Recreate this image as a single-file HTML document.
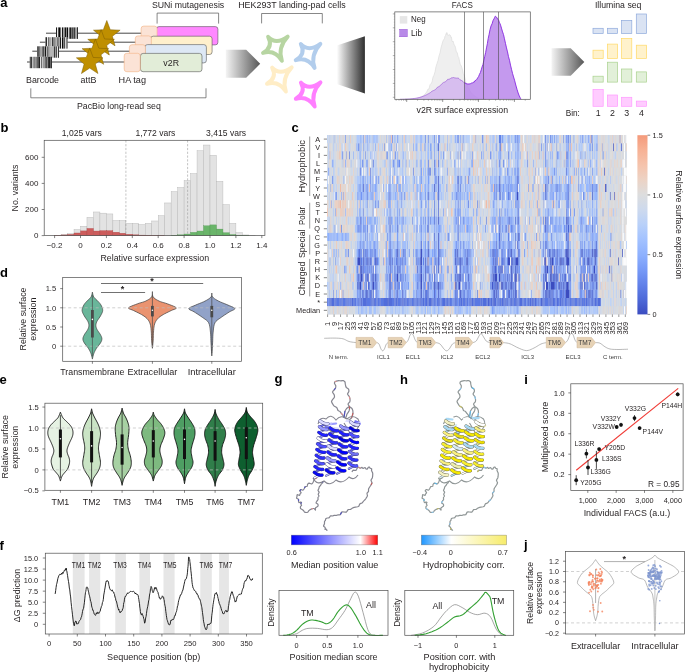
<!DOCTYPE html>
<html><head><meta charset="utf-8"><title>Figure</title>
<style>
html,body{margin:0;padding:0;background:#fff;width:685px;height:672px;overflow:hidden}
svg{display:block;font-family:"Liberation Sans", Arial, sans-serif;font-size:8.8px;fill:#231f20}
</style></head><body>
<svg width="685" height="672" viewBox="0 0 685 672">
<defs><linearGradient id="ga1" x1="0" x2="1" y1="0" y2="0"><stop offset="0" stop-color="#f4f4f4"/><stop offset="1" stop-color="#575757"/></linearGradient><linearGradient id="ga2" x1="0" x2="1" y1="0" y2="0"><stop offset="0" stop-color="#ffffff"/><stop offset="1" stop-color="#2e2e2e"/></linearGradient></defs>
<text x="0.2" y="6.8" font-weight="bold" font-size="13" fill="#000">a</text>
<line x1="46" y1="33.2" x2="142.1" y2="33.2" stroke="#262626" stroke-width="0.85"/>
<line x1="39.9" y1="42.2" x2="136.3" y2="42.2" stroke="#262626" stroke-width="0.85"/>
<line x1="32.3" y1="51.2" x2="130.4" y2="51.2" stroke="#262626" stroke-width="0.85"/>
<line x1="27" y1="62" x2="125.2" y2="62" stroke="#262626" stroke-width="0.85"/>
<rect x="56" y="27.4" width="22" height="11.4" fill="#fff"/>
<rect x="56" y="27.4" width="1.1" height="11.4" fill="rgb(30,30,30)"/>
<rect x="58" y="27.4" width="0.7" height="11.4" fill="rgb(20,20,20)"/>
<rect x="58.9" y="27.4" width="1.1" height="11.4" fill="rgb(10,10,10)"/>
<rect x="60.4" y="27.4" width="0.7" height="11.4" fill="rgb(20,20,20)"/>
<rect x="62" y="27.4" width="1.3" height="11.4" fill="rgb(20,20,20)"/>
<rect x="63.7" y="27.4" width="0.7" height="11.4" fill="rgb(110,110,110)"/>
<rect x="64.6" y="27.4" width="1.6" height="11.4" fill="rgb(20,20,20)"/>
<rect x="66.6" y="27.4" width="1.6" height="11.4" fill="rgb(10,10,10)"/>
<rect x="69.1" y="27.4" width="0.7" height="11.4" fill="rgb(40,40,40)"/>
<rect x="70" y="27.4" width="1.6" height="11.4" fill="rgb(30,30,30)"/>
<rect x="72.2" y="27.4" width="1.3" height="11.4" fill="rgb(30,30,30)"/>
<rect x="73.7" y="27.4" width="1.6" height="11.4" fill="rgb(60,60,60)"/>
<rect x="75.7" y="27.4" width="0.7" height="11.4" fill="rgb(40,40,40)"/>
<rect x="77" y="27.4" width="0.7" height="11.4" fill="rgb(20,20,20)"/>
<rect x="77.2" y="27.4" width="0.8" height="11.4" fill="#222"/>
<rect x="45.5" y="37.2" width="22" height="11.4" fill="#fff"/>
<rect x="45.5" y="37.2" width="1.6" height="11.4" fill="rgb(40,40,40)"/>
<rect x="48" y="37.2" width="1.6" height="11.4" fill="rgb(110,110,110)"/>
<rect x="50.2" y="37.2" width="1.3" height="11.4" fill="rgb(150,150,150)"/>
<rect x="52.1" y="37.2" width="1.1" height="11.4" fill="rgb(40,40,40)"/>
<rect x="53.6" y="37.2" width="0.9" height="11.4" fill="rgb(20,20,20)"/>
<rect x="55.1" y="37.2" width="1.6" height="11.4" fill="rgb(150,150,150)"/>
<rect x="57.3" y="37.2" width="1.3" height="11.4" fill="rgb(60,60,60)"/>
<rect x="58.8" y="37.2" width="0.7" height="11.4" fill="rgb(110,110,110)"/>
<rect x="59.9" y="37.2" width="1.1" height="11.4" fill="rgb(30,30,30)"/>
<rect x="61.9" y="37.2" width="1.3" height="11.4" fill="rgb(10,10,10)"/>
<rect x="63.4" y="37.2" width="1.6" height="11.4" fill="rgb(80,80,80)"/>
<rect x="65.6" y="37.2" width="1.1" height="11.4" fill="rgb(150,150,150)"/>
<rect x="66.7" y="37.2" width="0.8" height="11.4" fill="#222"/>
<rect x="37" y="46.3" width="22" height="11.4" fill="#fff"/>
<rect x="37" y="46.3" width="0.7" height="11.4" fill="rgb(20,20,20)"/>
<rect x="38.3" y="46.3" width="1.3" height="11.4" fill="rgb(20,20,20)"/>
<rect x="39.8" y="46.3" width="1.1" height="11.4" fill="rgb(150,150,150)"/>
<rect x="41.5" y="46.3" width="1.3" height="11.4" fill="rgb(80,80,80)"/>
<rect x="43" y="46.3" width="1.3" height="11.4" fill="rgb(80,80,80)"/>
<rect x="44.7" y="46.3" width="1.6" height="11.4" fill="rgb(20,20,20)"/>
<rect x="47.2" y="46.3" width="0.7" height="11.4" fill="rgb(40,40,40)"/>
<rect x="48.5" y="46.3" width="0.9" height="11.4" fill="rgb(40,40,40)"/>
<rect x="50.3" y="46.3" width="1.3" height="11.4" fill="rgb(150,150,150)"/>
<rect x="51.8" y="46.3" width="0.9" height="11.4" fill="rgb(150,150,150)"/>
<rect x="53.6" y="46.3" width="1.6" height="11.4" fill="rgb(60,60,60)"/>
<rect x="55.6" y="46.3" width="1.3" height="11.4" fill="rgb(60,60,60)"/>
<rect x="57.8" y="46.3" width="1.1" height="11.4" fill="rgb(110,110,110)"/>
<rect x="58.2" y="46.3" width="0.8" height="11.4" fill="#222"/>
<rect x="29.8" y="56.8" width="22" height="11.4" fill="#fff"/>
<rect x="29.8" y="56.8" width="0.9" height="11.4" fill="rgb(20,20,20)"/>
<rect x="31.1" y="56.8" width="0.9" height="11.4" fill="rgb(40,40,40)"/>
<rect x="32.4" y="56.8" width="0.7" height="11.4" fill="rgb(150,150,150)"/>
<rect x="33.5" y="56.8" width="1.1" height="11.4" fill="rgb(60,60,60)"/>
<rect x="34.8" y="56.8" width="0.9" height="11.4" fill="rgb(110,110,110)"/>
<rect x="36.3" y="56.8" width="1.6" height="11.4" fill="rgb(80,80,80)"/>
<rect x="38.3" y="56.8" width="1.6" height="11.4" fill="rgb(10,10,10)"/>
<rect x="40.8" y="56.8" width="1.6" height="11.4" fill="rgb(110,110,110)"/>
<rect x="43.3" y="56.8" width="1.3" height="11.4" fill="rgb(110,110,110)"/>
<rect x="44.8" y="56.8" width="1.3" height="11.4" fill="rgb(110,110,110)"/>
<rect x="46.3" y="56.8" width="0.9" height="11.4" fill="rgb(20,20,20)"/>
<rect x="47.6" y="56.8" width="1.3" height="11.4" fill="rgb(30,30,30)"/>
<rect x="49.1" y="56.8" width="1.1" height="11.4" fill="rgb(10,10,10)"/>
<rect x="50.4" y="56.8" width="0.7" height="11.4" fill="rgb(30,30,30)"/>
<rect x="51.3" y="56.8" width="0.5" height="11.4" fill="rgb(10,10,10)"/>
<rect x="51" y="56.8" width="0.8" height="11.4" fill="#222"/>
<path d="M106.8,20.5 110.26,29.74 120.11,30.17 112.39,36.32 115.03,45.83 106.8,40.38 98.57,45.83 101.21,36.32 93.49,30.17 103.34,29.74Z" fill="#bf8f00" stroke="#7d5c00" stroke-width="0.5"/>
<path d="M101.1,29.7 104.56,38.94 114.41,39.37 106.69,45.52 109.33,55.03 101.1,49.58 92.87,55.03 95.51,45.52 87.79,39.37 97.64,38.94Z" fill="#bf8f00" stroke="#7d5c00" stroke-width="0.5"/>
<path d="M95.4,39 98.86,48.24 108.71,48.67 100.99,54.82 103.63,64.33 95.4,58.88 87.17,64.33 89.81,54.82 82.09,48.67 91.94,48.24Z" fill="#bf8f00" stroke="#7d5c00" stroke-width="0.5"/>
<path d="M89.7,48.2 93.16,57.44 103.01,57.87 95.29,64.02 97.93,73.53 89.7,68.08 81.47,73.53 84.11,64.02 76.39,57.87 86.24,57.44Z" fill="#bf8f00" stroke="#7d5c00" stroke-width="0.5"/>
<rect x="156.4" y="26.6" width="61.5" height="18.3" fill="#ff88ff" rx="2.6" stroke="#595959" stroke-width="0.6"/>
<rect x="141.1" y="26.1" width="16" height="18.4" fill="#fbe3d6" rx="2.6" stroke="#f4b183" stroke-width="0.6"/>
<rect x="150.6" y="36.2" width="61.5" height="18.3" fill="#fff0cc" rx="2.6" stroke="#595959" stroke-width="0.6"/>
<rect x="135.3" y="35.9" width="16" height="18.4" fill="#fbe3d6" rx="2.6" stroke="#f4b183" stroke-width="0.6"/>
<rect x="144.9" y="44.6" width="61.5" height="18.3" fill="#dde8f5" rx="2.6" stroke="#595959" stroke-width="0.6"/>
<rect x="129.4" y="44.7" width="16" height="18.4" fill="#fbe3d6" rx="2.6" stroke="#f4b183" stroke-width="0.6"/>
<rect x="140.5" y="53.4" width="61.5" height="18.3" fill="#e2edd8" rx="2.6" stroke="#595959" stroke-width="0.6"/>
<rect x="124.2" y="53.3" width="16" height="18.4" fill="#fbe3d6" rx="2.6" stroke="#f4b183" stroke-width="0.6"/>
<text x="171.2" y="66.2" text-anchor="middle">v2R</text>
<text x="26" y="83" textLength="33" lengthAdjust="spacingAndGlyphs">Barcode</text>
<text x="80.6" y="83" textLength="15.8" lengthAdjust="spacingAndGlyphs">attB</text>
<text x="118.6" y="83" textLength="27.4" lengthAdjust="spacingAndGlyphs">HA tag</text>
<path d="M157.1,23.6V13.1H218.6V23.6" fill="none" stroke="#555555" stroke-width="0.7"/>
<path d="M261.6,23.4V13.5H322.3V23.4" fill="none" stroke="#555555" stroke-width="0.7"/>
<path d="M30.8,88.3V97.8H206V88.3" fill="none" stroke="#555555" stroke-width="0.7"/>
<text x="151.9" y="8.4" textLength="72.3" lengthAdjust="spacingAndGlyphs">SUNi mutagenesis</text>
<text x="238.2" y="8.4" textLength="107.5" lengthAdjust="spacingAndGlyphs">HEK293T landing-pad cells</text>
<text x="118.9" y="108.6" text-anchor="middle" textLength="83.8" lengthAdjust="spacingAndGlyphs">PacBio long-read seq</text>
<path d="M225.8,49.8 246.2,49.8 260.2,63.8 246.2,77.8 225.8,77.8Z" fill="url(#ga1)"/>
<path d="M268.1,36.8Q275.98,45.26 287.7,36.6Q277.36,47.66 281.9,60.8Q274.89,49.3 263,53Q273.51,46.9 268.1,36.8Z" fill="none" stroke="#b7d5a2" stroke-width="3.9" stroke-linejoin="round"/>
<path d="M300.8,44Q308.68,52.46 320.4,43.8Q310.06,54.86 314.6,68Q307.59,56.5 295.7,60.2Q306.21,54.1 300.8,44Z" fill="none" stroke="#b2cdec" stroke-width="3.9" stroke-linejoin="round"/>
<path d="M272.1,67.6Q279.98,76.06 291.7,67.4Q281.36,78.46 285.9,91.6Q278.89,80.1 267,83.8Q277.51,77.7 272.1,67.6Z" fill="none" stroke="#ffedc6" stroke-width="3.9" stroke-linejoin="round"/>
<path d="M300.9,82.6Q308.78,91.06 320.5,82.4Q310.16,93.46 314.7,106.6Q307.69,95.1 295.8,98.8Q306.31,92.7 300.9,82.6Z" fill="none" stroke="#ff7fff" stroke-width="3.9" stroke-linejoin="round"/>
<path d="M336.8,45.6 364.9,36.2 364.9,93.5 336.8,84.1Z" fill="url(#ga2)"/>
<text x="462.3" y="8.4" text-anchor="middle" textLength="21" lengthAdjust="spacingAndGlyphs">FACS</text>
<path d="M405,99.3 406.89,99.2 409.62,99.05 412.55,98.85 415,98.6 416.8,98.32 418.31,98.01 419.66,97.59 421,97 422.34,96.24 423.62,95.34 424.84,94.27 426,92.9 427.07,91.23 428.06,89 429.02,89.05 430,84.72 431,83.63 432,82.04 433,77.04 434,75.14 435,71.83 436,66.56 437,63.53 438,60.53 439.02,55.98 440.06,52.71 441.07,47.44 442,44.32 442.85,41.16 443.64,39.74 444.36,38.75 445,36.24 445.54,35.53 445.98,33.76 446.39,34.3 446.8,32.46 447.23,33.18 447.64,34.77 448.06,35.59 448.5,35.3 448.98,34.55 449.48,34.96 449.99,34.84 450.5,35.43 450.99,37.71 451.47,37.37 451.96,40.58 452.5,41.99 453.08,41.2 453.69,43.43 454.33,45.24 455,45.76 455.71,48.82 456.47,52.31 457.24,52.6 458,56.25 458.75,57.44 459.5,61.14 460.25,64.5 461,65.23 461.75,67.24 462.5,69.98 463.25,73.67 464,74.75 464.75,77.31 465.5,80.74 466.25,84.08 467,84.79 467.73,86.48 468.44,88.64 469.18,88.62 470,91 470.91,92.27 471.88,93.45 472.91,94.53 474,95.5 475.13,96.36 476.31,97.12 477.59,97.77 479,98.3 480.77,98.7 482.81,98.97 484.7,99.16 486,99.3Z" fill="#efefef" stroke="#d8d8d8" stroke-width="0.6"/>
<clipPath id="clL"><rect x="390" y="0" width="74.3" height="100"/></clipPath>
<clipPath id="clR"><rect x="464.3" y="0" width="65" height="100"/></clipPath>
<path d="M400,99.3 401.84,99.24 404.5,99.17 407.41,99.06 410,98.9 412.16,98.7 414.19,98.47 416.12,98.18 418,97.8 419.82,97.35 421.56,96.83 423.27,96.22 425,95.5 426.75,94.64 428.5,93.67 430.25,92.69 432,91.17 433.77,90.43 435.56,89.52 437.32,87.33 439,86.56 440.59,85.31 442.12,83.52 443.59,82.38 445,81.99 446.34,81.05 447.62,79.35 448.84,79.25 450,78.95 451.07,77.87 452.06,78.04 453.02,77.38 454,77.67 455,77.97 456,77.94 457,78.28 458,77.89 459,78.62 460,79.77 461,80.19 462,80.75 463.02,81.43 464.06,82.81 465.07,83.13 466,83.12 466.81,84.22 467.53,83.92 468.24,84.07 469,83.81 469.84,83.93 470.72,83.59 471.61,83.03 472.5,83.13 473.38,82.05 474.25,82.06 475.12,80.5 476,80.28 476.88,79.23 477.75,77.72 478.62,76.49 479.5,74.25 480.38,72.59 481.25,69.83 482.12,66.86 483,64.46 483.88,60.33 484.75,56.34 485.62,52.63 486.5,47.87 487.36,43.66 488.22,38.39 489.09,34.43 490,29.76 491.02,25.99 492.12,23.71 493.16,20.21 494,18.95 494.54,17.79 494.88,16.93 495.15,16.27 495.5,16.36 495.95,16.61 496.44,17.09 496.95,17.84 497.5,18.97 498.07,19.33 498.66,20.31 499.29,22.21 500,23.64 500.79,25.81 501.66,28.84 502.57,31.9 503.5,34.57 504.46,38.78 505.47,43.33 506.49,47.87 507.5,51.88 508.5,56.68 509.5,60.29 510.5,65.11 511.5,69.27 512.52,73.39 513.56,76.93 514.57,80.25 515.5,84 516.33,86.96 517.09,89.61 517.81,91.95 518.5,94 519.22,95.78 519.94,97.28 520.56,98.46 521,99.3Z" fill="#c9a3ee" clip-path="url(#clL)" fill-opacity="0.65"/>
<path d="M400,99.3 401.84,99.24 404.5,99.17 407.41,99.06 410,98.9 412.16,98.7 414.19,98.47 416.12,98.18 418,97.8 419.82,97.35 421.56,96.83 423.27,96.22 425,95.5 426.75,94.64 428.5,93.67 430.25,92.69 432,91.17 433.77,90.43 435.56,89.52 437.32,87.33 439,86.56 440.59,85.31 442.12,83.52 443.59,82.38 445,81.99 446.34,81.05 447.62,79.35 448.84,79.25 450,78.95 451.07,77.87 452.06,78.04 453.02,77.38 454,77.67 455,77.97 456,77.94 457,78.28 458,77.89 459,78.62 460,79.77 461,80.19 462,80.75 463.02,81.43 464.06,82.81 465.07,83.13 466,83.12 466.81,84.22 467.53,83.92 468.24,84.07 469,83.81 469.84,83.93 470.72,83.59 471.61,83.03 472.5,83.13 473.38,82.05 474.25,82.06 475.12,80.5 476,80.28 476.88,79.23 477.75,77.72 478.62,76.49 479.5,74.25 480.38,72.59 481.25,69.83 482.12,66.86 483,64.46 483.88,60.33 484.75,56.34 485.62,52.63 486.5,47.87 487.36,43.66 488.22,38.39 489.09,34.43 490,29.76 491.02,25.99 492.12,23.71 493.16,20.21 494,18.95 494.54,17.79 494.88,16.93 495.15,16.27 495.5,16.36 495.95,16.61 496.44,17.09 496.95,17.84 497.5,18.97 498.07,19.33 498.66,20.31 499.29,22.21 500,23.64 500.79,25.81 501.66,28.84 502.57,31.9 503.5,34.57 504.46,38.78 505.47,43.33 506.49,47.87 507.5,51.88 508.5,56.68 509.5,60.29 510.5,65.11 511.5,69.27 512.52,73.39 513.56,76.93 514.57,80.25 515.5,84 516.33,86.96 517.09,89.61 517.81,91.95 518.5,94 519.22,95.78 519.94,97.28 520.56,98.46 521,99.3Z" fill="#b782ea" clip-path="url(#clR)" fill-opacity="0.82"/>
<path d="M400,99.3 401.84,99.24 404.5,99.17 407.41,99.06 410,98.9 412.16,98.7 414.19,98.47 416.12,98.18 418,97.8 419.82,97.35 421.56,96.83 423.27,96.22 425,95.5 426.75,94.64 428.5,93.67 430.25,92.69 432,91.17 433.77,90.43 435.56,89.52 437.32,87.33 439,86.56 440.59,85.31 442.12,83.52 443.59,82.38 445,81.99 446.34,81.05 447.62,79.35 448.84,79.25 450,78.95 451.07,77.87 452.06,78.04 453.02,77.38 454,77.67 455,77.97 456,77.94 457,78.28 458,77.89 459,78.62 460,79.77 461,80.19 462,80.75 463.02,81.43 464.06,82.81 465.07,83.13 466,83.12 466.81,84.22 467.53,83.92 468.24,84.07 469,83.81 469.84,83.93 470.72,83.59 471.61,83.03 472.5,83.13 473.38,82.05 474.25,82.06 475.12,80.5 476,80.28 476.88,79.23 477.75,77.72 478.62,76.49 479.5,74.25 480.38,72.59 481.25,69.83 482.12,66.86 483,64.46 483.88,60.33 484.75,56.34 485.62,52.63 486.5,47.87 487.36,43.66 488.22,38.39 489.09,34.43 490,29.76 491.02,25.99 492.12,23.71 493.16,20.21 494,18.95 494.54,17.79 494.88,16.93 495.15,16.27 495.5,16.36 495.95,16.61 496.44,17.09 496.95,17.84 497.5,18.97 498.07,19.33 498.66,20.31 499.29,22.21 500,23.64 500.79,25.81 501.66,28.84 502.57,31.9 503.5,34.57 504.46,38.78 505.47,43.33 506.49,47.87 507.5,51.88 508.5,56.68 509.5,60.29 510.5,65.11 511.5,69.27 512.52,73.39 513.56,76.93 514.57,80.25 515.5,84 516.33,86.96 517.09,89.61 517.81,91.95 518.5,94 519.22,95.78 519.94,97.28 520.56,98.46 521,99.3" fill="none" stroke="#8a3fd1" stroke-width="0.5" clip-path="url(#clL)"/>
<path d="M400,99.3 401.84,99.24 404.5,99.17 407.41,99.06 410,98.9 412.16,98.7 414.19,98.47 416.12,98.18 418,97.8 419.82,97.35 421.56,96.83 423.27,96.22 425,95.5 426.75,94.64 428.5,93.67 430.25,92.69 432,91.17 433.77,90.43 435.56,89.52 437.32,87.33 439,86.56 440.59,85.31 442.12,83.52 443.59,82.38 445,81.99 446.34,81.05 447.62,79.35 448.84,79.25 450,78.95 451.07,77.87 452.06,78.04 453.02,77.38 454,77.67 455,77.97 456,77.94 457,78.28 458,77.89 459,78.62 460,79.77 461,80.19 462,80.75 463.02,81.43 464.06,82.81 465.07,83.13 466,83.12 466.81,84.22 467.53,83.92 468.24,84.07 469,83.81 469.84,83.93 470.72,83.59 471.61,83.03 472.5,83.13 473.38,82.05 474.25,82.06 475.12,80.5 476,80.28 476.88,79.23 477.75,77.72 478.62,76.49 479.5,74.25 480.38,72.59 481.25,69.83 482.12,66.86 483,64.46 483.88,60.33 484.75,56.34 485.62,52.63 486.5,47.87 487.36,43.66 488.22,38.39 489.09,34.43 490,29.76 491.02,25.99 492.12,23.71 493.16,20.21 494,18.95 494.54,17.79 494.88,16.93 495.15,16.27 495.5,16.36 495.95,16.61 496.44,17.09 496.95,17.84 497.5,18.97 498.07,19.33 498.66,20.31 499.29,22.21 500,23.64 500.79,25.81 501.66,28.84 502.57,31.9 503.5,34.57 504.46,38.78 505.47,43.33 506.49,47.87 507.5,51.88 508.5,56.68 509.5,60.29 510.5,65.11 511.5,69.27 512.52,73.39 513.56,76.93 514.57,80.25 515.5,84 516.33,86.96 517.09,89.61 517.81,91.95 518.5,94 519.22,95.78 519.94,97.28 520.56,98.46 521,99.3" fill="none" stroke="#8628df" stroke-width="0.9" clip-path="url(#clR)"/>
<line x1="464.5" y1="11.9" x2="464.5" y2="99.3" stroke="#4a4a4a" stroke-width="0.6"/>
<line x1="483.5" y1="11.9" x2="483.5" y2="99.3" stroke="#4a4a4a" stroke-width="0.6"/>
<line x1="498.5" y1="11.9" x2="498.5" y2="99.3" stroke="#4a4a4a" stroke-width="0.6"/>
<rect x="394.8" y="11.9" width="135.5" height="87.4" fill="none" stroke="#555555" stroke-width="0.7"/>
<line x1="406.7" y1="99.3" x2="406.7" y2="101.9" stroke="#444" stroke-width="0.6"/>
<line x1="442.7" y1="99.3" x2="442.7" y2="101.9" stroke="#444" stroke-width="0.6"/>
<line x1="478.4" y1="99.3" x2="478.4" y2="101.9" stroke="#444" stroke-width="0.6"/>
<line x1="514.4" y1="99.3" x2="514.4" y2="101.9" stroke="#444" stroke-width="0.6"/>
<line x1="396.16" y1="99.3" x2="396.16" y2="100.7" stroke="#666" stroke-width="0.5"/>
<line x1="399.01" y1="99.3" x2="399.01" y2="100.7" stroke="#666" stroke-width="0.5"/>
<line x1="401.42" y1="99.3" x2="401.42" y2="100.7" stroke="#666" stroke-width="0.5"/>
<line x1="403.51" y1="99.3" x2="403.51" y2="100.7" stroke="#666" stroke-width="0.5"/>
<line x1="405.35" y1="99.3" x2="405.35" y2="100.7" stroke="#666" stroke-width="0.5"/>
<line x1="417.54" y1="99.3" x2="417.54" y2="100.7" stroke="#666" stroke-width="0.5"/>
<line x1="423.88" y1="99.3" x2="423.88" y2="100.7" stroke="#666" stroke-width="0.5"/>
<line x1="428.37" y1="99.3" x2="428.37" y2="100.7" stroke="#666" stroke-width="0.5"/>
<line x1="431.86" y1="99.3" x2="431.86" y2="100.7" stroke="#666" stroke-width="0.5"/>
<line x1="434.71" y1="99.3" x2="434.71" y2="100.7" stroke="#666" stroke-width="0.5"/>
<line x1="437.12" y1="99.3" x2="437.12" y2="100.7" stroke="#666" stroke-width="0.5"/>
<line x1="439.21" y1="99.3" x2="439.21" y2="100.7" stroke="#666" stroke-width="0.5"/>
<line x1="441.05" y1="99.3" x2="441.05" y2="100.7" stroke="#666" stroke-width="0.5"/>
<line x1="453.54" y1="99.3" x2="453.54" y2="100.7" stroke="#666" stroke-width="0.5"/>
<line x1="459.88" y1="99.3" x2="459.88" y2="100.7" stroke="#666" stroke-width="0.5"/>
<line x1="464.37" y1="99.3" x2="464.37" y2="100.7" stroke="#666" stroke-width="0.5"/>
<line x1="467.86" y1="99.3" x2="467.86" y2="100.7" stroke="#666" stroke-width="0.5"/>
<line x1="470.71" y1="99.3" x2="470.71" y2="100.7" stroke="#666" stroke-width="0.5"/>
<line x1="473.12" y1="99.3" x2="473.12" y2="100.7" stroke="#666" stroke-width="0.5"/>
<line x1="475.21" y1="99.3" x2="475.21" y2="100.7" stroke="#666" stroke-width="0.5"/>
<line x1="477.05" y1="99.3" x2="477.05" y2="100.7" stroke="#666" stroke-width="0.5"/>
<line x1="489.24" y1="99.3" x2="489.24" y2="100.7" stroke="#666" stroke-width="0.5"/>
<line x1="495.58" y1="99.3" x2="495.58" y2="100.7" stroke="#666" stroke-width="0.5"/>
<line x1="500.07" y1="99.3" x2="500.07" y2="100.7" stroke="#666" stroke-width="0.5"/>
<line x1="503.56" y1="99.3" x2="503.56" y2="100.7" stroke="#666" stroke-width="0.5"/>
<line x1="506.41" y1="99.3" x2="506.41" y2="100.7" stroke="#666" stroke-width="0.5"/>
<line x1="508.82" y1="99.3" x2="508.82" y2="100.7" stroke="#666" stroke-width="0.5"/>
<line x1="510.91" y1="99.3" x2="510.91" y2="100.7" stroke="#666" stroke-width="0.5"/>
<line x1="512.75" y1="99.3" x2="512.75" y2="100.7" stroke="#666" stroke-width="0.5"/>
<line x1="525.24" y1="99.3" x2="525.24" y2="100.7" stroke="#666" stroke-width="0.5"/>
<line x1="392.8" y1="97.3" x2="394.8" y2="97.3" stroke="#666" stroke-width="0.5"/>
<line x1="393.8" y1="94.52" x2="394.8" y2="94.52" stroke="#888" stroke-width="0.4"/>
<line x1="393.8" y1="91.74" x2="394.8" y2="91.74" stroke="#888" stroke-width="0.4"/>
<line x1="393.8" y1="88.96" x2="394.8" y2="88.96" stroke="#888" stroke-width="0.4"/>
<line x1="393.8" y1="86.18" x2="394.8" y2="86.18" stroke="#888" stroke-width="0.4"/>
<line x1="392.8" y1="83.4" x2="394.8" y2="83.4" stroke="#666" stroke-width="0.5"/>
<line x1="393.8" y1="80.62" x2="394.8" y2="80.62" stroke="#888" stroke-width="0.4"/>
<line x1="393.8" y1="77.84" x2="394.8" y2="77.84" stroke="#888" stroke-width="0.4"/>
<line x1="393.8" y1="75.06" x2="394.8" y2="75.06" stroke="#888" stroke-width="0.4"/>
<line x1="393.8" y1="72.28" x2="394.8" y2="72.28" stroke="#888" stroke-width="0.4"/>
<line x1="392.8" y1="69.5" x2="394.8" y2="69.5" stroke="#666" stroke-width="0.5"/>
<line x1="393.8" y1="66.72" x2="394.8" y2="66.72" stroke="#888" stroke-width="0.4"/>
<line x1="393.8" y1="63.94" x2="394.8" y2="63.94" stroke="#888" stroke-width="0.4"/>
<line x1="393.8" y1="61.16" x2="394.8" y2="61.16" stroke="#888" stroke-width="0.4"/>
<line x1="393.8" y1="58.38" x2="394.8" y2="58.38" stroke="#888" stroke-width="0.4"/>
<line x1="392.8" y1="55.6" x2="394.8" y2="55.6" stroke="#666" stroke-width="0.5"/>
<line x1="393.8" y1="52.82" x2="394.8" y2="52.82" stroke="#888" stroke-width="0.4"/>
<line x1="393.8" y1="50.04" x2="394.8" y2="50.04" stroke="#888" stroke-width="0.4"/>
<line x1="393.8" y1="47.26" x2="394.8" y2="47.26" stroke="#888" stroke-width="0.4"/>
<line x1="393.8" y1="44.48" x2="394.8" y2="44.48" stroke="#888" stroke-width="0.4"/>
<line x1="392.8" y1="41.7" x2="394.8" y2="41.7" stroke="#666" stroke-width="0.5"/>
<line x1="393.8" y1="38.92" x2="394.8" y2="38.92" stroke="#888" stroke-width="0.4"/>
<line x1="393.8" y1="36.14" x2="394.8" y2="36.14" stroke="#888" stroke-width="0.4"/>
<line x1="393.8" y1="33.36" x2="394.8" y2="33.36" stroke="#888" stroke-width="0.4"/>
<line x1="393.8" y1="30.58" x2="394.8" y2="30.58" stroke="#888" stroke-width="0.4"/>
<line x1="392.8" y1="27.8" x2="394.8" y2="27.8" stroke="#666" stroke-width="0.5"/>
<line x1="393.8" y1="25.02" x2="394.8" y2="25.02" stroke="#888" stroke-width="0.4"/>
<line x1="393.8" y1="22.24" x2="394.8" y2="22.24" stroke="#888" stroke-width="0.4"/>
<line x1="393.8" y1="19.46" x2="394.8" y2="19.46" stroke="#888" stroke-width="0.4"/>
<line x1="393.8" y1="16.68" x2="394.8" y2="16.68" stroke="#888" stroke-width="0.4"/>
<line x1="392.8" y1="13.9" x2="394.8" y2="13.9" stroke="#666" stroke-width="0.5"/>
<rect x="399.8" y="16.1" width="7.5" height="7.5" fill="#e6e6e6"/>
<text x="411" y="22.4" textLength="14.6" lengthAdjust="spacingAndGlyphs">Neg</text>
<rect x="399.8" y="29.3" width="7.5" height="7.5" fill="#b88ae8" stroke="#8a3fd1" stroke-width="0.4"/>
<text x="411" y="35.8" textLength="11" lengthAdjust="spacingAndGlyphs">Lib</text>
<text x="462.3" y="113.4" text-anchor="middle" textLength="91.5" lengthAdjust="spacingAndGlyphs">v2R surface expression</text>
<path d="M551.5,48.2 570.7,48.2 584.3,62 570.7,75.8 551.5,75.8Z" fill="url(#ga1)"/>
<text x="618.2" y="8.4" text-anchor="middle" textLength="46.5" lengthAdjust="spacingAndGlyphs">Illumina seq</text>
<rect x="593" y="28.3" width="10.2" height="5.2" fill="#dae3f3" stroke="#8faadc" stroke-width="0.7"/>
<rect x="607.4" y="28.3" width="10.2" height="5.2" fill="#dae3f3" stroke="#8faadc" stroke-width="0.7"/>
<rect x="621.6" y="20.4" width="10.2" height="13.1" fill="#dae3f3" stroke="#8faadc" stroke-width="0.7"/>
<rect x="636.3" y="14" width="10.2" height="19.5" fill="#dae3f3" stroke="#8faadc" stroke-width="0.7"/>
<rect x="593" y="50.2" width="10.2" height="8.2" fill="#fff2cc" stroke="#ffd966" stroke-width="0.7"/>
<rect x="607.4" y="44.1" width="10.2" height="14.3" fill="#fff2cc" stroke="#ffd966" stroke-width="0.7"/>
<rect x="621.6" y="38.5" width="10.2" height="19.9" fill="#fff2cc" stroke="#ffd966" stroke-width="0.7"/>
<rect x="636.3" y="45.2" width="10.2" height="13.2" fill="#fff2cc" stroke="#ffd966" stroke-width="0.7"/>
<rect x="593" y="76.2" width="10.2" height="5.9" fill="#e2f0d9" stroke="#a9d18e" stroke-width="0.7"/>
<rect x="607.4" y="62.2" width="10.2" height="19.9" fill="#e2f0d9" stroke="#a9d18e" stroke-width="0.7"/>
<rect x="621.6" y="69" width="10.2" height="13.1" fill="#e2f0d9" stroke="#a9d18e" stroke-width="0.7"/>
<rect x="636.3" y="71.9" width="10.2" height="10.2" fill="#e2f0d9" stroke="#a9d18e" stroke-width="0.7"/>
<rect x="593" y="89.4" width="10.2" height="16.9" fill="#ffccff" stroke="#ff99ff" stroke-width="0.7"/>
<rect x="607.4" y="95" width="10.2" height="11.3" fill="#ffccff" stroke="#ff99ff" stroke-width="0.7"/>
<rect x="621.6" y="97.3" width="10.2" height="9" fill="#ffccff" stroke="#ff99ff" stroke-width="0.7"/>
<rect x="636.3" y="101.1" width="10.2" height="5.2" fill="#ffccff" stroke="#ff99ff" stroke-width="0.7"/>
<text x="565.7" y="115.6" textLength="14.2" lengthAdjust="spacingAndGlyphs">Bin:</text>
<text x="598.1" y="115.6" text-anchor="middle">1</text>
<text x="612.5" y="115.6" text-anchor="middle">2</text>
<text x="626.7" y="115.6" text-anchor="middle">3</text>
<text x="641.4" y="115.6" text-anchor="middle">4</text>
<text x="0.6" y="132.2" font-weight="bold" font-size="13" fill="#000">b</text>
<rect x="54.6" y="235.21" width="6.47" height="0.39" fill="#e3e3e3" stroke="#b3b3b3" stroke-width="0.4"/>
<rect x="61.08" y="234.56" width="6.47" height="1.04" fill="#e3e3e3" stroke="#b3b3b3" stroke-width="0.4"/>
<rect x="67.55" y="233.64" width="6.47" height="1.96" fill="#e3e3e3" stroke="#b3b3b3" stroke-width="0.4"/>
<rect x="74.03" y="229.47" width="6.47" height="6.13" fill="#e3e3e3" stroke="#b3b3b3" stroke-width="0.4"/>
<rect x="80.5" y="226.2" width="6.47" height="9.4" fill="#e3e3e3" stroke="#b3b3b3" stroke-width="0.4"/>
<rect x="86.97" y="217.33" width="6.47" height="18.27" fill="#e3e3e3" stroke="#b3b3b3" stroke-width="0.4"/>
<rect x="93.45" y="211.98" width="6.47" height="23.62" fill="#e3e3e3" stroke="#b3b3b3" stroke-width="0.4"/>
<rect x="99.92" y="213.15" width="6.47" height="22.45" fill="#e3e3e3" stroke="#b3b3b3" stroke-width="0.4"/>
<rect x="106.4" y="213.94" width="6.47" height="21.66" fill="#e3e3e3" stroke="#b3b3b3" stroke-width="0.4"/>
<rect x="112.88" y="220.46" width="6.47" height="15.14" fill="#e3e3e3" stroke="#b3b3b3" stroke-width="0.4"/>
<rect x="119.35" y="220.46" width="6.47" height="15.14" fill="#e3e3e3" stroke="#b3b3b3" stroke-width="0.4"/>
<rect x="125.82" y="223.33" width="6.47" height="12.27" fill="#e3e3e3" stroke="#b3b3b3" stroke-width="0.4"/>
<rect x="132.3" y="223.33" width="6.47" height="12.27" fill="#e3e3e3" stroke="#b3b3b3" stroke-width="0.4"/>
<rect x="138.78" y="224.64" width="6.47" height="10.96" fill="#e3e3e3" stroke="#b3b3b3" stroke-width="0.4"/>
<rect x="145.25" y="223.33" width="6.47" height="12.27" fill="#e3e3e3" stroke="#b3b3b3" stroke-width="0.4"/>
<rect x="151.73" y="220.98" width="6.47" height="14.62" fill="#e3e3e3" stroke="#b3b3b3" stroke-width="0.4"/>
<rect x="158.2" y="215.63" width="6.47" height="19.97" fill="#e3e3e3" stroke="#b3b3b3" stroke-width="0.4"/>
<rect x="164.68" y="202.97" width="6.47" height="32.62" fill="#e3e3e3" stroke="#b3b3b3" stroke-width="0.4"/>
<rect x="171.15" y="191.62" width="6.47" height="43.98" fill="#e3e3e3" stroke="#b3b3b3" stroke-width="0.4"/>
<rect x="177.62" y="187.45" width="6.47" height="48.15" fill="#e3e3e3" stroke="#b3b3b3" stroke-width="0.4"/>
<rect x="184.1" y="180.53" width="6.47" height="55.07" fill="#e3e3e3" stroke="#b3b3b3" stroke-width="0.4"/>
<rect x="190.57" y="173.61" width="6.47" height="61.99" fill="#e3e3e3" stroke="#b3b3b3" stroke-width="0.4"/>
<rect x="197.05" y="150.77" width="6.47" height="84.83" fill="#e3e3e3" stroke="#b3b3b3" stroke-width="0.4"/>
<rect x="203.52" y="145.03" width="6.47" height="90.57" fill="#e3e3e3" stroke="#b3b3b3" stroke-width="0.4"/>
<rect x="210" y="155.21" width="6.47" height="80.39" fill="#e3e3e3" stroke="#b3b3b3" stroke-width="0.4"/>
<rect x="216.47" y="181.31" width="6.47" height="54.29" fill="#e3e3e3" stroke="#b3b3b3" stroke-width="0.4"/>
<rect x="222.95" y="204.67" width="6.47" height="30.93" fill="#e3e3e3" stroke="#b3b3b3" stroke-width="0.4"/>
<rect x="229.42" y="223.33" width="6.47" height="12.27" fill="#e3e3e3" stroke="#b3b3b3" stroke-width="0.4"/>
<rect x="235.9" y="232.73" width="6.47" height="2.87" fill="#e3e3e3" stroke="#b3b3b3" stroke-width="0.4"/>
<rect x="242.38" y="234.95" width="6.47" height="0.65" fill="#e3e3e3" stroke="#b3b3b3" stroke-width="0.4"/>
<rect x="248.85" y="235.21" width="6.47" height="0.39" fill="#e3e3e3" stroke="#b3b3b3" stroke-width="0.4"/>
<rect x="54.6" y="235.34" width="6.47" height="0.26" fill="#cd5c5c" stroke="#a94444" stroke-width="0.3"/>
<rect x="61.08" y="234.95" width="6.47" height="0.65" fill="#cd5c5c" stroke="#a94444" stroke-width="0.3"/>
<rect x="67.55" y="234.43" width="6.47" height="1.17" fill="#cd5c5c" stroke="#a94444" stroke-width="0.3"/>
<rect x="74.03" y="232.99" width="6.47" height="2.61" fill="#cd5c5c" stroke="#a94444" stroke-width="0.3"/>
<rect x="80.5" y="230.9" width="6.47" height="4.7" fill="#cd5c5c" stroke="#a94444" stroke-width="0.3"/>
<rect x="86.97" y="228.42" width="6.47" height="7.18" fill="#cd5c5c" stroke="#a94444" stroke-width="0.3"/>
<rect x="93.45" y="231.03" width="6.47" height="4.57" fill="#cd5c5c" stroke="#a94444" stroke-width="0.3"/>
<rect x="99.92" y="230.64" width="6.47" height="4.96" fill="#cd5c5c" stroke="#a94444" stroke-width="0.3"/>
<rect x="106.4" y="230.64" width="6.47" height="4.96" fill="#cd5c5c" stroke="#a94444" stroke-width="0.3"/>
<rect x="112.88" y="232.21" width="6.47" height="3.39" fill="#cd5c5c" stroke="#a94444" stroke-width="0.3"/>
<rect x="119.35" y="233.25" width="6.47" height="2.35" fill="#cd5c5c" stroke="#a94444" stroke-width="0.3"/>
<rect x="125.82" y="234.29" width="6.47" height="1.31" fill="#cd5c5c" stroke="#a94444" stroke-width="0.3"/>
<rect x="132.3" y="234.82" width="6.47" height="0.78" fill="#cd5c5c" stroke="#a94444" stroke-width="0.3"/>
<rect x="138.78" y="235.08" width="6.47" height="0.52" fill="#cd5c5c" stroke="#a94444" stroke-width="0.3"/>
<rect x="145.25" y="235.21" width="6.47" height="0.39" fill="#cd5c5c" stroke="#a94444" stroke-width="0.3"/>
<rect x="151.73" y="235.34" width="6.47" height="0.26" fill="#cd5c5c" stroke="#a94444" stroke-width="0.3"/>
<rect x="158.2" y="235.34" width="6.47" height="0.26" fill="#cd5c5c" stroke="#a94444" stroke-width="0.3"/>
<rect x="171.15" y="235.21" width="6.47" height="0.39" fill="#6ab56a" stroke="#4d944d" stroke-width="0.3"/>
<rect x="177.62" y="234.82" width="6.47" height="0.78" fill="#6ab56a" stroke="#4d944d" stroke-width="0.3"/>
<rect x="184.1" y="234.03" width="6.47" height="1.57" fill="#6ab56a" stroke="#4d944d" stroke-width="0.3"/>
<rect x="190.57" y="232.34" width="6.47" height="3.26" fill="#6ab56a" stroke="#4d944d" stroke-width="0.3"/>
<rect x="197.05" y="231.03" width="6.47" height="4.57" fill="#6ab56a" stroke="#4d944d" stroke-width="0.3"/>
<rect x="203.52" y="225.81" width="6.47" height="9.79" fill="#6ab56a" stroke="#4d944d" stroke-width="0.3"/>
<rect x="210" y="224.9" width="6.47" height="10.7" fill="#6ab56a" stroke="#4d944d" stroke-width="0.3"/>
<rect x="216.47" y="229.07" width="6.47" height="6.53" fill="#6ab56a" stroke="#4d944d" stroke-width="0.3"/>
<rect x="222.95" y="232.73" width="6.47" height="2.87" fill="#6ab56a" stroke="#4d944d" stroke-width="0.3"/>
<rect x="229.42" y="234.56" width="6.47" height="1.04" fill="#6ab56a" stroke="#4d944d" stroke-width="0.3"/>
<rect x="235.9" y="235.21" width="6.47" height="0.39" fill="#6ab56a" stroke="#4d944d" stroke-width="0.3"/>
<rect x="242.38" y="235.34" width="6.47" height="0.26" fill="#6ab56a" stroke="#4d944d" stroke-width="0.3"/>
<line x1="125.9" y1="140.3" x2="125.9" y2="235.6" stroke="#9a9a9a" stroke-width="0.6" stroke-dasharray="2.2,1.6"/>
<line x1="187.6" y1="140.3" x2="187.6" y2="235.6" stroke="#9a9a9a" stroke-width="0.6" stroke-dasharray="2.2,1.6"/>
<rect x="44.2" y="140.3" width="220.7" height="95.3" fill="none" stroke="#4d4d4d" stroke-width="0.7"/>
<line x1="41.7" y1="235.6" x2="44.2" y2="235.6" stroke="#333" stroke-width="0.6"/>
<text x="38.4" y="238.4" text-anchor="end" font-size="8">0</text>
<line x1="41.7" y1="209.5" x2="44.2" y2="209.5" stroke="#333" stroke-width="0.6"/>
<text x="38.4" y="212.3" text-anchor="end" font-size="8">200</text>
<line x1="41.7" y1="183.4" x2="44.2" y2="183.4" stroke="#333" stroke-width="0.6"/>
<text x="38.4" y="186.2" text-anchor="end" font-size="8">400</text>
<line x1="41.7" y1="157.3" x2="44.2" y2="157.3" stroke="#333" stroke-width="0.6"/>
<text x="38.4" y="160.1" text-anchor="end" font-size="8">600</text>
<line x1="54.6" y1="235.6" x2="54.6" y2="238.1" stroke="#333" stroke-width="0.6"/>
<text x="54.6" y="248.2" text-anchor="middle" font-size="8">−0.2</text>
<line x1="80.5" y1="235.6" x2="80.5" y2="238.1" stroke="#333" stroke-width="0.6"/>
<text x="80.5" y="248.2" text-anchor="middle" font-size="8">0</text>
<line x1="106.4" y1="235.6" x2="106.4" y2="238.1" stroke="#333" stroke-width="0.6"/>
<text x="106.4" y="248.2" text-anchor="middle" font-size="8">0.2</text>
<line x1="132.3" y1="235.6" x2="132.3" y2="238.1" stroke="#333" stroke-width="0.6"/>
<text x="132.3" y="248.2" text-anchor="middle" font-size="8">0.4</text>
<line x1="158.2" y1="235.6" x2="158.2" y2="238.1" stroke="#333" stroke-width="0.6"/>
<text x="158.2" y="248.2" text-anchor="middle" font-size="8">0.6</text>
<line x1="184.1" y1="235.6" x2="184.1" y2="238.1" stroke="#333" stroke-width="0.6"/>
<text x="184.1" y="248.2" text-anchor="middle" font-size="8">0.8</text>
<line x1="210" y1="235.6" x2="210" y2="238.1" stroke="#333" stroke-width="0.6"/>
<text x="210" y="248.2" text-anchor="middle" font-size="8">1.0</text>
<line x1="235.9" y1="235.6" x2="235.9" y2="238.1" stroke="#333" stroke-width="0.6"/>
<text x="235.9" y="248.2" text-anchor="middle" font-size="8">1.2</text>
<line x1="261.8" y1="235.6" x2="261.8" y2="238.1" stroke="#333" stroke-width="0.6"/>
<text x="261.8" y="248.2" text-anchor="middle" font-size="8">1.4</text>
<text x="100.4" y="261.2" textLength="108.8" lengthAdjust="spacingAndGlyphs">Relative surface expression</text>
<text x="18" y="188" text-anchor="middle" textLength="46.8" lengthAdjust="spacingAndGlyphs" transform="rotate(-90 18 188)">No. variants</text>
<text x="81.8" y="136.2" text-anchor="middle" textLength="40" lengthAdjust="spacingAndGlyphs">1,025 vars</text>
<text x="155.4" y="136.2" text-anchor="middle" textLength="40" lengthAdjust="spacingAndGlyphs">1,772 vars</text>
<text x="226.1" y="136.2" text-anchor="middle" textLength="40" lengthAdjust="spacingAndGlyphs">3,415 vars</text>
<text x="291.6" y="132.3" font-weight="bold" font-size="13" fill="#000">c</text>
<rect x="327.2" y="135" width="299.33" height="179.41" fill="#d3d6dd"/>
<g transform="translate(327.2,135) scale(0.81,8.15)"><path fill="#3b4cc0" d="M235,1h1v1h-1zM353,1h1v1h-1zM363,1h1v1h-1zM340,2h1v1h-1zM125,4h1v1h-1zM342,4h1v1h-1zM137,5h1v1h-1zM162,5h1v1h-1zM44,6h1v1h-1zM132,6h1v1h-1zM137,6h1v1h-1zM162,6h1v1h-1zM209,6h1v1h-1zM213,6h1v1h-1zM235,6h1v1h-1zM272,6h1v1h-1zM287,6h1v1h-1zM343,6h1v1h-1zM76,7h1v1h-1zM213,7h1v1h-1zM234,7h2v1h-2zM349,7h1v1h-1zM354,7h1v1h-1zM235,8h1v1h-1zM235,9h1v1h-1zM76,10h1v1h-1zM137,10h1v1h-1zM162,10h1v1h-1zM213,10h1v1h-1zM272,10h1v1h-1zM295,10h1v1h-1zM78,11h1v1h-1zM162,11h1v1h-1zM213,11h1v1h-1zM272,11h1v1h-1zM137,12h1v1h-1zM162,12h1v1h-1zM295,12h1v1h-1zM125,13h1v1h-1zM137,13h1v1h-1zM209,13h1v1h-1zM235,13h1v1h-1zM298,13h1v1h-1zM44,14h1v1h-1zM76,14h1v1h-1zM78,14h1v1h-1zM86,14h1v1h-1zM115,14h2v1h-2zM124,14h1v1h-1zM137,14h1v1h-1zM160,14h1v1h-1zM209,14h1v1h-1zM223,14h1v1h-1zM227,14h1v1h-1zM235,14h1v1h-1zM269,14h1v1h-1zM272,14h1v1h-1zM295,14h2v1h-2zM314,14h1v1h-1zM327,14h1v1h-1zM330,14h1v1h-1zM349,14h1v1h-1zM364,14h1v1h-1zM38,15h3v1h-3zM44,15h1v1h-1zM49,15h1v1h-1zM51,15h1v1h-1zM60,15h1v1h-1zM76,15h1v1h-1zM78,15h1v1h-1zM93,15h1v1h-1zM115,15h2v1h-2zM121,15h1v1h-1zM125,15h1v1h-1zM137,15h1v1h-1zM158,15h1v1h-1zM160,15h1v1h-1zM162,15h1v1h-1zM172,15h1v1h-1zM205,15h1v1h-1zM207,15h1v1h-1zM209,15h1v1h-1zM212,15h1v1h-1zM218,15h1v1h-1zM223,15h3v1h-3zM228,15h1v1h-1zM233,15h3v1h-3zM268,15h2v1h-2zM275,15h1v1h-1zM277,15h2v1h-2zM283,15h1v1h-1zM288,15h1v1h-1zM291,15h1v1h-1zM295,15h4v1h-4zM322,15h1v1h-1zM330,15h1v1h-1zM359,15h1v1h-1zM41,16h1v1h-1zM44,16h1v1h-1zM56,16h1v1h-1zM78,16h1v1h-1zM83,16h1v1h-1zM121,16h1v1h-1zM132,16h1v1h-1zM137,16h1v1h-1zM204,16h1v1h-1zM213,16h1v1h-1zM227,16h1v1h-1zM230,16h1v1h-1zM232,16h1v1h-1zM269,16h1v1h-1zM271,16h2v1h-2zM277,16h1v1h-1zM287,16h1v1h-1zM296,16h1v1h-1zM298,16h1v1h-1zM314,16h1v1h-1zM324,16h1v1h-1zM329,16h2v1h-2zM350,16h1v1h-1zM41,17h2v1h-2zM44,17h1v1h-1zM49,17h1v1h-1zM56,17h1v1h-1zM59,17h1v1h-1zM76,17h1v1h-1zM78,17h1v1h-1zM83,17h1v1h-1zM86,17h2v1h-2zM115,17h2v1h-2zM121,17h1v1h-1zM125,17h1v1h-1zM132,17h1v1h-1zM160,17h1v1h-1zM162,17h1v1h-1zM164,17h1v1h-1zM204,17h1v1h-1zM207,17h3v1h-3zM212,17h2v1h-2zM220,17h1v1h-1zM225,17h1v1h-1zM227,17h1v1h-1zM232,17h1v1h-1zM234,17h1v1h-1zM236,17h1v1h-1zM267,17h1v1h-1zM270,17h1v1h-1zM275,17h1v1h-1zM277,17h1v1h-1zM283,17h1v1h-1zM287,17h1v1h-1zM314,17h1v1h-1zM320,17h1v1h-1zM327,17h1v1h-1zM329,17h1v1h-1zM351,17h1v1h-1zM40,18h2v1h-2zM56,18h2v1h-2zM60,18h1v1h-1zM76,18h1v1h-1zM78,18h1v1h-1zM87,18h1v1h-1zM115,18h2v1h-2zM124,18h1v1h-1zM132,18h1v1h-1zM137,18h1v1h-1zM158,18h1v1h-1zM162,18h2v1h-2zM210,18h1v1h-1zM212,18h1v1h-1zM215,18h1v1h-1zM220,18h1v1h-1zM223,18h1v1h-1zM227,18h1v1h-1zM232,18h1v1h-1zM267,18h1v1h-1zM270,18h3v1h-3zM276,18h5v1h-5zM283,18h1v1h-1zM287,18h1v1h-1zM291,18h1v1h-1zM295,18h3v1h-3zM314,18h1v1h-1zM317,18h1v1h-1zM324,18h1v1h-1zM332,18h1v1h-1zM41,19h1v1h-1zM44,19h1v1h-1zM49,19h1v1h-1zM54,19h1v1h-1zM56,19h1v1h-1zM76,19h1v1h-1zM78,19h1v1h-1zM86,19h1v1h-1zM132,19h1v1h-1zM137,19h1v1h-1zM164,19h1v1h-1zM206,19h1v1h-1zM209,19h1v1h-1zM223,19h1v1h-1zM229,19h1v1h-1zM232,19h1v1h-1zM234,19h1v1h-1zM267,19h1v1h-1zM270,19h1v1h-1zM272,19h1v1h-1zM294,19h5v1h-5zM320,19h1v1h-1zM324,19h1v1h-1zM362,19h1v1h-1zM366,19h1v1h-1z"/><path fill="#4257ca" d="M235,0h1v1h-1zM361,0h1v1h-1zM137,1h1v1h-1zM272,1h1v1h-1zM269,6h1v1h-1zM324,6h1v1h-1zM125,7h1v1h-1zM327,7h1v1h-1zM162,8h1v1h-1zM56,9h1v1h-1zM340,9h1v1h-1zM41,10h1v1h-1zM236,10h1v1h-1zM76,11h1v1h-1zM223,11h1v1h-1zM269,11h1v1h-1zM235,12h1v1h-1zM232,13h1v1h-1zM125,14h1v1h-1zM158,14h1v1h-1zM274,14h1v1h-1zM283,14h1v1h-1zM298,14h1v1h-1zM331,14h1v1h-1zM59,15h1v1h-1zM110,15h1v1h-1zM123,15h1v1h-1zM134,15h1v1h-1zM164,15h1v1h-1zM173,15h1v1h-1zM287,15h1v1h-1zM313,15h1v1h-1zM317,15h1v1h-1zM321,15h1v1h-1zM324,15h1v1h-1zM331,15h1v1h-1zM42,16h1v1h-1zM86,16h1v1h-1zM93,16h1v1h-1zM134,16h1v1h-1zM164,16h1v1h-1zM215,16h2v1h-2zM276,16h1v1h-1zM348,16h1v1h-1zM167,17h1v1h-1zM174,17h1v1h-1zM205,17h1v1h-1zM231,17h1v1h-1zM269,17h1v1h-1zM276,17h1v1h-1zM279,17h1v1h-1zM292,17h1v1h-1zM331,17h1v1h-1zM37,18h1v1h-1zM45,18h1v1h-1zM136,18h1v1h-1zM171,18h1v1h-1zM203,18h2v1h-2zM207,18h1v1h-1zM209,18h1v1h-1zM216,18h1v1h-1zM268,18h1v1h-1zM286,18h1v1h-1zM289,18h1v1h-1zM83,19h1v1h-1zM116,19h1v1h-1zM121,19h1v1h-1zM124,19h1v1h-1zM208,19h1v1h-1zM218,19h1v1h-1zM274,19h1v1h-1zM283,19h1v1h-1zM291,19h1v1h-1z"/><path fill="#4a62d3" d="M224,0h1v1h-1zM297,0h1v1h-1zM209,1h1v1h-1zM137,3h1v1h-1zM235,4h1v1h-1zM234,5h1v1h-1zM277,5h1v1h-1zM212,6h1v1h-1zM277,6h1v1h-1zM344,6h1v1h-1zM137,7h1v1h-1zM267,7h1v1h-1zM137,8h1v1h-1zM44,9h1v1h-1zM137,9h1v1h-1zM78,10h1v1h-1zM93,10h1v1h-1zM134,10h1v1h-1zM232,10h1v1h-1zM267,10h1v1h-1zM269,10h1v1h-1zM297,11h2v1h-2zM327,11h1v1h-1zM132,12h1v1h-1zM236,12h1v1h-1zM350,12h1v1h-1zM212,13h1v1h-1zM332,13h1v1h-1zM49,14h1v1h-1zM56,14h1v1h-1zM87,14h1v1h-1zM173,14h1v1h-1zM176,14h1v1h-1zM204,14h1v1h-1zM278,14h1v1h-1zM294,14h1v1h-1zM297,14h1v1h-1zM324,14h1v1h-1zM329,14h1v1h-1zM332,14h1v1h-1zM37,15h1v1h-1zM53,15h1v1h-1zM80,15h1v1h-1zM232,15h1v1h-1zM289,15h1v1h-1zM111,16h1v1h-1zM115,16h2v1h-2zM124,16h1v1h-1zM159,16h1v1h-1zM207,16h2v1h-2zM218,16h1v1h-1zM234,16h1v1h-1zM280,16h1v1h-1zM283,16h1v1h-1zM38,17h1v1h-1zM51,17h1v1h-1zM57,17h1v1h-1zM158,17h1v1h-1zM163,17h1v1h-1zM222,17h1v1h-1zM233,17h1v1h-1zM280,17h1v1h-1zM282,17h1v1h-1zM312,17h1v1h-1zM317,17h1v1h-1zM326,17h1v1h-1zM48,18h1v1h-1zM134,18h1v1h-1zM139,18h1v1h-1zM159,18h1v1h-1zM214,18h1v1h-1zM225,18h1v1h-1zM230,18h1v1h-1zM233,18h1v1h-1zM274,18h1v1h-1zM293,18h1v1h-1zM298,18h1v1h-1zM315,18h1v1h-1zM48,19h1v1h-1zM93,19h1v1h-1zM115,19h1v1h-1zM160,19h1v1h-1zM269,19h1v1h-1zM276,19h1v1h-1zM278,19h1v1h-1zM323,19h1v1h-1zM327,19h1v1h-1zM4,20h1v1h-1zM42,20h1v1h-1zM58,20h1v1h-1zM74,20h2v1h-2zM93,20h1v1h-1zM114,20h1v1h-1zM129,20h1v1h-1zM176,20h1v1h-1zM198,20h2v1h-2zM205,20h2v1h-2zM219,20h1v1h-1zM229,20h1v1h-1zM253,20h1v1h-1zM264,20h2v1h-2zM276,20h1v1h-1z"/><path fill="#516ddb" d="M76,0h1v1h-1zM213,1h1v1h-1zM235,2h1v1h-1zM56,3h1v1h-1zM132,3h1v1h-1zM295,4h1v1h-1zM213,5h1v1h-1zM314,5h1v1h-1zM56,6h1v1h-1zM223,6h1v1h-1zM298,6h1v1h-1zM49,7h1v1h-1zM115,7h1v1h-1zM269,7h1v1h-1zM287,7h1v1h-1zM297,7h1v1h-1zM56,8h1v1h-1zM314,8h1v1h-1zM132,9h1v1h-1zM86,10h1v1h-1zM132,10h1v1h-1zM224,10h1v1h-1zM297,10h1v1h-1zM314,10h1v1h-1zM49,11h1v1h-1zM87,11h1v1h-1zM124,11h1v1h-1zM220,11h1v1h-1zM287,11h1v1h-1zM295,11h1v1h-1zM212,12h2v1h-2zM232,12h1v1h-1zM44,13h1v1h-1zM78,13h1v1h-1zM86,13h1v1h-1zM116,13h1v1h-1zM270,13h1v1h-1zM324,13h1v1h-1zM59,14h1v1h-1zM93,14h1v1h-1zM139,14h1v1h-1zM161,14h1v1h-1zM205,14h1v1h-1zM267,14h1v1h-1zM275,14h1v1h-1zM280,14h1v1h-1zM287,14h1v1h-1zM315,14h1v1h-1zM45,15h1v1h-1zM87,15h1v1h-1zM114,15h1v1h-1zM171,15h1v1h-1zM227,15h1v1h-1zM271,15h1v1h-1zM326,15h1v1h-1zM40,16h1v1h-1zM49,16h1v1h-1zM54,16h1v1h-1zM73,16h1v1h-1zM220,16h1v1h-1zM228,16h1v1h-1zM275,16h1v1h-1zM282,16h1v1h-1zM47,17h1v1h-1zM50,17h1v1h-1zM90,17h1v1h-1zM206,17h1v1h-1zM218,17h1v1h-1zM228,17h1v1h-1zM284,17h1v1h-1zM290,17h1v1h-1zM293,17h2v1h-2zM332,17h1v1h-1zM39,18h1v1h-1zM50,18h2v1h-2zM55,18h1v1h-1zM83,18h1v1h-1zM92,18h1v1h-1zM120,18h1v1h-1zM125,18h1v1h-1zM167,18h1v1h-1zM175,18h1v1h-1zM208,18h1v1h-1zM221,18h1v1h-1zM226,18h1v1h-1zM312,18h1v1h-1zM320,18h1v1h-1zM47,19h1v1h-1zM60,19h1v1h-1zM92,19h1v1h-1zM110,19h1v1h-1zM158,19h1v1h-1zM173,19h1v1h-1zM205,19h1v1h-1zM217,19h1v1h-1zM224,19h2v1h-2zM227,19h1v1h-1zM233,19h1v1h-1zM322,19h1v1h-1zM0,20h1v1h-1zM2,20h1v1h-1zM5,20h4v1h-4zM10,20h1v1h-1zM15,20h1v1h-1zM18,20h1v1h-1zM23,20h1v1h-1zM25,20h1v1h-1zM28,20h1v1h-1zM30,20h2v1h-2zM33,20h1v1h-1zM39,20h1v1h-1zM41,20h1v1h-1zM44,20h5v1h-5zM54,20h1v1h-1zM56,20h1v1h-1zM61,20h1v1h-1zM65,20h1v1h-1zM69,20h5v1h-5zM76,20h4v1h-4zM83,20h1v1h-1zM85,20h2v1h-2zM90,20h1v1h-1zM92,20h1v1h-1zM95,20h1v1h-1zM97,20h1v1h-1zM100,20h1v1h-1zM103,20h1v1h-1zM106,20h1v1h-1zM109,20h1v1h-1zM111,20h1v1h-1zM115,20h1v1h-1zM118,20h2v1h-2zM122,20h2v1h-2zM125,20h4v1h-4zM133,20h1v1h-1zM137,20h2v1h-2zM140,20h1v1h-1zM143,20h3v1h-3zM147,20h2v1h-2zM150,20h1v1h-1zM158,20h2v1h-2zM165,20h2v1h-2zM171,20h1v1h-1zM178,20h2v1h-2zM181,20h1v1h-1zM189,20h2v1h-2zM192,20h5v1h-5zM200,20h1v1h-1zM202,20h2v1h-2zM207,20h2v1h-2zM210,20h1v1h-1zM212,20h1v1h-1zM215,20h3v1h-3zM220,20h1v1h-1zM222,20h1v1h-1zM226,20h2v1h-2zM232,20h2v1h-2zM235,20h1v1h-1zM237,20h4v1h-4zM243,20h1v1h-1zM247,20h2v1h-2zM250,20h2v1h-2zM254,20h1v1h-1zM256,20h2v1h-2zM260,20h1v1h-1zM267,20h1v1h-1zM273,20h1v1h-1zM275,20h1v1h-1zM278,20h2v1h-2zM283,20h2v1h-2zM287,20h2v1h-2zM290,20h1v1h-1zM295,20h1v1h-1zM298,20h1v1h-1zM302,20h1v1h-1zM304,20h1v1h-1zM309,20h1v1h-1zM311,20h1v1h-1zM313,20h1v1h-1zM316,20h1v1h-1zM319,20h2v1h-2zM323,20h1v1h-1zM326,20h2v1h-2zM330,20h2v1h-2zM334,20h3v1h-3z"/><path fill="#5978e3" d="M44,0h1v1h-1zM162,0h1v1h-1zM269,0h1v1h-1zM275,0h1v1h-1zM326,0h1v1h-1zM70,1h1v1h-1zM283,1h1v1h-1zM27,2h1v1h-1zM223,2h1v1h-1zM314,2h1v1h-1zM124,3h1v1h-1zM157,3h1v1h-1zM209,3h1v1h-1zM217,3h1v1h-1zM247,3h1v1h-1zM293,3h1v1h-1zM40,4h1v1h-1zM127,4h1v1h-1zM132,4h1v1h-1zM272,4h1v1h-1zM165,5h1v1h-1zM212,5h1v1h-1zM220,5h1v1h-1zM235,5h1v1h-1zM272,5h1v1h-1zM49,6h1v1h-1zM76,6h1v1h-1zM164,6h1v1h-1zM310,6h1v1h-1zM327,6h1v1h-1zM56,7h1v1h-1zM78,7h1v1h-1zM208,7h1v1h-1zM270,7h1v1h-1zM298,7h1v1h-1zM132,8h1v1h-1zM174,8h1v1h-1zM267,8h1v1h-1zM297,8h1v1h-1zM209,9h1v1h-1zM272,9h1v1h-1zM295,9h1v1h-1zM125,10h1v1h-1zM196,10h1v1h-1zM225,10h1v1h-1zM296,10h1v1h-1zM298,10h1v1h-1zM327,10h1v1h-1zM9,11h1v1h-1zM17,11h1v1h-1zM56,11h1v1h-1zM86,11h1v1h-1zM212,11h1v1h-1zM236,11h1v1h-1zM301,11h1v1h-1zM319,11h1v1h-1zM49,12h1v1h-1zM78,12h1v1h-1zM98,12h1v1h-1zM149,12h1v1h-1zM272,12h1v1h-1zM297,12h1v1h-1zM324,12h1v1h-1zM41,13h1v1h-1zM134,13h1v1h-1zM168,13h1v1h-1zM213,13h1v1h-1zM224,13h1v1h-1zM234,13h1v1h-1zM269,13h1v1h-1zM297,13h1v1h-1zM314,13h1v1h-1zM39,14h2v1h-2zM47,14h1v1h-1zM94,14h1v1h-1zM96,14h1v1h-1zM146,14h1v1h-1zM170,14h1v1h-1zM206,14h1v1h-1zM215,14h1v1h-1zM218,14h1v1h-1zM226,14h1v1h-1zM236,14h1v1h-1zM261,14h1v1h-1zM284,14h1v1h-1zM313,14h1v1h-1zM317,14h1v1h-1zM41,15h2v1h-2zM48,15h1v1h-1zM55,15h1v1h-1zM83,15h1v1h-1zM85,15h2v1h-2zM96,15h1v1h-1zM163,15h1v1h-1zM166,15h1v1h-1zM177,15h1v1h-1zM215,15h2v1h-2zM222,15h1v1h-1zM230,15h1v1h-1zM276,15h1v1h-1zM279,15h1v1h-1zM284,15h1v1h-1zM290,15h1v1h-1zM323,15h1v1h-1zM51,16h1v1h-1zM87,16h1v1h-1zM89,16h1v1h-1zM141,16h1v1h-1zM160,16h1v1h-1zM173,16h1v1h-1zM206,16h1v1h-1zM209,16h1v1h-1zM211,16h2v1h-2zM214,16h1v1h-1zM270,16h1v1h-1zM318,16h1v1h-1zM43,17h1v1h-1zM55,17h1v1h-1zM60,17h1v1h-1zM92,17h1v1h-1zM96,17h1v1h-1zM113,17h1v1h-1zM118,17h1v1h-1zM134,17h1v1h-1zM202,17h1v1h-1zM266,17h1v1h-1zM281,17h1v1h-1zM298,17h1v1h-1zM300,17h1v1h-1zM316,17h1v1h-1zM323,17h1v1h-1zM325,17h1v1h-1zM38,18h1v1h-1zM52,18h1v1h-1zM59,18h1v1h-1zM111,18h1v1h-1zM131,18h1v1h-1zM164,18h1v1h-1zM170,18h1v1h-1zM205,18h2v1h-2zM219,18h1v1h-1zM228,18h1v1h-1zM285,18h1v1h-1zM313,18h1v1h-1zM318,18h1v1h-1zM328,18h1v1h-1zM333,18h1v1h-1zM7,19h1v1h-1zM43,19h1v1h-1zM52,19h2v1h-2zM57,19h1v1h-1zM96,19h1v1h-1zM122,19h2v1h-2zM165,19h1v1h-1zM169,19h1v1h-1zM185,19h1v1h-1zM211,19h1v1h-1zM230,19h1v1h-1zM236,19h1v1h-1zM273,19h1v1h-1zM275,19h1v1h-1zM287,19h3v1h-3zM312,19h1v1h-1zM325,19h1v1h-1zM3,20h1v1h-1zM9,20h1v1h-1zM11,20h4v1h-4zM16,20h2v1h-2zM19,20h4v1h-4zM24,20h1v1h-1zM26,20h1v1h-1zM29,20h1v1h-1zM32,20h1v1h-1zM34,20h2v1h-2zM38,20h1v1h-1zM49,20h5v1h-5zM55,20h1v1h-1zM57,20h1v1h-1zM59,20h2v1h-2zM62,20h3v1h-3zM66,20h3v1h-3zM80,20h3v1h-3zM84,20h1v1h-1zM87,20h3v1h-3zM91,20h1v1h-1zM94,20h1v1h-1zM96,20h1v1h-1zM98,20h2v1h-2zM102,20h1v1h-1zM104,20h2v1h-2zM107,20h1v1h-1zM110,20h1v1h-1zM112,20h1v1h-1zM116,20h2v1h-2zM120,20h2v1h-2zM124,20h1v1h-1zM131,20h2v1h-2zM135,20h2v1h-2zM141,20h2v1h-2zM146,20h1v1h-1zM149,20h1v1h-1zM151,20h3v1h-3zM155,20h1v1h-1zM157,20h1v1h-1zM162,20h3v1h-3zM167,20h4v1h-4zM172,20h2v1h-2zM175,20h1v1h-1zM177,20h1v1h-1zM180,20h1v1h-1zM182,20h7v1h-7zM191,20h1v1h-1zM197,20h1v1h-1zM201,20h1v1h-1zM204,20h1v1h-1zM211,20h1v1h-1zM213,20h2v1h-2zM218,20h1v1h-1zM221,20h1v1h-1zM223,20h1v1h-1zM225,20h1v1h-1zM228,20h1v1h-1zM230,20h2v1h-2zM234,20h1v1h-1zM241,20h1v1h-1zM244,20h2v1h-2zM249,20h1v1h-1zM252,20h1v1h-1zM255,20h1v1h-1zM258,20h1v1h-1zM261,20h1v1h-1zM263,20h1v1h-1zM266,20h1v1h-1zM268,20h5v1h-5zM274,20h1v1h-1zM277,20h1v1h-1zM280,20h2v1h-2zM285,20h2v1h-2zM289,20h1v1h-1zM291,20h1v1h-1zM293,20h2v1h-2zM297,20h1v1h-1zM299,20h3v1h-3zM303,20h1v1h-1zM305,20h4v1h-4zM310,20h1v1h-1zM312,20h1v1h-1zM314,20h2v1h-2zM317,20h2v1h-2zM321,20h2v1h-2zM324,20h1v1h-1zM329,20h1v1h-1zM332,20h2v1h-2zM337,20h1v1h-1z"/><path fill="#6282ea" d="M78,0h1v1h-1zM80,0h1v1h-1zM121,0h1v1h-1zM125,0h1v1h-1zM132,0h1v1h-1zM137,0h2v1h-2zM191,0h1v1h-1zM212,0h3v1h-3zM272,0h1v1h-1zM291,0h1v1h-1zM39,1h1v1h-1zM44,1h1v1h-1zM120,1h1v1h-1zM167,1h1v1h-1zM214,1h1v1h-1zM261,1h1v1h-1zM325,1h1v1h-1zM327,1h1v1h-1zM18,2h1v1h-1zM23,2h1v1h-1zM47,2h1v1h-1zM73,2h1v1h-1zM162,2h1v1h-1zM270,2h1v1h-1zM295,2h2v1h-2zM82,3h1v1h-1zM212,3h1v1h-1zM235,3h1v1h-1zM272,3h1v1h-1zM283,3h1v1h-1zM41,4h1v1h-1zM53,4h1v1h-1zM106,4h1v1h-1zM280,4h1v1h-1zM44,5h1v1h-1zM53,5h1v1h-1zM60,5h1v1h-1zM76,5h1v1h-1zM93,5h1v1h-1zM134,5h1v1h-1zM160,5h1v1h-1zM170,5h1v1h-1zM174,5h1v1h-1zM209,5h1v1h-1zM236,5h1v1h-1zM255,5h1v1h-1zM273,5h1v1h-1zM4,6h1v1h-1zM134,6h1v1h-1zM160,6h1v1h-1zM206,6h1v1h-1zM230,6h1v1h-1zM234,6h1v1h-1zM270,6h1v1h-1zM283,6h1v1h-1zM297,6h1v1h-1zM91,7h1v1h-1zM124,7h1v1h-1zM160,7h1v1h-1zM223,7h2v1h-2zM316,7h1v1h-1zM49,8h1v1h-1zM59,8h1v1h-1zM63,8h1v1h-1zM76,8h1v1h-1zM87,8h1v1h-1zM185,8h1v1h-1zM187,8h1v1h-1zM287,8h1v1h-1zM78,9h1v1h-1zM89,9h1v1h-1zM215,9h1v1h-1zM262,9h1v1h-1zM305,9h1v1h-1zM44,10h1v1h-1zM49,10h1v1h-1zM105,10h1v1h-1zM118,10h1v1h-1zM121,10h1v1h-1zM127,10h1v1h-1zM168,10h1v1h-1zM235,10h1v1h-1zM277,10h1v1h-1zM287,10h1v1h-1zM41,11h1v1h-1zM45,11h1v1h-1zM123,11h1v1h-1zM125,11h1v1h-1zM134,11h1v1h-1zM160,11h1v1h-1zM185,11h1v1h-1zM204,11h1v1h-1zM221,11h1v1h-1zM227,11h2v1h-2zM300,11h1v1h-1zM309,11h1v1h-1zM320,11h1v1h-1zM329,11h1v1h-1zM47,12h1v1h-1zM145,12h1v1h-1zM215,12h1v1h-1zM223,12h2v1h-2zM237,12h1v1h-1zM244,12h1v1h-1zM276,12h1v1h-1zM298,12h1v1h-1zM319,12h1v1h-1zM46,13h1v1h-1zM132,13h1v1h-1zM263,13h1v1h-1zM267,13h1v1h-1zM272,13h1v1h-1zM277,13h1v1h-1zM296,13h1v1h-1zM327,13h1v1h-1zM26,14h1v1h-1zM38,14h1v1h-1zM41,14h1v1h-1zM46,14h1v1h-1zM53,14h1v1h-1zM58,14h1v1h-1zM85,14h1v1h-1zM110,14h1v1h-1zM121,14h1v1h-1zM138,14h1v1h-1zM203,14h1v1h-1zM210,14h1v1h-1zM216,14h1v1h-1zM224,14h1v1h-1zM231,14h1v1h-1zM237,14h1v1h-1zM279,14h1v1h-1zM281,14h1v1h-1zM293,14h1v1h-1zM320,14h1v1h-1zM322,14h1v1h-1zM333,14h1v1h-1zM54,15h1v1h-1zM61,15h2v1h-2zM73,15h1v1h-1zM90,15h1v1h-1zM112,15h1v1h-1zM118,15h2v1h-2zM133,15h1v1h-1zM141,15h1v1h-1zM165,15h1v1h-1zM167,15h1v1h-1zM214,15h1v1h-1zM217,15h1v1h-1zM229,15h1v1h-1zM231,15h1v1h-1zM236,15h1v1h-1zM273,15h1v1h-1zM286,15h1v1h-1zM293,15h1v1h-1zM47,16h1v1h-1zM52,16h1v1h-1zM57,16h1v1h-1zM59,16h1v1h-1zM88,16h1v1h-1zM90,16h1v1h-1zM123,16h1v1h-1zM125,16h1v1h-1zM149,16h1v1h-1zM168,16h1v1h-1zM172,16h1v1h-1zM223,16h1v1h-1zM235,16h1v1h-1zM291,16h1v1h-1zM307,16h1v1h-1zM321,16h1v1h-1zM323,16h1v1h-1zM328,16h1v1h-1zM37,17h1v1h-1zM40,17h1v1h-1zM48,17h1v1h-1zM73,17h1v1h-1zM77,17h1v1h-1zM94,17h1v1h-1zM126,17h1v1h-1zM129,17h1v1h-1zM215,17h1v1h-1zM237,17h1v1h-1zM271,17h1v1h-1zM299,17h1v1h-1zM330,17h1v1h-1zM77,18h1v1h-1zM84,18h1v1h-1zM86,18h1v1h-1zM133,18h1v1h-1zM161,18h1v1h-1zM172,18h1v1h-1zM174,18h1v1h-1zM211,18h1v1h-1zM217,18h1v1h-1zM229,18h1v1h-1zM266,18h1v1h-1zM275,18h1v1h-1zM292,18h1v1h-1zM321,18h1v1h-1zM327,18h1v1h-1zM329,18h1v1h-1zM39,19h1v1h-1zM51,19h1v1h-1zM119,19h1v1h-1zM139,19h1v1h-1zM159,19h1v1h-1zM163,19h1v1h-1zM168,19h1v1h-1zM204,19h1v1h-1zM271,19h1v1h-1zM277,19h1v1h-1zM279,19h1v1h-1zM290,19h1v1h-1zM299,19h1v1h-1zM317,19h1v1h-1zM319,19h1v1h-1zM326,19h1v1h-1zM328,19h1v1h-1zM330,19h1v1h-1zM332,19h1v1h-1zM27,20h1v1h-1zM37,20h1v1h-1zM43,20h1v1h-1zM101,20h1v1h-1zM108,20h1v1h-1zM113,20h1v1h-1zM130,20h1v1h-1zM236,20h1v1h-1zM242,20h1v1h-1zM282,20h1v1h-1zM292,20h1v1h-1zM296,20h1v1h-1zM328,20h1v1h-1z"/><path fill="#6a8cf0" d="M160,0h1v1h-1zM183,0h1v1h-1zM216,0h1v1h-1zM232,0h1v1h-1zM283,0h1v1h-1zM304,0h1v1h-1zM315,0h1v1h-1zM38,1h1v1h-1zM85,1h1v1h-1zM264,1h1v1h-1zM339,1h1v1h-1zM55,2h1v1h-1zM84,2h1v1h-1zM128,2h1v1h-1zM137,2h1v1h-1zM143,2h1v1h-1zM201,2h1v1h-1zM214,2h1v1h-1zM262,2h1v1h-1zM269,2h1v1h-1zM284,2h1v1h-1zM318,2h1v1h-1zM43,3h1v1h-1zM49,3h1v1h-1zM57,3h1v1h-1zM81,3h1v1h-1zM88,3h2v1h-2zM93,3h1v1h-1zM115,3h1v1h-1zM125,3h1v1h-1zM213,3h1v1h-1zM269,3h1v1h-1zM133,4h1v1h-1zM175,4h1v1h-1zM204,4h1v1h-1zM222,4h1v1h-1zM257,4h1v1h-1zM298,4h1v1h-1zM307,4h1v1h-1zM317,4h1v1h-1zM6,5h1v1h-1zM56,5h1v1h-1zM63,5h1v1h-1zM107,5h1v1h-1zM161,5h1v1h-1zM197,5h1v1h-1zM310,5h1v1h-1zM323,5h1v1h-1zM41,6h1v1h-1zM45,6h1v1h-1zM78,6h1v1h-1zM170,6h1v1h-1zM228,6h1v1h-1zM282,6h1v1h-1zM284,6h1v1h-1zM332,6h1v1h-1zM11,7h1v1h-1zM20,7h1v1h-1zM95,7h1v1h-1zM121,7h1v1h-1zM136,7h1v1h-1zM159,7h1v1h-1zM167,7h1v1h-1zM206,7h1v1h-1zM209,7h1v1h-1zM212,7h1v1h-1zM216,7h1v1h-1zM225,7h1v1h-1zM282,7h1v1h-1zM314,7h1v1h-1zM61,8h1v1h-1zM91,8h1v1h-1zM116,8h1v1h-1zM205,8h1v1h-1zM279,8h1v1h-1zM70,9h1v1h-1zM76,9h1v1h-1zM93,9h1v1h-1zM124,9h1v1h-1zM161,9h1v1h-1zM236,9h1v1h-1zM260,9h1v1h-1zM300,9h1v1h-1zM36,10h1v1h-1zM51,10h1v1h-1zM124,10h1v1h-1zM160,10h1v1h-1zM204,10h1v1h-1zM234,10h1v1h-1zM249,10h1v1h-1zM275,10h1v1h-1zM282,10h1v1h-1zM291,10h1v1h-1zM38,11h1v1h-1zM40,11h1v1h-1zM44,11h1v1h-1zM60,11h1v1h-1zM72,11h1v1h-1zM93,11h1v1h-1zM110,11h1v1h-1zM116,11h1v1h-1zM195,11h1v1h-1zM207,11h1v1h-1zM216,11h1v1h-1zM232,11h1v1h-1zM270,11h1v1h-1zM314,11h1v1h-1zM74,12h1v1h-1zM76,12h1v1h-1zM229,12h1v1h-1zM258,12h1v1h-1zM277,12h1v1h-1zM283,12h1v1h-1zM296,12h1v1h-1zM62,13h1v1h-1zM72,13h1v1h-1zM81,13h1v1h-1zM93,13h1v1h-1zM115,13h1v1h-1zM121,13h1v1h-1zM130,13h1v1h-1zM159,13h1v1h-1zM162,13h1v1h-1zM164,13h1v1h-1zM208,13h1v1h-1zM225,13h1v1h-1zM312,13h1v1h-1zM317,13h1v1h-1zM9,14h1v1h-1zM42,14h1v1h-1zM48,14h1v1h-1zM54,14h1v1h-1zM132,14h1v1h-1zM172,14h1v1h-1zM180,14h1v1h-1zM207,14h2v1h-2zM225,14h1v1h-1zM243,14h1v1h-1zM277,14h1v1h-1zM289,14h1v1h-1zM300,14h1v1h-1zM319,14h1v1h-1zM326,14h1v1h-1zM3,15h1v1h-1zM10,15h1v1h-1zM13,15h1v1h-1zM47,15h1v1h-1zM58,15h1v1h-1zM77,15h1v1h-1zM92,15h1v1h-1zM157,15h1v1h-1zM159,15h1v1h-1zM208,15h1v1h-1zM210,15h1v1h-1zM266,15h1v1h-1zM315,15h2v1h-2zM318,15h1v1h-1zM320,15h1v1h-1zM21,16h1v1h-1zM36,16h2v1h-2zM43,16h1v1h-1zM60,16h1v1h-1zM80,16h1v1h-1zM114,16h1v1h-1zM171,16h1v1h-1zM176,16h1v1h-1zM205,16h1v1h-1zM224,16h1v1h-1zM226,16h1v1h-1zM233,16h1v1h-1zM268,16h1v1h-1zM300,16h1v1h-1zM316,16h2v1h-2zM39,17h1v1h-1zM54,17h1v1h-1zM61,17h1v1h-1zM84,17h2v1h-2zM91,17h1v1h-1zM130,17h1v1h-1zM139,17h1v1h-1zM161,17h1v1h-1zM168,17h1v1h-1zM170,17h1v1h-1zM176,17h1v1h-1zM217,17h1v1h-1zM223,17h1v1h-1zM278,17h1v1h-1zM288,17h1v1h-1zM295,17h1v1h-1zM47,18h1v1h-1zM88,18h2v1h-2zM97,18h1v1h-1zM119,18h1v1h-1zM128,18h1v1h-1zM138,18h1v1h-1zM140,18h1v1h-1zM189,18h1v1h-1zM201,18h1v1h-1zM218,18h1v1h-1zM281,18h2v1h-2zM288,18h1v1h-1zM294,18h1v1h-1zM300,18h1v1h-1zM37,19h1v1h-1zM77,19h1v1h-1zM113,19h1v1h-1zM118,19h1v1h-1zM125,19h1v1h-1zM167,19h1v1h-1zM174,19h1v1h-1zM284,19h1v1h-1zM300,19h1v1h-1zM331,19h1v1h-1zM1,20h1v1h-1zM36,20h1v1h-1zM40,20h1v1h-1zM134,20h1v1h-1zM139,20h1v1h-1zM154,20h1v1h-1zM156,20h1v1h-1zM160,20h2v1h-2zM174,20h1v1h-1zM209,20h1v1h-1zM224,20h1v1h-1zM246,20h1v1h-1zM259,20h1v1h-1zM262,20h1v1h-1zM325,20h1v1h-1zM162,21h1v1h-1z"/><path fill="#7395f5" d="M22,0h1v1h-1zM56,0h1v1h-1zM61,0h1v1h-1zM86,0h1v1h-1zM166,0h1v1h-1zM168,0h1v1h-1zM280,0h1v1h-1zM295,0h1v1h-1zM298,0h1v1h-1zM300,0h1v1h-1zM76,1h1v1h-1zM136,1h1v1h-1zM269,1h1v1h-1zM287,1h1v1h-1zM298,1h1v1h-1zM74,2h1v1h-1zM152,2h1v1h-1zM160,2h1v1h-1zM164,2h1v1h-1zM179,2h1v1h-1zM190,2h1v1h-1zM192,2h1v1h-1zM224,2h1v1h-1zM283,2h1v1h-1zM44,3h1v1h-1zM86,3h1v1h-1zM97,3h1v1h-1zM178,3h1v1h-1zM295,3h1v1h-1zM300,3h1v1h-1zM325,3h1v1h-1zM78,4h1v1h-1zM82,4h1v1h-1zM126,4h1v1h-1zM162,4h1v1h-1zM209,4h1v1h-1zM223,4h1v1h-1zM231,4h1v1h-1zM283,4h1v1h-1zM310,4h1v1h-1zM327,4h1v1h-1zM78,5h1v1h-1zM86,5h1v1h-1zM116,5h1v1h-1zM133,5h1v1h-1zM225,5h1v1h-1zM270,5h1v1h-1zM294,5h1v1h-1zM318,5h1v1h-1zM53,6h1v1h-1zM83,6h1v1h-1zM85,6h1v1h-1zM89,6h1v1h-1zM124,6h1v1h-1zM177,6h1v1h-1zM204,6h1v1h-1zM296,6h1v1h-1zM329,6h1v1h-1zM41,7h2v1h-2zM44,7h1v1h-1zM132,7h1v1h-1zM162,7h1v1h-1zM214,7h1v1h-1zM226,7h1v1h-1zM233,7h1v1h-1zM272,7h1v1h-1zM277,7h1v1h-1zM283,7h1v1h-1zM294,7h1v1h-1zM296,7h1v1h-1zM121,8h1v1h-1zM209,8h1v1h-1zM232,8h2v1h-2zM272,8h1v1h-1zM283,8h1v1h-1zM295,8h2v1h-2zM298,8h1v1h-1zM320,8h1v1h-1zM10,9h1v1h-1zM39,9h1v1h-1zM83,9h1v1h-1zM162,9h1v1h-1zM164,9h1v1h-1zM184,9h1v1h-1zM212,9h1v1h-1zM220,9h1v1h-1zM297,9h1v1h-1zM314,9h1v1h-1zM40,10h1v1h-1zM115,10h1v1h-1zM159,10h1v1h-1zM164,10h1v1h-1zM208,10h1v1h-1zM212,10h1v1h-1zM218,10h1v1h-1zM223,10h1v1h-1zM270,10h1v1h-1zM313,10h1v1h-1zM323,10h1v1h-1zM329,10h1v1h-1zM332,10h1v1h-1zM37,11h1v1h-1zM39,11h1v1h-1zM47,11h1v1h-1zM54,11h1v1h-1zM111,11h1v1h-1zM115,11h1v1h-1zM268,11h1v1h-1zM278,11h1v1h-1zM292,11h2v1h-2zM324,11h1v1h-1zM333,11h1v1h-1zM41,12h1v1h-1zM56,12h1v1h-1zM62,12h1v1h-1zM160,12h1v1h-1zM262,12h1v1h-1zM267,12h1v1h-1zM333,12h1v1h-1zM49,13h1v1h-1zM58,13h1v1h-1zM76,13h1v1h-1zM83,13h1v1h-1zM199,13h1v1h-1zM217,13h1v1h-1zM223,13h1v1h-1zM247,13h1v1h-1zM266,13h1v1h-1zM330,13h1v1h-1zM23,14h1v1h-1zM77,14h1v1h-1zM83,14h1v1h-1zM95,14h1v1h-1zM101,14h1v1h-1zM106,14h1v1h-1zM133,14h1v1h-1zM159,14h1v1h-1zM164,14h1v1h-1zM168,14h1v1h-1zM174,14h2v1h-2zM201,14h1v1h-1zM212,14h1v1h-1zM266,14h1v1h-1zM286,14h1v1h-1zM312,14h1v1h-1zM323,14h1v1h-1zM328,14h1v1h-1zM46,15h1v1h-1zM50,15h1v1h-1zM52,15h1v1h-1zM57,15h1v1h-1zM89,15h1v1h-1zM91,15h1v1h-1zM111,15h1v1h-1zM136,15h1v1h-1zM138,15h1v1h-1zM206,15h1v1h-1zM281,15h2v1h-2zM312,15h1v1h-1zM327,15h1v1h-1zM332,15h1v1h-1zM45,16h2v1h-2zM48,16h1v1h-1zM75,16h1v1h-1zM77,16h1v1h-1zM122,16h1v1h-1zM158,16h1v1h-1zM163,16h1v1h-1zM169,16h1v1h-1zM183,16h1v1h-1zM236,16h2v1h-2zM267,16h1v1h-1zM274,16h1v1h-1zM286,16h1v1h-1zM289,16h1v1h-1zM313,16h1v1h-1zM319,16h1v1h-1zM332,16h2v1h-2zM71,17h1v1h-1zM74,17h1v1h-1zM111,17h2v1h-2zM114,17h1v1h-1zM123,17h1v1h-1zM127,17h1v1h-1zM136,17h1v1h-1zM141,17h1v1h-1zM153,17h1v1h-1zM159,17h1v1h-1zM165,17h1v1h-1zM173,17h1v1h-1zM224,17h1v1h-1zM229,17h1v1h-1zM297,17h1v1h-1zM318,17h1v1h-1zM328,17h1v1h-1zM333,17h1v1h-1zM58,18h1v1h-1zM62,18h1v1h-1zM79,18h2v1h-2zM93,18h1v1h-1zM112,18h1v1h-1zM118,18h1v1h-1zM127,18h1v1h-1zM142,18h1v1h-1zM177,18h1v1h-1zM202,18h1v1h-1zM290,18h1v1h-1zM326,18h1v1h-1zM331,18h1v1h-1zM20,19h1v1h-1zM61,19h1v1h-1zM81,19h1v1h-1zM85,19h1v1h-1zM87,19h1v1h-1zM133,19h2v1h-2zM157,19h1v1h-1zM175,19h1v1h-1zM207,19h1v1h-1zM210,19h1v1h-1zM212,19h1v1h-1zM221,19h2v1h-2zM231,19h1v1h-1zM252,19h1v1h-1zM266,19h1v1h-1zM282,19h1v1h-1zM286,19h1v1h-1zM292,19h2v1h-2zM313,19h2v1h-2zM234,21h1v1h-1z"/><path fill="#7b9ff9" d="M9,0h1v1h-1zM41,0h1v1h-1zM83,0h1v1h-1zM192,0h1v1h-1zM209,0h1v1h-1zM234,0h1v1h-1zM278,0h1v1h-1zM318,0h1v1h-1zM322,0h1v1h-1zM41,1h1v1h-1zM49,1h1v1h-1zM78,1h1v1h-1zM110,1h1v1h-1zM115,1h1v1h-1zM127,1h2v1h-2zM132,1h1v1h-1zM162,1h1v1h-1zM267,1h1v1h-1zM297,1h1v1h-1zM333,1h1v1h-1zM41,2h1v1h-1zM132,2h1v1h-1zM140,2h1v1h-1zM177,2h1v1h-1zM202,2h1v1h-1zM213,2h1v1h-1zM277,2h1v1h-1zM287,2h1v1h-1zM297,2h1v1h-1zM300,2h1v1h-1zM312,2h1v1h-1zM324,2h1v1h-1zM19,3h1v1h-1zM41,3h1v1h-1zM71,3h1v1h-1zM78,3h1v1h-1zM110,3h1v1h-1zM224,3h1v1h-1zM296,3h1v1h-1zM49,4h1v1h-1zM56,4h1v1h-1zM86,4h1v1h-1zM115,4h2v1h-2zM148,4h1v1h-1zM213,4h1v1h-1zM220,4h1v1h-1zM228,4h1v1h-1zM232,4h1v1h-1zM234,4h1v1h-1zM236,4h1v1h-1zM277,4h1v1h-1zM324,4h1v1h-1zM20,5h1v1h-1zM41,5h1v1h-1zM115,5h1v1h-1zM124,5h2v1h-2zM135,5h1v1h-1zM142,5h1v1h-1zM224,5h1v1h-1zM278,5h1v1h-1zM283,5h1v1h-1zM300,5h1v1h-1zM39,6h1v1h-1zM69,6h1v1h-1zM90,6h1v1h-1zM93,6h1v1h-1zM115,6h1v1h-1zM125,6h1v1h-1zM147,6h1v1h-1zM202,6h1v1h-1zM217,6h2v1h-2zM220,6h1v1h-1zM227,6h1v1h-1zM233,6h1v1h-1zM248,6h1v1h-1zM254,6h1v1h-1zM260,6h1v1h-1zM331,6h1v1h-1zM333,6h1v1h-1zM10,7h1v1h-1zM37,7h1v1h-1zM93,7h1v1h-1zM108,7h1v1h-1zM131,7h1v1h-1zM154,7h1v1h-1zM164,7h1v1h-1zM176,7h1v1h-1zM217,7h1v1h-1zM219,7h1v1h-1zM295,7h1v1h-1zM44,8h1v1h-1zM124,8h1v1h-1zM164,8h1v1h-1zM216,8h1v1h-1zM259,8h1v1h-1zM286,8h1v1h-1zM327,8h1v1h-1zM86,9h1v1h-1zM120,9h1v1h-1zM143,9h1v1h-1zM158,9h1v1h-1zM213,9h1v1h-1zM222,9h1v1h-1zM273,9h1v1h-1zM324,9h1v1h-1zM332,9h1v1h-1zM42,10h1v1h-1zM47,10h1v1h-1zM58,10h2v1h-2zM79,10h1v1h-1zM83,10h1v1h-1zM89,10h1v1h-1zM156,10h1v1h-1zM167,10h1v1h-1zM189,10h1v1h-1zM220,10h1v1h-1zM227,10h1v1h-1zM266,10h1v1h-1zM271,10h1v1h-1zM276,10h1v1h-1zM278,10h1v1h-1zM46,11h1v1h-1zM50,11h1v1h-1zM121,11h1v1h-1zM132,11h1v1h-1zM137,11h1v1h-1zM140,11h1v1h-1zM157,11h1v1h-1zM172,11h2v1h-2zM229,11h1v1h-1zM280,11h1v1h-1zM283,11h1v1h-1zM296,11h1v1h-1zM312,11h1v1h-1zM322,11h1v1h-1zM331,11h1v1h-1zM44,12h1v1h-1zM52,12h1v1h-1zM86,12h2v1h-2zM110,12h1v1h-1zM116,12h1v1h-1zM121,12h1v1h-1zM125,12h1v1h-1zM150,12h1v1h-1zM314,12h1v1h-1zM327,12h1v1h-1zM40,13h1v1h-1zM52,13h1v1h-1zM56,13h1v1h-1zM77,13h1v1h-1zM99,13h1v1h-1zM124,13h1v1h-1zM171,13h1v1h-1zM204,13h1v1h-1zM218,13h1v1h-1zM226,13h2v1h-2zM278,13h1v1h-1zM283,13h1v1h-1zM295,13h1v1h-1zM331,13h1v1h-1zM13,14h1v1h-1zM25,14h1v1h-1zM45,14h1v1h-1zM55,14h1v1h-1zM73,14h1v1h-1zM79,14h1v1h-1zM89,14h1v1h-1zM109,14h1v1h-1zM111,14h1v1h-1zM119,14h1v1h-1zM141,14h1v1h-1zM169,14h1v1h-1zM214,14h1v1h-1zM217,14h1v1h-1zM220,14h1v1h-1zM222,14h1v1h-1zM228,14h1v1h-1zM230,14h1v1h-1zM233,14h1v1h-1zM255,14h1v1h-1zM273,14h1v1h-1zM285,14h1v1h-1zM304,14h1v1h-1zM35,15h1v1h-1zM43,15h1v1h-1zM63,15h1v1h-1zM69,15h1v1h-1zM79,15h1v1h-1zM88,15h1v1h-1zM95,15h1v1h-1zM113,15h1v1h-1zM128,15h2v1h-2zM132,15h1v1h-1zM169,15h2v1h-2zM174,15h2v1h-2zM203,15h2v1h-2zM220,15h1v1h-1zM237,15h1v1h-1zM292,15h1v1h-1zM299,15h1v1h-1zM50,16h1v1h-1zM53,16h1v1h-1zM84,16h1v1h-1zM119,16h1v1h-1zM148,16h1v1h-1zM165,16h1v1h-1zM167,16h1v1h-1zM170,16h1v1h-1zM174,16h1v1h-1zM203,16h1v1h-1zM222,16h1v1h-1zM285,16h1v1h-1zM293,16h1v1h-1zM315,16h1v1h-1zM327,16h1v1h-1zM53,17h1v1h-1zM62,17h1v1h-1zM80,17h1v1h-1zM89,17h1v1h-1zM93,17h1v1h-1zM110,17h1v1h-1zM119,17h1v1h-1zM157,17h1v1h-1zM166,17h1v1h-1zM171,17h1v1h-1zM175,17h1v1h-1zM178,17h1v1h-1zM214,17h1v1h-1zM216,17h1v1h-1zM260,17h1v1h-1zM268,17h1v1h-1zM273,17h1v1h-1zM285,17h1v1h-1zM291,17h1v1h-1zM321,17h1v1h-1zM42,18h1v1h-1zM54,18h1v1h-1zM61,18h1v1h-1zM91,18h1v1h-1zM99,18h2v1h-2zM110,18h1v1h-1zM113,18h1v1h-1zM121,18h1v1h-1zM123,18h1v1h-1zM129,18h1v1h-1zM141,18h1v1h-1zM168,18h1v1h-1zM231,18h1v1h-1zM236,18h2v1h-2zM273,18h1v1h-1zM319,18h1v1h-1zM325,18h1v1h-1zM330,18h1v1h-1zM18,19h1v1h-1zM40,19h1v1h-1zM46,19h1v1h-1zM50,19h1v1h-1zM62,19h1v1h-1zM73,19h1v1h-1zM140,19h1v1h-1zM161,19h1v1h-1zM166,19h1v1h-1zM171,19h1v1h-1zM176,19h2v1h-2zM214,19h1v1h-1zM219,19h1v1h-1zM226,19h1v1h-1zM237,19h1v1h-1zM281,19h1v1h-1zM321,19h1v1h-1zM203,21h2v1h-2zM298,21h1v1h-1zM320,21h1v1h-1z"/><path fill="#84a7fc" d="M49,0h1v1h-1zM52,0h1v1h-1zM93,0h1v1h-1zM115,0h1v1h-1zM124,0h1v1h-1zM134,0h1v1h-1zM158,0h1v1h-1zM161,0h1v1h-1zM164,0h1v1h-1zM312,0h1v1h-1zM324,0h1v1h-1zM327,0h1v1h-1zM18,1h1v1h-1zM36,1h1v1h-1zM51,1h1v1h-1zM56,1h1v1h-1zM59,1h1v1h-1zM79,1h1v1h-1zM106,1h1v1h-1zM151,1h1v1h-1zM192,1h1v1h-1zM204,1h1v1h-1zM295,1h1v1h-1zM332,1h1v1h-1zM19,2h1v1h-1zM83,2h1v1h-1zM209,2h1v1h-1zM232,2h1v1h-1zM247,2h1v1h-1zM272,2h1v1h-1zM275,2h1v1h-1zM285,2h1v1h-1zM6,3h1v1h-1zM22,3h1v1h-1zM29,3h1v1h-1zM48,3h1v1h-1zM76,3h1v1h-1zM87,3h1v1h-1zM179,3h1v1h-1zM254,3h1v1h-1zM270,3h1v1h-1zM287,3h1v1h-1zM298,3h1v1h-1zM1,4h1v1h-1zM137,4h1v1h-1zM157,4h1v1h-1zM260,4h1v1h-1zM305,4h1v1h-1zM314,4h1v1h-1zM321,4h1v1h-1zM47,5h1v1h-1zM49,5h1v1h-1zM80,5h1v1h-1zM87,5h1v1h-1zM110,5h1v1h-1zM164,5h1v1h-1zM183,5h1v1h-1zM186,5h1v1h-1zM223,5h1v1h-1zM227,5h1v1h-1zM232,5h1v1h-1zM267,5h1v1h-1zM295,5h1v1h-1zM40,6h1v1h-1zM47,6h2v1h-2zM59,6h2v1h-2zM81,6h1v1h-1zM87,6h1v1h-1zM129,6h1v1h-1zM172,6h1v1h-1zM208,6h1v1h-1zM221,6h1v1h-1zM225,6h2v1h-2zM232,6h1v1h-1zM281,6h1v1h-1zM286,6h1v1h-1zM289,6h1v1h-1zM293,6h1v1h-1zM295,6h1v1h-1zM314,6h1v1h-1zM326,6h1v1h-1zM328,6h1v1h-1zM330,6h1v1h-1zM17,7h1v1h-1zM46,7h1v1h-1zM54,7h1v1h-1zM75,7h1v1h-1zM81,7h1v1h-1zM86,7h1v1h-1zM110,7h1v1h-1zM230,7h1v1h-1zM232,7h1v1h-1zM275,7h1v1h-1zM278,7h2v1h-2zM317,7h1v1h-1zM329,7h1v1h-1zM5,8h1v1h-1zM40,8h1v1h-1zM75,8h1v1h-1zM78,8h1v1h-1zM125,8h1v1h-1zM158,8h1v1h-1zM212,8h1v1h-1zM223,8h1v1h-1zM236,8h1v1h-1zM285,8h1v1h-1zM300,8h1v1h-1zM304,8h1v1h-1zM332,8h1v1h-1zM41,9h1v1h-1zM87,9h1v1h-1zM110,9h1v1h-1zM125,9h1v1h-1zM134,9h1v1h-1zM157,9h1v1h-1zM160,9h1v1h-1zM180,9h1v1h-1zM283,9h1v1h-1zM296,9h1v1h-1zM37,10h1v1h-1zM54,10h1v1h-1zM56,10h1v1h-1zM75,10h1v1h-1zM94,10h1v1h-1zM110,10h1v1h-1zM116,10h1v1h-1zM131,10h1v1h-1zM158,10h1v1h-1zM169,10h1v1h-1zM171,10h1v1h-1zM174,10h1v1h-1zM177,10h1v1h-1zM206,10h2v1h-2zM216,10h1v1h-1zM222,10h1v1h-1zM226,10h1v1h-1zM229,10h1v1h-1zM244,10h1v1h-1zM263,10h1v1h-1zM273,10h1v1h-1zM286,10h1v1h-1zM312,10h1v1h-1zM324,10h1v1h-1zM331,10h1v1h-1zM42,11h1v1h-1zM80,11h1v1h-1zM107,11h1v1h-1zM113,11h1v1h-1zM138,11h2v1h-2zM164,11h1v1h-1zM177,11h1v1h-1zM230,11h1v1h-1zM234,11h1v1h-1zM271,11h1v1h-1zM276,11h1v1h-1zM281,11h2v1h-2zM285,11h1v1h-1zM294,11h1v1h-1zM338,11h1v1h-1zM22,12h1v1h-1zM24,12h1v1h-1zM93,12h1v1h-1zM103,12h1v1h-1zM115,12h1v1h-1zM208,12h2v1h-2zM220,12h1v1h-1zM245,12h1v1h-1zM269,12h1v1h-1zM287,12h1v1h-1zM326,12h1v1h-1zM328,12h1v1h-1zM332,12h1v1h-1zM53,13h1v1h-1zM57,13h1v1h-1zM73,13h1v1h-1zM87,13h1v1h-1zM160,13h1v1h-1zM179,13h1v1h-1zM205,13h2v1h-2zM216,13h1v1h-1zM236,13h1v1h-1zM271,13h1v1h-1zM289,13h1v1h-1zM315,13h1v1h-1zM322,13h1v1h-1zM333,13h1v1h-1zM62,14h1v1h-1zM80,14h1v1h-1zM84,14h1v1h-1zM117,14h1v1h-1zM123,14h1v1h-1zM129,14h2v1h-2zM140,14h1v1h-1zM171,14h1v1h-1zM178,14h1v1h-1zM229,14h1v1h-1zM276,14h1v1h-1zM299,14h1v1h-1zM321,14h1v1h-1zM127,15h1v1h-1zM183,15h1v1h-1zM202,15h1v1h-1zM274,15h1v1h-1zM294,15h1v1h-1zM300,15h1v1h-1zM325,15h1v1h-1zM329,15h1v1h-1zM23,16h1v1h-1zM79,16h1v1h-1zM113,16h1v1h-1zM118,16h1v1h-1zM129,16h1v1h-1zM131,16h1v1h-1zM135,16h1v1h-1zM140,16h1v1h-1zM177,16h1v1h-1zM221,16h1v1h-1zM273,16h1v1h-1zM284,16h1v1h-1zM292,16h1v1h-1zM294,16h1v1h-1zM312,16h1v1h-1zM322,16h1v1h-1zM36,17h1v1h-1zM46,17h1v1h-1zM58,17h1v1h-1zM82,17h1v1h-1zM98,17h1v1h-1zM143,17h1v1h-1zM211,17h1v1h-1zM219,17h1v1h-1zM221,17h1v1h-1zM226,17h1v1h-1zM304,17h1v1h-1zM313,17h1v1h-1zM324,17h1v1h-1zM73,18h1v1h-1zM85,18h1v1h-1zM95,18h1v1h-1zM135,18h1v1h-1zM169,18h1v1h-1zM222,18h1v1h-1zM224,18h1v1h-1zM299,18h1v1h-1zM322,18h1v1h-1zM11,19h1v1h-1zM38,19h1v1h-1zM94,19h1v1h-1zM106,19h1v1h-1zM108,19h1v1h-1zM111,19h2v1h-2zM129,19h1v1h-1zM135,19h1v1h-1zM138,19h1v1h-1zM172,19h1v1h-1zM202,19h1v1h-1zM216,19h1v1h-1zM228,19h1v1h-1zM280,19h1v1h-1zM315,19h1v1h-1zM333,19h1v1h-1zM205,21h1v1h-1zM209,21h1v1h-1zM235,21h1v1h-1zM272,21h1v1h-1zM282,21h1v1h-1zM284,21h1v1h-1z"/><path fill="#8db0fe" d="M73,0h1v1h-1zM231,0h1v1h-1zM277,0h1v1h-1zM296,0h1v1h-1zM314,0h1v1h-1zM125,1h1v1h-1zM134,1h1v1h-1zM148,1h1v1h-1zM160,1h1v1h-1zM196,1h1v1h-1zM212,1h1v1h-1zM277,1h1v1h-1zM300,1h1v1h-1zM307,1h1v1h-1zM314,1h1v1h-1zM330,1h1v1h-1zM32,2h1v1h-1zM44,2h1v1h-1zM93,2h1v1h-1zM212,2h1v1h-1zM238,2h1v1h-1zM298,2h1v1h-1zM116,3h1v1h-1zM134,3h1v1h-1zM142,3h1v1h-1zM162,3h1v1h-1zM234,3h1v1h-1zM267,3h1v1h-1zM297,3h1v1h-1zM304,3h1v1h-1zM324,3h1v1h-1zM327,3h1v1h-1zM332,3h1v1h-1zM65,4h1v1h-1zM83,4h1v1h-1zM121,4h1v1h-1zM124,4h1v1h-1zM212,4h1v1h-1zM214,4h1v1h-1zM267,4h1v1h-1zM43,5h1v1h-1zM45,5h1v1h-1zM121,5h1v1h-1zM195,5h1v1h-1zM204,5h1v1h-1zM207,5h1v1h-1zM233,5h1v1h-1zM269,5h1v1h-1zM297,5h2v1h-2zM43,6h1v1h-1zM61,6h1v1h-1zM110,6h2v1h-2zM120,6h2v1h-2zM207,6h1v1h-1zM215,6h1v1h-1zM222,6h1v1h-1zM224,6h1v1h-1zM231,6h1v1h-1zM237,6h1v1h-1zM253,6h1v1h-1zM275,6h1v1h-1zM285,6h1v1h-1zM304,6h1v1h-1zM38,7h1v1h-1zM40,7h1v1h-1zM48,7h1v1h-1zM50,7h1v1h-1zM53,7h1v1h-1zM55,7h1v1h-1zM60,7h1v1h-1zM83,7h2v1h-2zM89,7h1v1h-1zM111,7h1v1h-1zM116,7h1v1h-1zM123,7h1v1h-1zM146,7h1v1h-1zM157,7h1v1h-1zM163,7h1v1h-1zM165,7h1v1h-1zM169,7h1v1h-1zM172,7h2v1h-2zM182,7h1v1h-1zM205,7h1v1h-1zM207,7h1v1h-1zM221,7h2v1h-2zM236,7h1v1h-1zM260,7h1v1h-1zM276,7h1v1h-1zM286,7h1v1h-1zM293,7h1v1h-1zM321,7h1v1h-1zM332,7h2v1h-2zM77,8h1v1h-1zM86,8h1v1h-1zM103,8h1v1h-1zM115,8h1v1h-1zM118,8h1v1h-1zM122,8h1v1h-1zM160,8h1v1h-1zM227,8h1v1h-1zM229,8h1v1h-1zM249,8h1v1h-1zM310,8h1v1h-1zM49,9h1v1h-1zM74,9h1v1h-1zM115,9h1v1h-1zM128,9h1v1h-1zM163,9h1v1h-1zM170,9h1v1h-1zM205,9h1v1h-1zM219,9h1v1h-1zM228,9h1v1h-1zM267,9h1v1h-1zM269,9h1v1h-1zM277,9h1v1h-1zM327,9h1v1h-1zM330,9h1v1h-1zM38,10h1v1h-1zM52,10h2v1h-2zM61,10h1v1h-1zM80,10h1v1h-1zM84,10h1v1h-1zM91,10h1v1h-1zM96,10h1v1h-1zM111,10h1v1h-1zM119,10h1v1h-1zM128,10h1v1h-1zM139,10h1v1h-1zM184,10h1v1h-1zM205,10h1v1h-1zM215,10h1v1h-1zM228,10h1v1h-1zM281,10h1v1h-1zM283,10h1v1h-1zM300,10h1v1h-1zM318,10h1v1h-1zM330,10h1v1h-1zM333,10h1v1h-1zM73,11h1v1h-1zM84,11h1v1h-1zM119,11h1v1h-1zM136,11h1v1h-1zM158,11h1v1h-1zM167,11h1v1h-1zM169,11h1v1h-1zM171,11h1v1h-1zM174,11h2v1h-2zM219,11h1v1h-1zM225,11h2v1h-2zM231,11h1v1h-1zM235,11h1v1h-1zM237,11h1v1h-1zM263,11h1v1h-1zM267,11h1v1h-1zM273,11h1v1h-1zM275,11h1v1h-1zM286,11h1v1h-1zM313,11h1v1h-1zM315,11h1v1h-1zM321,11h1v1h-1zM330,11h1v1h-1zM1,12h2v1h-2zM4,12h1v1h-1zM8,12h1v1h-1zM12,12h2v1h-2zM18,12h2v1h-2zM23,12h1v1h-1zM61,12h1v1h-1zM138,12h1v1h-1zM141,12h1v1h-1zM157,12h1v1h-1zM161,12h1v1h-1zM175,12h1v1h-1zM211,12h1v1h-1zM218,12h1v1h-1zM227,12h1v1h-1zM270,12h2v1h-2zM320,12h1v1h-1zM329,12h1v1h-1zM43,13h1v1h-1zM59,13h1v1h-1zM88,13h1v1h-1zM96,13h1v1h-1zM165,13h1v1h-1zM169,13h1v1h-1zM174,13h1v1h-1zM207,13h1v1h-1zM211,13h1v1h-1zM214,13h1v1h-1zM220,13h1v1h-1zM284,13h1v1h-1zM286,13h1v1h-1zM300,13h1v1h-1zM326,13h1v1h-1zM7,14h1v1h-1zM11,14h1v1h-1zM22,14h1v1h-1zM36,14h2v1h-2zM52,14h1v1h-1zM75,14h1v1h-1zM88,14h1v1h-1zM108,14h1v1h-1zM120,14h1v1h-1zM122,14h1v1h-1zM126,14h1v1h-1zM131,14h1v1h-1zM142,14h1v1h-1zM156,14h2v1h-2zM162,14h1v1h-1zM166,14h1v1h-1zM199,14h1v1h-1zM202,14h1v1h-1zM211,14h1v1h-1zM219,14h1v1h-1zM265,14h1v1h-1zM271,14h1v1h-1zM282,14h1v1h-1zM288,14h1v1h-1zM316,14h1v1h-1zM318,14h1v1h-1zM75,15h1v1h-1zM82,15h1v1h-1zM84,15h1v1h-1zM94,15h1v1h-1zM139,15h1v1h-1zM161,15h1v1h-1zM219,15h1v1h-1zM285,15h1v1h-1zM311,15h1v1h-1zM328,15h1v1h-1zM333,15h1v1h-1zM38,16h1v1h-1zM62,16h1v1h-1zM76,16h1v1h-1zM82,16h1v1h-1zM95,16h1v1h-1zM108,16h1v1h-1zM110,16h1v1h-1zM112,16h1v1h-1zM126,16h1v1h-1zM128,16h1v1h-1zM166,16h1v1h-1zM179,16h1v1h-1zM202,16h1v1h-1zM229,16h1v1h-1zM231,16h1v1h-1zM288,16h1v1h-1zM297,16h1v1h-1zM331,16h1v1h-1zM63,17h1v1h-1zM99,17h1v1h-1zM133,17h1v1h-1zM172,17h1v1h-1zM177,17h1v1h-1zM193,17h1v1h-1zM264,17h1v1h-1zM274,17h1v1h-1zM289,17h1v1h-1zM16,18h1v1h-1zM43,18h1v1h-1zM82,18h1v1h-1zM94,18h1v1h-1zM96,18h1v1h-1zM106,18h1v1h-1zM114,18h1v1h-1zM156,18h1v1h-1zM173,18h1v1h-1zM176,18h1v1h-1zM178,18h1v1h-1zM284,18h1v1h-1zM311,18h1v1h-1zM2,19h1v1h-1zM45,19h1v1h-1zM59,19h1v1h-1zM63,19h1v1h-1zM75,19h1v1h-1zM80,19h1v1h-1zM84,19h1v1h-1zM88,19h3v1h-3zM114,19h1v1h-1zM130,19h2v1h-2zM136,19h1v1h-1zM152,19h1v1h-1zM170,19h1v1h-1zM268,19h1v1h-1zM316,19h1v1h-1zM329,19h1v1h-1zM93,21h1v1h-1zM137,21h1v1h-1zM160,21h1v1h-1zM171,21h1v1h-1zM206,21h1v1h-1zM219,21h1v1h-1zM226,21h1v1h-1zM280,21h1v1h-1zM313,21h1v1h-1zM323,21h1v1h-1zM333,21h1v1h-1z"/><path fill="#96b7ff" d="M47,0h1v1h-1zM87,0h1v1h-1zM116,0h1v1h-1zM233,0h1v1h-1zM236,0h2v1h-2zM276,0h1v1h-1zM294,0h1v1h-1zM333,0h1v1h-1zM46,1h1v1h-1zM121,1h1v1h-1zM124,1h1v1h-1zM218,1h1v1h-1zM224,1h1v1h-1zM236,1h1v1h-1zM296,1h1v1h-1zM323,1h2v1h-2zM357,1h1v1h-1zM2,2h1v1h-1zM39,2h1v1h-1zM53,2h1v1h-1zM78,2h1v1h-1zM86,2h1v1h-1zM94,2h1v1h-1zM127,2h1v1h-1zM211,2h1v1h-1zM227,2h1v1h-1zM267,2h1v1h-1zM278,2h1v1h-1zM327,2h1v1h-1zM7,3h1v1h-1zM133,3h1v1h-1zM223,3h1v1h-1zM302,3h1v1h-1zM44,4h1v1h-1zM76,4h1v1h-1zM123,4h1v1h-1zM160,4h1v1h-1zM304,4h1v1h-1zM313,4h1v1h-1zM332,4h1v1h-1zM7,5h1v1h-1zM61,5h1v1h-1zM94,5h1v1h-1zM96,5h1v1h-1zM113,5h1v1h-1zM132,5h1v1h-1zM201,5h1v1h-1zM206,5h1v1h-1zM230,5h1v1h-1zM286,5h2v1h-2zM315,5h1v1h-1zM321,5h1v1h-1zM324,5h1v1h-1zM335,5h1v1h-1zM38,6h1v1h-1zM58,6h1v1h-1zM73,6h1v1h-1zM75,6h1v1h-1zM77,6h1v1h-1zM88,6h1v1h-1zM103,6h1v1h-1zM106,6h1v1h-1zM130,6h1v1h-1zM133,6h1v1h-1zM158,6h1v1h-1zM161,6h1v1h-1zM167,6h1v1h-1zM175,6h1v1h-1zM210,6h2v1h-2zM214,6h1v1h-1zM216,6h1v1h-1zM276,6h1v1h-1zM279,6h1v1h-1zM294,6h1v1h-1zM300,6h1v1h-1zM312,6h2v1h-2zM319,6h4v1h-4zM39,7h1v1h-1zM43,7h1v1h-1zM59,7h1v1h-1zM73,7h1v1h-1zM77,7h1v1h-1zM113,7h1v1h-1zM130,7h1v1h-1zM138,7h1v1h-1zM141,7h1v1h-1zM158,7h1v1h-1zM161,7h1v1h-1zM177,7h1v1h-1zM218,7h1v1h-1zM280,7h1v1h-1zM290,7h1v1h-1zM312,7h1v1h-1zM330,7h2v1h-2zM37,8h1v1h-1zM41,8h1v1h-1zM134,8h1v1h-1zM173,8h1v1h-1zM206,8h1v1h-1zM234,8h1v1h-1zM324,8h1v1h-1zM22,9h1v1h-1zM37,9h1v1h-1zM106,9h1v1h-1zM116,9h1v1h-1zM218,9h1v1h-1zM224,9h1v1h-1zM227,9h1v1h-1zM278,9h1v1h-1zM287,9h1v1h-1zM298,9h1v1h-1zM304,9h1v1h-1zM333,9h1v1h-1zM45,10h1v1h-1zM62,10h1v1h-1zM73,10h1v1h-1zM87,10h1v1h-1zM98,10h1v1h-1zM136,10h1v1h-1zM138,10h1v1h-1zM165,10h1v1h-1zM172,10h2v1h-2zM178,10h1v1h-1zM203,10h1v1h-1zM210,10h2v1h-2zM214,10h1v1h-1zM217,10h1v1h-1zM257,10h1v1h-1zM289,10h1v1h-1zM299,10h1v1h-1zM303,10h2v1h-2zM315,10h2v1h-2zM55,11h1v1h-1zM83,11h1v1h-1zM99,11h1v1h-1zM130,11h1v1h-1zM166,11h1v1h-1zM176,11h1v1h-1zM202,11h1v1h-1zM205,11h1v1h-1zM208,11h1v1h-1zM215,11h1v1h-1zM217,11h1v1h-1zM245,11h1v1h-1zM260,11h1v1h-1zM279,11h1v1h-1zM284,11h1v1h-1zM288,11h2v1h-2zM299,11h1v1h-1zM325,11h1v1h-1zM0,12h1v1h-1zM3,12h1v1h-1zM5,12h1v1h-1zM7,12h1v1h-1zM9,12h1v1h-1zM11,12h1v1h-1zM17,12h1v1h-1zM26,12h1v1h-1zM77,12h1v1h-1zM134,12h1v1h-1zM148,12h1v1h-1zM234,12h1v1h-1zM312,12h1v1h-1zM315,12h1v1h-1zM317,12h1v1h-1zM321,12h1v1h-1zM330,12h2v1h-2zM349,12h1v1h-1zM37,13h1v1h-1zM39,13h1v1h-1zM42,13h1v1h-1zM48,13h1v1h-1zM54,13h1v1h-1zM60,13h1v1h-1zM120,13h1v1h-1zM123,13h1v1h-1zM133,13h1v1h-1zM157,13h2v1h-2zM161,13h1v1h-1zM175,13h1v1h-1zM215,13h1v1h-1zM219,13h1v1h-1zM222,13h1v1h-1zM228,13h1v1h-1zM237,13h1v1h-1zM280,13h2v1h-2zM287,13h1v1h-1zM290,13h1v1h-1zM292,13h1v1h-1zM318,13h1v1h-1zM329,13h1v1h-1zM50,14h2v1h-2zM57,14h1v1h-1zM60,14h2v1h-2zM72,14h1v1h-1zM91,14h1v1h-1zM112,14h1v1h-1zM134,14h2v1h-2zM143,14h1v1h-1zM163,14h1v1h-1zM232,14h1v1h-1zM291,14h1v1h-1zM325,14h1v1h-1zM7,15h1v1h-1zM74,15h1v1h-1zM97,15h1v1h-1zM106,15h1v1h-1zM122,15h1v1h-1zM126,15h1v1h-1zM135,15h1v1h-1zM168,15h1v1h-1zM176,15h1v1h-1zM201,15h1v1h-1zM221,15h1v1h-1zM22,16h1v1h-1zM85,16h1v1h-1zM92,16h1v1h-1zM94,16h1v1h-1zM98,16h2v1h-2zM120,16h1v1h-1zM157,16h1v1h-1zM186,16h1v1h-1zM219,16h1v1h-1zM250,16h1v1h-1zM281,16h1v1h-1zM290,16h1v1h-1zM326,16h1v1h-1zM75,17h1v1h-1zM106,17h1v1h-1zM108,17h2v1h-2zM201,17h1v1h-1zM203,17h1v1h-1zM210,17h1v1h-1zM31,18h1v1h-1zM46,18h1v1h-1zM53,18h1v1h-1zM74,18h1v1h-1zM126,18h1v1h-1zM143,18h1v1h-1zM153,18h2v1h-2zM160,18h1v1h-1zM166,18h1v1h-1zM191,18h1v1h-1zM36,19h1v1h-1zM95,19h1v1h-1zM98,19h1v1h-1zM107,19h1v1h-1zM120,19h1v1h-1zM127,19h1v1h-1zM183,19h1v1h-1zM203,19h1v1h-1zM285,19h1v1h-1zM311,19h1v1h-1zM38,21h1v1h-1zM42,21h1v1h-1zM44,21h1v1h-1zM52,21h1v1h-1zM54,21h1v1h-1zM123,21h1v1h-1zM212,21h1v1h-1zM218,21h1v1h-1zM223,21h1v1h-1zM231,21h1v1h-1zM233,21h1v1h-1zM294,21h2v1h-2zM315,21h1v1h-1z"/><path fill="#9fbeff" d="M50,0h1v1h-1zM110,0h1v1h-1zM130,0h1v1h-1zM148,0h1v1h-1zM205,0h1v1h-1zM223,0h1v1h-1zM227,0h1v1h-1zM83,1h1v1h-1zM93,1h1v1h-1zM220,1h1v1h-1zM223,1h1v1h-1zM225,1h1v1h-1zM230,1h1v1h-1zM232,1h1v1h-1zM270,1h1v1h-1zM76,2h1v1h-1zM87,2h1v1h-1zM124,2h2v1h-2zM134,2h1v1h-1zM236,2h1v1h-1zM329,2h1v1h-1zM40,3h1v1h-1zM60,3h1v1h-1zM83,3h1v1h-1zM121,3h1v1h-1zM204,3h1v1h-1zM218,3h1v1h-1zM232,3h1v1h-1zM277,3h1v1h-1zM314,3h1v1h-1zM322,3h1v1h-1zM92,4h1v1h-1zM118,4h2v1h-2zM129,4h1v1h-1zM164,4h1v1h-1zM174,4h1v1h-1zM282,4h1v1h-1zM287,4h1v1h-1zM296,4h2v1h-2zM40,5h1v1h-1zM85,5h1v1h-1zM97,5h1v1h-1zM119,5h1v1h-1zM175,5h1v1h-1zM202,5h1v1h-1zM222,5h1v1h-1zM320,5h1v1h-1zM329,5h1v1h-1zM349,5h1v1h-1zM37,6h1v1h-1zM51,6h1v1h-1zM55,6h1v1h-1zM92,6h1v1h-1zM97,6h1v1h-1zM114,6h1v1h-1zM117,6h1v1h-1zM136,6h1v1h-1zM138,6h3v1h-3zM157,6h1v1h-1zM165,6h1v1h-1zM173,6h1v1h-1zM203,6h1v1h-1zM271,6h1v1h-1zM278,6h1v1h-1zM280,6h1v1h-1zM292,6h1v1h-1zM323,6h1v1h-1zM7,7h1v1h-1zM47,7h1v1h-1zM51,7h1v1h-1zM85,7h1v1h-1zM90,7h1v1h-1zM96,7h1v1h-1zM120,7h1v1h-1zM128,7h1v1h-1zM174,7h1v1h-1zM202,7h1v1h-1zM228,7h1v1h-1zM271,7h1v1h-1zM328,7h1v1h-1zM93,8h1v1h-1zM129,8h1v1h-1zM169,8h1v1h-1zM204,8h1v1h-1zM222,8h1v1h-1zM237,8h1v1h-1zM275,8h1v1h-1zM277,8h1v1h-1zM40,9h1v1h-1zM73,9h1v1h-1zM111,9h1v1h-1zM185,9h1v1h-1zM223,9h1v1h-1zM234,9h1v1h-1zM275,9h1v1h-1zM46,10h1v1h-1zM85,10h1v1h-1zM92,10h1v1h-1zM114,10h1v1h-1zM123,10h1v1h-1zM129,10h2v1h-2zM133,10h1v1h-1zM141,10h1v1h-1zM157,10h1v1h-1zM175,10h1v1h-1zM221,10h1v1h-1zM230,10h1v1h-1zM237,10h1v1h-1zM264,10h1v1h-1zM279,10h1v1h-1zM284,10h1v1h-1zM317,10h1v1h-1zM320,10h1v1h-1zM36,11h1v1h-1zM52,11h2v1h-2zM57,11h1v1h-1zM61,11h1v1h-1zM77,11h1v1h-1zM81,11h1v1h-1zM91,11h2v1h-2zM118,11h1v1h-1zM120,11h1v1h-1zM161,11h1v1h-1zM165,11h1v1h-1zM203,11h1v1h-1zM211,11h1v1h-1zM218,11h1v1h-1zM274,11h1v1h-1zM304,11h1v1h-1zM318,11h1v1h-1zM323,11h1v1h-1zM326,11h1v1h-1zM328,11h1v1h-1zM6,12h1v1h-1zM10,12h1v1h-1zM15,12h1v1h-1zM20,12h1v1h-1zM25,12h1v1h-1zM42,12h1v1h-1zM54,12h2v1h-2zM118,12h1v1h-1zM135,12h1v1h-1zM139,12h1v1h-1zM164,12h1v1h-1zM167,12h1v1h-1zM173,12h1v1h-1zM205,12h2v1h-2zM217,12h1v1h-1zM233,12h1v1h-1zM266,12h1v1h-1zM304,12h1v1h-1zM50,13h1v1h-1zM61,13h1v1h-1zM79,13h2v1h-2zM89,13h1v1h-1zM94,13h2v1h-2zM98,13h1v1h-1zM113,13h1v1h-1zM118,13h2v1h-2zM136,13h1v1h-1zM138,13h2v1h-2zM167,13h1v1h-1zM173,13h1v1h-1zM176,13h1v1h-1zM201,13h2v1h-2zM230,13h1v1h-1zM273,13h1v1h-1zM294,13h1v1h-1zM313,13h1v1h-1zM323,13h1v1h-1zM328,13h1v1h-1zM361,13h1v1h-1zM64,14h1v1h-1zM92,14h1v1h-1zM99,14h1v1h-1zM113,14h2v1h-2zM118,14h1v1h-1zM177,14h1v1h-1zM290,14h1v1h-1zM72,15h1v1h-1zM81,15h1v1h-1zM99,15h1v1h-1zM108,15h1v1h-1zM117,15h1v1h-1zM131,15h1v1h-1zM280,15h1v1h-1zM319,15h1v1h-1zM2,16h1v1h-1zM55,16h1v1h-1zM74,16h1v1h-1zM117,16h1v1h-1zM136,16h1v1h-1zM175,16h1v1h-1zM201,16h1v1h-1zM279,16h1v1h-1zM304,16h1v1h-1zM325,16h1v1h-1zM72,17h1v1h-1zM81,17h1v1h-1zM88,17h1v1h-1zM95,17h1v1h-1zM97,17h1v1h-1zM100,17h1v1h-1zM117,17h1v1h-1zM122,17h1v1h-1zM135,17h1v1h-1zM138,17h1v1h-1zM142,17h1v1h-1zM148,17h1v1h-1zM152,17h1v1h-1zM7,18h1v1h-1zM64,18h1v1h-1zM75,18h1v1h-1zM98,18h1v1h-1zM109,18h1v1h-1zM304,18h1v1h-1zM310,18h1v1h-1zM34,19h1v1h-1zM42,19h1v1h-1zM79,19h1v1h-1zM117,19h1v1h-1zM126,19h1v1h-1zM128,19h1v1h-1zM148,19h1v1h-1zM156,19h1v1h-1zM304,19h1v1h-1zM43,21h1v1h-1zM46,21h1v1h-1zM48,21h1v1h-1zM51,21h1v1h-1zM53,21h1v1h-1zM59,21h1v1h-1zM62,21h1v1h-1zM78,21h1v1h-1zM84,21h1v1h-1zM92,21h1v1h-1zM110,21h1v1h-1zM120,21h2v1h-2zM127,21h1v1h-1zM131,21h2v1h-2zM134,21h1v1h-1zM157,21h2v1h-2zM163,21h3v1h-3zM172,21h2v1h-2zM175,21h1v1h-1zM210,21h1v1h-1zM213,21h1v1h-1zM215,21h1v1h-1zM217,21h1v1h-1zM229,21h1v1h-1zM236,21h1v1h-1zM267,21h1v1h-1zM270,21h1v1h-1zM290,21h1v1h-1zM297,21h1v1h-1zM317,21h2v1h-2z"/><path fill="#a7c5fe" d="M7,0h1v1h-1zM40,0h1v1h-1zM42,0h1v1h-1zM48,0h1v1h-1zM57,0h2v1h-2zM96,0h1v1h-1zM171,0h1v1h-1zM203,0h1v1h-1zM215,0h1v1h-1zM217,0h2v1h-2zM220,0h1v1h-1zM222,0h1v1h-1zM228,0h1v1h-1zM316,0h1v1h-1zM332,0h1v1h-1zM7,1h1v1h-1zM37,1h1v1h-1zM68,1h1v1h-1zM87,1h1v1h-1zM116,1h1v1h-1zM164,1h1v1h-1zM208,1h1v1h-1zM311,1h1v1h-1zM40,2h1v1h-1zM49,2h1v1h-1zM96,2h1v1h-1zM110,2h1v1h-1zM116,2h1v1h-1zM121,2h1v1h-1zM123,2h1v1h-1zM205,2h1v1h-1zM233,2h2v1h-2zM304,2h1v1h-1zM332,2h2v1h-2zM341,2h1v1h-1zM101,3h1v1h-1zM111,3h1v1h-1zM158,3h1v1h-1zM236,3h1v1h-1zM275,3h1v1h-1zM278,3h1v1h-1zM311,3h1v1h-1zM2,4h1v1h-1zM60,4h1v1h-1zM73,4h1v1h-1zM93,4h1v1h-1zM96,4h1v1h-1zM158,4h1v1h-1zM172,4h1v1h-1zM176,4h1v1h-1zM215,4h1v1h-1zM224,4h1v1h-1zM227,4h1v1h-1zM230,4h1v1h-1zM233,4h1v1h-1zM245,4h1v1h-1zM270,4h1v1h-1zM278,4h2v1h-2zM281,4h1v1h-1zM312,4h1v1h-1zM329,4h1v1h-1zM333,4h1v1h-1zM37,5h1v1h-1zM50,5h1v1h-1zM52,5h1v1h-1zM55,5h1v1h-1zM59,5h1v1h-1zM73,5h1v1h-1zM81,5h1v1h-1zM92,5h1v1h-1zM106,5h1v1h-1zM114,5h1v1h-1zM126,5h1v1h-1zM144,5h1v1h-1zM158,5h1v1h-1zM166,5h1v1h-1zM177,5h1v1h-1zM179,5h1v1h-1zM191,5h1v1h-1zM203,5h1v1h-1zM208,5h1v1h-1zM211,5h1v1h-1zM218,5h2v1h-2zM221,5h1v1h-1zM226,5h1v1h-1zM228,5h1v1h-1zM268,5h1v1h-1zM289,5h1v1h-1zM291,5h1v1h-1zM304,5h1v1h-1zM319,5h1v1h-1zM322,5h1v1h-1zM326,5h1v1h-1zM330,5h1v1h-1zM345,5h1v1h-1zM0,6h1v1h-1zM42,6h1v1h-1zM50,6h1v1h-1zM54,6h1v1h-1zM57,6h1v1h-1zM94,6h1v1h-1zM99,6h1v1h-1zM112,6h1v1h-1zM119,6h1v1h-1zM123,6h1v1h-1zM131,6h1v1h-1zM148,6h1v1h-1zM168,6h1v1h-1zM229,6h1v1h-1zM299,6h1v1h-1zM315,6h2v1h-2zM325,6h1v1h-1zM52,7h1v1h-1zM57,7h1v1h-1zM64,7h1v1h-1zM79,7h1v1h-1zM101,7h1v1h-1zM117,7h2v1h-2zM126,7h1v1h-1zM129,7h1v1h-1zM140,7h1v1h-1zM171,7h1v1h-1zM178,7h1v1h-1zM188,7h1v1h-1zM237,7h1v1h-1zM266,7h1v1h-1zM274,7h1v1h-1zM284,7h2v1h-2zM289,7h1v1h-1zM300,7h1v1h-1zM304,7h1v1h-1zM318,7h1v1h-1zM47,8h2v1h-2zM83,8h1v1h-1zM89,8h1v1h-1zM110,8h1v1h-1zM167,8h1v1h-1zM218,8h1v1h-1zM220,8h1v1h-1zM225,8h1v1h-1zM322,8h1v1h-1zM7,9h1v1h-1zM121,9h1v1h-1zM192,9h1v1h-1zM206,9h2v1h-2zM231,9h3v1h-3zM270,9h1v1h-1zM274,9h1v1h-1zM311,9h1v1h-1zM315,9h1v1h-1zM321,9h1v1h-1zM323,9h1v1h-1zM353,9h1v1h-1zM2,10h1v1h-1zM39,10h1v1h-1zM43,10h1v1h-1zM50,10h1v1h-1zM55,10h1v1h-1zM88,10h1v1h-1zM90,10h1v1h-1zM142,10h1v1h-1zM148,10h1v1h-1zM161,10h1v1h-1zM170,10h1v1h-1zM176,10h1v1h-1zM202,10h1v1h-1zM233,10h1v1h-1zM285,10h1v1h-1zM292,10h2v1h-2zM311,10h1v1h-1zM325,10h1v1h-1zM328,10h1v1h-1zM7,11h1v1h-1zM34,11h2v1h-2zM48,11h1v1h-1zM58,11h1v1h-1zM85,11h1v1h-1zM114,11h1v1h-1zM128,11h1v1h-1zM135,11h1v1h-1zM141,11h1v1h-1zM143,11h1v1h-1zM163,11h1v1h-1zM168,11h1v1h-1zM184,11h1v1h-1zM214,11h1v1h-1zM222,11h1v1h-1zM291,11h1v1h-1zM317,11h1v1h-1zM14,12h1v1h-1zM16,12h1v1h-1zM21,12h1v1h-1zM40,12h1v1h-1zM46,12h1v1h-1zM48,12h1v1h-1zM73,12h1v1h-1zM128,12h1v1h-1zM136,12h1v1h-1zM177,12h1v1h-1zM184,12h1v1h-1zM204,12h1v1h-1zM210,12h1v1h-1zM228,12h1v1h-1zM230,12h1v1h-1zM243,12h1v1h-1zM278,12h1v1h-1zM284,12h2v1h-2zM291,12h1v1h-1zM311,12h1v1h-1zM322,12h1v1h-1zM325,12h1v1h-1zM4,13h1v1h-1zM29,13h1v1h-1zM34,13h1v1h-1zM38,13h1v1h-1zM45,13h1v1h-1zM85,13h1v1h-1zM90,13h1v1h-1zM106,13h1v1h-1zM110,13h2v1h-2zM128,13h1v1h-1zM166,13h1v1h-1zM172,13h1v1h-1zM210,13h1v1h-1zM275,13h1v1h-1zM279,13h1v1h-1zM285,13h1v1h-1zM288,13h1v1h-1zM291,13h1v1h-1zM304,13h1v1h-1zM320,13h1v1h-1zM362,13h1v1h-1zM127,14h2v1h-2zM167,14h1v1h-1zM179,14h1v1h-1zM310,14h1v1h-1zM356,14h1v1h-1zM64,15h1v1h-1zM98,15h1v1h-1zM120,15h1v1h-1zM156,15h1v1h-1zM178,15h1v1h-1zM310,15h1v1h-1zM7,16h1v1h-1zM61,16h1v1h-1zM64,16h1v1h-1zM91,16h1v1h-1zM97,16h1v1h-1zM138,16h1v1h-1zM142,16h1v1h-1zM156,16h1v1h-1zM210,16h1v1h-1zM262,16h1v1h-1zM7,17h1v1h-1zM28,17h1v1h-1zM128,17h1v1h-1zM140,17h1v1h-1zM238,17h1v1h-1zM346,17h1v1h-1zM363,17h1v1h-1zM2,18h1v1h-1zM36,18h1v1h-1zM108,18h1v1h-1zM144,18h1v1h-1zM151,18h1v1h-1zM323,18h1v1h-1zM55,19h1v1h-1zM64,19h1v1h-1zM72,19h1v1h-1zM91,19h1v1h-1zM141,19h1v1h-1zM265,19h1v1h-1zM39,21h1v1h-1zM41,21h1v1h-1zM47,21h1v1h-1zM57,21h2v1h-2zM80,21h1v1h-1zM89,21h1v1h-1zM94,21h1v1h-1zM111,21h2v1h-2zM116,21h1v1h-1zM124,21h1v1h-1zM136,21h1v1h-1zM141,21h1v1h-1zM159,21h1v1h-1zM176,21h2v1h-2zM202,21h1v1h-1zM207,21h1v1h-1zM211,21h1v1h-1zM214,21h1v1h-1zM216,21h1v1h-1zM227,21h1v1h-1zM230,21h1v1h-1zM232,21h1v1h-1zM266,21h1v1h-1zM268,21h2v1h-2zM275,21h5v1h-5zM283,21h1v1h-1zM288,21h2v1h-2zM291,21h2v1h-2zM300,21h1v1h-1zM324,21h1v1h-1zM328,21h1v1h-1zM331,21h1v1h-1z"/><path fill="#b0cafc" d="M2,0h1v1h-1zM36,0h4v1h-4zM59,0h2v1h-2zM84,0h1v1h-1zM97,0h1v1h-1zM106,0h1v1h-1zM111,0h1v1h-1zM114,0h1v1h-1zM117,0h1v1h-1zM119,0h1v1h-1zM129,0h1v1h-1zM131,0h1v1h-1zM135,0h1v1h-1zM143,0h1v1h-1zM157,0h1v1h-1zM178,0h1v1h-1zM201,0h1v1h-1zM204,0h1v1h-1zM206,0h1v1h-1zM230,0h1v1h-1zM270,0h1v1h-1zM273,0h1v1h-1zM284,0h2v1h-2zM320,0h1v1h-1zM323,0h1v1h-1zM329,0h1v1h-1zM42,1h1v1h-1zM108,1h2v1h-2zM111,1h1v1h-1zM131,1h1v1h-1zM144,1h1v1h-1zM207,1h1v1h-1zM228,1h1v1h-1zM233,1h2v1h-2zM237,1h1v1h-1zM293,1h1v1h-1zM362,1h1v1h-1zM58,2h1v1h-1zM60,2h1v1h-1zM115,2h1v1h-1zM119,2h1v1h-1zM130,2h1v1h-1zM141,2h1v1h-1zM193,2h1v1h-1zM237,2h1v1h-1zM289,2h1v1h-1zM330,2h1v1h-1zM344,2h1v1h-1zM355,2h1v1h-1zM50,3h1v1h-1zM80,3h1v1h-1zM96,3h1v1h-1zM119,3h2v1h-2zM129,3h1v1h-1zM164,3h1v1h-1zM177,3h1v1h-1zM202,3h1v1h-1zM207,3h1v1h-1zM227,3h1v1h-1zM233,3h1v1h-1zM291,3h1v1h-1zM312,3h1v1h-1zM316,3h1v1h-1zM331,3h1v1h-1zM333,3h1v1h-1zM7,4h1v1h-1zM42,4h1v1h-1zM50,4h1v1h-1zM59,4h1v1h-1zM134,4h2v1h-2zM139,4h1v1h-1zM186,4h1v1h-1zM206,4h1v1h-1zM247,4h1v1h-1zM275,4h1v1h-1zM294,4h1v1h-1zM302,4h1v1h-1zM363,4h1v1h-1zM38,5h2v1h-2zM42,5h1v1h-1zM51,5h1v1h-1zM64,5h1v1h-1zM88,5h1v1h-1zM98,5h1v1h-1zM117,5h1v1h-1zM122,5h1v1h-1zM129,5h1v1h-1zM136,5h1v1h-1zM138,5h2v1h-2zM157,5h1v1h-1zM169,5h1v1h-1zM172,5h1v1h-1zM215,5h1v1h-1zM217,5h1v1h-1zM231,5h1v1h-1zM237,5h1v1h-1zM271,5h1v1h-1zM275,5h1v1h-1zM325,5h1v1h-1zM328,5h1v1h-1zM7,6h1v1h-1zM72,6h1v1h-1zM84,6h1v1h-1zM96,6h1v1h-1zM98,6h1v1h-1zM113,6h1v1h-1zM122,6h1v1h-1zM143,6h1v1h-1zM155,6h1v1h-1zM159,6h1v1h-1zM163,6h1v1h-1zM174,6h1v1h-1zM201,6h1v1h-1zM219,6h1v1h-1zM266,6h1v1h-1zM288,6h1v1h-1zM311,6h1v1h-1zM2,7h1v1h-1zM9,7h1v1h-1zM45,7h1v1h-1zM61,7h2v1h-2zM72,7h1v1h-1zM74,7h1v1h-1zM80,7h1v1h-1zM92,7h1v1h-1zM99,7h1v1h-1zM114,7h1v1h-1zM119,7h1v1h-1zM127,7h1v1h-1zM143,7h1v1h-1zM156,7h1v1h-1zM168,7h1v1h-1zM179,7h1v1h-1zM185,7h1v1h-1zM204,7h1v1h-1zM265,7h1v1h-1zM268,7h1v1h-1zM288,7h1v1h-1zM291,7h2v1h-2zM52,8h1v1h-1zM57,8h1v1h-1zM60,8h1v1h-1zM62,8h1v1h-1zM73,8h1v1h-1zM84,8h2v1h-2zM159,8h1v1h-1zM161,8h1v1h-1zM171,8h1v1h-1zM176,8h2v1h-2zM201,8h1v1h-1zM221,8h1v1h-1zM224,8h1v1h-1zM254,8h1v1h-1zM270,8h1v1h-1zM274,8h1v1h-1zM328,8h1v1h-1zM330,8h1v1h-1zM333,8h1v1h-1zM57,9h1v1h-1zM77,9h1v1h-1zM81,9h1v1h-1zM98,9h1v1h-1zM113,9h1v1h-1zM123,9h1v1h-1zM139,9h1v1h-1zM159,9h1v1h-1zM168,9h1v1h-1zM172,9h3v1h-3zM203,9h1v1h-1zM221,9h1v1h-1zM225,9h2v1h-2zM271,9h1v1h-1zM280,9h1v1h-1zM282,9h1v1h-1zM289,9h1v1h-1zM292,9h1v1h-1zM309,9h1v1h-1zM313,9h1v1h-1zM326,9h1v1h-1zM329,9h1v1h-1zM347,9h1v1h-1zM26,10h1v1h-1zM64,10h1v1h-1zM72,10h1v1h-1zM77,10h1v1h-1zM120,10h1v1h-1zM126,10h1v1h-1zM135,10h1v1h-1zM140,10h1v1h-1zM166,10h1v1h-1zM179,10h1v1h-1zM201,10h1v1h-1zM219,10h1v1h-1zM280,10h1v1h-1zM288,10h1v1h-1zM294,10h1v1h-1zM301,10h1v1h-1zM310,10h1v1h-1zM43,11h1v1h-1zM74,11h2v1h-2zM82,11h1v1h-1zM88,11h1v1h-1zM96,11h1v1h-1zM106,11h1v1h-1zM117,11h1v1h-1zM133,11h1v1h-1zM148,11h1v1h-1zM150,11h2v1h-2zM156,11h1v1h-1zM159,11h1v1h-1zM178,11h2v1h-2zM192,11h1v1h-1zM53,12h1v1h-1zM57,12h1v1h-1zM59,12h1v1h-1zM75,12h1v1h-1zM108,12h1v1h-1zM119,12h1v1h-1zM123,12h1v1h-1zM126,12h1v1h-1zM133,12h1v1h-1zM151,12h1v1h-1zM179,12h1v1h-1zM202,12h1v1h-1zM207,12h1v1h-1zM214,12h1v1h-1zM222,12h1v1h-1zM279,12h2v1h-2zM288,12h1v1h-1zM293,12h2v1h-2zM51,13h1v1h-1zM84,13h1v1h-1zM92,13h1v1h-1zM135,13h1v1h-1zM141,13h1v1h-1zM148,13h1v1h-1zM150,13h1v1h-1zM221,13h1v1h-1zM229,13h1v1h-1zM231,13h1v1h-1zM268,13h1v1h-1zM274,13h1v1h-1zM276,13h1v1h-1zM319,13h1v1h-1zM321,13h1v1h-1zM349,13h1v1h-1zM100,14h1v1h-1zM136,14h1v1h-1zM165,14h1v1h-1zM200,14h1v1h-1zM238,14h1v1h-1zM264,14h1v1h-1zM292,14h1v1h-1zM311,14h1v1h-1zM348,14h1v1h-1zM34,15h1v1h-1zM36,15h1v1h-1zM109,15h1v1h-1zM140,15h1v1h-1zM143,15h1v1h-1zM148,15h1v1h-1zM155,15h1v1h-1zM179,15h1v1h-1zM185,15h1v1h-1zM247,15h1v1h-1zM35,16h1v1h-1zM127,16h1v1h-1zM144,16h1v1h-1zM178,16h1v1h-1zM192,16h1v1h-1zM264,16h3v1h-3zM347,16h1v1h-1zM352,16h1v1h-1zM35,17h1v1h-1zM101,17h1v1h-1zM120,17h1v1h-1zM311,17h1v1h-1zM0,18h1v1h-1zM8,18h1v1h-1zM32,18h1v1h-1zM63,18h1v1h-1zM72,18h1v1h-1zM117,18h1v1h-1zM130,18h1v1h-1zM179,18h1v1h-1zM184,18h1v1h-1zM243,18h1v1h-1zM245,18h1v1h-1zM357,18h1v1h-1zM109,19h1v1h-1zM142,19h2v1h-2zM179,19h1v1h-1zM357,19h1v1h-1zM49,21h1v1h-1zM60,21h1v1h-1zM73,21h2v1h-2zM79,21h1v1h-1zM81,21h1v1h-1zM86,21h1v1h-1zM96,21h1v1h-1zM108,21h1v1h-1zM117,21h2v1h-2zM125,21h2v1h-2zM133,21h1v1h-1zM138,21h2v1h-2zM166,21h2v1h-2zM170,21h1v1h-1zM208,21h1v1h-1zM220,21h2v1h-2zM225,21h1v1h-1zM238,21h1v1h-1zM273,21h1v1h-1zM281,21h1v1h-1zM287,21h1v1h-1zM314,21h1v1h-1zM326,21h1v1h-1zM329,21h2v1h-2zM332,21h1v1h-1z"/><path fill="#b8d0f9" d="M4,0h1v1h-1zM27,0h1v1h-1zM53,0h2v1h-2zM62,0h1v1h-1zM67,0h1v1h-1zM88,0h1v1h-1zM92,0h1v1h-1zM108,0h2v1h-2zM120,0h1v1h-1zM127,0h1v1h-1zM152,0h2v1h-2zM159,0h1v1h-1zM169,0h1v1h-1zM172,0h4v1h-4zM225,0h1v1h-1zM245,0h1v1h-1zM256,0h1v1h-1zM264,0h1v1h-1zM281,0h1v1h-1zM299,0h1v1h-1zM305,0h1v1h-1zM310,0h1v1h-1zM321,0h1v1h-1zM330,0h2v1h-2zM1,1h1v1h-1zM13,1h1v1h-1zM57,1h1v1h-1zM75,1h1v1h-1zM89,1h1v1h-1zM92,1h1v1h-1zM123,1h1v1h-1zM139,1h1v1h-1zM175,1h1v1h-1zM189,1h1v1h-1zM201,1h1v1h-1zM229,1h1v1h-1zM278,1h1v1h-1zM291,1h1v1h-1zM305,1h1v1h-1zM310,1h1v1h-1zM312,1h2v1h-2zM320,1h2v1h-2zM329,1h1v1h-1zM331,1h1v1h-1zM7,2h1v1h-1zM37,2h1v1h-1zM51,2h1v1h-1zM67,2h1v1h-1zM80,2h1v1h-1zM159,2h1v1h-1zM171,2h1v1h-1zM173,2h1v1h-1zM175,2h1v1h-1zM206,2h1v1h-1zM218,2h1v1h-1zM220,2h1v1h-1zM228,2h1v1h-1zM250,2h1v1h-1zM264,2h1v1h-1zM273,2h1v1h-1zM286,2h1v1h-1zM299,2h1v1h-1zM317,2h1v1h-1zM321,2h1v1h-1zM323,2h1v1h-1zM8,3h1v1h-1zM59,3h1v1h-1zM70,3h1v1h-1zM113,3h1v1h-1zM138,3h2v1h-2zM143,3h1v1h-1zM148,3h1v1h-1zM156,3h1v1h-1zM171,3h1v1h-1zM189,3h1v1h-1zM211,3h1v1h-1zM214,3h1v1h-1zM221,3h1v1h-1zM225,3h1v1h-1zM230,3h1v1h-1zM281,3h1v1h-1zM284,3h1v1h-1zM289,3h1v1h-1zM8,4h1v1h-1zM14,4h1v1h-1zM35,4h1v1h-1zM37,4h1v1h-1zM47,4h1v1h-1zM55,4h1v1h-1zM57,4h1v1h-1zM90,4h1v1h-1zM138,4h1v1h-1zM145,4h1v1h-1zM150,4h1v1h-1zM159,4h1v1h-1zM168,4h2v1h-2zM177,4h1v1h-1zM192,4h2v1h-2zM208,4h1v1h-1zM218,4h1v1h-1zM225,4h1v1h-1zM237,4h1v1h-1zM271,4h1v1h-1zM276,4h1v1h-1zM285,4h1v1h-1zM315,4h1v1h-1zM318,4h1v1h-1zM347,4h1v1h-1zM35,5h1v1h-1zM46,5h1v1h-1zM54,5h1v1h-1zM69,5h1v1h-1zM105,5h1v1h-1zM111,5h1v1h-1zM123,5h1v1h-1zM148,5h1v1h-1zM163,5h1v1h-1zM167,5h1v1h-1zM205,5h1v1h-1zM210,5h1v1h-1zM263,5h2v1h-2zM274,5h1v1h-1zM281,5h2v1h-2zM284,5h1v1h-1zM292,5h1v1h-1zM299,5h1v1h-1zM312,5h1v1h-1zM331,5h1v1h-1zM8,6h1v1h-1zM11,6h1v1h-1zM32,6h1v1h-1zM46,6h1v1h-1zM79,6h2v1h-2zM101,6h1v1h-1zM105,6h1v1h-1zM126,6h1v1h-1zM128,6h1v1h-1zM135,6h1v1h-1zM142,6h1v1h-1zM144,6h1v1h-1zM171,6h1v1h-1zM176,6h1v1h-1zM265,6h1v1h-1zM273,6h1v1h-1zM291,6h1v1h-1zM30,7h1v1h-1zM82,7h1v1h-1zM133,7h1v1h-1zM135,7h1v1h-1zM139,7h1v1h-1zM142,7h1v1h-1zM148,7h1v1h-1zM153,7h1v1h-1zM155,7h1v1h-1zM166,7h1v1h-1zM170,7h1v1h-1zM215,7h1v1h-1zM229,7h1v1h-1zM238,7h1v1h-1zM250,7h1v1h-1zM256,7h1v1h-1zM299,7h1v1h-1zM311,7h1v1h-1zM322,7h2v1h-2zM325,7h1v1h-1zM343,7h1v1h-1zM58,8h1v1h-1zM80,8h1v1h-1zM90,8h1v1h-1zM95,8h1v1h-1zM108,8h1v1h-1zM111,8h1v1h-1zM114,8h1v1h-1zM138,8h1v1h-1zM148,8h1v1h-1zM153,8h1v1h-1zM156,8h1v1h-1zM163,8h1v1h-1zM172,8h1v1h-1zM179,8h1v1h-1zM203,8h1v1h-1zM214,8h1v1h-1zM230,8h1v1h-1zM273,8h1v1h-1zM276,8h1v1h-1zM284,8h1v1h-1zM292,8h1v1h-1zM294,8h1v1h-1zM313,8h1v1h-1zM323,8h1v1h-1zM347,8h1v1h-1zM43,9h1v1h-1zM45,9h1v1h-1zM48,9h1v1h-1zM67,9h1v1h-1zM79,9h1v1h-1zM109,9h1v1h-1zM146,9h1v1h-1zM167,9h1v1h-1zM171,9h1v1h-1zM202,9h1v1h-1zM208,9h1v1h-1zM216,9h1v1h-1zM237,9h1v1h-1zM244,9h1v1h-1zM276,9h1v1h-1zM279,9h1v1h-1zM320,9h1v1h-1zM328,9h1v1h-1zM357,9h1v1h-1zM7,10h1v1h-1zM11,10h1v1h-1zM57,10h1v1h-1zM60,10h1v1h-1zM74,10h1v1h-1zM81,10h1v1h-1zM95,10h1v1h-1zM97,10h1v1h-1zM101,10h1v1h-1zM106,10h1v1h-1zM117,10h1v1h-1zM181,10h1v1h-1zM231,10h1v1h-1zM290,10h1v1h-1zM319,10h1v1h-1zM347,10h1v1h-1zM350,10h1v1h-1zM0,11h1v1h-1zM2,11h1v1h-1zM14,11h1v1h-1zM62,11h1v1h-1zM64,11h1v1h-1zM79,11h1v1h-1zM95,11h1v1h-1zM129,11h1v1h-1zM131,11h1v1h-1zM193,11h1v1h-1zM197,11h2v1h-2zM238,11h1v1h-1zM243,11h1v1h-1zM290,11h1v1h-1zM303,11h1v1h-1zM316,11h1v1h-1zM37,12h3v1h-3zM45,12h1v1h-1zM67,12h1v1h-1zM96,12h1v1h-1zM106,12h1v1h-1zM111,12h1v1h-1zM113,12h1v1h-1zM131,12h1v1h-1zM155,12h1v1h-1zM158,12h1v1h-1zM168,12h1v1h-1zM174,12h1v1h-1zM221,12h1v1h-1zM225,12h1v1h-1zM231,12h1v1h-1zM255,12h1v1h-1zM275,12h1v1h-1zM282,12h1v1h-1zM286,12h1v1h-1zM289,12h2v1h-2zM313,12h1v1h-1zM316,12h1v1h-1zM1,13h1v1h-1zM20,13h1v1h-1zM75,13h1v1h-1zM97,13h1v1h-1zM108,13h2v1h-2zM112,13h1v1h-1zM126,13h1v1h-1zM142,13h2v1h-2zM155,13h2v1h-2zM163,13h1v1h-1zM170,13h1v1h-1zM264,13h1v1h-1zM316,13h1v1h-1zM337,13h1v1h-1zM344,13h1v1h-1zM369,13h1v1h-1zM14,14h1v1h-1zM34,14h1v1h-1zM81,14h2v1h-2zM98,14h1v1h-1zM144,14h1v1h-1zM248,14h1v1h-1zM268,14h1v1h-1zM303,14h1v1h-1zM195,15h1v1h-1zM264,15h1v1h-1zM304,15h1v1h-1zM307,15h1v1h-1zM347,15h1v1h-1zM32,16h1v1h-1zM63,16h1v1h-1zM72,16h1v1h-1zM81,16h1v1h-1zM100,16h1v1h-1zM143,16h1v1h-1zM153,16h1v1h-1zM155,16h1v1h-1zM188,16h1v1h-1zM242,16h1v1h-1zM299,16h1v1h-1zM310,16h1v1h-1zM337,16h1v1h-1zM361,16h1v1h-1zM4,17h1v1h-1zM64,17h1v1h-1zM107,17h1v1h-1zM144,17h1v1h-1zM150,17h1v1h-1zM156,17h1v1h-1zM256,17h1v1h-1zM305,17h1v1h-1zM6,18h1v1h-1zM23,18h1v1h-1zM34,18h1v1h-1zM71,18h1v1h-1zM301,18h1v1h-1zM337,18h1v1h-1zM351,18h1v1h-1zM353,18h1v1h-1zM368,18h1v1h-1zM33,19h1v1h-1zM71,19h1v1h-1zM74,19h1v1h-1zM101,19h1v1h-1zM155,19h1v1h-1zM200,19h2v1h-2zM238,19h1v1h-1zM251,19h1v1h-1zM264,19h1v1h-1zM347,19h1v1h-1zM353,19h1v1h-1zM363,20h1v1h-1zM368,20h1v1h-1zM75,21h1v1h-1zM83,21h1v1h-1zM85,21h1v1h-1zM87,21h2v1h-2zM95,21h1v1h-1zM98,21h2v1h-2zM115,21h1v1h-1zM129,21h2v1h-2zM140,21h1v1h-1zM142,21h1v1h-1zM169,21h1v1h-1zM174,21h1v1h-1zM201,21h1v1h-1zM228,21h1v1h-1zM271,21h1v1h-1zM286,21h1v1h-1zM293,21h1v1h-1zM299,21h1v1h-1zM311,21h1v1h-1zM316,21h1v1h-1zM319,21h1v1h-1zM322,21h1v1h-1zM325,21h1v1h-1zM327,21h1v1h-1z"/><path fill="#c0d4f5" d="M0,0h1v1h-1zM14,0h1v1h-1zM43,0h1v1h-1zM45,0h1v1h-1zM101,0h1v1h-1zM112,0h2v1h-2zM139,0h1v1h-1zM170,0h1v1h-1zM176,0h1v1h-1zM200,0h1v1h-1zM208,0h1v1h-1zM211,0h1v1h-1zM219,0h1v1h-1zM229,0h1v1h-1zM251,0h1v1h-1zM266,0h1v1h-1zM268,0h1v1h-1zM271,0h1v1h-1zM279,0h1v1h-1zM282,0h1v1h-1zM289,0h1v1h-1zM311,0h1v1h-1zM313,0h1v1h-1zM319,0h1v1h-1zM347,0h1v1h-1zM9,1h1v1h-1zM11,1h1v1h-1zM26,1h2v1h-2zM35,1h1v1h-1zM47,1h2v1h-2zM52,1h1v1h-1zM54,1h1v1h-1zM60,1h1v1h-1zM62,1h1v1h-1zM64,1h2v1h-2zM80,1h1v1h-1zM98,1h1v1h-1zM129,1h1v1h-1zM159,1h1v1h-1zM163,1h1v1h-1zM169,1h1v1h-1zM191,1h1v1h-1zM205,1h1v1h-1zM219,1h1v1h-1zM231,1h1v1h-1zM247,1h1v1h-1zM279,1h1v1h-1zM303,1h2v1h-2zM315,1h1v1h-1zM317,1h1v1h-1zM326,1h1v1h-1zM335,1h1v1h-1zM347,1h1v1h-1zM351,1h1v1h-1zM358,1h1v1h-1zM1,2h1v1h-1zM17,2h1v1h-1zM45,2h1v1h-1zM54,2h1v1h-1zM57,2h1v1h-1zM77,2h1v1h-1zM92,2h1v1h-1zM111,2h1v1h-1zM139,2h1v1h-1zM144,2h1v1h-1zM157,2h2v1h-2zM197,2h1v1h-1zM215,2h1v1h-1zM225,2h1v1h-1zM230,2h1v1h-1zM243,2h1v1h-1zM315,2h2v1h-2zM320,2h1v1h-1zM347,2h1v1h-1zM356,2h1v1h-1zM361,2h1v1h-1zM1,3h1v1h-1zM10,3h1v1h-1zM35,3h1v1h-1zM47,3h1v1h-1zM84,3h1v1h-1zM90,3h1v1h-1zM92,3h1v1h-1zM106,3h1v1h-1zM108,3h1v1h-1zM147,3h1v1h-1zM152,3h2v1h-2zM172,3h1v1h-1zM175,3h1v1h-1zM191,3h2v1h-2zM195,3h1v1h-1zM206,3h1v1h-1zM229,3h1v1h-1zM237,3h1v1h-1zM243,3h2v1h-2zM266,3h1v1h-1zM271,3h1v1h-1zM285,3h2v1h-2zM321,3h1v1h-1zM326,3h1v1h-1zM13,4h1v1h-1zM54,4h1v1h-1zM61,4h1v1h-1zM77,4h1v1h-1zM84,4h2v1h-2zM88,4h1v1h-1zM91,4h1v1h-1zM108,4h1v1h-1zM110,4h1v1h-1zM113,4h1v1h-1zM130,4h1v1h-1zM142,4h1v1h-1zM147,4h1v1h-1zM167,4h1v1h-1zM171,4h1v1h-1zM173,4h1v1h-1zM179,4h1v1h-1zM207,4h1v1h-1zM226,4h1v1h-1zM251,4h1v1h-1zM290,4h2v1h-2zM300,4h1v1h-1zM316,4h1v1h-1zM319,4h1v1h-1zM328,4h1v1h-1zM330,4h2v1h-2zM0,5h1v1h-1zM2,5h1v1h-1zM10,5h1v1h-1zM34,5h1v1h-1zM36,5h1v1h-1zM48,5h1v1h-1zM62,5h1v1h-1zM99,5h3v1h-3zM108,5h1v1h-1zM118,5h1v1h-1zM143,5h1v1h-1zM156,5h1v1h-1zM159,5h1v1h-1zM176,5h1v1h-1zM178,5h1v1h-1zM185,5h1v1h-1zM192,5h1v1h-1zM214,5h1v1h-1zM216,5h1v1h-1zM248,5h1v1h-1zM250,5h1v1h-1zM254,5h1v1h-1zM256,5h1v1h-1zM266,5h1v1h-1zM279,5h1v1h-1zM316,5h1v1h-1zM337,5h1v1h-1zM339,5h1v1h-1zM356,5h1v1h-1zM62,6h1v1h-1zM64,6h1v1h-1zM95,6h1v1h-1zM109,6h1v1h-1zM156,6h1v1h-1zM274,6h1v1h-1zM290,6h1v1h-1zM301,6h1v1h-1zM317,6h1v1h-1zM339,6h1v1h-1zM34,7h2v1h-2zM88,7h1v1h-1zM100,7h1v1h-1zM122,7h1v1h-1zM210,7h1v1h-1zM231,7h1v1h-1zM246,7h1v1h-1zM264,7h1v1h-1zM301,7h1v1h-1zM313,7h1v1h-1zM319,7h1v1h-1zM326,7h1v1h-1zM7,8h1v1h-1zM46,8h1v1h-1zM54,8h1v1h-1zM92,8h1v1h-1zM106,8h1v1h-1zM109,8h1v1h-1zM117,8h1v1h-1zM120,8h1v1h-1zM133,8h1v1h-1zM141,8h1v1h-1zM150,8h1v1h-1zM191,8h1v1h-1zM207,8h2v1h-2zM215,8h1v1h-1zM217,8h1v1h-1zM226,8h1v1h-1zM244,8h2v1h-2zM281,8h2v1h-2zM289,8h1v1h-1zM299,8h1v1h-1zM308,8h1v1h-1zM316,8h1v1h-1zM321,8h1v1h-1zM325,8h1v1h-1zM329,8h1v1h-1zM35,9h1v1h-1zM42,9h1v1h-1zM51,9h1v1h-1zM54,9h1v1h-1zM62,9h1v1h-1zM65,9h1v1h-1zM72,9h1v1h-1zM75,9h1v1h-1zM85,9h1v1h-1zM88,9h1v1h-1zM94,9h1v1h-1zM99,9h1v1h-1zM107,9h2v1h-2zM126,9h1v1h-1zM147,9h1v1h-1zM156,9h1v1h-1zM181,9h1v1h-1zM197,9h1v1h-1zM204,9h1v1h-1zM210,9h1v1h-1zM229,9h2v1h-2zM249,9h1v1h-1zM251,9h1v1h-1zM263,9h1v1h-1zM266,9h1v1h-1zM290,9h1v1h-1zM316,9h1v1h-1zM325,9h1v1h-1zM331,9h1v1h-1zM13,10h1v1h-1zM35,10h1v1h-1zM67,10h1v1h-1zM99,10h2v1h-2zM107,10h2v1h-2zM112,10h1v1h-1zM122,10h1v1h-1zM143,10h1v1h-1zM153,10h1v1h-1zM155,10h1v1h-1zM183,10h1v1h-1zM188,10h1v1h-1zM191,10h1v1h-1zM254,10h1v1h-1zM256,10h1v1h-1zM8,11h1v1h-1zM98,11h1v1h-1zM109,11h1v1h-1zM122,11h1v1h-1zM144,11h1v1h-1zM152,11h1v1h-1zM155,11h1v1h-1zM191,11h1v1h-1zM242,11h1v1h-1zM247,11h1v1h-1zM265,11h1v1h-1zM310,11h1v1h-1zM348,11h1v1h-1zM354,11h1v1h-1zM43,12h1v1h-1zM60,12h1v1h-1zM69,12h1v1h-1zM79,12h2v1h-2zM82,12h1v1h-1zM85,12h1v1h-1zM89,12h2v1h-2zM92,12h1v1h-1zM97,12h1v1h-1zM99,12h2v1h-2zM112,12h1v1h-1zM114,12h1v1h-1zM117,12h1v1h-1zM130,12h1v1h-1zM142,12h2v1h-2zM169,12h2v1h-2zM172,12h1v1h-1zM191,12h2v1h-2zM216,12h1v1h-1zM249,12h1v1h-1zM256,12h1v1h-1zM281,12h1v1h-1zM302,12h1v1h-1zM318,12h1v1h-1zM337,12h1v1h-1zM347,12h1v1h-1zM3,13h1v1h-1zM36,13h1v1h-1zM47,13h1v1h-1zM55,13h1v1h-1zM101,13h2v1h-2zM114,13h1v1h-1zM188,13h1v1h-1zM203,13h1v1h-1zM244,13h2v1h-2zM249,13h1v1h-1zM251,13h1v1h-1zM265,13h1v1h-1zM299,13h1v1h-1zM303,13h1v1h-1zM347,13h1v1h-1zM356,13h1v1h-1zM2,14h1v1h-1zM8,14h1v1h-1zM35,14h1v1h-1zM97,14h1v1h-1zM148,14h1v1h-1zM154,14h2v1h-2zM193,14h1v1h-1zM195,14h1v1h-1zM244,14h2v1h-2zM341,14h1v1h-1zM361,14h1v1h-1zM2,15h1v1h-1zM11,15h1v1h-1zM67,15h1v1h-1zM102,15h1v1h-1zM144,15h1v1h-1zM191,15h1v1h-1zM197,15h1v1h-1zM200,15h1v1h-1zM238,15h1v1h-1zM251,15h1v1h-1zM305,15h1v1h-1zM5,16h1v1h-1zM13,16h1v1h-1zM106,16h1v1h-1zM147,16h1v1h-1zM241,16h1v1h-1zM244,16h1v1h-1zM311,16h1v1h-1zM339,16h1v1h-1zM344,16h1v1h-1zM6,17h1v1h-1zM10,17h1v1h-1zM15,17h1v1h-1zM21,17h1v1h-1zM66,17h1v1h-1zM185,17h1v1h-1zM189,17h1v1h-1zM263,17h1v1h-1zM265,17h1v1h-1zM301,17h1v1h-1zM310,17h1v1h-1zM335,17h1v1h-1zM1,18h1v1h-1zM17,18h1v1h-1zM35,18h1v1h-1zM101,18h1v1h-1zM103,18h1v1h-1zM107,18h1v1h-1zM190,18h1v1h-1zM194,18h1v1h-1zM197,18h2v1h-2zM238,18h1v1h-1zM259,18h1v1h-1zM265,18h1v1h-1zM309,18h1v1h-1zM335,18h1v1h-1zM13,19h2v1h-2zM24,19h1v1h-1zM32,19h1v1h-1zM97,19h1v1h-1zM144,19h1v1h-1zM194,19h1v1h-1zM239,19h1v1h-1zM301,19h1v1h-1zM339,19h1v1h-1zM363,19h1v1h-1zM341,20h1v1h-1zM349,20h2v1h-2zM353,20h1v1h-1zM357,20h1v1h-1zM20,21h1v1h-1zM36,21h1v1h-1zM40,21h1v1h-1zM45,21h1v1h-1zM56,21h1v1h-1zM63,21h1v1h-1zM72,21h1v1h-1zM77,21h1v1h-1zM90,21h2v1h-2zM97,21h1v1h-1zM100,21h1v1h-1zM106,21h1v1h-1zM109,21h1v1h-1zM114,21h1v1h-1zM119,21h1v1h-1zM156,21h1v1h-1zM161,21h1v1h-1zM168,21h1v1h-1zM184,21h1v1h-1zM224,21h1v1h-1zM237,21h1v1h-1zM256,21h1v1h-1zM265,21h1v1h-1zM285,21h1v1h-1zM296,21h1v1h-1zM301,21h1v1h-1zM321,21h1v1h-1z"/><path fill="#c8d7f0" d="M12,0h1v1h-1zM24,0h1v1h-1zM30,0h1v1h-1zM51,0h1v1h-1zM63,0h1v1h-1zM70,0h1v1h-1zM75,0h1v1h-1zM81,0h2v1h-2zM89,0h2v1h-2zM100,0h1v1h-1zM118,0h1v1h-1zM123,0h1v1h-1zM128,0h1v1h-1zM140,0h3v1h-3zM151,0h1v1h-1zM156,0h1v1h-1zM167,0h1v1h-1zM186,0h1v1h-1zM193,0h1v1h-1zM210,0h1v1h-1zM226,0h1v1h-1zM241,0h1v1h-1zM244,0h1v1h-1zM248,0h1v1h-1zM250,0h1v1h-1zM292,0h1v1h-1zM302,0h1v1h-1zM341,0h1v1h-1zM353,0h1v1h-1zM2,1h1v1h-1zM20,1h1v1h-1zM24,1h1v1h-1zM28,1h1v1h-1zM50,1h1v1h-1zM67,1h1v1h-1zM77,1h1v1h-1zM102,1h1v1h-1zM118,1h1v1h-1zM133,1h1v1h-1zM135,1h1v1h-1zM138,1h1v1h-1zM143,1h1v1h-1zM174,1h1v1h-1zM177,1h1v1h-1zM181,1h1v1h-1zM183,1h1v1h-1zM185,1h1v1h-1zM195,1h1v1h-1zM202,1h1v1h-1zM217,1h1v1h-1zM226,1h1v1h-1zM239,1h1v1h-1zM245,1h1v1h-1zM254,1h1v1h-1zM265,1h1v1h-1zM274,1h1v1h-1zM280,1h1v1h-1zM294,1h1v1h-1zM302,1h1v1h-1zM322,1h1v1h-1zM341,1h1v1h-1zM4,2h1v1h-1zM85,2h1v1h-1zM90,2h2v1h-2zM95,2h1v1h-1zM100,2h1v1h-1zM112,2h2v1h-2zM117,2h1v1h-1zM133,2h1v1h-1zM145,2h1v1h-1zM150,2h1v1h-1zM155,2h1v1h-1zM168,2h1v1h-1zM172,2h1v1h-1zM174,2h1v1h-1zM176,2h1v1h-1zM181,2h1v1h-1zM191,2h1v1h-1zM204,2h1v1h-1zM219,2h1v1h-1zM221,2h1v1h-1zM229,2h1v1h-1zM231,2h1v1h-1zM245,2h1v1h-1zM256,2h1v1h-1zM268,2h1v1h-1zM291,2h1v1h-1zM293,2h1v1h-1zM301,2h1v1h-1zM303,2h1v1h-1zM305,2h1v1h-1zM311,2h1v1h-1zM313,2h1v1h-1zM322,2h1v1h-1zM331,2h1v1h-1zM335,2h1v1h-1zM5,3h1v1h-1zM23,3h1v1h-1zM37,3h3v1h-3zM42,3h1v1h-1zM45,3h1v1h-1zM54,3h1v1h-1zM58,3h1v1h-1zM68,3h2v1h-2zM74,3h2v1h-2zM94,3h1v1h-1zM114,3h1v1h-1zM130,3h1v1h-1zM144,3h1v1h-1zM150,3h1v1h-1zM161,3h1v1h-1zM169,3h2v1h-2zM188,3h1v1h-1zM208,3h1v1h-1zM216,3h1v1h-1zM219,3h1v1h-1zM231,3h1v1h-1zM238,3h1v1h-1zM245,3h2v1h-2zM257,3h1v1h-1zM273,3h2v1h-2zM276,3h1v1h-1zM301,3h1v1h-1zM305,3h1v1h-1zM320,3h1v1h-1zM337,3h1v1h-1zM351,3h1v1h-1zM364,3h1v1h-1zM4,4h1v1h-1zM9,4h1v1h-1zM22,4h1v1h-1zM29,4h1v1h-1zM33,4h1v1h-1zM39,4h1v1h-1zM48,4h1v1h-1zM51,4h1v1h-1zM58,4h1v1h-1zM62,4h1v1h-1zM64,4h1v1h-1zM67,4h1v1h-1zM72,4h1v1h-1zM75,4h1v1h-1zM80,4h1v1h-1zM94,4h1v1h-1zM102,4h1v1h-1zM109,4h1v1h-1zM111,4h1v1h-1zM120,4h1v1h-1zM144,4h1v1h-1zM163,4h1v1h-1zM170,4h1v1h-1zM184,4h1v1h-1zM191,4h1v1h-1zM194,4h2v1h-2zM199,4h1v1h-1zM203,4h1v1h-1zM205,4h1v1h-1zM210,4h1v1h-1zM219,4h1v1h-1zM254,4h2v1h-2zM266,4h1v1h-1zM288,4h2v1h-2zM292,4h2v1h-2zM320,4h1v1h-1zM322,4h1v1h-1zM326,4h1v1h-1zM353,4h1v1h-1zM4,5h1v1h-1zM8,5h2v1h-2zM21,5h1v1h-1zM29,5h1v1h-1zM57,5h1v1h-1zM89,5h1v1h-1zM127,5h1v1h-1zM140,5h1v1h-1zM145,5h1v1h-1zM147,5h1v1h-1zM229,5h1v1h-1zM238,5h1v1h-1zM243,5h1v1h-1zM245,5h1v1h-1zM247,5h1v1h-1zM280,5h1v1h-1zM285,5h1v1h-1zM307,5h1v1h-1zM341,5h1v1h-1zM366,5h1v1h-1zM9,6h1v1h-1zM13,6h1v1h-1zM34,6h2v1h-2zM82,6h1v1h-1zM107,6h1v1h-1zM127,6h1v1h-1zM166,6h1v1h-1zM169,6h1v1h-1zM179,6h1v1h-1zM192,6h2v1h-2zM238,6h2v1h-2zM268,6h1v1h-1zM306,6h1v1h-1zM347,6h1v1h-1zM353,6h1v1h-1zM361,6h1v1h-1zM364,6h1v1h-1zM0,7h1v1h-1zM13,7h2v1h-2zM36,7h1v1h-1zM67,7h1v1h-1zM71,7h1v1h-1zM94,7h1v1h-1zM106,7h2v1h-2zM193,7h2v1h-2zM201,7h1v1h-1zM211,7h1v1h-1zM243,7h1v1h-1zM247,7h1v1h-1zM254,7h2v1h-2zM273,7h1v1h-1zM348,7h1v1h-1zM351,7h1v1h-1zM2,8h2v1h-2zM43,8h1v1h-1zM45,8h1v1h-1zM53,8h1v1h-1zM72,8h1v1h-1zM96,8h1v1h-1zM100,8h1v1h-1zM130,8h1v1h-1zM136,8h1v1h-1zM143,8h3v1h-3zM152,8h1v1h-1zM175,8h1v1h-1zM219,8h1v1h-1zM238,8h1v1h-1zM246,8h1v1h-1zM268,8h1v1h-1zM271,8h1v1h-1zM290,8h1v1h-1zM306,8h1v1h-1zM315,8h1v1h-1zM317,8h1v1h-1zM319,8h1v1h-1zM326,8h1v1h-1zM334,8h1v1h-1zM356,8h1v1h-1zM8,9h1v1h-1zM47,9h1v1h-1zM50,9h1v1h-1zM53,9h1v1h-1zM68,9h1v1h-1zM80,9h1v1h-1zM90,9h1v1h-1zM92,9h1v1h-1zM101,9h1v1h-1zM117,9h2v1h-2zM129,9h1v1h-1zM131,9h1v1h-1zM133,9h1v1h-1zM135,9h2v1h-2zM141,9h1v1h-1zM144,9h1v1h-1zM150,9h1v1h-1zM152,9h1v1h-1zM155,9h1v1h-1zM169,9h1v1h-1zM179,9h1v1h-1zM186,9h1v1h-1zM188,9h2v1h-2zM217,9h1v1h-1zM246,9h1v1h-1zM250,9h1v1h-1zM252,9h1v1h-1zM268,9h1v1h-1zM284,9h1v1h-1zM291,9h1v1h-1zM301,9h1v1h-1zM312,9h1v1h-1zM319,9h1v1h-1zM352,9h1v1h-1zM0,10h2v1h-2zM18,10h1v1h-1zM20,10h1v1h-1zM28,10h1v1h-1zM31,10h1v1h-1zM34,10h1v1h-1zM69,10h1v1h-1zM103,10h1v1h-1zM349,10h1v1h-1zM354,10h1v1h-1zM10,11h1v1h-1zM13,11h1v1h-1zM25,11h1v1h-1zM89,11h1v1h-1zM100,11h1v1h-1zM108,11h1v1h-1zM126,11h2v1h-2zM142,11h1v1h-1zM147,11h1v1h-1zM188,11h1v1h-1zM246,11h1v1h-1zM256,11h1v1h-1zM305,11h1v1h-1zM335,11h1v1h-1zM339,11h1v1h-1zM341,11h1v1h-1zM347,11h1v1h-1zM352,11h1v1h-1zM357,11h1v1h-1zM361,11h1v1h-1zM31,12h1v1h-1zM36,12h1v1h-1zM50,12h2v1h-2zM81,12h1v1h-1zM84,12h1v1h-1zM88,12h1v1h-1zM91,12h1v1h-1zM120,12h1v1h-1zM127,12h1v1h-1zM140,12h1v1h-1zM144,12h1v1h-1zM146,12h1v1h-1zM159,12h1v1h-1zM163,12h1v1h-1zM165,12h1v1h-1zM171,12h1v1h-1zM178,12h1v1h-1zM186,12h1v1h-1zM194,12h1v1h-1zM196,12h1v1h-1zM241,12h1v1h-1zM246,12h1v1h-1zM268,12h1v1h-1zM274,12h1v1h-1zM306,12h1v1h-1zM310,12h1v1h-1zM334,12h1v1h-1zM339,12h1v1h-1zM352,12h1v1h-1zM361,12h1v1h-1zM7,13h2v1h-2zM30,13h1v1h-1zM63,13h1v1h-1zM131,13h1v1h-1zM183,13h1v1h-1zM197,13h1v1h-1zM239,13h1v1h-1zM241,13h1v1h-1zM325,13h1v1h-1zM334,13h1v1h-1zM339,13h1v1h-1zM342,13h1v1h-1zM350,13h1v1h-1zM4,14h2v1h-2zM10,14h1v1h-1zM43,14h1v1h-1zM67,14h1v1h-1zM71,14h1v1h-1zM145,14h1v1h-1zM151,14h1v1h-1zM250,14h1v1h-1zM257,14h1v1h-1zM305,14h1v1h-1zM334,14h1v1h-1zM353,14h1v1h-1zM12,15h1v1h-1zM15,15h1v1h-1zM18,15h1v1h-1zM27,15h1v1h-1zM29,15h1v1h-1zM33,15h1v1h-1zM150,15h1v1h-1zM182,15h1v1h-1zM188,15h1v1h-1zM190,15h1v1h-1zM192,15h1v1h-1zM198,15h1v1h-1zM303,15h1v1h-1zM342,15h1v1h-1zM344,15h2v1h-2zM363,15h1v1h-1zM4,16h1v1h-1zM9,16h1v1h-1zM14,16h1v1h-1zM18,16h1v1h-1zM101,16h1v1h-1zM103,16h1v1h-1zM107,16h1v1h-1zM152,16h1v1h-1zM190,16h1v1h-1zM197,16h1v1h-1zM199,16h2v1h-2zM240,16h1v1h-1zM255,16h2v1h-2zM301,16h1v1h-1zM303,16h1v1h-1zM3,17h1v1h-1zM5,17h1v1h-1zM14,17h1v1h-1zM26,17h1v1h-1zM29,17h1v1h-1zM31,17h1v1h-1zM34,17h1v1h-1zM179,17h1v1h-1zM192,17h1v1h-1zM244,17h1v1h-1zM249,17h1v1h-1zM257,17h2v1h-2zM337,17h1v1h-1zM339,17h1v1h-1zM347,17h1v1h-1zM366,17h1v1h-1zM13,18h2v1h-2zM69,18h1v1h-1zM102,18h1v1h-1zM241,18h1v1h-1zM248,18h1v1h-1zM250,18h1v1h-1zM339,18h1v1h-1zM345,18h1v1h-1zM4,19h2v1h-2zM8,19h1v1h-1zM35,19h1v1h-1zM65,19h1v1h-1zM68,19h1v1h-1zM151,19h1v1h-1zM178,19h1v1h-1zM192,19h1v1h-1zM241,19h1v1h-1zM256,19h1v1h-1zM310,19h1v1h-1zM334,19h1v1h-1zM347,20h1v1h-1zM351,20h1v1h-1zM361,20h2v1h-2zM366,20h1v1h-1zM2,21h1v1h-1zM14,21h1v1h-1zM34,21h2v1h-2zM37,21h1v1h-1zM64,21h1v1h-1zM76,21h1v1h-1zM82,21h1v1h-1zM101,21h1v1h-1zM113,21h1v1h-1zM143,21h1v1h-1zM153,21h1v1h-1zM192,21h1v1h-1zM222,21h1v1h-1zM254,21h1v1h-1zM264,21h1v1h-1zM274,21h1v1h-1zM312,21h1v1h-1zM337,21h1v1h-1zM347,21h1v1h-1zM351,21h1v1h-1zM353,21h1v1h-1zM361,21h1v1h-1zM365,21h2v1h-2z"/><path fill="#cfdaea" d="M1,0h1v1h-1zM5,0h1v1h-1zM10,0h1v1h-1zM13,0h1v1h-1zM16,0h1v1h-1zM18,0h1v1h-1zM20,0h1v1h-1zM26,0h1v1h-1zM31,0h1v1h-1zM35,0h1v1h-1zM55,0h1v1h-1zM64,0h1v1h-1zM69,0h1v1h-1zM85,0h1v1h-1zM91,0h1v1h-1zM98,0h2v1h-2zM126,0h1v1h-1zM133,0h1v1h-1zM144,0h1v1h-1zM154,0h1v1h-1zM163,0h1v1h-1zM165,0h1v1h-1zM179,0h1v1h-1zM184,0h1v1h-1zM188,0h1v1h-1zM190,0h1v1h-1zM202,0h1v1h-1zM221,0h1v1h-1zM238,0h1v1h-1zM254,0h1v1h-1zM293,0h1v1h-1zM317,0h1v1h-1zM328,0h1v1h-1zM335,0h1v1h-1zM339,0h1v1h-1zM343,0h1v1h-1zM348,0h1v1h-1zM350,0h1v1h-1zM356,0h1v1h-1zM368,0h1v1h-1zM17,1h1v1h-1zM21,1h1v1h-1zM40,1h1v1h-1zM45,1h1v1h-1zM90,1h1v1h-1zM94,1h1v1h-1zM97,1h1v1h-1zM101,1h1v1h-1zM104,1h1v1h-1zM114,1h1v1h-1zM122,1h1v1h-1zM126,1h1v1h-1zM142,1h1v1h-1zM147,1h1v1h-1zM152,1h3v1h-3zM157,1h2v1h-2zM168,1h1v1h-1zM170,1h1v1h-1zM178,1h1v1h-1zM184,1h1v1h-1zM188,1h1v1h-1zM206,1h1v1h-1zM249,1h1v1h-1zM255,1h1v1h-1zM257,1h1v1h-1zM263,1h1v1h-1zM266,1h1v1h-1zM286,1h1v1h-1zM288,1h2v1h-2zM292,1h1v1h-1zM309,1h1v1h-1zM319,1h1v1h-1zM345,1h1v1h-1zM348,1h1v1h-1zM361,1h1v1h-1zM5,2h1v1h-1zM8,2h2v1h-2zM29,2h2v1h-2zM34,2h2v1h-2zM38,2h1v1h-1zM42,2h1v1h-1zM48,2h1v1h-1zM50,2h1v1h-1zM59,2h1v1h-1zM65,2h1v1h-1zM98,2h1v1h-1zM104,2h1v1h-1zM106,2h1v1h-1zM118,2h1v1h-1zM126,2h1v1h-1zM129,2h1v1h-1zM135,2h2v1h-2zM142,2h1v1h-1zM165,2h1v1h-1zM169,2h1v1h-1zM183,2h2v1h-2zM198,2h1v1h-1zM207,2h2v1h-2zM216,2h1v1h-1zM222,2h1v1h-1zM249,2h1v1h-1zM251,2h1v1h-1zM261,2h1v1h-1zM265,2h1v1h-1zM274,2h1v1h-1zM276,2h1v1h-1zM282,2h1v1h-1zM290,2h1v1h-1zM292,2h1v1h-1zM306,2h1v1h-1zM310,2h1v1h-1zM325,2h1v1h-1zM328,2h1v1h-1zM339,2h1v1h-1zM348,2h1v1h-1zM353,2h2v1h-2zM369,2h1v1h-1zM17,3h1v1h-1zM28,3h1v1h-1zM30,3h1v1h-1zM32,3h1v1h-1zM46,3h1v1h-1zM55,3h1v1h-1zM65,3h1v1h-1zM67,3h1v1h-1zM77,3h1v1h-1zM85,3h1v1h-1zM95,3h1v1h-1zM100,3h1v1h-1zM104,3h1v1h-1zM109,3h1v1h-1zM123,3h1v1h-1zM128,3h1v1h-1zM131,3h1v1h-1zM136,3h1v1h-1zM166,3h3v1h-3zM174,3h1v1h-1zM176,3h1v1h-1zM182,3h1v1h-1zM187,3h1v1h-1zM197,3h1v1h-1zM205,3h1v1h-1zM248,3h1v1h-1zM251,3h1v1h-1zM253,3h1v1h-1zM255,3h1v1h-1zM260,3h1v1h-1zM263,3h2v1h-2zM294,3h1v1h-1zM299,3h1v1h-1zM303,3h1v1h-1zM306,3h1v1h-1zM315,3h1v1h-1zM329,3h1v1h-1zM347,3h1v1h-1zM353,3h1v1h-1zM0,4h1v1h-1zM5,4h1v1h-1zM20,4h1v1h-1zM30,4h2v1h-2zM38,4h1v1h-1zM81,4h1v1h-1zM89,4h1v1h-1zM97,4h1v1h-1zM104,4h2v1h-2zM122,4h1v1h-1zM131,4h1v1h-1zM136,4h1v1h-1zM143,4h1v1h-1zM166,4h1v1h-1zM197,4h1v1h-1zM201,4h1v1h-1zM211,4h1v1h-1zM216,4h1v1h-1zM229,4h1v1h-1zM241,4h2v1h-2zM261,4h1v1h-1zM264,4h1v1h-1zM274,4h1v1h-1zM284,4h1v1h-1zM286,4h1v1h-1zM299,4h1v1h-1zM301,4h1v1h-1zM311,4h1v1h-1zM337,4h1v1h-1zM341,4h1v1h-1zM357,4h1v1h-1zM5,5h1v1h-1zM15,5h1v1h-1zM33,5h1v1h-1zM75,5h1v1h-1zM77,5h1v1h-1zM102,5h1v1h-1zM109,5h1v1h-1zM131,5h1v1h-1zM141,5h1v1h-1zM153,5h1v1h-1zM168,5h1v1h-1zM171,5h1v1h-1zM180,5h2v1h-2zM194,5h1v1h-1zM242,5h1v1h-1zM303,5h1v1h-1zM306,5h1v1h-1zM311,5h1v1h-1zM344,5h1v1h-1zM347,5h1v1h-1zM350,5h1v1h-1zM357,5h1v1h-1zM10,6h1v1h-1zM14,6h1v1h-1zM23,6h1v1h-1zM29,6h1v1h-1zM31,6h1v1h-1zM36,6h1v1h-1zM63,6h1v1h-1zM100,6h1v1h-1zM102,6h1v1h-1zM141,6h1v1h-1zM150,6h1v1h-1zM184,6h1v1h-1zM186,6h1v1h-1zM188,6h2v1h-2zM198,6h1v1h-1zM243,6h1v1h-1zM262,6h1v1h-1zM264,6h1v1h-1zM305,6h1v1h-1zM308,6h2v1h-2zM338,6h1v1h-1zM345,6h2v1h-2zM348,6h1v1h-1zM350,6h1v1h-1zM369,6h1v1h-1zM5,7h1v1h-1zM18,7h1v1h-1zM26,7h1v1h-1zM29,7h1v1h-1zM63,7h1v1h-1zM97,7h1v1h-1zM102,7h1v1h-1zM105,7h1v1h-1zM144,7h1v1h-1zM147,7h1v1h-1zM149,7h1v1h-1zM184,7h1v1h-1zM186,7h1v1h-1zM189,7h1v1h-1zM191,7h1v1h-1zM196,7h1v1h-1zM203,7h1v1h-1zM244,7h1v1h-1zM251,7h1v1h-1zM259,7h1v1h-1zM337,7h1v1h-1zM340,7h1v1h-1zM347,7h1v1h-1zM352,7h1v1h-1zM368,7h1v1h-1zM8,8h1v1h-1zM31,8h1v1h-1zM34,8h1v1h-1zM38,8h1v1h-1zM51,8h1v1h-1zM55,8h1v1h-1zM64,8h1v1h-1zM67,8h1v1h-1zM74,8h1v1h-1zM81,8h1v1h-1zM94,8h1v1h-1zM97,8h2v1h-2zM101,8h1v1h-1zM113,8h1v1h-1zM128,8h1v1h-1zM140,8h1v1h-1zM142,8h1v1h-1zM157,8h1v1h-1zM165,8h1v1h-1zM170,8h1v1h-1zM183,8h1v1h-1zM198,8h1v1h-1zM202,8h1v1h-1zM210,8h2v1h-2zM228,8h1v1h-1zM241,8h1v1h-1zM257,8h1v1h-1zM263,8h3v1h-3zM305,8h1v1h-1zM311,8h2v1h-2zM318,8h1v1h-1zM331,8h1v1h-1zM336,8h1v1h-1zM340,8h1v1h-1zM348,8h1v1h-1zM361,8h1v1h-1zM368,8h2v1h-2zM1,9h1v1h-1zM4,9h1v1h-1zM20,9h1v1h-1zM30,9h1v1h-1zM32,9h2v1h-2zM38,9h1v1h-1zM46,9h1v1h-1zM52,9h1v1h-1zM55,9h1v1h-1zM84,9h1v1h-1zM102,9h1v1h-1zM119,9h1v1h-1zM142,9h1v1h-1zM151,9h1v1h-1zM165,9h1v1h-1zM177,9h1v1h-1zM190,9h1v1h-1zM195,9h1v1h-1zM198,9h1v1h-1zM201,9h1v1h-1zM240,9h1v1h-1zM242,9h2v1h-2zM245,9h1v1h-1zM261,9h1v1h-1zM265,9h1v1h-1zM285,9h1v1h-1zM288,9h1v1h-1zM310,9h1v1h-1zM317,9h1v1h-1zM322,9h1v1h-1zM341,9h1v1h-1zM345,9h1v1h-1zM354,9h1v1h-1zM361,9h1v1h-1zM5,10h2v1h-2zM14,10h1v1h-1zM21,10h1v1h-1zM25,10h1v1h-1zM29,10h1v1h-1zM32,10h1v1h-1zM63,10h1v1h-1zM102,10h1v1h-1zM151,10h2v1h-2zM187,10h1v1h-1zM190,10h1v1h-1zM195,10h1v1h-1zM197,10h1v1h-1zM241,10h3v1h-3zM247,10h1v1h-1zM250,10h1v1h-1zM259,10h1v1h-1zM261,10h1v1h-1zM306,10h2v1h-2zM309,10h1v1h-1zM335,10h1v1h-1zM337,10h1v1h-1zM348,10h1v1h-1zM356,10h1v1h-1zM4,11h1v1h-1zM18,11h1v1h-1zM63,11h1v1h-1zM65,11h1v1h-1zM90,11h1v1h-1zM94,11h1v1h-1zM103,11h1v1h-1zM145,11h1v1h-1zM153,11h1v1h-1zM181,11h1v1h-1zM189,11h1v1h-1zM194,11h1v1h-1zM196,11h1v1h-1zM254,11h1v1h-1zM262,11h1v1h-1zM311,11h1v1h-1zM334,11h1v1h-1zM344,11h1v1h-1zM349,11h1v1h-1zM366,11h1v1h-1zM27,12h1v1h-1zM58,12h1v1h-1zM65,12h1v1h-1zM122,12h1v1h-1zM153,12h1v1h-1zM166,12h1v1h-1zM176,12h1v1h-1zM181,12h1v1h-1zM193,12h1v1h-1zM195,12h1v1h-1zM201,12h1v1h-1zM219,12h1v1h-1zM238,12h1v1h-1zM263,12h1v1h-1zM265,12h1v1h-1zM309,12h1v1h-1zM340,12h1v1h-1zM343,12h1v1h-1zM345,12h2v1h-2zM348,12h1v1h-1zM353,12h1v1h-1zM367,12h1v1h-1zM13,13h2v1h-2zM18,13h1v1h-1zM21,13h1v1h-1zM26,13h1v1h-1zM32,13h1v1h-1zM35,13h1v1h-1zM65,13h1v1h-1zM70,13h1v1h-1zM82,13h1v1h-1zM91,13h1v1h-1zM100,13h1v1h-1zM104,13h1v1h-1zM117,13h1v1h-1zM122,13h1v1h-1zM144,13h1v1h-1zM146,13h2v1h-2zM177,13h1v1h-1zM181,13h1v1h-1zM185,13h1v1h-1zM190,13h1v1h-1zM192,13h1v1h-1zM195,13h1v1h-1zM238,13h1v1h-1zM256,13h1v1h-1zM258,13h1v1h-1zM306,13h1v1h-1zM311,13h1v1h-1zM335,13h1v1h-1zM363,13h1v1h-1zM1,14h1v1h-1zM17,14h1v1h-1zM28,14h1v1h-1zM30,14h2v1h-2zM63,14h1v1h-1zM102,14h1v1h-1zM104,14h1v1h-1zM107,14h1v1h-1zM182,14h1v1h-1zM185,14h1v1h-1zM187,14h2v1h-2zM190,14h1v1h-1zM194,14h1v1h-1zM254,14h1v1h-1zM301,14h1v1h-1zM335,14h1v1h-1zM344,14h1v1h-1zM346,14h2v1h-2zM351,14h1v1h-1zM365,14h1v1h-1zM1,15h1v1h-1zM4,15h1v1h-1zM17,15h1v1h-1zM20,15h3v1h-3zM32,15h1v1h-1zM71,15h1v1h-1zM100,15h1v1h-1zM104,15h1v1h-1zM146,15h1v1h-1zM152,15h1v1h-1zM199,15h1v1h-1zM243,15h1v1h-1zM248,15h1v1h-1zM254,15h1v1h-1zM256,15h2v1h-2zM265,15h1v1h-1zM337,15h1v1h-1zM355,15h1v1h-1zM362,15h1v1h-1zM0,16h1v1h-1zM8,16h1v1h-1zM15,16h2v1h-2zM20,16h1v1h-1zM34,16h1v1h-1zM65,16h1v1h-1zM67,16h2v1h-2zM70,16h2v1h-2zM104,16h1v1h-1zM180,16h1v1h-1zM193,16h1v1h-1zM257,16h1v1h-1zM309,16h1v1h-1zM341,16h1v1h-1zM359,16h1v1h-1zM2,17h1v1h-1zM8,17h1v1h-1zM11,17h1v1h-1zM18,17h1v1h-1zM23,17h2v1h-2zM27,17h1v1h-1zM33,17h1v1h-1zM68,17h1v1h-1zM146,17h1v1h-1zM151,17h1v1h-1zM190,17h1v1h-1zM239,17h2v1h-2zM242,17h2v1h-2zM245,17h3v1h-3zM253,17h1v1h-1zM303,17h1v1h-1zM348,17h1v1h-1zM356,17h1v1h-1zM361,17h1v1h-1zM10,18h1v1h-1zM28,18h1v1h-1zM67,18h1v1h-1zM147,18h2v1h-2zM150,18h1v1h-1zM152,18h1v1h-1zM155,18h1v1h-1zM182,18h2v1h-2zM193,18h1v1h-1zM199,18h1v1h-1zM242,18h1v1h-1zM254,18h2v1h-2zM257,18h1v1h-1zM262,18h1v1h-1zM303,18h1v1h-1zM347,18h2v1h-2zM356,18h1v1h-1zM367,18h1v1h-1zM1,19h1v1h-1zM12,19h1v1h-1zM28,19h1v1h-1zM30,19h1v1h-1zM67,19h1v1h-1zM70,19h1v1h-1zM82,19h1v1h-1zM104,19h1v1h-1zM145,19h1v1h-1zM147,19h1v1h-1zM180,19h1v1h-1zM184,19h1v1h-1zM189,19h1v1h-1zM191,19h1v1h-1zM193,19h1v1h-1zM245,19h2v1h-2zM254,19h1v1h-1zM262,19h1v1h-1zM305,19h2v1h-2zM335,19h1v1h-1zM343,19h1v1h-1zM348,19h2v1h-2zM356,19h1v1h-1zM359,19h1v1h-1zM361,19h1v1h-1zM338,20h2v1h-2zM342,20h1v1h-1zM344,20h2v1h-2zM359,20h1v1h-1zM365,20h1v1h-1zM1,21h1v1h-1zM6,21h1v1h-1zM9,21h2v1h-2zM25,21h1v1h-1zM27,21h1v1h-1zM30,21h1v1h-1zM55,21h1v1h-1zM61,21h1v1h-1zM65,21h1v1h-1zM67,21h1v1h-1zM71,21h1v1h-1zM128,21h1v1h-1zM135,21h1v1h-1zM144,21h1v1h-1zM150,21h1v1h-1zM182,21h1v1h-1zM193,21h1v1h-1zM198,21h1v1h-1zM200,21h1v1h-1zM243,21h1v1h-1zM245,21h1v1h-1zM251,21h1v1h-1zM261,21h1v1h-1zM303,21h3v1h-3zM310,21h1v1h-1zM334,21h2v1h-2zM338,21h1v1h-1zM340,21h1v1h-1zM344,21h1v1h-1zM355,21h1v1h-1zM368,21h1v1h-1z"/><path fill="#d6dce4" d="M3,0h1v1h-1zM6,0h1v1h-1zM17,0h1v1h-1zM21,0h1v1h-1zM29,0h1v1h-1zM33,0h2v1h-2zM104,0h1v1h-1zM122,0h1v1h-1zM145,0h1v1h-1zM150,0h1v1h-1zM185,0h1v1h-1zM187,0h1v1h-1zM195,0h1v1h-1zM197,0h1v1h-1zM243,0h1v1h-1zM249,0h1v1h-1zM252,0h1v1h-1zM260,0h1v1h-1zM263,0h1v1h-1zM265,0h1v1h-1zM286,0h1v1h-1zM307,0h1v1h-1zM336,0h2v1h-2zM345,0h2v1h-2zM354,0h1v1h-1zM358,0h2v1h-2zM365,0h1v1h-1zM6,1h1v1h-1zM8,1h1v1h-1zM10,1h1v1h-1zM31,1h1v1h-1zM33,1h1v1h-1zM53,1h1v1h-1zM58,1h1v1h-1zM61,1h1v1h-1zM66,1h1v1h-1zM72,1h1v1h-1zM81,1h1v1h-1zM84,1h1v1h-1zM99,1h1v1h-1zM130,1h1v1h-1zM140,1h1v1h-1zM146,1h1v1h-1zM149,1h2v1h-2zM155,1h1v1h-1zM172,1h2v1h-2zM176,1h1v1h-1zM182,1h1v1h-1zM187,1h1v1h-1zM193,1h1v1h-1zM198,1h1v1h-1zM210,1h2v1h-2zM216,1h1v1h-1zM248,1h1v1h-1zM253,1h1v1h-1zM256,1h1v1h-1zM268,1h1v1h-1zM281,1h2v1h-2zM284,1h1v1h-1zM290,1h1v1h-1zM328,1h1v1h-1zM337,1h1v1h-1zM342,1h1v1h-1zM349,1h1v1h-1zM364,1h1v1h-1zM368,1h1v1h-1zM0,2h1v1h-1zM6,2h1v1h-1zM10,2h1v1h-1zM22,2h1v1h-1zM25,2h1v1h-1zM28,2h1v1h-1zM31,2h1v1h-1zM33,2h1v1h-1zM52,2h1v1h-1zM64,2h1v1h-1zM75,2h1v1h-1zM97,2h1v1h-1zM107,2h1v1h-1zM120,2h1v1h-1zM147,2h2v1h-2zM151,2h1v1h-1zM163,2h1v1h-1zM178,2h1v1h-1zM187,2h1v1h-1zM203,2h1v1h-1zM226,2h1v1h-1zM242,2h1v1h-1zM252,2h1v1h-1zM254,2h2v1h-2zM258,2h2v1h-2zM263,2h1v1h-1zM279,2h1v1h-1zM281,2h1v1h-1zM302,2h1v1h-1zM326,2h1v1h-1zM336,2h1v1h-1zM345,2h1v1h-1zM359,2h1v1h-1zM364,2h1v1h-1zM366,2h1v1h-1zM368,2h1v1h-1zM0,3h1v1h-1zM9,3h1v1h-1zM13,3h2v1h-2zM18,3h1v1h-1zM31,3h1v1h-1zM52,3h1v1h-1zM64,3h1v1h-1zM102,3h2v1h-2zM117,3h1v1h-1zM140,3h2v1h-2zM151,3h1v1h-1zM154,3h1v1h-1zM159,3h1v1h-1zM173,3h1v1h-1zM181,3h1v1h-1zM190,3h1v1h-1zM196,3h1v1h-1zM241,3h2v1h-2zM250,3h1v1h-1zM256,3h1v1h-1zM259,3h1v1h-1zM261,3h2v1h-2zM268,3h1v1h-1zM279,3h2v1h-2zM282,3h1v1h-1zM336,3h1v1h-1zM340,3h1v1h-1zM344,3h1v1h-1zM346,3h1v1h-1zM348,3h1v1h-1zM352,3h1v1h-1zM359,3h1v1h-1zM368,3h1v1h-1zM12,4h1v1h-1zM15,4h1v1h-1zM18,4h1v1h-1zM28,4h1v1h-1zM36,4h1v1h-1zM45,4h1v1h-1zM66,4h1v1h-1zM95,4h1v1h-1zM112,4h1v1h-1zM114,4h1v1h-1zM128,4h1v1h-1zM146,4h1v1h-1zM152,4h4v1h-4zM165,4h1v1h-1zM178,4h1v1h-1zM181,4h1v1h-1zM202,4h1v1h-1zM221,4h1v1h-1zM239,4h2v1h-2zM243,4h1v1h-1zM246,4h1v1h-1zM262,4h1v1h-1zM303,4h1v1h-1zM309,4h1v1h-1zM325,4h1v1h-1zM335,4h1v1h-1zM339,4h1v1h-1zM344,4h3v1h-3zM348,4h1v1h-1zM362,4h1v1h-1zM364,4h1v1h-1zM11,5h1v1h-1zM13,5h1v1h-1zM18,5h2v1h-2zM26,5h1v1h-1zM68,5h1v1h-1zM70,5h1v1h-1zM104,5h1v1h-1zM120,5h1v1h-1zM128,5h1v1h-1zM130,5h1v1h-1zM146,5h1v1h-1zM150,5h1v1h-1zM182,5h1v1h-1zM189,5h1v1h-1zM193,5h1v1h-1zM199,5h1v1h-1zM239,5h1v1h-1zM241,5h1v1h-1zM244,5h1v1h-1zM246,5h1v1h-1zM288,5h1v1h-1zM336,5h1v1h-1zM340,5h1v1h-1zM346,5h1v1h-1zM352,5h1v1h-1zM358,5h1v1h-1zM360,5h2v1h-2zM363,5h1v1h-1zM1,6h2v1h-2zM15,6h1v1h-1zM30,6h1v1h-1zM65,6h1v1h-1zM71,6h1v1h-1zM118,6h1v1h-1zM153,6h2v1h-2zM178,6h1v1h-1zM182,6h2v1h-2zM185,6h1v1h-1zM187,6h1v1h-1zM191,6h1v1h-1zM195,6h1v1h-1zM241,6h2v1h-2zM257,6h1v1h-1zM263,6h1v1h-1zM334,6h2v1h-2zM337,6h1v1h-1zM341,6h1v1h-1zM349,6h1v1h-1zM351,6h1v1h-1zM354,6h1v1h-1zM357,6h2v1h-2zM363,6h1v1h-1zM365,6h1v1h-1zM1,7h1v1h-1zM6,7h1v1h-1zM12,7h1v1h-1zM15,7h1v1h-1zM21,7h1v1h-1zM24,7h1v1h-1zM28,7h1v1h-1zM33,7h1v1h-1zM68,7h1v1h-1zM70,7h1v1h-1zM187,7h1v1h-1zM192,7h1v1h-1zM195,7h1v1h-1zM197,7h1v1h-1zM200,7h1v1h-1zM249,7h1v1h-1zM252,7h1v1h-1zM262,7h2v1h-2zM305,7h1v1h-1zM335,7h1v1h-1zM342,7h1v1h-1zM346,7h1v1h-1zM350,7h1v1h-1zM356,7h2v1h-2zM363,7h1v1h-1zM367,7h1v1h-1zM24,8h1v1h-1zM33,8h1v1h-1zM36,8h1v1h-1zM42,8h1v1h-1zM65,8h1v1h-1zM102,8h1v1h-1zM126,8h1v1h-1zM135,8h1v1h-1zM146,8h1v1h-1zM154,8h2v1h-2zM168,8h1v1h-1zM178,8h1v1h-1zM181,8h1v1h-1zM188,8h1v1h-1zM250,8h1v1h-1zM255,8h2v1h-2zM266,8h1v1h-1zM291,8h1v1h-1zM309,8h1v1h-1zM339,8h1v1h-1zM342,8h1v1h-1zM344,8h1v1h-1zM346,8h1v1h-1zM350,8h1v1h-1zM354,8h1v1h-1zM357,8h2v1h-2zM362,8h1v1h-1zM6,9h1v1h-1zM13,9h1v1h-1zM15,9h1v1h-1zM34,9h1v1h-1zM63,9h1v1h-1zM69,9h1v1h-1zM100,9h1v1h-1zM112,9h1v1h-1zM114,9h1v1h-1zM127,9h1v1h-1zM130,9h1v1h-1zM138,9h1v1h-1zM166,9h1v1h-1zM175,9h2v1h-2zM178,9h1v1h-1zM183,9h1v1h-1zM193,9h2v1h-2zM196,9h1v1h-1zM211,9h1v1h-1zM239,9h1v1h-1zM241,9h1v1h-1zM248,9h1v1h-1zM254,9h2v1h-2zM257,9h1v1h-1zM293,9h2v1h-2zM303,9h1v1h-1zM306,9h2v1h-2zM337,9h3v1h-3zM356,9h1v1h-1zM359,9h1v1h-1zM363,9h2v1h-2zM369,9h1v1h-1zM8,10h2v1h-2zM15,10h1v1h-1zM17,10h1v1h-1zM22,10h1v1h-1zM27,10h1v1h-1zM68,10h1v1h-1zM71,10h1v1h-1zM104,10h1v1h-1zM145,10h1v1h-1zM154,10h1v1h-1zM192,10h1v1h-1zM200,10h1v1h-1zM262,10h1v1h-1zM302,10h1v1h-1zM339,10h1v1h-1zM341,10h1v1h-1zM343,10h1v1h-1zM345,10h1v1h-1zM353,10h1v1h-1zM359,10h3v1h-3zM363,10h1v1h-1zM1,11h1v1h-1zM6,11h1v1h-1zM12,11h1v1h-1zM71,11h1v1h-1zM101,11h2v1h-2zM104,11h1v1h-1zM182,11h2v1h-2zM200,11h1v1h-1zM239,11h1v1h-1zM251,11h1v1h-1zM308,11h1v1h-1zM342,11h2v1h-2zM346,11h1v1h-1zM356,11h1v1h-1zM362,11h1v1h-1zM364,11h1v1h-1zM28,12h1v1h-1zM30,12h1v1h-1zM32,12h1v1h-1zM35,12h1v1h-1zM72,12h1v1h-1zM101,12h1v1h-1zM109,12h1v1h-1zM154,12h1v1h-1zM190,12h1v1h-1zM199,12h1v1h-1zM248,12h1v1h-1zM250,12h1v1h-1zM253,12h1v1h-1zM264,12h1v1h-1zM301,12h1v1h-1zM303,12h1v1h-1zM305,12h1v1h-1zM323,12h1v1h-1zM341,12h1v1h-1zM344,12h1v1h-1zM351,12h1v1h-1zM354,12h2v1h-2zM359,12h1v1h-1zM2,13h1v1h-1zM10,13h1v1h-1zM12,13h1v1h-1zM19,13h1v1h-1zM28,13h1v1h-1zM33,13h1v1h-1zM68,13h1v1h-1zM178,13h1v1h-1zM194,13h1v1h-1zM250,13h1v1h-1zM301,13h2v1h-2zM305,13h1v1h-1zM310,13h1v1h-1zM340,13h1v1h-1zM345,13h1v1h-1zM352,13h1v1h-1zM18,14h1v1h-1zM21,14h1v1h-1zM27,14h1v1h-1zM33,14h1v1h-1zM66,14h1v1h-1zM147,14h1v1h-1zM183,14h1v1h-1zM186,14h1v1h-1zM239,14h1v1h-1zM258,14h2v1h-2zM308,14h2v1h-2zM337,14h1v1h-1zM345,14h1v1h-1zM350,14h1v1h-1zM354,14h1v1h-1zM357,14h2v1h-2zM363,14h1v1h-1zM367,14h1v1h-1zM5,15h1v1h-1zM8,15h2v1h-2zM19,15h1v1h-1zM23,15h1v1h-1zM26,15h1v1h-1zM65,15h1v1h-1zM68,15h1v1h-1zM151,15h1v1h-1zM154,15h1v1h-1zM181,15h1v1h-1zM196,15h1v1h-1zM239,15h1v1h-1zM244,15h1v1h-1zM246,15h1v1h-1zM249,15h2v1h-2zM255,15h1v1h-1zM262,15h1v1h-1zM301,15h2v1h-2zM339,15h3v1h-3zM354,15h1v1h-1zM361,15h1v1h-1zM1,16h1v1h-1zM3,16h1v1h-1zM6,16h1v1h-1zM12,16h1v1h-1zM24,16h3v1h-3zM30,16h2v1h-2zM69,16h1v1h-1zM187,16h1v1h-1zM189,16h1v1h-1zM246,16h1v1h-1zM254,16h1v1h-1zM259,16h2v1h-2zM305,16h1v1h-1zM342,16h1v1h-1zM351,16h1v1h-1zM354,16h1v1h-1zM357,16h2v1h-2zM360,16h1v1h-1zM364,16h3v1h-3zM368,16h2v1h-2zM0,17h2v1h-2zM9,17h1v1h-1zM16,17h1v1h-1zM104,17h2v1h-2zM149,17h1v1h-1zM155,17h1v1h-1zM180,17h1v1h-1zM183,17h1v1h-1zM187,17h1v1h-1zM191,17h1v1h-1zM194,17h1v1h-1zM198,17h1v1h-1zM200,17h1v1h-1zM302,17h1v1h-1zM306,17h1v1h-1zM334,17h1v1h-1zM342,17h1v1h-1zM344,17h2v1h-2zM349,17h1v1h-1zM364,17h1v1h-1zM368,17h2v1h-2zM4,18h1v1h-1zM11,18h1v1h-1zM19,18h2v1h-2zM22,18h1v1h-1zM27,18h1v1h-1zM30,18h1v1h-1zM192,18h1v1h-1zM195,18h2v1h-2zM200,18h1v1h-1zM246,18h2v1h-2zM249,18h1v1h-1zM264,18h1v1h-1zM302,18h1v1h-1zM305,18h1v1h-1zM334,18h1v1h-1zM352,18h1v1h-1zM365,18h1v1h-1zM0,19h1v1h-1zM3,19h1v1h-1zM6,19h1v1h-1zM22,19h1v1h-1zM100,19h1v1h-1zM102,19h1v1h-1zM105,19h1v1h-1zM150,19h1v1h-1zM153,19h1v1h-1zM197,19h1v1h-1zM244,19h1v1h-1zM247,19h1v1h-1zM303,19h1v1h-1zM341,19h2v1h-2zM344,19h1v1h-1zM346,19h1v1h-1zM350,19h1v1h-1zM355,19h1v1h-1zM340,20h1v1h-1zM346,20h1v1h-1zM348,20h1v1h-1zM352,20h1v1h-1zM358,20h1v1h-1zM364,20h1v1h-1zM367,20h1v1h-1zM369,20h1v1h-1zM3,21h1v1h-1zM8,21h1v1h-1zM11,21h1v1h-1zM16,21h1v1h-1zM24,21h1v1h-1zM28,21h1v1h-1zM31,21h2v1h-2zM50,21h1v1h-1zM102,21h2v1h-2zM107,21h1v1h-1zM122,21h1v1h-1zM179,21h1v1h-1zM181,21h1v1h-1zM185,21h1v1h-1zM188,21h1v1h-1zM191,21h1v1h-1zM241,21h2v1h-2zM244,21h1v1h-1zM247,21h3v1h-3zM257,21h1v1h-1zM263,21h1v1h-1zM306,21h1v1h-1zM308,21h2v1h-2zM350,21h1v1h-1zM354,21h1v1h-1zM357,21h2v1h-2zM363,21h1v1h-1z"/><path fill="#dddddd" d="M8,0h1v1h-1zM11,0h1v1h-1zM25,0h1v1h-1zM32,0h1v1h-1zM66,0h1v1h-1zM68,0h1v1h-1zM72,0h1v1h-1zM74,0h1v1h-1zM94,0h1v1h-1zM102,0h1v1h-1zM105,0h1v1h-1zM146,0h2v1h-2zM155,0h1v1h-1zM199,0h1v1h-1zM247,0h1v1h-1zM258,0h2v1h-2zM262,0h1v1h-1zM274,0h1v1h-1zM288,0h1v1h-1zM290,0h1v1h-1zM301,0h1v1h-1zM303,0h1v1h-1zM306,0h1v1h-1zM344,0h1v1h-1zM351,0h1v1h-1zM357,0h1v1h-1zM364,0h1v1h-1zM0,1h1v1h-1zM4,1h2v1h-2zM14,1h1v1h-1zM29,1h2v1h-2zM32,1h1v1h-1zM43,1h1v1h-1zM55,1h1v1h-1zM71,1h1v1h-1zM96,1h1v1h-1zM105,1h1v1h-1zM107,1h1v1h-1zM112,1h2v1h-2zM119,1h1v1h-1zM156,1h1v1h-1zM186,1h1v1h-1zM190,1h1v1h-1zM197,1h1v1h-1zM222,1h1v1h-1zM246,1h1v1h-1zM252,1h1v1h-1zM258,1h2v1h-2zM271,1h1v1h-1zM275,1h1v1h-1zM285,1h1v1h-1zM306,1h1v1h-1zM316,1h1v1h-1zM343,1h2v1h-2zM352,1h1v1h-1zM354,1h1v1h-1zM359,1h1v1h-1zM365,1h2v1h-2zM11,2h1v1h-1zM14,2h1v1h-1zM20,2h2v1h-2zM26,2h1v1h-1zM43,2h1v1h-1zM46,2h1v1h-1zM72,2h1v1h-1zM81,2h1v1h-1zM89,2h1v1h-1zM108,2h1v1h-1zM114,2h1v1h-1zM122,2h1v1h-1zM131,2h1v1h-1zM153,2h1v1h-1zM156,2h1v1h-1zM161,2h1v1h-1zM188,2h2v1h-2zM195,2h1v1h-1zM200,2h1v1h-1zM210,2h1v1h-1zM217,2h1v1h-1zM241,2h1v1h-1zM280,2h1v1h-1zM309,2h1v1h-1zM319,2h1v1h-1zM338,2h1v1h-1zM346,2h1v1h-1zM349,2h3v1h-3zM357,2h1v1h-1zM360,2h1v1h-1zM362,2h2v1h-2zM365,2h1v1h-1zM3,3h2v1h-2zM11,3h2v1h-2zM15,3h2v1h-2zM33,3h1v1h-1zM61,3h2v1h-2zM66,3h1v1h-1zM72,3h1v1h-1zM79,3h1v1h-1zM91,3h1v1h-1zM99,3h1v1h-1zM107,3h1v1h-1zM112,3h1v1h-1zM118,3h1v1h-1zM122,3h1v1h-1zM127,3h1v1h-1zM149,3h1v1h-1zM185,3h1v1h-1zM193,3h1v1h-1zM199,3h1v1h-1zM203,3h1v1h-1zM215,3h1v1h-1zM288,3h1v1h-1zM290,3h1v1h-1zM307,3h2v1h-2zM318,3h1v1h-1zM330,3h1v1h-1zM341,3h1v1h-1zM345,3h1v1h-1zM355,3h1v1h-1zM357,3h1v1h-1zM360,3h2v1h-2zM369,3h1v1h-1zM3,4h1v1h-1zM6,4h1v1h-1zM10,4h1v1h-1zM16,4h2v1h-2zM19,4h1v1h-1zM21,4h1v1h-1zM25,4h3v1h-3zM34,4h1v1h-1zM71,4h1v1h-1zM74,4h1v1h-1zM98,4h2v1h-2zM151,4h1v1h-1zM156,4h1v1h-1zM161,4h1v1h-1zM183,4h1v1h-1zM188,4h1v1h-1zM190,4h1v1h-1zM198,4h1v1h-1zM244,4h1v1h-1zM250,4h1v1h-1zM268,4h1v1h-1zM308,4h1v1h-1zM336,4h1v1h-1zM350,4h2v1h-2zM354,4h1v1h-1zM356,4h1v1h-1zM358,4h2v1h-2zM361,4h1v1h-1zM365,4h2v1h-2zM3,5h1v1h-1zM16,5h1v1h-1zM25,5h1v1h-1zM32,5h1v1h-1zM67,5h1v1h-1zM103,5h1v1h-1zM184,5h1v1h-1zM190,5h1v1h-1zM252,5h2v1h-2zM308,5h2v1h-2zM334,5h1v1h-1zM342,5h1v1h-1zM348,5h1v1h-1zM351,5h1v1h-1zM353,5h2v1h-2zM362,5h1v1h-1zM364,5h1v1h-1zM3,6h1v1h-1zM19,6h1v1h-1zM27,6h1v1h-1zM67,6h1v1h-1zM70,6h1v1h-1zM91,6h1v1h-1zM104,6h1v1h-1zM145,6h1v1h-1zM199,6h1v1h-1zM244,6h2v1h-2zM251,6h1v1h-1zM256,6h1v1h-1zM259,6h1v1h-1zM302,6h1v1h-1zM318,6h1v1h-1zM340,6h1v1h-1zM352,6h1v1h-1zM355,6h2v1h-2zM359,6h1v1h-1zM3,7h2v1h-2zM23,7h1v1h-1zM25,7h1v1h-1zM27,7h1v1h-1zM32,7h1v1h-1zM145,7h1v1h-1zM151,7h2v1h-2zM180,7h1v1h-1zM183,7h1v1h-1zM190,7h1v1h-1zM239,7h1v1h-1zM245,7h1v1h-1zM303,7h1v1h-1zM306,7h2v1h-2zM310,7h1v1h-1zM334,7h1v1h-1zM339,7h1v1h-1zM341,7h1v1h-1zM344,7h1v1h-1zM353,7h1v1h-1zM358,7h1v1h-1zM360,7h2v1h-2zM369,7h1v1h-1zM1,8h1v1h-1zM6,8h1v1h-1zM13,8h1v1h-1zM27,8h1v1h-1zM35,8h1v1h-1zM50,8h1v1h-1zM68,8h1v1h-1zM82,8h1v1h-1zM88,8h1v1h-1zM99,8h1v1h-1zM107,8h1v1h-1zM123,8h1v1h-1zM131,8h1v1h-1zM147,8h1v1h-1zM166,8h1v1h-1zM184,8h1v1h-1zM189,8h2v1h-2zM194,8h1v1h-1zM197,8h1v1h-1zM247,8h2v1h-2zM293,8h1v1h-1zM301,8h1v1h-1zM303,8h1v1h-1zM341,8h1v1h-1zM345,8h1v1h-1zM349,8h1v1h-1zM352,8h2v1h-2zM360,8h1v1h-1zM364,8h1v1h-1zM2,9h2v1h-2zM5,9h1v1h-1zM9,9h1v1h-1zM36,9h1v1h-1zM61,9h1v1h-1zM82,9h1v1h-1zM95,9h1v1h-1zM97,9h1v1h-1zM103,9h1v1h-1zM105,9h1v1h-1zM140,9h1v1h-1zM191,9h1v1h-1zM200,9h1v1h-1zM214,9h1v1h-1zM247,9h1v1h-1zM253,9h1v1h-1zM258,9h1v1h-1zM318,9h1v1h-1zM334,9h3v1h-3zM343,9h1v1h-1zM346,9h1v1h-1zM358,9h1v1h-1zM360,9h1v1h-1zM366,9h2v1h-2zM3,10h1v1h-1zM10,10h1v1h-1zM12,10h1v1h-1zM30,10h1v1h-1zM33,10h1v1h-1zM65,10h1v1h-1zM82,10h1v1h-1zM144,10h1v1h-1zM147,10h1v1h-1zM150,10h1v1h-1zM182,10h1v1h-1zM185,10h1v1h-1zM193,10h2v1h-2zM239,10h1v1h-1zM251,10h1v1h-1zM255,10h1v1h-1zM268,10h1v1h-1zM305,10h1v1h-1zM334,10h1v1h-1zM338,10h1v1h-1zM344,10h1v1h-1zM352,10h1v1h-1zM355,10h1v1h-1zM357,10h2v1h-2zM364,10h1v1h-1zM366,10h4v1h-4zM15,11h1v1h-1zM19,11h1v1h-1zM26,11h2v1h-2zM29,11h1v1h-1zM32,11h2v1h-2zM149,11h1v1h-1zM154,11h1v1h-1zM190,11h1v1h-1zM241,11h1v1h-1zM249,11h1v1h-1zM255,11h1v1h-1zM257,11h1v1h-1zM259,11h1v1h-1zM264,11h1v1h-1zM337,11h1v1h-1zM340,11h1v1h-1zM353,11h1v1h-1zM355,11h1v1h-1zM358,11h3v1h-3zM363,11h1v1h-1zM71,12h1v1h-1zM102,12h1v1h-1zM104,12h1v1h-1zM107,12h1v1h-1zM156,12h1v1h-1zM183,12h1v1h-1zM197,12h2v1h-2zM239,12h1v1h-1zM247,12h1v1h-1zM257,12h1v1h-1zM307,12h2v1h-2zM336,12h1v1h-1zM356,12h3v1h-3zM360,12h1v1h-1zM362,12h1v1h-1zM364,12h1v1h-1zM0,13h1v1h-1zM5,13h2v1h-2zM9,13h1v1h-1zM16,13h1v1h-1zM22,13h1v1h-1zM24,13h1v1h-1zM31,13h1v1h-1zM64,13h1v1h-1zM66,13h1v1h-1zM71,13h1v1h-1zM103,13h1v1h-1zM105,13h1v1h-1zM152,13h3v1h-3zM180,13h1v1h-1zM182,13h1v1h-1zM198,13h1v1h-1zM243,13h1v1h-1zM246,13h1v1h-1zM260,13h2v1h-2zM309,13h1v1h-1zM338,13h1v1h-1zM341,13h1v1h-1zM355,13h1v1h-1zM357,13h1v1h-1zM364,13h3v1h-3zM16,14h1v1h-1zM19,14h2v1h-2zM24,14h1v1h-1zM65,14h1v1h-1zM103,14h1v1h-1zM105,14h1v1h-1zM152,14h1v1h-1zM196,14h2v1h-2zM242,14h1v1h-1zM246,14h1v1h-1zM249,14h1v1h-1zM256,14h1v1h-1zM302,14h1v1h-1zM336,14h1v1h-1zM338,14h2v1h-2zM360,14h1v1h-1zM6,15h1v1h-1zM107,15h1v1h-1zM153,15h1v1h-1zM189,15h1v1h-1zM193,15h1v1h-1zM242,15h1v1h-1zM245,15h1v1h-1zM306,15h1v1h-1zM309,15h1v1h-1zM334,15h2v1h-2zM338,15h1v1h-1zM348,15h1v1h-1zM350,15h1v1h-1zM352,15h2v1h-2zM357,15h2v1h-2zM360,15h1v1h-1zM364,15h1v1h-1zM17,16h1v1h-1zM29,16h1v1h-1zM66,16h1v1h-1zM105,16h1v1h-1zM185,16h1v1h-1zM194,16h1v1h-1zM238,16h2v1h-2zM243,16h1v1h-1zM302,16h1v1h-1zM308,16h1v1h-1zM349,16h1v1h-1zM353,16h1v1h-1zM355,16h2v1h-2zM363,16h1v1h-1zM367,16h1v1h-1zM17,17h1v1h-1zM19,17h2v1h-2zM25,17h1v1h-1zM70,17h1v1h-1zM103,17h1v1h-1zM147,17h1v1h-1zM154,17h1v1h-1zM195,17h2v1h-2zM250,17h1v1h-1zM252,17h1v1h-1zM307,17h1v1h-1zM309,17h1v1h-1zM340,17h2v1h-2zM343,17h1v1h-1zM350,17h1v1h-1zM353,17h3v1h-3zM357,17h1v1h-1zM359,17h1v1h-1zM367,17h1v1h-1zM21,18h1v1h-1zM24,18h1v1h-1zM33,18h1v1h-1zM145,18h1v1h-1zM187,18h2v1h-2zM260,18h2v1h-2zM307,18h1v1h-1zM342,18h1v1h-1zM344,18h1v1h-1zM350,18h1v1h-1zM354,18h2v1h-2zM360,18h2v1h-2zM363,18h2v1h-2zM366,18h1v1h-1zM9,19h2v1h-2zM21,19h1v1h-1zM25,19h1v1h-1zM27,19h1v1h-1zM31,19h1v1h-1zM66,19h1v1h-1zM146,19h1v1h-1zM181,19h1v1h-1zM195,19h1v1h-1zM199,19h1v1h-1zM242,19h2v1h-2zM248,19h1v1h-1zM253,19h1v1h-1zM263,19h1v1h-1zM352,19h1v1h-1zM354,19h1v1h-1zM358,19h1v1h-1zM364,19h2v1h-2zM368,19h1v1h-1zM343,20h1v1h-1zM355,20h1v1h-1zM360,20h1v1h-1zM0,21h1v1h-1zM4,21h2v1h-2zM15,21h1v1h-1zM17,21h2v1h-2zM26,21h1v1h-1zM29,21h1v1h-1zM33,21h1v1h-1zM68,21h3v1h-3zM104,21h1v1h-1zM147,21h2v1h-2zM151,21h1v1h-1zM155,21h1v1h-1zM178,21h1v1h-1zM183,21h1v1h-1zM187,21h1v1h-1zM190,21h1v1h-1zM195,21h1v1h-1zM199,21h1v1h-1zM240,21h1v1h-1zM250,21h1v1h-1zM307,21h1v1h-1zM339,21h1v1h-1zM342,21h2v1h-2zM345,21h1v1h-1zM348,21h1v1h-1zM356,21h1v1h-1zM359,21h1v1h-1zM364,21h1v1h-1z"/><path fill="#e3d9d4" d="M23,0h1v1h-1zM65,0h1v1h-1zM71,0h1v1h-1zM149,0h1v1h-1zM181,0h1v1h-1zM189,0h1v1h-1zM194,0h1v1h-1zM246,0h1v1h-1zM257,0h1v1h-1zM308,0h1v1h-1zM338,0h1v1h-1zM342,0h1v1h-1zM349,0h1v1h-1zM362,0h2v1h-2zM367,0h1v1h-1zM3,1h1v1h-1zM12,1h1v1h-1zM23,1h1v1h-1zM25,1h1v1h-1zM34,1h1v1h-1zM69,1h1v1h-1zM88,1h1v1h-1zM91,1h1v1h-1zM103,1h1v1h-1zM165,1h1v1h-1zM180,1h1v1h-1zM199,1h1v1h-1zM203,1h1v1h-1zM238,1h1v1h-1zM250,1h1v1h-1zM262,1h1v1h-1zM308,1h1v1h-1zM334,1h1v1h-1zM336,1h1v1h-1zM346,1h1v1h-1zM350,1h1v1h-1zM355,1h2v1h-2zM360,1h1v1h-1zM12,2h1v1h-1zM36,2h1v1h-1zM61,2h1v1h-1zM63,2h1v1h-1zM68,2h4v1h-4zM88,2h1v1h-1zM99,2h1v1h-1zM102,2h1v1h-1zM149,2h1v1h-1zM180,2h1v1h-1zM186,2h1v1h-1zM194,2h1v1h-1zM196,2h1v1h-1zM239,2h1v1h-1zM248,2h1v1h-1zM334,2h1v1h-1zM342,2h1v1h-1zM352,2h1v1h-1zM358,2h1v1h-1zM2,3h1v1h-1zM20,3h1v1h-1zM24,3h1v1h-1zM26,3h2v1h-2zM34,3h1v1h-1zM51,3h1v1h-1zM63,3h1v1h-1zM98,3h1v1h-1zM105,3h1v1h-1zM126,3h1v1h-1zM145,3h2v1h-2zM165,3h1v1h-1zM184,3h1v1h-1zM210,3h1v1h-1zM222,3h1v1h-1zM252,3h1v1h-1zM265,3h1v1h-1zM292,3h1v1h-1zM319,3h1v1h-1zM323,3h1v1h-1zM334,3h2v1h-2zM342,3h2v1h-2zM349,3h1v1h-1zM356,3h1v1h-1zM11,4h1v1h-1zM63,4h1v1h-1zM68,4h2v1h-2zM100,4h1v1h-1zM103,4h1v1h-1zM107,4h1v1h-1zM117,4h1v1h-1zM248,4h1v1h-1zM252,4h1v1h-1zM256,4h1v1h-1zM258,4h1v1h-1zM340,4h1v1h-1zM352,4h1v1h-1zM355,4h1v1h-1zM360,4h1v1h-1zM17,5h1v1h-1zM23,5h2v1h-2zM28,5h1v1h-1zM31,5h1v1h-1zM65,5h1v1h-1zM71,5h2v1h-2zM149,5h1v1h-1zM155,5h1v1h-1zM188,5h1v1h-1zM196,5h1v1h-1zM200,5h1v1h-1zM251,5h1v1h-1zM262,5h1v1h-1zM338,5h1v1h-1zM343,5h1v1h-1zM355,5h1v1h-1zM359,5h1v1h-1zM369,5h1v1h-1zM5,6h1v1h-1zM12,6h1v1h-1zM17,6h1v1h-1zM21,6h1v1h-1zM26,6h1v1h-1zM33,6h1v1h-1zM66,6h1v1h-1zM146,6h1v1h-1zM152,6h1v1h-1zM190,6h1v1h-1zM197,6h1v1h-1zM200,6h1v1h-1zM240,6h1v1h-1zM246,6h2v1h-2zM255,6h1v1h-1zM258,6h1v1h-1zM303,6h1v1h-1zM360,6h1v1h-1zM16,7h1v1h-1zM66,7h1v1h-1zM150,7h1v1h-1zM241,7h2v1h-2zM248,7h1v1h-1zM309,7h1v1h-1zM345,7h1v1h-1zM362,7h1v1h-1zM364,7h1v1h-1zM17,8h2v1h-2zM20,8h1v1h-1zM23,8h1v1h-1zM25,8h1v1h-1zM30,8h1v1h-1zM105,8h1v1h-1zM127,8h1v1h-1zM151,8h1v1h-1zM186,8h1v1h-1zM231,8h1v1h-1zM242,8h2v1h-2zM253,8h1v1h-1zM262,8h1v1h-1zM302,8h1v1h-1zM307,8h1v1h-1zM335,8h1v1h-1zM338,8h1v1h-1zM343,8h1v1h-1zM351,8h1v1h-1zM355,8h1v1h-1zM363,8h1v1h-1zM12,9h1v1h-1zM14,9h1v1h-1zM18,9h1v1h-1zM23,9h1v1h-1zM26,9h1v1h-1zM64,9h1v1h-1zM91,9h1v1h-1zM96,9h1v1h-1zM122,9h1v1h-1zM149,9h1v1h-1zM182,9h1v1h-1zM256,9h1v1h-1zM264,9h1v1h-1zM286,9h1v1h-1zM342,9h1v1h-1zM344,9h1v1h-1zM349,9h1v1h-1zM16,10h1v1h-1zM19,10h1v1h-1zM24,10h1v1h-1zM70,10h1v1h-1zM146,10h1v1h-1zM149,10h1v1h-1zM198,10h1v1h-1zM245,10h1v1h-1zM248,10h1v1h-1zM252,10h1v1h-1zM260,10h1v1h-1zM336,10h1v1h-1zM342,10h1v1h-1zM346,10h1v1h-1zM351,10h1v1h-1zM5,11h1v1h-1zM21,11h3v1h-3zM28,11h1v1h-1zM31,11h1v1h-1zM68,11h1v1h-1zM97,11h1v1h-1zM105,11h1v1h-1zM199,11h1v1h-1zM302,11h1v1h-1zM336,11h1v1h-1zM350,11h1v1h-1zM367,11h1v1h-1zM34,12h1v1h-1zM68,12h1v1h-1zM147,12h1v1h-1zM180,12h1v1h-1zM185,12h1v1h-1zM200,12h1v1h-1zM251,12h1v1h-1zM254,12h1v1h-1zM260,12h2v1h-2zM273,12h1v1h-1zM335,12h1v1h-1zM338,12h1v1h-1zM363,12h1v1h-1zM368,12h1v1h-1zM15,13h1v1h-1zM27,13h1v1h-1zM67,13h1v1h-1zM69,13h1v1h-1zM145,13h1v1h-1zM149,13h1v1h-1zM151,13h1v1h-1zM196,13h1v1h-1zM259,13h1v1h-1zM262,13h1v1h-1zM343,13h1v1h-1zM346,13h1v1h-1zM348,13h1v1h-1zM351,13h1v1h-1zM353,13h2v1h-2zM358,13h2v1h-2zM0,14h1v1h-1zM12,14h1v1h-1zM15,14h1v1h-1zM29,14h1v1h-1zM69,14h1v1h-1zM149,14h2v1h-2zM153,14h1v1h-1zM189,14h1v1h-1zM241,14h1v1h-1zM251,14h1v1h-1zM260,14h1v1h-1zM262,14h2v1h-2zM307,14h1v1h-1zM340,14h1v1h-1zM342,14h1v1h-1zM352,14h1v1h-1zM359,14h1v1h-1zM362,14h1v1h-1zM368,14h1v1h-1zM0,15h1v1h-1zM25,15h1v1h-1zM28,15h1v1h-1zM31,15h1v1h-1zM103,15h1v1h-1zM149,15h1v1h-1zM180,15h1v1h-1zM194,15h1v1h-1zM240,15h1v1h-1zM258,15h2v1h-2zM263,15h1v1h-1zM343,15h1v1h-1zM346,15h1v1h-1zM349,15h1v1h-1zM356,15h1v1h-1zM19,16h1v1h-1zM28,16h1v1h-1zM102,16h1v1h-1zM145,16h1v1h-1zM150,16h1v1h-1zM182,16h1v1h-1zM191,16h1v1h-1zM195,16h1v1h-1zM247,16h3v1h-3zM251,16h2v1h-2zM263,16h1v1h-1zM335,16h1v1h-1zM338,16h1v1h-1zM346,16h1v1h-1zM12,17h1v1h-1zM67,17h1v1h-1zM69,17h1v1h-1zM102,17h1v1h-1zM182,17h1v1h-1zM248,17h1v1h-1zM254,17h1v1h-1zM259,17h1v1h-1zM352,17h1v1h-1zM358,17h1v1h-1zM360,17h1v1h-1zM362,17h1v1h-1zM3,18h1v1h-1zM15,18h1v1h-1zM25,18h2v1h-2zM68,18h1v1h-1zM149,18h1v1h-1zM181,18h1v1h-1zM185,18h1v1h-1zM263,18h1v1h-1zM340,18h2v1h-2zM346,18h1v1h-1zM349,18h1v1h-1zM358,18h1v1h-1zM362,18h1v1h-1zM23,19h1v1h-1zM29,19h1v1h-1zM69,19h1v1h-1zM149,19h1v1h-1zM182,19h1v1h-1zM186,19h1v1h-1zM196,19h1v1h-1zM198,19h1v1h-1zM240,19h1v1h-1zM249,19h1v1h-1zM255,19h1v1h-1zM259,19h2v1h-2zM308,19h1v1h-1zM336,19h3v1h-3zM345,19h1v1h-1zM351,19h1v1h-1zM360,19h1v1h-1zM354,20h1v1h-1zM356,20h1v1h-1zM12,21h2v1h-2zM19,21h1v1h-1zM21,21h2v1h-2zM66,21h1v1h-1zM105,21h1v1h-1zM146,21h1v1h-1zM180,21h1v1h-1zM186,21h1v1h-1zM196,21h2v1h-2zM239,21h1v1h-1zM246,21h1v1h-1zM252,21h1v1h-1zM255,21h1v1h-1zM259,21h2v1h-2zM262,21h1v1h-1zM336,21h1v1h-1zM341,21h1v1h-1zM346,21h1v1h-1zM349,21h1v1h-1zM352,21h1v1h-1zM360,21h1v1h-1zM362,21h1v1h-1z"/><path fill="#e9d5ca" d="M19,0h1v1h-1zM180,0h1v1h-1zM207,0h1v1h-1zM239,0h2v1h-2zM253,0h1v1h-1zM309,0h1v1h-1zM334,0h1v1h-1zM340,0h1v1h-1zM355,0h1v1h-1zM360,0h1v1h-1zM15,1h2v1h-2zM95,1h1v1h-1zM141,1h1v1h-1zM194,1h1v1h-1zM200,1h1v1h-1zM242,1h1v1h-1zM251,1h1v1h-1zM260,1h1v1h-1zM338,1h1v1h-1zM340,1h1v1h-1zM369,1h1v1h-1zM13,2h1v1h-1zM16,2h1v1h-1zM24,2h1v1h-1zM62,2h1v1h-1zM82,2h1v1h-1zM109,2h1v1h-1zM138,2h1v1h-1zM199,2h1v1h-1zM288,2h1v1h-1zM308,2h1v1h-1zM337,2h1v1h-1zM343,2h1v1h-1zM21,3h1v1h-1zM183,3h1v1h-1zM200,3h1v1h-1zM226,3h1v1h-1zM240,3h1v1h-1zM249,3h1v1h-1zM350,3h1v1h-1zM354,3h1v1h-1zM358,3h1v1h-1zM362,3h2v1h-2zM23,4h1v1h-1zM32,4h1v1h-1zM70,4h1v1h-1zM149,4h1v1h-1zM189,4h1v1h-1zM200,4h1v1h-1zM306,4h1v1h-1zM343,4h1v1h-1zM349,4h1v1h-1zM66,5h1v1h-1zM187,5h1v1h-1zM198,5h1v1h-1zM257,5h1v1h-1zM259,5h1v1h-1zM293,5h1v1h-1zM6,6h1v1h-1zM18,6h1v1h-1zM20,6h1v1h-1zM22,6h1v1h-1zM28,6h1v1h-1zM149,6h1v1h-1zM151,6h1v1h-1zM180,6h2v1h-2zM194,6h1v1h-1zM196,6h1v1h-1zM250,6h1v1h-1zM252,6h1v1h-1zM307,6h1v1h-1zM342,6h1v1h-1zM69,7h1v1h-1zM103,7h2v1h-2zM198,7h1v1h-1zM240,7h1v1h-1zM257,7h2v1h-2zM308,7h1v1h-1zM320,7h1v1h-1zM355,7h1v1h-1zM359,7h1v1h-1zM0,8h1v1h-1zM9,8h1v1h-1zM28,8h2v1h-2zM32,8h1v1h-1zM66,8h1v1h-1zM69,8h2v1h-2zM79,8h1v1h-1zM112,8h1v1h-1zM180,8h1v1h-1zM195,8h1v1h-1zM239,8h1v1h-1zM252,8h1v1h-1zM260,8h2v1h-2zM359,8h1v1h-1zM21,9h1v1h-1zM28,9h1v1h-1zM66,9h1v1h-1zM199,9h1v1h-1zM308,9h1v1h-1zM348,9h1v1h-1zM362,9h1v1h-1zM4,10h1v1h-1zM66,10h1v1h-1zM238,10h1v1h-1zM240,10h1v1h-1zM253,10h1v1h-1zM258,10h1v1h-1zM265,10h1v1h-1zM308,10h1v1h-1zM340,10h1v1h-1zM362,10h1v1h-1zM24,11h1v1h-1zM30,11h1v1h-1zM180,11h1v1h-1zM187,11h1v1h-1zM240,11h1v1h-1zM244,11h1v1h-1zM248,11h1v1h-1zM252,11h1v1h-1zM261,11h1v1h-1zM306,11h1v1h-1zM345,11h1v1h-1zM368,11h1v1h-1zM33,12h1v1h-1zM66,12h1v1h-1zM70,12h1v1h-1zM252,12h1v1h-1zM300,12h1v1h-1zM342,12h1v1h-1zM17,13h1v1h-1zM187,13h1v1h-1zM253,13h3v1h-3zM307,13h1v1h-1zM336,13h1v1h-1zM360,13h1v1h-1zM68,14h1v1h-1zM184,14h1v1h-1zM191,14h1v1h-1zM198,14h1v1h-1zM252,14h1v1h-1zM306,14h1v1h-1zM343,14h1v1h-1zM355,14h1v1h-1zM30,15h1v1h-1zM66,15h1v1h-1zM105,15h1v1h-1zM145,15h1v1h-1zM187,15h1v1h-1zM308,15h1v1h-1zM351,15h1v1h-1zM10,16h1v1h-1zM33,16h1v1h-1zM151,16h1v1h-1zM196,16h1v1h-1zM245,16h1v1h-1zM253,16h1v1h-1zM334,16h1v1h-1zM336,16h1v1h-1zM340,16h1v1h-1zM343,16h1v1h-1zM345,16h1v1h-1zM362,16h1v1h-1zM181,17h1v1h-1zM197,17h1v1h-1zM241,17h1v1h-1zM5,18h1v1h-1zM9,18h1v1h-1zM12,18h1v1h-1zM18,18h1v1h-1zM29,18h1v1h-1zM65,18h1v1h-1zM70,18h1v1h-1zM104,18h2v1h-2zM146,18h1v1h-1zM240,18h1v1h-1zM251,18h3v1h-3zM256,18h1v1h-1zM359,18h1v1h-1zM19,19h1v1h-1zM26,19h1v1h-1zM103,19h1v1h-1zM154,19h1v1h-1zM257,19h2v1h-2zM302,19h1v1h-1zM307,19h1v1h-1zM23,21h1v1h-1zM149,21h1v1h-1zM152,21h1v1h-1zM154,21h1v1h-1zM189,21h1v1h-1zM194,21h1v1h-1zM253,21h1v1h-1zM258,21h1v1h-1zM302,21h1v1h-1zM369,21h1v1h-1z"/><path fill="#eed0c1" d="M15,0h1v1h-1zM46,0h1v1h-1zM103,0h1v1h-1zM107,0h1v1h-1zM182,0h1v1h-1zM255,0h1v1h-1zM287,0h1v1h-1zM352,0h1v1h-1zM117,1h1v1h-1zM166,1h1v1h-1zM179,1h1v1h-1zM240,1h1v1h-1zM244,1h1v1h-1zM66,2h1v1h-1zM103,2h1v1h-1zM166,2h1v1h-1zM185,2h1v1h-1zM240,2h1v1h-1zM246,2h1v1h-1zM253,2h1v1h-1zM294,2h1v1h-1zM25,3h1v1h-1zM73,3h1v1h-1zM186,3h1v1h-1zM239,3h1v1h-1zM258,3h1v1h-1zM317,3h1v1h-1zM338,3h1v1h-1zM182,4h1v1h-1zM185,4h1v1h-1zM249,4h1v1h-1zM253,4h1v1h-1zM273,4h1v1h-1zM334,4h1v1h-1zM12,5h1v1h-1zM14,5h1v1h-1zM27,5h1v1h-1zM74,5h1v1h-1zM82,5h2v1h-2zM90,5h1v1h-1zM240,5h1v1h-1zM249,5h1v1h-1zM260,5h1v1h-1zM290,5h1v1h-1zM305,5h1v1h-1zM327,5h1v1h-1zM249,6h1v1h-1zM87,7h1v1h-1zM109,7h1v1h-1zM134,7h1v1h-1zM181,7h1v1h-1zM253,7h1v1h-1zM338,7h1v1h-1zM10,8h3v1h-3zM15,8h1v1h-1zM21,8h1v1h-1zM149,8h1v1h-1zM182,8h1v1h-1zM251,8h1v1h-1zM280,8h1v1h-1zM337,8h1v1h-1zM24,9h2v1h-2zM27,9h1v1h-1zM29,9h1v1h-1zM31,9h1v1h-1zM154,9h1v1h-1zM187,9h1v1h-1zM302,9h1v1h-1zM350,9h1v1h-1zM355,9h1v1h-1zM48,10h1v1h-1zM180,10h1v1h-1zM186,10h1v1h-1zM199,10h1v1h-1zM209,10h1v1h-1zM20,11h1v1h-1zM66,11h1v1h-1zM69,11h2v1h-2zM170,11h1v1h-1zM250,11h1v1h-1zM253,11h1v1h-1zM307,11h1v1h-1zM351,11h1v1h-1zM29,12h1v1h-1zM83,12h1v1h-1zM105,12h1v1h-1zM240,12h1v1h-1zM259,12h1v1h-1zM25,13h1v1h-1zM107,13h1v1h-1zM127,13h1v1h-1zM186,13h1v1h-1zM193,13h1v1h-1zM200,13h1v1h-1zM240,13h1v1h-1zM242,13h1v1h-1zM248,13h1v1h-1zM257,13h1v1h-1zM6,14h1v1h-1zM74,14h1v1h-1zM192,14h1v1h-1zM240,14h1v1h-1zM253,14h1v1h-1zM16,15h1v1h-1zM124,15h1v1h-1zM147,15h1v1h-1zM186,15h1v1h-1zM211,15h1v1h-1zM260,15h1v1h-1zM270,15h1v1h-1zM336,15h1v1h-1zM130,16h1v1h-1zM146,16h1v1h-1zM154,16h1v1h-1zM181,16h1v1h-1zM261,16h1v1h-1zM22,17h1v1h-1zM30,17h1v1h-1zM261,17h1v1h-1zM286,17h1v1h-1zM306,18h1v1h-1zM308,18h1v1h-1zM336,18h1v1h-1zM338,18h1v1h-1zM343,18h1v1h-1zM17,19h1v1h-1zM190,19h1v1h-1zM309,19h1v1h-1zM340,19h1v1h-1zM7,21h1v1h-1zM145,21h1v1h-1z"/><path fill="#f2cbb7" d="M28,0h1v1h-1zM95,0h1v1h-1zM198,0h1v1h-1zM22,1h1v1h-1zM63,1h1v1h-1zM82,1h1v1h-1zM241,1h1v1h-1zM299,1h1v1h-1zM3,2h1v1h-1zM105,2h1v1h-1zM257,2h1v1h-1zM266,2h1v1h-1zM135,3h1v1h-1zM196,4h1v1h-1zM238,4h1v1h-1zM338,4h1v1h-1zM30,5h1v1h-1zM154,5h1v1h-1zM173,5h1v1h-1zM276,5h1v1h-1zM25,6h1v1h-1zM86,6h1v1h-1zM108,6h1v1h-1zM116,6h1v1h-1zM261,6h1v1h-1zM267,6h1v1h-1zM362,6h1v1h-1zM22,7h1v1h-1zM58,7h1v1h-1zM175,7h1v1h-1zM199,7h1v1h-1zM261,7h1v1h-1zM302,7h1v1h-1zM336,7h1v1h-1zM4,8h1v1h-1zM22,8h1v1h-1zM39,8h1v1h-1zM200,8h1v1h-1zM240,8h1v1h-1zM258,8h1v1h-1zM16,9h2v1h-2zM104,9h1v1h-1zM145,9h1v1h-1zM351,9h1v1h-1zM23,10h1v1h-1zM322,10h1v1h-1zM3,11h1v1h-1zM146,11h1v1h-1zM209,11h1v1h-1zM94,12h1v1h-1zM187,12h1v1h-1zM11,13h1v1h-1zM23,13h1v1h-1zM308,13h1v1h-1zM24,15h1v1h-1zM130,15h1v1h-1zM241,15h1v1h-1zM252,15h2v1h-2zM27,16h1v1h-1zM39,16h1v1h-1zM96,16h1v1h-1zM109,16h1v1h-1zM139,16h1v1h-1zM65,17h1v1h-1zM79,17h1v1h-1zM145,17h1v1h-1zM255,17h1v1h-1zM308,17h1v1h-1zM315,17h1v1h-1zM322,17h1v1h-1zM336,17h1v1h-1zM44,18h1v1h-1zM81,18h1v1h-1zM180,18h1v1h-1zM239,18h1v1h-1zM244,18h1v1h-1zM15,19h1v1h-1zM187,19h2v1h-2z"/><path fill="#f5c4ad" d="M79,0h1v1h-1zM196,0h1v1h-1zM261,0h1v1h-1zM325,0h1v1h-1zM145,1h1v1h-1zM215,1h1v1h-1zM276,1h1v1h-1zM301,1h1v1h-1zM15,2h1v1h-1zM260,2h1v1h-1zM180,3h1v1h-1zM194,3h1v1h-1zM309,3h2v1h-2zM52,4h1v1h-1zM180,4h1v1h-1zM269,4h1v1h-1zM151,5h1v1h-1zM301,5h2v1h-2zM52,6h1v1h-1zM205,6h1v1h-1zM336,6h1v1h-1zM19,7h1v1h-1zM31,7h1v1h-1zM98,7h1v1h-1zM324,7h1v1h-1zM71,8h1v1h-1zM199,8h1v1h-1zM278,8h1v1h-1zM0,9h1v1h-1zM11,9h1v1h-1zM19,9h1v1h-1zM60,9h1v1h-1zM153,9h1v1h-1zM259,9h1v1h-1zM16,11h1v1h-1zM224,11h1v1h-1zM124,12h1v1h-1zM189,12h1v1h-1zM299,12h1v1h-1zM74,13h1v1h-1zM140,13h1v1h-1zM252,13h1v1h-1zM90,14h1v1h-1zM247,14h1v1h-1zM70,15h1v1h-1zM261,15h1v1h-1zM11,16h1v1h-1zM184,16h1v1h-1zM278,16h1v1h-1zM32,17h1v1h-1zM199,17h1v1h-1zM122,18h1v1h-1zM157,18h1v1h-1zM258,18h1v1h-1zM318,19h1v1h-1z"/><path fill="#f6bda3" d="M14,8h1v1h-1zM19,8h1v1h-1zM261,19h1v1h-1z"/><path fill="#f7b599" d="M16,6h1v1h-1zM16,8h1v1h-1zM196,8h1v1h-1zM258,16h1v1h-1z"/></g>
<rect x="543.2" y="257.32" width="0.91" height="8.15" fill="#f8f8f8"/>
<rect x="625.72" y="232.86" width="0.91" height="8.15" fill="#fff"/>
<rect x="623.29" y="159.47" width="0.91" height="8.15" fill="#fff"/>
<rect x="623.29" y="249.17" width="0.91" height="8.15" fill="#fff"/>
<rect x="515.7" y="241.01" width="0.91" height="8.15" fill="#f8f8f8"/>
<rect x="554.53" y="192.08" width="0.91" height="8.15" fill="#f8f8f8"/>
<rect x="372.5" y="151.31" width="0.91" height="8.15" fill="#f8f8f8"/>
<rect x="622.49" y="200.24" width="0.91" height="8.15" fill="#fff"/>
<rect x="374.93" y="224.7" width="0.91" height="8.15" fill="#f8f8f8"/>
<rect x="522.98" y="135" width="0.91" height="8.15" fill="#f8f8f8"/>
<rect x="384.64" y="208.39" width="0.91" height="8.15" fill="#f8f8f8"/>
<rect x="450.17" y="232.86" width="0.91" height="8.15" fill="#f8f8f8"/>
<rect x="517.32" y="281.79" width="0.91" height="8.15" fill="#f8f8f8"/>
<rect x="389.49" y="135" width="0.91" height="8.15" fill="#f8f8f8"/>
<rect x="624.1" y="151.31" width="0.91" height="8.15" fill="#fff"/>
<rect x="400.82" y="175.78" width="0.91" height="8.15" fill="#f8f8f8"/>
<rect x="541.59" y="175.78" width="0.91" height="8.15" fill="#f8f8f8"/>
<rect x="499.52" y="249.17" width="0.91" height="8.15" fill="#f8f8f8"/>
<rect x="624.1" y="183.93" width="0.91" height="8.15" fill="#fff"/>
<rect x="387.07" y="183.93" width="0.91" height="8.15" fill="#f8f8f8"/>
<rect x="554.53" y="208.39" width="0.91" height="8.15" fill="#f8f8f8"/>
<rect x="479.29" y="232.86" width="0.91" height="8.15" fill="#f8f8f8"/>
<rect x="459.07" y="216.55" width="0.91" height="8.15" fill="#f8f8f8"/>
<rect x="622.49" y="175.78" width="0.91" height="8.15" fill="#fff"/>
<rect x="580.42" y="159.47" width="0.91" height="8.15" fill="#f8f8f8"/>
<rect x="624.1" y="167.62" width="0.91" height="8.15" fill="#fff"/>
<rect x="337.72" y="273.63" width="0.91" height="8.15" fill="#f8f8f8"/>
<rect x="530.26" y="273.63" width="0.91" height="8.15" fill="#f8f8f8"/>
<rect x="624.1" y="200.24" width="0.91" height="8.15" fill="#fff"/>
<rect x="483.34" y="200.24" width="0.91" height="8.15" fill="#f8f8f8"/>
<rect x="565.86" y="265.48" width="0.91" height="8.15" fill="#f8f8f8"/>
<rect x="535.92" y="175.78" width="0.91" height="8.15" fill="#f8f8f8"/>
<rect x="395.16" y="175.78" width="0.91" height="8.15" fill="#f8f8f8"/>
<rect x="353.09" y="249.17" width="0.91" height="8.15" fill="#f8f8f8"/>
<rect x="624.1" y="289.94" width="0.91" height="8.15" fill="#fff"/>
<rect x="545.63" y="249.17" width="0.91" height="8.15" fill="#f8f8f8"/>
<rect x="456.64" y="159.47" width="0.91" height="8.15" fill="#f8f8f8"/>
<rect x="380.59" y="281.79" width="0.91" height="8.15" fill="#f8f8f8"/>
<rect x="434.8" y="265.48" width="0.91" height="8.15" fill="#f8f8f8"/>
<rect x="624.1" y="306.25" width="0.91" height="8.15" fill="#fff"/>
<rect x="411.34" y="200.24" width="0.91" height="8.15" fill="#f8f8f8"/>
<rect x="369.27" y="273.63" width="0.91" height="8.15" fill="#f8f8f8"/>
<rect x="625.72" y="167.62" width="0.91" height="8.15" fill="#fff"/>
<rect x="374.12" y="289.94" width="0.91" height="8.15" fill="#f8f8f8"/>
<rect x="465.54" y="143.16" width="0.91" height="8.15" fill="#f8f8f8"/>
<rect x="536.73" y="167.62" width="0.91" height="8.15" fill="#f8f8f8"/>
<rect x="464.73" y="151.31" width="0.91" height="8.15" fill="#f8f8f8"/>
<rect x="588.51" y="167.62" width="0.91" height="8.15" fill="#f8f8f8"/>
<rect x="529.45" y="289.94" width="0.91" height="8.15" fill="#f8f8f8"/>
<rect x="625.72" y="289.94" width="0.91" height="8.15" fill="#fff"/>
<rect x="345" y="175.78" width="0.91" height="8.15" fill="#f8f8f8"/>
<rect x="346.62" y="167.62" width="0.91" height="8.15" fill="#f8f8f8"/>
<rect x="622.49" y="224.7" width="0.91" height="8.15" fill="#fff"/>
<rect x="539.16" y="273.63" width="0.91" height="8.15" fill="#f8f8f8"/>
<rect x="437.22" y="135" width="0.91" height="8.15" fill="#f8f8f8"/>
<rect x="575.56" y="151.31" width="0.91" height="8.15" fill="#f8f8f8"/>
<rect x="404.06" y="175.78" width="0.91" height="8.15" fill="#f8f8f8"/>
<rect x="446.93" y="208.39" width="0.91" height="8.15" fill="#f8f8f8"/>
<rect x="596.6" y="175.78" width="0.91" height="8.15" fill="#f8f8f8"/>
<rect x="386.26" y="143.16" width="0.91" height="8.15" fill="#f8f8f8"/>
<rect x="363.61" y="273.63" width="0.91" height="8.15" fill="#f8f8f8"/>
<rect x="582.03" y="192.08" width="0.91" height="8.15" fill="#f8f8f8"/>
<rect x="623.29" y="232.86" width="0.91" height="8.15" fill="#fff"/>
<rect x="408.1" y="143.16" width="0.91" height="8.15" fill="#f8f8f8"/>
<rect x="451.79" y="151.31" width="0.91" height="8.15" fill="#f8f8f8"/>
<rect x="544.82" y="281.79" width="0.91" height="8.15" fill="#f8f8f8"/>
<rect x="502.75" y="265.48" width="0.91" height="8.15" fill="#f8f8f8"/>
<rect x="458.26" y="265.48" width="0.91" height="8.15" fill="#f8f8f8"/>
<rect x="374.93" y="208.39" width="0.91" height="8.15" fill="#f8f8f8"/>
<rect x="622.49" y="273.63" width="0.91" height="8.15" fill="#fff"/>
<rect x="489.81" y="159.47" width="0.91" height="8.15" fill="#f8f8f8"/>
<rect x="391.11" y="175.78" width="0.91" height="8.15" fill="#f8f8f8"/>
<rect x="583.65" y="175.78" width="0.91" height="8.15" fill="#f8f8f8"/>
<rect x="585.27" y="273.63" width="0.91" height="8.15" fill="#f8f8f8"/>
<rect x="372.5" y="257.32" width="0.91" height="8.15" fill="#f8f8f8"/>
<rect x="356.32" y="159.47" width="0.91" height="8.15" fill="#f8f8f8"/>
<rect x="452.6" y="159.47" width="0.91" height="8.15" fill="#f8f8f8"/>
<rect x="450.17" y="175.78" width="0.91" height="8.15" fill="#f8f8f8"/>
<rect x="518.12" y="183.93" width="0.91" height="8.15" fill="#f8f8f8"/>
<rect x="476.06" y="257.32" width="0.91" height="8.15" fill="#f8f8f8"/>
<rect x="542.39" y="224.7" width="0.91" height="8.15" fill="#f8f8f8"/>
<rect x="348.23" y="200.24" width="0.91" height="8.15" fill="#f8f8f8"/>
<rect x="511.65" y="159.47" width="0.91" height="8.15" fill="#f8f8f8"/>
<rect x="624.1" y="257.32" width="0.91" height="8.15" fill="#fff"/>
<rect x="407.29" y="289.94" width="0.91" height="8.15" fill="#f8f8f8"/>
<rect x="586.08" y="265.48" width="0.91" height="8.15" fill="#f8f8f8"/>
<rect x="513.27" y="273.63" width="0.91" height="8.15" fill="#f8f8f8"/>
<rect x="505.99" y="143.16" width="0.91" height="8.15" fill="#f8f8f8"/>
<rect x="408.91" y="151.31" width="0.91" height="8.15" fill="#f8f8f8"/>
<rect x="476.06" y="273.63" width="0.91" height="8.15" fill="#f8f8f8"/>
<rect x="470.39" y="135" width="0.91" height="8.15" fill="#f8f8f8"/>
<rect x="569.09" y="208.39" width="0.91" height="8.15" fill="#f8f8f8"/>
<rect x="381.4" y="224.7" width="0.91" height="8.15" fill="#f8f8f8"/>
<rect x="477.67" y="224.7" width="0.91" height="8.15" fill="#f8f8f8"/>
<rect x="625.72" y="135" width="0.91" height="8.15" fill="#fff"/>
<rect x="625.72" y="224.7" width="0.91" height="8.15" fill="#fff"/>
<rect x="480.1" y="241.01" width="0.91" height="8.15" fill="#f8f8f8"/>
<rect x="408.91" y="167.62" width="0.91" height="8.15" fill="#f8f8f8"/>
<rect x="505.99" y="249.17" width="0.91" height="8.15" fill="#f8f8f8"/>
<rect x="364.41" y="167.62" width="0.91" height="8.15" fill="#f8f8f8"/>
<rect x="333.67" y="192.08" width="0.91" height="8.15" fill="#f8f8f8"/>
<rect x="623.29" y="183.93" width="0.91" height="8.15" fill="#fff"/>
<rect x="625.72" y="257.32" width="0.91" height="8.15" fill="#fff"/>
<rect x="622.49" y="192.08" width="0.91" height="8.15" fill="#fff"/>
<rect x="396.77" y="143.16" width="0.91" height="8.15" fill="#f8f8f8"/>
<rect x="581.23" y="257.32" width="0.91" height="8.15" fill="#f8f8f8"/>
<rect x="505.18" y="289.94" width="0.91" height="8.15" fill="#f8f8f8"/>
<rect x="328.01" y="175.78" width="0.91" height="8.15" fill="#f8f8f8"/>
<rect x="566.66" y="273.63" width="0.91" height="8.15" fill="#f8f8f8"/>
<rect x="423.47" y="200.24" width="0.91" height="8.15" fill="#f8f8f8"/>
<rect x="368.46" y="224.7" width="0.91" height="8.15" fill="#f8f8f8"/>
<rect x="462.3" y="151.31" width="0.91" height="8.15" fill="#f8f8f8"/>
<rect x="477.67" y="273.63" width="0.91" height="8.15" fill="#f8f8f8"/>
<rect x="433.18" y="273.63" width="0.91" height="8.15" fill="#f8f8f8"/>
<rect x="624.1" y="175.78" width="0.91" height="8.15" fill="#fff"/>
<rect x="623.29" y="200.24" width="0.91" height="8.15" fill="#fff"/>
<rect x="622.49" y="208.39" width="0.91" height="8.15" fill="#fff"/>
<rect x="440.46" y="167.62" width="0.91" height="8.15" fill="#f8f8f8"/>
<rect x="510.03" y="232.86" width="0.91" height="8.15" fill="#f8f8f8"/>
<rect x="481.72" y="241.01" width="0.91" height="8.15" fill="#f8f8f8"/>
<rect x="379.78" y="192.08" width="0.91" height="8.15" fill="#f8f8f8"/>
<rect x="574.75" y="265.48" width="0.91" height="8.15" fill="#f8f8f8"/>
<rect x="624.91" y="183.93" width="0.91" height="8.15" fill="#fff"/>
<rect x="499.52" y="200.24" width="0.91" height="8.15" fill="#f8f8f8"/>
<rect x="499.52" y="289.94" width="0.91" height="8.15" fill="#f8f8f8"/>
<rect x="548.87" y="216.55" width="0.91" height="8.15" fill="#f8f8f8"/>
<rect x="378.98" y="232.86" width="0.91" height="8.15" fill="#f8f8f8"/>
<rect x="624.91" y="167.62" width="0.91" height="8.15" fill="#fff"/>
<rect x="374.12" y="175.78" width="0.91" height="8.15" fill="#f8f8f8"/>
<rect x="566.66" y="175.78" width="0.91" height="8.15" fill="#f8f8f8"/>
<rect x="427.52" y="273.63" width="0.91" height="8.15" fill="#f8f8f8"/>
<rect x="383.83" y="249.17" width="0.91" height="8.15" fill="#f8f8f8"/>
<rect x="479.29" y="273.63" width="0.91" height="8.15" fill="#f8f8f8"/>
<rect x="487.38" y="159.47" width="0.91" height="8.15" fill="#f8f8f8"/>
<rect x="622.49" y="216.55" width="0.91" height="8.15" fill="#fff"/>
<rect x="397.58" y="167.62" width="0.91" height="8.15" fill="#f8f8f8"/>
<rect x="366.84" y="281.79" width="0.91" height="8.15" fill="#f8f8f8"/>
<rect x="476.06" y="241.01" width="0.91" height="8.15" fill="#f8f8f8"/>
<rect x="595.79" y="175.78" width="0.91" height="8.15" fill="#f8f8f8"/>
<rect x="431.56" y="241.01" width="0.91" height="8.15" fill="#f8f8f8"/>
<rect x="624.1" y="241.01" width="0.91" height="8.15" fill="#fff"/>
<rect x="563.43" y="232.86" width="0.91" height="8.15" fill="#f8f8f8"/>
<rect x="477.67" y="281.79" width="0.91" height="8.15" fill="#f8f8f8"/>
<rect x="487.38" y="265.48" width="0.91" height="8.15" fill="#f8f8f8"/>
<rect x="625.72" y="281.79" width="0.91" height="8.15" fill="#fff"/>
<rect x="501.13" y="289.94" width="0.91" height="8.15" fill="#f8f8f8"/>
<rect x="548.06" y="143.16" width="0.91" height="8.15" fill="#f8f8f8"/>
<rect x="560.19" y="200.24" width="0.91" height="8.15" fill="#f8f8f8"/>
<rect x="374.12" y="208.39" width="0.91" height="8.15" fill="#f8f8f8"/>
<rect x="622.49" y="159.47" width="0.91" height="8.15" fill="#fff"/>
<rect x="408.91" y="257.32" width="0.91" height="8.15" fill="#f8f8f8"/>
<rect x="491.43" y="232.86" width="0.91" height="8.15" fill="#f8f8f8"/>
<rect x="623.29" y="135" width="0.91" height="8.15" fill="#fff"/>
<rect x="539.97" y="167.62" width="0.91" height="8.15" fill="#f8f8f8"/>
<rect x="592.55" y="159.47" width="0.91" height="8.15" fill="#f8f8f8"/>
<rect x="538.35" y="175.78" width="0.91" height="8.15" fill="#f8f8f8"/>
<rect x="340.14" y="289.94" width="0.91" height="8.15" fill="#f8f8f8"/>
<rect x="502.75" y="167.62" width="0.91" height="8.15" fill="#f8f8f8"/>
<rect x="516.51" y="281.79" width="0.91" height="8.15" fill="#f8f8f8"/>
<rect x="624.1" y="143.16" width="0.91" height="8.15" fill="#fff"/>
<rect x="387.07" y="143.16" width="0.91" height="8.15" fill="#f8f8f8"/>
<rect x="342.57" y="143.16" width="0.91" height="8.15" fill="#f8f8f8"/>
<rect x="623.29" y="257.32" width="0.91" height="8.15" fill="#fff"/>
<rect x="445.31" y="151.31" width="0.91" height="8.15" fill="#f8f8f8"/>
<rect x="582.84" y="281.79" width="0.91" height="8.15" fill="#f8f8f8"/>
<rect x="458.26" y="289.94" width="0.91" height="8.15" fill="#f8f8f8"/>
<rect x="595.79" y="224.7" width="0.91" height="8.15" fill="#f8f8f8"/>
<rect x="551.29" y="224.7" width="0.91" height="8.15" fill="#f8f8f8"/>
<rect x="522.98" y="232.86" width="0.91" height="8.15" fill="#f8f8f8"/>
<rect x="517.32" y="289.94" width="0.91" height="8.15" fill="#f8f8f8"/>
<rect x="417.81" y="224.7" width="0.91" height="8.15" fill="#f8f8f8"/>
<rect x="624.1" y="159.47" width="0.91" height="8.15" fill="#fff"/>
<rect x="499.52" y="257.32" width="0.91" height="8.15" fill="#f8f8f8"/>
<rect x="400.01" y="281.79" width="0.91" height="8.15" fill="#f8f8f8"/>
<rect x="541.59" y="167.62" width="0.91" height="8.15" fill="#f8f8f8"/>
<rect x="510.84" y="192.08" width="0.91" height="8.15" fill="#f8f8f8"/>
<rect x="482.53" y="200.24" width="0.91" height="8.15" fill="#f8f8f8"/>
<rect x="624.91" y="257.32" width="0.91" height="8.15" fill="#fff"/>
<rect x="590.93" y="216.55" width="0.91" height="8.15" fill="#f8f8f8"/>
<rect x="493.85" y="224.7" width="0.91" height="8.15" fill="#f8f8f8"/>
<rect x="338.53" y="257.32" width="0.91" height="8.15" fill="#f8f8f8"/>
<rect x="329.63" y="249.17" width="0.91" height="8.15" fill="#f8f8f8"/>
<rect x="442.08" y="257.32" width="0.91" height="8.15" fill="#f8f8f8"/>
<rect x="515.7" y="224.7" width="0.91" height="8.15" fill="#f8f8f8"/>
<rect x="625.72" y="249.17" width="0.91" height="8.15" fill="#fff"/>
<rect x="457.45" y="143.16" width="0.91" height="8.15" fill="#f8f8f8"/>
<rect x="415.38" y="216.55" width="0.91" height="8.15" fill="#f8f8f8"/>
<rect x="555.34" y="241.01" width="0.91" height="8.15" fill="#f8f8f8"/>
<rect x="505.18" y="192.08" width="0.91" height="8.15" fill="#f8f8f8"/>
<rect x="460.69" y="281.79" width="0.91" height="8.15" fill="#f8f8f8"/>
<rect x="526.21" y="216.55" width="0.91" height="8.15" fill="#f8f8f8"/>
<rect x="523.79" y="143.16" width="0.91" height="8.15" fill="#f8f8f8"/>
<rect x="374.12" y="265.48" width="0.91" height="8.15" fill="#f8f8f8"/>
<rect x="439.65" y="200.24" width="0.91" height="8.15" fill="#f8f8f8"/>
<rect x="623.29" y="192.08" width="0.91" height="8.15" fill="#fff"/>
<rect x="382.21" y="183.93" width="0.91" height="8.15" fill="#f8f8f8"/>
<rect x="463.92" y="273.63" width="0.91" height="8.15" fill="#f8f8f8"/>
<rect x="417.81" y="175.78" width="0.91" height="8.15" fill="#f8f8f8"/>
<rect x="378.17" y="232.86" width="0.91" height="8.15" fill="#f8f8f8"/>
<rect x="474.44" y="232.86" width="0.91" height="8.15" fill="#f8f8f8"/>
<rect x="516.51" y="249.17" width="0.91" height="8.15" fill="#f8f8f8"/>
<rect x="622.49" y="232.86" width="0.91" height="8.15" fill="#fff"/>
<rect x="478.48" y="167.62" width="0.91" height="8.15" fill="#f8f8f8"/>
<rect x="519.74" y="208.39" width="0.91" height="8.15" fill="#f8f8f8"/>
<rect x="547.25" y="257.32" width="0.91" height="8.15" fill="#f8f8f8"/>
<rect x="624.91" y="175.78" width="0.91" height="8.15" fill="#fff"/>
<rect x="580.42" y="175.78" width="0.91" height="8.15" fill="#f8f8f8"/>
<rect x="510.84" y="143.16" width="0.91" height="8.15" fill="#f8f8f8"/>
<rect x="441.27" y="167.62" width="0.91" height="8.15" fill="#f8f8f8"/>
<rect x="510.03" y="257.32" width="0.91" height="8.15" fill="#f8f8f8"/>
<rect x="564.24" y="241.01" width="0.91" height="8.15" fill="#f8f8f8"/>
<rect x="457.45" y="265.48" width="0.91" height="8.15" fill="#f8f8f8"/>
<rect x="509.23" y="265.48" width="0.91" height="8.15" fill="#f8f8f8"/>
<rect x="499.52" y="281.79" width="0.91" height="8.15" fill="#f8f8f8"/>
<rect x="417.81" y="192.08" width="0.91" height="8.15" fill="#f8f8f8"/>
<rect x="524.6" y="151.31" width="0.91" height="8.15" fill="#f8f8f8"/>
<rect x="586.89" y="216.55" width="0.91" height="8.15" fill="#f8f8f8"/>
<rect x="584.46" y="143.16" width="0.91" height="8.15" fill="#f8f8f8"/>
<rect x="391.11" y="151.31" width="0.91" height="8.15" fill="#f8f8f8"/>
<rect x="459.07" y="159.47" width="0.91" height="8.15" fill="#f8f8f8"/>
<rect x="361.99" y="167.62" width="0.91" height="8.15" fill="#f8f8f8"/>
<rect x="544.82" y="200.24" width="0.91" height="8.15" fill="#f8f8f8"/>
<rect x="489.81" y="224.7" width="0.91" height="8.15" fill="#f8f8f8"/>
<rect x="370.08" y="159.47" width="0.91" height="8.15" fill="#f8f8f8"/>
<rect x="497.09" y="224.7" width="0.91" height="8.15" fill="#f8f8f8"/>
<rect x="547.25" y="273.63" width="0.91" height="8.15" fill="#f8f8f8"/>
<rect x="546.44" y="151.31" width="0.91" height="8.15" fill="#f8f8f8"/>
<rect x="517.32" y="273.63" width="0.91" height="8.15" fill="#f8f8f8"/>
<rect x="473.63" y="249.17" width="0.91" height="8.15" fill="#f8f8f8"/>
<rect x="346.62" y="183.93" width="0.91" height="8.15" fill="#f8f8f8"/>
<rect x="431.56" y="232.86" width="0.91" height="8.15" fill="#f8f8f8"/>
<rect x="391.11" y="167.62" width="0.91" height="8.15" fill="#f8f8f8"/>
<rect x="418.62" y="216.55" width="0.91" height="8.15" fill="#f8f8f8"/>
<rect x="624.91" y="208.39" width="0.91" height="8.15" fill="#fff"/>
<rect x="438.03" y="273.63" width="0.91" height="8.15" fill="#f8f8f8"/>
<rect x="474.44" y="151.31" width="0.91" height="8.15" fill="#f8f8f8"/>
<rect x="336.1" y="224.7" width="0.91" height="8.15" fill="#f8f8f8"/>
<rect x="404.06" y="232.86" width="0.91" height="8.15" fill="#f8f8f8"/>
<rect x="624.91" y="241.01" width="0.91" height="8.15" fill="#fff"/>
<rect x="622.49" y="257.32" width="0.91" height="8.15" fill="#fff"/>
<rect x="535.92" y="224.7" width="0.91" height="8.15" fill="#f8f8f8"/>
<rect x="505.18" y="159.47" width="0.91" height="8.15" fill="#f8f8f8"/>
<rect x="601.45" y="159.47" width="0.91" height="8.15" fill="#f8f8f8"/>
<rect x="600.64" y="273.63" width="0.91" height="8.15" fill="#f8f8f8"/>
<rect x="543.2" y="135" width="0.91" height="8.15" fill="#f8f8f8"/>
<line x1="323.8" y1="139.08" x2="327" y2="139.08" stroke="#333" stroke-width="0.6"/>
<text x="320" y="141.68" text-anchor="end" font-size="7.3">A</text>
<line x1="323.8" y1="147.23" x2="327" y2="147.23" stroke="#333" stroke-width="0.6"/>
<text x="320" y="149.83" text-anchor="end" font-size="7.3">V</text>
<line x1="323.8" y1="155.39" x2="327" y2="155.39" stroke="#333" stroke-width="0.6"/>
<text x="320" y="157.99" text-anchor="end" font-size="7.3">I</text>
<line x1="323.8" y1="163.54" x2="327" y2="163.54" stroke="#333" stroke-width="0.6"/>
<text x="320" y="166.14" text-anchor="end" font-size="7.3">L</text>
<line x1="323.8" y1="171.7" x2="327" y2="171.7" stroke="#333" stroke-width="0.6"/>
<text x="320" y="174.3" text-anchor="end" font-size="7.3">M</text>
<line x1="323.8" y1="179.85" x2="327" y2="179.85" stroke="#333" stroke-width="0.6"/>
<text x="320" y="182.45" text-anchor="end" font-size="7.3">F</text>
<line x1="323.8" y1="188.01" x2="327" y2="188.01" stroke="#333" stroke-width="0.6"/>
<text x="320" y="190.61" text-anchor="end" font-size="7.3">Y</text>
<line x1="323.8" y1="196.16" x2="327" y2="196.16" stroke="#333" stroke-width="0.6"/>
<text x="320" y="198.76" text-anchor="end" font-size="7.3">W</text>
<line x1="323.8" y1="204.32" x2="327" y2="204.32" stroke="#333" stroke-width="0.6"/>
<text x="320" y="206.92" text-anchor="end" font-size="7.3">S</text>
<line x1="323.8" y1="212.47" x2="327" y2="212.47" stroke="#333" stroke-width="0.6"/>
<text x="320" y="215.07" text-anchor="end" font-size="7.3">T</text>
<line x1="323.8" y1="220.63" x2="327" y2="220.63" stroke="#333" stroke-width="0.6"/>
<text x="320" y="223.23" text-anchor="end" font-size="7.3">N</text>
<line x1="323.8" y1="228.78" x2="327" y2="228.78" stroke="#333" stroke-width="0.6"/>
<text x="320" y="231.38" text-anchor="end" font-size="7.3">Q</text>
<line x1="323.8" y1="236.94" x2="327" y2="236.94" stroke="#333" stroke-width="0.6"/>
<text x="320" y="239.54" text-anchor="end" font-size="7.3">C</text>
<line x1="323.8" y1="245.09" x2="327" y2="245.09" stroke="#333" stroke-width="0.6"/>
<text x="320" y="247.69" text-anchor="end" font-size="7.3">G</text>
<line x1="323.8" y1="253.25" x2="327" y2="253.25" stroke="#333" stroke-width="0.6"/>
<text x="320" y="255.85" text-anchor="end" font-size="7.3">P</text>
<line x1="323.8" y1="261.4" x2="327" y2="261.4" stroke="#333" stroke-width="0.6"/>
<text x="320" y="264" text-anchor="end" font-size="7.3">R</text>
<line x1="323.8" y1="269.56" x2="327" y2="269.56" stroke="#333" stroke-width="0.6"/>
<text x="320" y="272.16" text-anchor="end" font-size="7.3">H</text>
<line x1="323.8" y1="277.71" x2="327" y2="277.71" stroke="#333" stroke-width="0.6"/>
<text x="320" y="280.31" text-anchor="end" font-size="7.3">K</text>
<line x1="323.8" y1="285.87" x2="327" y2="285.87" stroke="#333" stroke-width="0.6"/>
<text x="320" y="288.47" text-anchor="end" font-size="7.3">D</text>
<line x1="323.8" y1="294.02" x2="327" y2="294.02" stroke="#333" stroke-width="0.6"/>
<text x="320" y="296.62" text-anchor="end" font-size="7.3">E</text>
<line x1="323.8" y1="302.18" x2="327" y2="302.18" stroke="#333" stroke-width="0.6"/>
<text x="320" y="304.78" text-anchor="end" font-size="7.3">*</text>
<line x1="323.8" y1="310.33" x2="327" y2="310.33" stroke="#333" stroke-width="0.6"/>
<text x="320" y="312.93" text-anchor="end" font-size="7.3">Median</text>
<line x1="309.7" y1="136.5" x2="309.7" y2="196" stroke="#555" stroke-width="0.6"/>
<text x="304.7" y="166.3" text-anchor="middle" textLength="52.4" lengthAdjust="spacingAndGlyphs" transform="rotate(-90 304.7 166.3)">Hydrophobic</text>
<line x1="309.7" y1="202.7" x2="309.7" y2="228.6" stroke="#555" stroke-width="0.6"/>
<text x="304.7" y="216" text-anchor="middle" textLength="17.9" lengthAdjust="spacingAndGlyphs" transform="rotate(-90 304.7 216)">Polar</text>
<line x1="309.7" y1="234.8" x2="309.7" y2="254.5" stroke="#555" stroke-width="0.6"/>
<text x="304.7" y="243.8" text-anchor="middle" textLength="28.5" lengthAdjust="spacingAndGlyphs" transform="rotate(-90 304.7 243.8)">Special</text>
<line x1="309.7" y1="258.9" x2="309.7" y2="296.4" stroke="#555" stroke-width="0.6"/>
<text x="304.7" y="278.5" text-anchor="middle" textLength="33.9" lengthAdjust="spacingAndGlyphs" transform="rotate(-90 304.7 278.5)">Charged</text>
<line x1="327.6" y1="314.41" x2="327.6" y2="317.01" stroke="#333" stroke-width="0.5"/>
<text x="330.3" y="321.71" text-anchor="end" font-size="7.6" transform="rotate(-90 330.3 321.71)">1</text>
<line x1="334.08" y1="314.41" x2="334.08" y2="317.01" stroke="#333" stroke-width="0.5"/>
<text x="336.78" y="321.71" text-anchor="end" font-size="7.6" transform="rotate(-90 336.78 321.71)">9</text>
<line x1="340.55" y1="314.41" x2="340.55" y2="317.01" stroke="#333" stroke-width="0.5"/>
<text x="343.25" y="321.71" text-anchor="end" font-size="7.6" transform="rotate(-90 343.25 321.71)">17</text>
<line x1="347.02" y1="314.41" x2="347.02" y2="317.01" stroke="#333" stroke-width="0.5"/>
<text x="349.72" y="321.71" text-anchor="end" font-size="7.6" transform="rotate(-90 349.72 321.71)">25</text>
<line x1="353.49" y1="314.41" x2="353.49" y2="317.01" stroke="#333" stroke-width="0.5"/>
<text x="356.19" y="321.71" text-anchor="end" font-size="7.6" transform="rotate(-90 356.19 321.71)">33</text>
<line x1="359.96" y1="314.41" x2="359.96" y2="317.01" stroke="#333" stroke-width="0.5"/>
<text x="362.66" y="321.71" text-anchor="end" font-size="7.6" transform="rotate(-90 362.66 321.71)">41</text>
<line x1="366.44" y1="314.41" x2="366.44" y2="317.01" stroke="#333" stroke-width="0.5"/>
<text x="369.14" y="321.71" text-anchor="end" font-size="7.6" transform="rotate(-90 369.14 321.71)">49</text>
<line x1="372.91" y1="314.41" x2="372.91" y2="317.01" stroke="#333" stroke-width="0.5"/>
<text x="375.61" y="321.71" text-anchor="end" font-size="7.6" transform="rotate(-90 375.61 321.71)">57</text>
<line x1="379.38" y1="314.41" x2="379.38" y2="317.01" stroke="#333" stroke-width="0.5"/>
<text x="382.08" y="321.71" text-anchor="end" font-size="7.6" transform="rotate(-90 382.08 321.71)">65</text>
<line x1="385.85" y1="314.41" x2="385.85" y2="317.01" stroke="#333" stroke-width="0.5"/>
<text x="388.55" y="321.71" text-anchor="end" font-size="7.6" transform="rotate(-90 388.55 321.71)">73</text>
<line x1="392.32" y1="314.41" x2="392.32" y2="317.01" stroke="#333" stroke-width="0.5"/>
<text x="395.02" y="321.71" text-anchor="end" font-size="7.6" transform="rotate(-90 395.02 321.71)">81</text>
<line x1="398.8" y1="314.41" x2="398.8" y2="317.01" stroke="#333" stroke-width="0.5"/>
<text x="401.5" y="321.71" text-anchor="end" font-size="7.6" transform="rotate(-90 401.5 321.71)">89</text>
<line x1="405.27" y1="314.41" x2="405.27" y2="317.01" stroke="#333" stroke-width="0.5"/>
<text x="407.97" y="321.71" text-anchor="end" font-size="7.6" transform="rotate(-90 407.97 321.71)">97</text>
<line x1="411.74" y1="314.41" x2="411.74" y2="317.01" stroke="#333" stroke-width="0.5"/>
<text x="414.44" y="321.71" text-anchor="end" font-size="7.6" transform="rotate(-90 414.44 321.71)">105</text>
<line x1="418.21" y1="314.41" x2="418.21" y2="317.01" stroke="#333" stroke-width="0.5"/>
<text x="420.91" y="321.71" text-anchor="end" font-size="7.6" transform="rotate(-90 420.91 321.71)">113</text>
<line x1="424.68" y1="314.41" x2="424.68" y2="317.01" stroke="#333" stroke-width="0.5"/>
<text x="427.38" y="321.71" text-anchor="end" font-size="7.6" transform="rotate(-90 427.38 321.71)">121</text>
<line x1="431.16" y1="314.41" x2="431.16" y2="317.01" stroke="#333" stroke-width="0.5"/>
<text x="433.86" y="321.71" text-anchor="end" font-size="7.6" transform="rotate(-90 433.86 321.71)">129</text>
<line x1="437.63" y1="314.41" x2="437.63" y2="317.01" stroke="#333" stroke-width="0.5"/>
<text x="440.33" y="321.71" text-anchor="end" font-size="7.6" transform="rotate(-90 440.33 321.71)">137</text>
<line x1="444.1" y1="314.41" x2="444.1" y2="317.01" stroke="#333" stroke-width="0.5"/>
<text x="446.8" y="321.71" text-anchor="end" font-size="7.6" transform="rotate(-90 446.8 321.71)">145</text>
<line x1="450.57" y1="314.41" x2="450.57" y2="317.01" stroke="#333" stroke-width="0.5"/>
<text x="453.27" y="321.71" text-anchor="end" font-size="7.6" transform="rotate(-90 453.27 321.71)">153</text>
<line x1="457.04" y1="314.41" x2="457.04" y2="317.01" stroke="#333" stroke-width="0.5"/>
<text x="459.74" y="321.71" text-anchor="end" font-size="7.6" transform="rotate(-90 459.74 321.71)">161</text>
<line x1="463.52" y1="314.41" x2="463.52" y2="317.01" stroke="#333" stroke-width="0.5"/>
<text x="466.22" y="321.71" text-anchor="end" font-size="7.6" transform="rotate(-90 466.22 321.71)">169</text>
<line x1="469.99" y1="314.41" x2="469.99" y2="317.01" stroke="#333" stroke-width="0.5"/>
<text x="472.69" y="321.71" text-anchor="end" font-size="7.6" transform="rotate(-90 472.69 321.71)">177</text>
<line x1="476.46" y1="314.41" x2="476.46" y2="317.01" stroke="#333" stroke-width="0.5"/>
<text x="479.16" y="321.71" text-anchor="end" font-size="7.6" transform="rotate(-90 479.16 321.71)">185</text>
<line x1="482.93" y1="314.41" x2="482.93" y2="317.01" stroke="#333" stroke-width="0.5"/>
<text x="485.63" y="321.71" text-anchor="end" font-size="7.6" transform="rotate(-90 485.63 321.71)">193</text>
<line x1="489.4" y1="314.41" x2="489.4" y2="317.01" stroke="#333" stroke-width="0.5"/>
<text x="492.1" y="321.71" text-anchor="end" font-size="7.6" transform="rotate(-90 492.1 321.71)">201</text>
<line x1="495.88" y1="314.41" x2="495.88" y2="317.01" stroke="#333" stroke-width="0.5"/>
<text x="498.58" y="321.71" text-anchor="end" font-size="7.6" transform="rotate(-90 498.58 321.71)">209</text>
<line x1="502.35" y1="314.41" x2="502.35" y2="317.01" stroke="#333" stroke-width="0.5"/>
<text x="505.05" y="321.71" text-anchor="end" font-size="7.6" transform="rotate(-90 505.05 321.71)">217</text>
<line x1="508.82" y1="314.41" x2="508.82" y2="317.01" stroke="#333" stroke-width="0.5"/>
<text x="511.52" y="321.71" text-anchor="end" font-size="7.6" transform="rotate(-90 511.52 321.71)">225</text>
<line x1="515.29" y1="314.41" x2="515.29" y2="317.01" stroke="#333" stroke-width="0.5"/>
<text x="517.99" y="321.71" text-anchor="end" font-size="7.6" transform="rotate(-90 517.99 321.71)">233</text>
<line x1="521.76" y1="314.41" x2="521.76" y2="317.01" stroke="#333" stroke-width="0.5"/>
<text x="524.46" y="321.71" text-anchor="end" font-size="7.6" transform="rotate(-90 524.46 321.71)">241</text>
<line x1="528.24" y1="314.41" x2="528.24" y2="317.01" stroke="#333" stroke-width="0.5"/>
<text x="530.94" y="321.71" text-anchor="end" font-size="7.6" transform="rotate(-90 530.94 321.71)">249</text>
<line x1="534.71" y1="314.41" x2="534.71" y2="317.01" stroke="#333" stroke-width="0.5"/>
<text x="537.41" y="321.71" text-anchor="end" font-size="7.6" transform="rotate(-90 537.41 321.71)">257</text>
<line x1="541.18" y1="314.41" x2="541.18" y2="317.01" stroke="#333" stroke-width="0.5"/>
<text x="543.88" y="321.71" text-anchor="end" font-size="7.6" transform="rotate(-90 543.88 321.71)">265</text>
<line x1="547.65" y1="314.41" x2="547.65" y2="317.01" stroke="#333" stroke-width="0.5"/>
<text x="550.35" y="321.71" text-anchor="end" font-size="7.6" transform="rotate(-90 550.35 321.71)">273</text>
<line x1="554.12" y1="314.41" x2="554.12" y2="317.01" stroke="#333" stroke-width="0.5"/>
<text x="556.82" y="321.71" text-anchor="end" font-size="7.6" transform="rotate(-90 556.82 321.71)">281</text>
<line x1="560.6" y1="314.41" x2="560.6" y2="317.01" stroke="#333" stroke-width="0.5"/>
<text x="563.3" y="321.71" text-anchor="end" font-size="7.6" transform="rotate(-90 563.3 321.71)">289</text>
<line x1="567.07" y1="314.41" x2="567.07" y2="317.01" stroke="#333" stroke-width="0.5"/>
<text x="569.77" y="321.71" text-anchor="end" font-size="7.6" transform="rotate(-90 569.77 321.71)">297</text>
<line x1="573.54" y1="314.41" x2="573.54" y2="317.01" stroke="#333" stroke-width="0.5"/>
<text x="576.24" y="321.71" text-anchor="end" font-size="7.6" transform="rotate(-90 576.24 321.71)">305</text>
<line x1="580.01" y1="314.41" x2="580.01" y2="317.01" stroke="#333" stroke-width="0.5"/>
<text x="582.71" y="321.71" text-anchor="end" font-size="7.6" transform="rotate(-90 582.71 321.71)">313</text>
<line x1="586.48" y1="314.41" x2="586.48" y2="317.01" stroke="#333" stroke-width="0.5"/>
<text x="589.18" y="321.71" text-anchor="end" font-size="7.6" transform="rotate(-90 589.18 321.71)">321</text>
<line x1="592.96" y1="314.41" x2="592.96" y2="317.01" stroke="#333" stroke-width="0.5"/>
<text x="595.66" y="321.71" text-anchor="end" font-size="7.6" transform="rotate(-90 595.66 321.71)">329</text>
<line x1="599.43" y1="314.41" x2="599.43" y2="317.01" stroke="#333" stroke-width="0.5"/>
<text x="602.13" y="321.71" text-anchor="end" font-size="7.6" transform="rotate(-90 602.13 321.71)">337</text>
<line x1="605.9" y1="314.41" x2="605.9" y2="317.01" stroke="#333" stroke-width="0.5"/>
<text x="608.6" y="321.71" text-anchor="end" font-size="7.6" transform="rotate(-90 608.6 321.71)">345</text>
<line x1="612.37" y1="314.41" x2="612.37" y2="317.01" stroke="#333" stroke-width="0.5"/>
<text x="615.07" y="321.71" text-anchor="end" font-size="7.6" transform="rotate(-90 615.07 321.71)">353</text>
<line x1="618.84" y1="314.41" x2="618.84" y2="317.01" stroke="#333" stroke-width="0.5"/>
<text x="621.54" y="321.71" text-anchor="end" font-size="7.6" transform="rotate(-90 621.54 321.71)">361</text>
<line x1="625.32" y1="314.41" x2="625.32" y2="317.01" stroke="#333" stroke-width="0.5"/>
<text x="628.02" y="321.71" text-anchor="end" font-size="7.6" transform="rotate(-90 628.02 321.71)">369</text>
<defs><linearGradient id="gcb" x1="0" x2="0" y1="1" y2="0"><stop offset="0" stop-color="#3b4cc0"/><stop offset="0.08" stop-color="#4d68d7"/><stop offset="0.17" stop-color="#6282ea"/><stop offset="0.25" stop-color="#779af7"/><stop offset="0.33" stop-color="#8db0fe"/><stop offset="0.42" stop-color="#a3c2ff"/><stop offset="0.5" stop-color="#b8d0f9"/><stop offset="0.58" stop-color="#ccd9ee"/><stop offset="0.67" stop-color="#dddddd"/><stop offset="0.75" stop-color="#ecd3c5"/><stop offset="0.83" stop-color="#f5c4ad"/><stop offset="0.92" stop-color="#f7b194"/><stop offset="1" stop-color="#f49a7b"/></linearGradient></defs>
<rect x="637.4" y="135.2" width="10.1" height="179.2" fill="url(#gcb)"/>
<line x1="647.5" y1="314.4" x2="650.2" y2="314.4" stroke="#333" stroke-width="0.6"/>
<text x="652.6" y="317" font-size="7.3">0</text>
<line x1="647.5" y1="254.66" x2="650.2" y2="254.66" stroke="#333" stroke-width="0.6"/>
<text x="652.6" y="257.26" font-size="7.3">0.5</text>
<line x1="647.5" y1="194.93" x2="650.2" y2="194.93" stroke="#333" stroke-width="0.6"/>
<text x="652.6" y="197.53" font-size="7.3">1.0</text>
<line x1="647.5" y1="135.19" x2="650.2" y2="135.19" stroke="#333" stroke-width="0.6"/>
<text x="652.6" y="137.79" font-size="7.3">1.5</text>
<text x="675.9" y="224.8" text-anchor="middle" textLength="109" lengthAdjust="spacingAndGlyphs" transform="rotate(90 675.9 224.8)">Relative surface expression</text>
<path d="M324.2,338.3 325.71,338.26 327.88,338.19 330.36,338.12 332.85,338.09 335,338.1 336.81,338.15 338.5,338.22 340.08,338.33 341.57,338.52 343,338.8 344.31,339.24 345.5,339.81 346.62,340.44 347.77,341.03 349,341.5 350.45,341.84 352.06,342.11 353.66,342.32 355.03,342.48 356,342.6" fill="none" stroke="#8c8c8c" stroke-width="0.6"/>
<path d="M376.8,342.6 377.1,342.73 377.53,342.89 378.03,343.11 378.54,343.47 379,344 379.42,344.82 379.83,345.89 380.23,347.06 380.62,348.15 381,349 381.36,349.62 381.7,350.12 382.03,350.49 382.36,350.72 382.7,350.8 383.04,350.72 383.37,350.48 383.71,350.11 384.05,349.61 384.4,349 384.77,348.18 385.15,347.14 385.53,346.03 385.92,345 386.3,344.2 386.71,343.65 387.15,343.25 387.58,342.97 387.94,342.77 388.2,342.6" fill="none" stroke="#8c8c8c" stroke-width="0.6"/>
<path d="M406.3,342.6 406.56,342.28 406.93,341.85 407.36,341.32 407.8,340.7 408.2,340 408.57,339.15 408.94,338.13 409.3,337.06 409.65,336.08 410,335.3 410.33,334.71 410.65,334.24 410.96,333.89 411.28,333.67 411.6,333.6 411.93,333.67 412.26,333.88 412.59,334.23 412.94,334.7 413.3,335.3 413.68,336.12 414.08,337.15 414.49,338.27 414.9,339.33 415.3,340.2 415.73,340.88 416.2,341.46 416.64,341.93 417.03,342.31 417.3,342.6" fill="none" stroke="#8c8c8c" stroke-width="0.6"/>
<path d="M435.9,342.6 436.46,342.73 437.25,342.89 438.17,343.11 439.12,343.47 440,344 440.83,344.82 441.67,345.89 442.51,347.06 443.29,348.15 444,349 444.61,349.62 445.14,350.12 445.63,350.49 446.1,350.72 446.6,350.8 447.11,350.72 447.61,350.49 448.11,350.12 448.64,349.62 449.2,349 449.82,348.15 450.48,347.06 451.17,345.89 451.85,344.82 452.5,344 453.17,343.47 453.87,343.11 454.53,342.89 455.1,342.73 455.5,342.6" fill="none" stroke="#8c8c8c" stroke-width="0.6"/>
<path d="M473,342.6 473.44,342.44 474.07,342.24 474.8,341.96 475.53,341.56 476.2,341 476.8,340.18 477.39,339.12 477.96,337.98 478.5,336.89 479,336 479.45,335.28 479.86,334.62 480.24,334.09 480.61,333.73 481,333.6 481.38,333.73 481.74,334.09 482.11,334.62 482.52,335.28 483,336 483.56,336.89 484.17,337.98 484.83,339.12 485.51,340.18 486.2,341 486.97,341.56 487.82,341.96 488.66,342.24 489.39,342.44 489.9,342.6" fill="none" stroke="#8c8c8c" stroke-width="0.6"/>
<path d="M503.6,342.6 504.44,342.72 505.62,342.86 507.02,343.06 508.52,343.36 510,343.8 511.49,344.44 513.06,345.26 514.69,346.15 516.34,347.03 518,347.8 519.68,348.52 521.41,349.27 523.15,349.93 524.86,350.4 526.5,350.6 528.07,350.45 529.6,350.02 531.08,349.4 532.55,348.7 534,348 535.46,347.25 536.92,346.38 538.35,345.48 539.72,344.66 541,344 542.25,343.53 543.5,343.19 544.64,342.93 545.61,342.75 546.3,342.6" fill="none" stroke="#8c8c8c" stroke-width="0.6"/>
<path d="M565.6,342.6 565.9,342.28 566.33,341.86 566.83,341.34 567.34,340.72 567.8,340 568.22,339.1 568.63,338.02 569.03,336.88 569.42,335.83 569.8,335 570.16,334.38 570.5,333.88 570.83,333.51 571.16,333.28 571.5,333.2 571.84,333.28 572.18,333.51 572.51,333.88 572.85,334.38 573.2,335 573.55,335.83 573.9,336.88 574.26,338.02 574.63,339.1 575,340 575.42,340.72 575.88,341.34 576.33,341.86 576.72,342.28 577,342.6" fill="none" stroke="#8c8c8c" stroke-width="0.6"/>
<path d="M595.6,342.6 596.19,342.63 597.01,342.65 597.99,342.72 599.01,342.88 600,343.2 600.96,343.75 601.96,344.49 602.97,345.32 603.99,346.12 605,346.8 605.95,347.36 606.86,347.86 607.78,348.31 608.81,348.69 610,349 611.38,349.22 612.89,349.36 614.51,349.44 616.22,349.48 618,349.5 620.03,349.49 622.34,349.42 624.62,349.34 626.61,349.25 628,349.2" fill="none" stroke="#8c8c8c" stroke-width="0.6"/>
<path d="M356,337.4 372.6,337.4 376.8,342.6 372.6,347.8 356,347.8Z" fill="#e6d2b5" stroke="#cdb391" stroke-width="0.5"/>
<text x="364.9" y="345" text-anchor="middle" font-size="6.6" fill="#3a3a3a">TM1</text>
<path d="M388.2,337.4 402.1,337.4 406.3,342.6 402.1,347.8 388.2,347.8Z" fill="#e6d2b5" stroke="#cdb391" stroke-width="0.5"/>
<text x="395.75" y="345" text-anchor="middle" font-size="6.6" fill="#3a3a3a">TM2</text>
<path d="M417.3,337.4 431.7,337.4 435.9,342.6 431.7,347.8 417.3,347.8Z" fill="#e6d2b5" stroke="#cdb391" stroke-width="0.5"/>
<text x="425.1" y="345" text-anchor="middle" font-size="6.6" fill="#3a3a3a">TM3</text>
<path d="M455.5,337.4 468.8,337.4 473,342.6 468.8,347.8 455.5,347.8Z" fill="#e6d2b5" stroke="#cdb391" stroke-width="0.5"/>
<text x="462.75" y="345" text-anchor="middle" font-size="6.6" fill="#3a3a3a">TM4</text>
<path d="M489.9,337.4 499.4,337.4 503.6,342.6 499.4,347.8 489.9,347.8Z" fill="#e6d2b5" stroke="#cdb391" stroke-width="0.5"/>
<text x="495.25" y="345" text-anchor="middle" font-size="6.6" fill="#3a3a3a">TM5</text>
<path d="M546.3,337.4 561.4,337.4 565.6,342.6 561.4,347.8 546.3,347.8Z" fill="#e6d2b5" stroke="#cdb391" stroke-width="0.5"/>
<text x="554.45" y="345" text-anchor="middle" font-size="6.6" fill="#3a3a3a">TM6</text>
<path d="M577,337.4 591.4,337.4 595.6,342.6 591.4,347.8 577,347.8Z" fill="#e6d2b5" stroke="#cdb391" stroke-width="0.5"/>
<text x="584.8" y="345" text-anchor="middle" font-size="6.6" fill="#3a3a3a">TM7</text>
<text x="338.5" y="359.2" text-anchor="middle" font-size="6" fill="#3a3a3a">N term.</text>
<text x="383.4" y="359.2" text-anchor="middle" font-size="6" fill="#3a3a3a">ICL1</text>
<text x="412.9" y="359.2" text-anchor="middle" font-size="6" fill="#3a3a3a">ECL1</text>
<text x="446.9" y="359.2" text-anchor="middle" font-size="6" fill="#3a3a3a">ICL2</text>
<text x="482.8" y="359.2" text-anchor="middle" font-size="6" fill="#3a3a3a">ECL2</text>
<text x="527.7" y="359.2" text-anchor="middle" font-size="6" fill="#3a3a3a">ICL3</text>
<text x="573" y="359.2" text-anchor="middle" font-size="6" fill="#3a3a3a">ECL3</text>
<text x="612.9" y="359.2" text-anchor="middle" font-size="6" fill="#3a3a3a">C term.</text>
<text x="0" y="276.7" font-weight="bold" font-size="13" fill="#000">d</text>
<path d="M92.4,292.1 92.54,292.78 92.71,293.75 92.95,294.86 93.29,295.99 93.75,297 94.4,297.87 95.22,298.7 96.11,299.51 97,300.3 97.8,301.1 98.52,301.88 99.21,302.64 99.87,303.4 100.47,304.21 101,305.1 101.5,306.09 101.98,307.16 102.37,308.27 102.63,309.4 102.7,310.5 102.53,311.58 102.16,312.66 101.66,313.74 101.09,314.82 100.5,315.9 99.84,317 99.08,318.12 98.29,319.23 97.57,320.3 97,321.3 96.59,322.2 96.28,323.04 96.07,323.83 95.94,324.61 95.9,325.4 95.94,326.18 96.07,326.94 96.28,327.7 96.59,328.51 97,329.4 97.58,330.41 98.33,331.52 99.14,332.67 99.9,333.78 100.5,334.8 100.96,335.7 101.35,336.54 101.64,337.33 101.83,338.11 101.9,338.9 101.84,339.68 101.67,340.44 101.39,341.2 100.99,342.01 100.5,342.9 99.84,343.89 99.01,344.96 98.1,346.07 97.22,347.2 96.45,348.3 95.8,349.38 95.21,350.46 94.67,351.54 94.18,352.62 93.75,353.7 93.37,354.87 93.05,356.12 92.78,357.33 92.56,358.37 92.4,359.1 92.4,359.1 92.24,358.37 92.02,357.33 91.75,356.12 91.43,354.87 91.05,353.7 90.62,352.62 90.13,351.54 89.59,350.46 89,349.38 88.35,348.3 87.58,347.2 86.7,346.07 85.79,344.96 84.96,343.89 84.3,342.9 83.81,342.01 83.41,341.2 83.13,340.44 82.96,339.68 82.9,338.9 82.97,338.11 83.16,337.33 83.45,336.54 83.84,335.7 84.3,334.8 84.9,333.78 85.66,332.67 86.47,331.52 87.22,330.41 87.8,329.4 88.21,328.51 88.52,327.7 88.73,326.94 88.86,326.18 88.9,325.4 88.86,324.61 88.73,323.83 88.52,323.04 88.21,322.2 87.8,321.3 87.23,320.3 86.51,319.23 85.72,318.12 84.96,317 84.3,315.9 83.71,314.82 83.14,313.74 82.64,312.66 82.27,311.58 82.1,310.5 82.17,309.4 82.43,308.27 82.82,307.16 83.3,306.09 83.8,305.1 84.33,304.21 84.93,303.4 85.59,302.64 86.28,301.88 87,301.1 87.8,300.3 88.69,299.51 89.58,298.7 90.4,297.87 91.05,297 91.51,295.99 91.85,294.86 92.09,293.75 92.26,292.78 92.4,292.1Z" fill="#69b69a" stroke="#3d3d3d" stroke-width="0.7"/>
<path d="M152.4,291.6 152.43,292.36 152.42,293.43 152.47,294.67 152.7,295.92 153.2,297 154.03,297.93 155.1,298.8 156.36,299.62 157.74,300.39 159.15,301.1 160.63,301.71 162.22,302.22 163.88,302.69 165.59,303.2 167.3,303.8 169.25,304.54 171.47,305.37 173.6,306.23 175.29,307.06 176.2,307.8 176.15,308.4 175.39,308.91 174.15,309.38 172.71,309.89 171.3,310.5 169.84,311.23 168.16,312.04 166.4,312.9 164.7,313.76 163.2,314.6 161.91,315.38 160.74,316.14 159.67,316.9 158.7,317.71 157.8,318.6 156.99,319.55 156.26,320.53 155.62,321.58 155.07,322.72 154.6,324 154.23,325.45 153.97,327.05 153.78,328.73 153.64,330.44 153.5,332.1 153.4,333.72 153.35,335.34 153.32,336.96 153.28,338.58 153.2,340.2 153.06,341.95 152.88,343.83 152.69,345.64 152.52,347.2 152.4,348.3 152.4,348.3 152.28,347.2 152.11,345.64 151.92,343.83 151.74,341.95 151.6,340.2 151.52,338.58 151.48,336.96 151.45,335.34 151.4,333.72 151.3,332.1 151.16,330.44 151.02,328.73 150.83,327.05 150.57,325.45 150.2,324 149.73,322.72 149.18,321.58 148.54,320.53 147.81,319.55 147,318.6 146.1,317.71 145.13,316.9 144.06,316.14 142.89,315.38 141.6,314.6 140.1,313.76 138.4,312.9 136.64,312.04 134.96,311.23 133.5,310.5 132.09,309.89 130.65,309.38 129.41,308.91 128.65,308.4 128.6,307.8 129.51,307.06 131.2,306.23 133.33,305.37 135.55,304.54 137.5,303.8 139.21,303.2 140.92,302.69 142.58,302.22 144.17,301.71 145.65,301.1 147.06,300.39 148.44,299.62 149.7,298.8 150.77,297.93 151.6,297 152.1,295.92 152.33,294.67 152.38,293.43 152.37,292.36 152.4,291.6Z" fill="#ea9370" stroke="#3d3d3d" stroke-width="0.7"/>
<path d="M211.8,293 211.83,293.54 211.82,294.31 211.87,295.2 212.1,296.13 212.6,297 213.4,297.82 214.44,298.64 215.67,299.46 217.05,300.28 218.55,301.1 220.26,301.91 222.21,302.73 224.24,303.54 226.22,304.33 228,305.1 229.72,305.84 231.5,306.55 233.09,307.24 234.26,307.92 234.8,308.6 234.54,309.24 233.65,309.83 232.34,310.44 230.85,311.11 229.4,311.9 227.92,312.85 226.27,313.91 224.54,315.04 222.85,316.19 221.3,317.3 219.85,318.32 218.44,319.27 217.11,320.25 215.95,321.36 215,322.7 214.32,324.3 213.88,326.1 213.58,328.05 213.37,330.07 213.15,332.1 212.96,334.14 212.85,336.21 212.78,338.35 212.71,340.58 212.6,342.9 212.44,345.57 212.26,348.57 212.07,351.53 211.91,354.1 211.8,355.9 211.8,355.9 211.69,354.1 211.53,351.53 211.34,348.57 211.16,345.57 211,342.9 210.89,340.58 210.82,338.35 210.75,336.21 210.64,334.14 210.45,332.1 210.23,330.07 210.02,328.05 209.72,326.1 209.28,324.3 208.6,322.7 207.65,321.36 206.49,320.25 205.16,319.27 203.75,318.32 202.3,317.3 200.75,316.19 199.06,315.04 197.33,313.91 195.68,312.85 194.2,311.9 192.75,311.11 191.26,310.44 189.95,309.83 189.06,309.24 188.8,308.6 189.34,307.92 190.51,307.24 192.1,306.55 193.88,305.84 195.6,305.1 197.38,304.33 199.36,303.54 201.39,302.73 203.34,301.91 205.05,301.1 206.55,300.28 207.93,299.46 209.16,298.64 210.2,297.82 211,297 211.5,296.13 211.73,295.2 211.78,294.31 211.77,293.54 211.8,293Z" fill="#91a2c8" stroke="#3d3d3d" stroke-width="0.7"/>
<line x1="62.7" y1="307.8" x2="241.5" y2="307.8" stroke="#bdbdbd" stroke-width="0.7" stroke-dasharray="3,2.5"/>
<line x1="62.7" y1="346.2" x2="241.5" y2="346.2" stroke="#bdbdbd" stroke-width="0.7" stroke-dasharray="3,2.5"/>
<line x1="92.4" y1="295.1" x2="92.4" y2="356.1" stroke="#4a4a4a" stroke-width="0.7"/>
<rect x="91" y="310" width="2.8" height="27.5" fill="#4a4a4a"/>
<circle cx="92.4" cy="319.4" r="0.8" fill="#fff"/>
<line x1="152.4" y1="294.6" x2="152.4" y2="345.3" stroke="#4a4a4a" stroke-width="0.7"/>
<rect x="151" y="305.9" width="2.8" height="10.5" fill="#4a4a4a"/>
<circle cx="152.4" cy="310.2" r="0.8" fill="#fff"/>
<line x1="211.8" y1="296" x2="211.8" y2="352.9" stroke="#4a4a4a" stroke-width="0.7"/>
<rect x="210.4" y="305.9" width="2.8" height="11.4" fill="#4a4a4a"/>
<circle cx="211.8" cy="310.2" r="0.8" fill="#fff"/>
<rect x="62.7" y="277.6" width="178.8" height="83.7" fill="none" stroke="#4d4d4d" stroke-width="0.7"/>
<line x1="60.2" y1="288.6" x2="62.7" y2="288.6" stroke="#333" stroke-width="0.6"/>
<text x="56.2" y="291.3" text-anchor="end" font-size="7.6">1.5</text>
<line x1="60.2" y1="307.8" x2="62.7" y2="307.8" stroke="#333" stroke-width="0.6"/>
<text x="56.2" y="310.5" text-anchor="end" font-size="7.6">1.0</text>
<line x1="60.2" y1="327" x2="62.7" y2="327" stroke="#333" stroke-width="0.6"/>
<text x="56.2" y="329.7" text-anchor="end" font-size="7.6">0.5</text>
<line x1="60.2" y1="346.2" x2="62.7" y2="346.2" stroke="#333" stroke-width="0.6"/>
<text x="56.2" y="348.9" text-anchor="end" font-size="7.6">0</text>
<line x1="92.4" y1="361.3" x2="92.4" y2="363.8" stroke="#333" stroke-width="0.6"/>
<text x="92.4" y="374.8" text-anchor="middle" textLength="64.2" lengthAdjust="spacingAndGlyphs">Transmembrane</text>
<line x1="152.4" y1="361.3" x2="152.4" y2="363.8" stroke="#333" stroke-width="0.6"/>
<text x="152.4" y="374.8" text-anchor="middle" textLength="49.9" lengthAdjust="spacingAndGlyphs">Extracellular</text>
<line x1="211.8" y1="361.3" x2="211.8" y2="363.8" stroke="#333" stroke-width="0.6"/>
<text x="211.8" y="374.8" text-anchor="middle" textLength="48.3" lengthAdjust="spacingAndGlyphs">Intracellular</text>
<line x1="101" y1="283.5" x2="203.2" y2="283.5" stroke="#4d4d4d" stroke-width="0.8"/>
<line x1="101" y1="292.5" x2="145.1" y2="292.5" stroke="#4d4d4d" stroke-width="0.8"/>
<text x="152" y="284.4" text-anchor="middle" font-weight="bold" font-size="9">*</text>
<text x="122.6" y="292" text-anchor="middle" font-weight="bold" font-size="9">*</text>
<text x="26.1" y="319" text-anchor="middle" textLength="62.8" lengthAdjust="spacingAndGlyphs" transform="rotate(-90 26.1 319)">Relative surface</text>
<text x="35.9" y="319.1" text-anchor="middle" textLength="43.2" lengthAdjust="spacingAndGlyphs" transform="rotate(-90 35.9 319.1)">expression</text>
<text x="-0.6" y="384.1" font-weight="bold" font-size="13" fill="#000">e</text>
<path d="M60.4,412.08 60.52,412.43 60.69,412.91 60.9,413.49 61.13,414.1 61.39,414.71 61.65,415.33 61.92,415.98 62.22,416.65 62.58,417.33 63.03,418 63.58,418.65 64.22,419.31 64.92,419.97 65.63,420.62 66.31,421.28 66.99,421.94 67.67,422.6 68.36,423.25 69,423.91 69.6,424.57 70.14,425.22 70.65,425.88 71.12,426.54 71.54,427.19 71.9,427.85 72.2,428.51 72.43,429.17 72.62,429.82 72.77,430.48 72.88,431.14 72.96,431.79 73,432.45 73,433.11 72.96,433.76 72.88,434.42 72.77,435.05 72.62,435.66 72.43,436.27 72.2,436.94 71.9,437.71 71.52,438.59 71.06,439.56 70.56,440.58 70.06,441.62 69.6,442.63 69.16,443.65 68.72,444.68 68.31,445.71 67.93,446.68 67.63,447.56 67.39,448.32 67.21,448.99 67.08,449.61 67,450.22 66.97,450.85 67.01,451.5 67.11,452.16 67.25,452.82 67.43,453.48 67.63,454.13 67.86,454.79 68.14,455.45 68.43,456.1 68.71,456.76 68.94,457.42 69.13,458.07 69.3,458.73 69.44,459.39 69.54,460.05 69.6,460.7 69.62,461.33 69.6,461.94 69.54,462.56 69.44,463.23 69.27,463.99 69.04,464.89 68.75,465.92 68.42,466.98 68.04,468.01 67.63,468.92 67.16,469.68 66.65,470.35 66.1,470.97 65.54,471.57 65,472.2 64.45,472.86 63.88,473.52 63.33,474.17 62.81,474.83 62.37,475.49 62.01,476.16 61.72,476.85 61.47,477.53 61.26,478.18 61.06,478.77 60.87,479.33 60.72,479.87 60.58,480.36 60.48,480.77 60.4,481.07 60.4,481.07 60.32,480.77 60.22,480.36 60.08,479.87 59.93,479.33 59.74,478.77 59.54,478.18 59.33,477.53 59.08,476.85 58.79,476.16 58.43,475.49 57.99,474.83 57.47,474.17 56.92,473.52 56.35,472.86 55.8,472.2 55.26,471.57 54.7,470.97 54.15,470.35 53.64,469.68 53.17,468.92 52.76,468.01 52.38,466.98 52.05,465.92 51.76,464.89 51.53,463.99 51.36,463.23 51.26,462.56 51.2,461.94 51.18,461.33 51.2,460.7 51.26,460.05 51.36,459.39 51.5,458.73 51.67,458.07 51.86,457.42 52.09,456.76 52.37,456.1 52.66,455.45 52.94,454.79 53.17,454.13 53.37,453.48 53.55,452.82 53.69,452.16 53.79,451.5 53.83,450.85 53.8,450.22 53.72,449.61 53.59,448.99 53.41,448.32 53.17,447.56 52.87,446.68 52.49,445.71 52.08,444.68 51.64,443.65 51.2,442.63 50.74,441.62 50.24,440.58 49.74,439.56 49.28,438.59 48.9,437.71 48.6,436.94 48.37,436.27 48.18,435.66 48.03,435.05 47.92,434.42 47.84,433.76 47.8,433.11 47.8,432.45 47.84,431.79 47.92,431.14 48.03,430.48 48.18,429.82 48.37,429.17 48.6,428.51 48.9,427.85 49.26,427.19 49.68,426.54 50.15,425.88 50.66,425.22 51.2,424.57 51.8,423.91 52.44,423.25 53.13,422.6 53.81,421.94 54.49,421.28 55.17,420.62 55.88,419.97 56.58,419.31 57.22,418.65 57.77,418 58.22,417.33 58.58,416.65 58.88,415.98 59.15,415.33 59.41,414.71 59.67,414.1 59.9,413.49 60.11,412.91 60.28,412.43 60.4,412.08Z" fill="#e6f2e3" stroke="#111" stroke-width="0.9"/>
<path d="M91.6,408.8 91.71,409.37 91.86,410.17 92.05,411.11 92.29,412.1 92.59,413.07 92.96,414.01 93.4,414.99 93.88,415.99 94.38,417 94.89,418 95.4,418.98 95.94,419.97 96.49,420.95 97.02,421.94 97.51,422.92 97.97,423.91 98.4,424.89 98.8,425.88 99.16,426.87 99.48,427.85 99.77,428.84 100.01,429.82 100.22,430.81 100.37,431.79 100.47,432.78 100.5,433.74 100.48,434.67 100.41,435.62 100.29,436.62 100.14,437.71 99.93,438.94 99.64,440.3 99.33,441.69 99.04,443.04 98.83,444.28 98.68,445.34 98.56,446.29 98.49,447.19 98.46,448.14 98.5,449.2 98.61,450.41 98.8,451.71 99.03,453.07 99.27,454.43 99.48,455.78 99.71,457.12 99.96,458.48 100.19,459.84 100.38,461.14 100.47,462.35 100.47,463.44 100.4,464.43 100.27,465.38 100.08,466.31 99.81,467.27 99.47,468.26 99.06,469.24 98.58,470.23 98.06,471.22 97.51,472.2 96.89,473.2 96.19,474.22 95.47,475.23 94.8,476.21 94.23,477.13 93.78,477.96 93.42,478.71 93.12,479.45 92.85,480.21 92.59,481.07 92.33,482.12 92.1,483.33 91.89,484.54 91.72,485.59 91.6,486.33 91.6,486.33 91.48,485.59 91.31,484.54 91.1,483.33 90.87,482.12 90.61,481.07 90.35,480.21 90.08,479.45 89.78,478.71 89.42,477.96 88.97,477.13 88.4,476.21 87.73,475.23 87.01,474.22 86.31,473.2 85.69,472.2 85.14,471.22 84.62,470.23 84.14,469.24 83.73,468.26 83.39,467.27 83.12,466.31 82.93,465.38 82.8,464.43 82.73,463.44 82.73,462.35 82.82,461.14 83.01,459.84 83.24,458.48 83.49,457.12 83.72,455.78 83.93,454.43 84.17,453.07 84.4,451.71 84.59,450.41 84.7,449.2 84.74,448.14 84.71,447.19 84.64,446.29 84.52,445.34 84.37,444.28 84.16,443.04 83.87,441.69 83.56,440.3 83.27,438.94 83.06,437.71 82.91,436.62 82.79,435.62 82.72,434.67 82.7,433.74 82.73,432.78 82.83,431.79 82.98,430.81 83.19,429.82 83.43,428.84 83.72,427.85 84.04,426.87 84.4,425.88 84.8,424.89 85.23,423.91 85.69,422.92 86.18,421.94 86.71,420.95 87.26,419.97 87.8,418.98 88.31,418 88.82,417 89.32,415.99 89.8,414.99 90.24,414.01 90.61,413.07 90.91,412.1 91.15,411.11 91.34,410.17 91.49,409.37 91.6,408.8Z" fill="#cae4c5" stroke="#111" stroke-width="0.9"/>
<path d="M122.1,408.14 122.26,408.81 122.47,409.76 122.73,410.86 123.05,412 123.41,413.07 123.87,414.05 124.4,415.04 124.98,416.02 125.54,417.01 126.04,418 126.49,418.98 126.93,419.97 127.33,420.95 127.69,421.94 128.01,422.92 128.29,423.88 128.54,424.82 128.75,425.76 128.9,426.76 129,427.85 129.03,429.03 128.99,430.28 128.91,431.6 128.8,432.98 128.67,434.42 128.49,435.99 128.24,437.67 127.99,439.39 127.79,441.07 127.68,442.63 127.69,444.05 127.77,445.38 127.91,446.66 128.1,447.92 128.34,449.2 128.67,450.52 129.08,451.83 129.53,453.15 129.96,454.46 130.31,455.78 130.6,457.12 130.86,458.48 131.07,459.84 131.22,461.14 131.3,462.35 131.3,463.44 131.25,464.43 131.12,465.38 130.93,466.31 130.64,467.27 130.25,468.26 129.76,469.24 129.21,470.23 128.61,471.22 128.01,472.2 127.37,473.2 126.67,474.22 125.96,475.23 125.29,476.21 124.73,477.13 124.28,477.98 123.92,478.76 123.62,479.52 123.35,480.28 123.09,481.07 122.83,481.97 122.6,482.96 122.39,483.93 122.22,484.76 122.1,485.34 122.1,485.34 121.98,484.76 121.81,483.93 121.6,482.96 121.37,481.97 121.11,481.07 120.85,480.28 120.58,479.52 120.28,478.76 119.92,477.98 119.47,477.13 118.91,476.21 118.24,475.23 117.53,474.22 116.83,473.2 116.19,472.2 115.59,471.22 114.99,470.23 114.44,469.24 113.95,468.26 113.56,467.27 113.27,466.31 113.08,465.38 112.95,464.43 112.9,463.44 112.9,462.35 112.98,461.14 113.13,459.84 113.34,458.48 113.6,457.12 113.89,455.78 114.24,454.46 114.67,453.15 115.12,451.83 115.53,450.52 115.86,449.2 116.1,447.92 116.29,446.66 116.43,445.38 116.51,444.05 116.52,442.63 116.41,441.07 116.21,439.39 115.96,437.67 115.71,435.99 115.53,434.42 115.4,432.98 115.29,431.6 115.21,430.28 115.17,429.03 115.2,427.85 115.3,426.76 115.45,425.76 115.66,424.82 115.91,423.88 116.19,422.92 116.51,421.94 116.87,420.95 117.27,419.97 117.71,418.98 118.16,418 118.66,417.01 119.22,416.02 119.8,415.04 120.33,414.05 120.79,413.07 121.15,412 121.47,410.86 121.73,409.76 121.94,408.81 122.1,408.14Z" fill="#a7d1a3" stroke="#111" stroke-width="0.9"/>
<path d="M153.3,412.08 153.4,412.51 153.53,413.11 153.7,413.83 153.95,414.6 154.29,415.37 154.73,416.15 155.26,416.97 155.87,417.84 156.54,418.73 157.24,419.64 158.04,420.58 158.93,421.56 159.86,422.56 160.74,423.57 161.51,424.57 162.18,425.56 162.78,426.57 163.31,427.57 163.77,428.55 164.14,429.49 164.44,430.37 164.66,431.19 164.8,431.99 164.85,432.84 164.8,433.76 164.63,434.78 164.35,435.86 163.99,436.98 163.58,438.15 163.16,439.35 162.66,440.63 162.08,441.99 161.48,443.36 160.94,444.7 160.53,445.92 160.24,447.01 160.04,448.01 159.92,448.96 159.87,449.89 159.87,450.85 159.96,451.83 160.13,452.82 160.36,453.8 160.61,454.79 160.86,455.78 161.13,456.76 161.45,457.75 161.77,458.73 162.03,459.72 162.17,460.7 162.21,461.69 162.18,462.67 162.06,463.66 161.84,464.65 161.51,465.63 161.02,466.62 160.39,467.6 159.67,468.59 158.93,469.57 158.23,470.56 157.54,471.53 156.83,472.5 156.14,473.47 155.49,474.46 154.94,475.49 154.48,476.65 154.09,477.94 153.76,479.21 153.5,480.3 153.3,481.07 153.3,481.07 153.1,480.3 152.84,479.21 152.51,477.94 152.12,476.65 151.66,475.49 151.11,474.46 150.46,473.47 149.77,472.5 149.06,471.53 148.37,470.56 147.67,469.57 146.93,468.59 146.21,467.6 145.58,466.62 145.09,465.63 144.76,464.65 144.54,463.66 144.42,462.67 144.39,461.69 144.43,460.7 144.57,459.72 144.83,458.73 145.15,457.75 145.47,456.76 145.74,455.78 145.99,454.79 146.24,453.8 146.47,452.82 146.64,451.83 146.73,450.85 146.73,449.89 146.68,448.96 146.56,448.01 146.36,447.01 146.07,445.92 145.66,444.7 145.12,443.36 144.52,441.99 143.94,440.63 143.44,439.35 143.02,438.15 142.61,436.98 142.25,435.86 141.97,434.78 141.8,433.76 141.75,432.84 141.8,431.99 141.94,431.19 142.16,430.37 142.46,429.49 142.83,428.55 143.29,427.57 143.82,426.57 144.42,425.56 145.09,424.57 145.86,423.57 146.74,422.56 147.67,421.56 148.56,420.58 149.36,419.64 150.06,418.73 150.73,417.84 151.34,416.97 151.87,416.15 152.31,415.37 152.65,414.6 152.9,413.83 153.07,413.11 153.2,412.51 153.3,412.08Z" fill="#7eba80" stroke="#111" stroke-width="0.9"/>
<path d="M184.5,408.8 184.6,409.37 184.73,410.17 184.9,411.11 185.15,412.1 185.49,413.07 185.95,414.01 186.51,414.99 187.14,415.99 187.8,417 188.44,418 189.09,418.98 189.76,419.97 190.44,420.95 191.11,421.94 191.73,422.92 192.33,423.91 192.92,424.89 193.48,425.88 193.97,426.87 194.36,427.85 194.63,428.84 194.82,429.82 194.94,430.81 195,431.79 195.01,432.78 194.99,433.74 194.91,434.67 194.78,435.62 194.59,436.62 194.36,437.71 194.03,438.92 193.63,440.22 193.19,441.57 192.76,442.94 192.38,444.28 192.04,445.59 191.7,446.91 191.4,448.22 191.18,449.53 191.07,450.85 191.12,452.19 191.3,453.55 191.55,454.91 191.82,456.21 192.06,457.42 192.29,458.51 192.56,459.51 192.81,460.45 192.99,461.39 193.04,462.35 192.96,463.33 192.78,464.32 192.51,465.3 192.15,466.29 191.73,467.27 191.19,468.26 190.52,469.24 189.8,470.23 189.09,471.22 188.44,472.2 187.85,473.16 187.28,474.09 186.74,475.04 186.25,476.04 185.81,477.13 185.45,478.44 185.13,479.95 184.87,481.47 184.66,482.78 184.5,483.7 184.5,483.7 184.34,482.78 184.13,481.47 183.87,479.95 183.55,478.44 183.19,477.13 182.75,476.04 182.26,475.04 181.72,474.09 181.15,473.16 180.56,472.2 179.91,471.22 179.2,470.23 178.48,469.24 177.81,468.26 177.27,467.27 176.85,466.29 176.49,465.3 176.22,464.32 176.04,463.33 175.96,462.35 176.01,461.39 176.19,460.45 176.44,459.51 176.71,458.51 176.94,457.42 177.18,456.21 177.45,454.91 177.7,453.55 177.88,452.19 177.93,450.85 177.82,449.53 177.6,448.22 177.3,446.91 176.96,445.59 176.62,444.28 176.24,442.94 175.81,441.57 175.37,440.22 174.97,438.92 174.64,437.71 174.41,436.62 174.22,435.62 174.09,434.67 174.01,433.74 173.99,432.78 174,431.79 174.06,430.81 174.18,429.82 174.37,428.84 174.64,427.85 175.03,426.87 175.52,425.88 176.08,424.89 176.67,423.91 177.27,422.92 177.89,421.94 178.56,420.95 179.24,419.97 179.91,418.98 180.56,418 181.2,417 181.86,415.99 182.49,414.99 183.05,414.01 183.51,413.07 183.85,412.1 184.1,411.11 184.27,410.17 184.4,409.37 184.5,408.8Z" fill="#4e9e63" stroke="#111" stroke-width="0.9"/>
<path d="M215.1,409.45 215.2,410.06 215.33,410.92 215.5,411.92 215.75,413 216.09,414.05 216.55,415.12 217.11,416.25 217.74,417.4 218.4,418.55 219.04,419.64 219.69,420.67 220.36,421.66 221.04,422.63 221.71,423.59 222.33,424.57 222.93,425.55 223.52,426.54 224.08,427.52 224.57,428.51 224.96,429.49 225.24,430.48 225.44,431.47 225.56,432.45 225.62,433.44 225.61,434.42 225.54,435.38 225.4,436.31 225.19,437.26 224.93,438.26 224.63,439.35 224.22,440.56 223.72,441.86 223.19,443.21 222.7,444.58 222.33,445.92 222.06,447.23 221.85,448.55 221.71,449.86 221.65,451.18 221.67,452.49 221.81,453.82 222.07,455.17 222.39,456.5 222.71,457.81 222.98,459.06 223.24,460.25 223.53,461.38 223.78,462.48 223.95,463.57 223.97,464.65 223.85,465.71 223.61,466.76 223.28,467.79 222.85,468.83 222.33,469.9 221.66,471 220.84,472.11 219.95,473.24 219.11,474.36 218.39,475.49 217.8,476.61 217.28,477.74 216.83,478.86 216.44,479.98 216.09,481.07 215.79,482.23 215.55,483.45 215.36,484.62 215.21,485.62 215.1,486.33 215.1,486.33 214.99,485.62 214.84,484.62 214.65,483.45 214.41,482.23 214.11,481.07 213.76,479.98 213.37,478.86 212.92,477.74 212.4,476.61 211.81,475.49 211.09,474.36 210.25,473.24 209.36,472.11 208.54,471 207.87,469.9 207.35,468.83 206.92,467.79 206.59,466.76 206.35,465.71 206.23,464.65 206.25,463.57 206.42,462.48 206.67,461.38 206.96,460.25 207.22,459.06 207.49,457.81 207.81,456.5 208.13,455.17 208.39,453.82 208.53,452.49 208.55,451.18 208.49,449.86 208.35,448.55 208.14,447.23 207.87,445.92 207.5,444.58 207.01,443.21 206.48,441.86 205.98,440.56 205.57,439.35 205.27,438.26 205.01,437.26 204.8,436.31 204.66,435.38 204.59,434.42 204.58,433.44 204.64,432.45 204.76,431.47 204.96,430.48 205.24,429.49 205.63,428.51 206.12,427.52 206.68,426.54 207.27,425.55 207.87,424.57 208.49,423.59 209.16,422.63 209.84,421.66 210.51,420.67 211.16,419.64 211.8,418.55 212.46,417.4 213.09,416.25 213.65,415.12 214.11,414.05 214.45,413 214.7,411.92 214.87,410.92 215,410.06 215.1,409.45Z" fill="#307e4a" stroke="#111" stroke-width="0.9"/>
<path d="M246.3,407.48 246.4,408.11 246.53,409.01 246.7,410.05 246.95,411.11 247.29,412.08 247.73,412.95 248.26,413.78 248.87,414.61 249.54,415.46 250.24,416.35 251.04,417.3 251.93,418.28 252.86,419.28 253.74,420.29 254.51,421.28 255.18,422.27 255.78,423.25 256.31,424.24 256.77,425.22 257.14,426.21 257.44,427.17 257.66,428.1 257.8,429.05 257.85,430.05 257.8,431.14 257.63,432.32 257.35,433.57 256.99,434.88 256.58,436.26 256.16,437.71 255.67,439.27 255.1,440.95 254.51,442.67 253.96,444.36 253.53,445.92 253.19,447.34 252.92,448.67 252.72,449.94 252.59,451.2 252.54,452.49 252.62,453.82 252.81,455.17 253.06,456.5 253.32,457.81 253.53,459.06 253.72,460.25 253.94,461.38 254.13,462.48 254.23,463.57 254.18,464.65 253.98,465.71 253.65,466.76 253.22,467.79 252.73,468.83 252.21,469.9 251.61,471.01 250.91,472.14 250.19,473.28 249.5,474.41 248.93,475.49 248.48,476.51 248.12,477.5 247.82,478.47 247.55,479.44 247.29,480.41 247.03,481.48 246.8,482.62 246.59,483.73 246.42,484.67 246.3,485.34 246.3,485.34 246.18,484.67 246.01,483.73 245.8,482.62 245.57,481.48 245.31,480.41 245.05,479.44 244.78,478.47 244.48,477.5 244.12,476.51 243.67,475.49 243.1,474.41 242.41,473.28 241.69,472.14 240.99,471.01 240.39,469.9 239.87,468.83 239.38,467.79 238.95,466.76 238.62,465.71 238.42,464.65 238.37,463.57 238.47,462.48 238.66,461.38 238.88,460.25 239.07,459.06 239.28,457.81 239.54,456.5 239.79,455.17 239.98,453.82 240.06,452.49 240.01,451.2 239.88,449.94 239.68,448.67 239.41,447.34 239.07,445.92 238.64,444.36 238.09,442.67 237.5,440.95 236.93,439.27 236.44,437.71 236.02,436.26 235.61,434.88 235.25,433.57 234.97,432.32 234.8,431.14 234.75,430.05 234.8,429.05 234.94,428.1 235.16,427.17 235.46,426.21 235.83,425.22 236.29,424.24 236.82,423.25 237.42,422.27 238.09,421.28 238.86,420.29 239.74,419.28 240.67,418.28 241.56,417.3 242.36,416.35 243.06,415.46 243.73,414.61 244.34,413.78 244.87,412.95 245.31,412.08 245.65,411.11 245.9,410.05 246.07,409.01 246.2,408.11 246.3,407.48Z" fill="#0e5f2f" stroke="#111" stroke-width="0.9"/>
<line x1="44.9" y1="428" x2="262.7" y2="428" stroke="#bdbdbd" stroke-width="0.7" stroke-dasharray="3,2.5"/>
<line x1="44.9" y1="469.9" x2="262.7" y2="469.9" stroke="#bdbdbd" stroke-width="0.7" stroke-dasharray="3,2.5"/>
<line x1="60.4" y1="415.08" x2="60.4" y2="478.07" stroke="#111" stroke-width="0.7"/>
<rect x="58.9" y="429.49" width="3" height="27.92" fill="#111"/>
<circle cx="60.4" cy="438.69" r="0.8" fill="#fff"/>
<line x1="91.6" y1="411.8" x2="91.6" y2="483.33" stroke="#111" stroke-width="0.7"/>
<rect x="90.1" y="431.14" width="3" height="31.21" fill="#111"/>
<circle cx="91.6" cy="445.92" r="0.8" fill="#fff"/>
<line x1="122.1" y1="411.14" x2="122.1" y2="482.34" stroke="#111" stroke-width="0.7"/>
<rect x="120.6" y="434.42" width="3" height="30.22" fill="#111"/>
<circle cx="122.1" cy="447.56" r="0.8" fill="#fff"/>
<line x1="153.3" y1="415.08" x2="153.3" y2="478.07" stroke="#111" stroke-width="0.7"/>
<rect x="151.8" y="430.15" width="3" height="27.27" fill="#111"/>
<circle cx="153.3" cy="440.99" r="0.8" fill="#fff"/>
<line x1="184.5" y1="411.8" x2="184.5" y2="480.7" stroke="#111" stroke-width="0.7"/>
<rect x="183" y="429.49" width="3" height="29.57" fill="#111"/>
<circle cx="184.5" cy="439.35" r="0.8" fill="#fff"/>
<line x1="215.1" y1="412.45" x2="215.1" y2="483.33" stroke="#111" stroke-width="0.7"/>
<rect x="213.6" y="431.14" width="3" height="29.57" fill="#111"/>
<circle cx="215.1" cy="440.99" r="0.8" fill="#fff"/>
<line x1="246.3" y1="410.48" x2="246.3" y2="482.34" stroke="#111" stroke-width="0.7"/>
<rect x="244.8" y="427.19" width="3" height="31.87" fill="#111"/>
<circle cx="246.3" cy="437.71" r="0.8" fill="#fff"/>
<rect x="44.9" y="403.2" width="217.8" height="87.1" fill="none" stroke="#4d4d4d" stroke-width="0.7"/>
<line x1="42.4" y1="407.05" x2="44.9" y2="407.05" stroke="#333" stroke-width="0.6"/>
<text x="38.7" y="409.65" text-anchor="end" font-size="7.6">1.5</text>
<line x1="42.4" y1="428" x2="44.9" y2="428" stroke="#333" stroke-width="0.6"/>
<text x="38.7" y="430.6" text-anchor="end" font-size="7.6">1.0</text>
<line x1="42.4" y1="448.95" x2="44.9" y2="448.95" stroke="#333" stroke-width="0.6"/>
<text x="38.7" y="451.55" text-anchor="end" font-size="7.6">0.5</text>
<line x1="42.4" y1="469.9" x2="44.9" y2="469.9" stroke="#333" stroke-width="0.6"/>
<text x="38.7" y="472.5" text-anchor="end" font-size="7.6">0</text>
<line x1="42.4" y1="490.85" x2="44.9" y2="490.85" stroke="#333" stroke-width="0.6"/>
<text x="38.7" y="493.45" text-anchor="end" font-size="7.6">−0.5</text>
<line x1="60.4" y1="490.3" x2="60.4" y2="492.8" stroke="#333" stroke-width="0.6"/>
<text x="60.4" y="504.7" text-anchor="middle">TM1</text>
<line x1="91.6" y1="490.3" x2="91.6" y2="492.8" stroke="#333" stroke-width="0.6"/>
<text x="91.6" y="504.7" text-anchor="middle">TM2</text>
<line x1="122.1" y1="490.3" x2="122.1" y2="492.8" stroke="#333" stroke-width="0.6"/>
<text x="122.1" y="504.7" text-anchor="middle">TM3</text>
<line x1="153.3" y1="490.3" x2="153.3" y2="492.8" stroke="#333" stroke-width="0.6"/>
<text x="153.3" y="504.7" text-anchor="middle">TM4</text>
<line x1="184.5" y1="490.3" x2="184.5" y2="492.8" stroke="#333" stroke-width="0.6"/>
<text x="184.5" y="504.7" text-anchor="middle">TM5</text>
<line x1="215.1" y1="490.3" x2="215.1" y2="492.8" stroke="#333" stroke-width="0.6"/>
<text x="215.1" y="504.7" text-anchor="middle">TM6</text>
<line x1="246.3" y1="490.3" x2="246.3" y2="492.8" stroke="#333" stroke-width="0.6"/>
<text x="246.3" y="504.7" text-anchor="middle">TM7</text>
<text x="7.8" y="446.8" text-anchor="middle" textLength="63.4" lengthAdjust="spacingAndGlyphs" transform="rotate(-90 7.8 446.8)">Relative surface</text>
<text x="17.9" y="447.2" text-anchor="middle" textLength="43" lengthAdjust="spacingAndGlyphs" transform="rotate(-90 17.9 447.2)">expression</text>
<text x="-0.6" y="549.6" font-weight="bold" font-size="13" fill="#000">f</text>
<rect x="72.8" y="553.2" width="11.8" height="80.8" fill="#e6e6e6"/>
<rect x="89.1" y="553.2" width="11.1" height="80.8" fill="#e6e6e6"/>
<rect x="115.3" y="553.2" width="10.6" height="80.8" fill="#e6e6e6"/>
<rect x="139.4" y="553.2" width="10.6" height="80.8" fill="#e6e6e6"/>
<rect x="163.5" y="553.2" width="11.1" height="80.8" fill="#e6e6e6"/>
<rect x="200.3" y="553.2" width="11.5" height="80.8" fill="#e6e6e6"/>
<rect x="219.1" y="553.2" width="9.8" height="80.8" fill="#e6e6e6"/>
<text x="78.5" y="567.8" text-anchor="middle" font-size="8.3" textLength="13.4" lengthAdjust="spacingAndGlyphs">TM1</text>
<text x="94.5" y="567.8" text-anchor="middle" font-size="8.3" textLength="13.4" lengthAdjust="spacingAndGlyphs">TM2</text>
<text x="120" y="567.8" text-anchor="middle" font-size="8.3" textLength="13.4" lengthAdjust="spacingAndGlyphs">TM3</text>
<text x="144.5" y="567.8" text-anchor="middle" font-size="8.3" textLength="13.4" lengthAdjust="spacingAndGlyphs">TM4</text>
<text x="169.9" y="567.8" text-anchor="middle" font-size="8.3" textLength="13.4" lengthAdjust="spacingAndGlyphs">TM5</text>
<text x="206.3" y="567.8" text-anchor="middle" font-size="8.3" textLength="13.4" lengthAdjust="spacingAndGlyphs">TM6</text>
<text x="225.5" y="567.8" text-anchor="middle" font-size="8.3" textLength="13.4" lengthAdjust="spacingAndGlyphs">TM7</text>
<path d="M55.1,593.96 55.34,593.06 55.68,590.47 56.08,587.47 56.5,584.55 56.92,583.22 57.38,581.01 57.86,578.53 58.4,576.91 59.03,575.4 59.72,574.35 60.41,574.49 61,574.44 61.46,573.31 61.85,574.31 62.19,573.29 62.5,573.07 62.77,572.4 63,573.48 63.23,572.6 63.5,572.4 63.85,571.64 64.25,570.4 64.65,570.57 65,570.5 65.29,569.4 65.54,570.15 65.78,568.75 66,568.25 66.19,569.38 66.36,568.51 66.54,570.42 66.8,570.93 67.16,573.2 67.59,575.66 68.05,578.98 68.5,581.5 68.92,584 69.34,588.05 69.77,589.92 70.2,594.05 70.64,596.92 71.09,602.31 71.54,606.48 72,610.41 72.49,614.8 72.99,619.12 73.48,623.35 73.9,624.9 74.23,625.86 74.5,625.29 74.74,622.65 75,622.68 75.28,622.15 75.55,621.07 75.82,620.91 76.1,621.22 76.36,621.83 76.61,623.95 76.88,624.04 77.2,623.94 77.59,623.72 78.04,623.88 78.51,623.26 79,621.49 79.52,620.69 80.07,620.01 80.62,619.45 81.1,617.56 81.5,616.86 81.84,615.28 82.16,613.8 82.5,611.49 82.87,610 83.24,608.86 83.62,608.16 84,605.15 84.38,602.72 84.77,598.86 85.15,595.16 85.5,592.31 85.8,591.37 86.07,589.55 86.33,587.57 86.6,587.19 86.89,586.84 87.19,587.36 87.5,587.97 87.8,587.85 88.09,589.84 88.38,591.18 88.68,592.15 89,594.21 89.35,595.23 89.73,596.79 90.12,598.37 90.5,601.1 90.88,601.65 91.25,603.18 91.62,605.98 92,607.44 92.38,608.36 92.76,610.23 93.13,610.17 93.5,611.61 93.86,612.77 94.22,614.06 94.57,614.52 94.9,614.81 95.2,615.09 95.48,615.39 95.74,614.8 96,613.89 96.25,613.23 96.47,612.74 96.72,613.8 97,613.04 97.35,613.31 97.74,612.16 98.14,612.42 98.5,613.34 98.8,613.21 99.06,613.3 99.31,612.69 99.6,611.98 99.92,611.51 100.25,610.99 100.61,608.99 101,608.05 101.44,606.23 101.93,605.47 102.43,602.49 102.9,601.5 103.34,599.38 103.76,594.97 104.18,592.89 104.6,590.23 105.04,587.96 105.48,584.96 105.91,582.23 106.3,580.95 106.64,581.26 106.94,581.32 107.23,580.54 107.5,580.85 107.76,581 108.01,581.03 108.25,582.01 108.5,582.13 108.75,584.39 109,585.53 109.25,586.19 109.5,588.06 109.74,588.55 109.97,589.46 110.21,589.49 110.5,589.77 110.85,589.98 111.25,590.31 111.65,590.81 112,590.58 112.27,589.82 112.5,590.91 112.73,591.31 113,591.54 113.35,592.31 113.75,592.07 114.15,593.9 114.5,594.3 114.77,596.32 115,596.24 115.23,598.01 115.5,598.3 115.85,600.26 116.25,601.04 116.65,602 117,603.82 117.28,604.8 117.52,606.76 117.75,606.72 118,607.9 118.28,608.74 118.58,610.06 118.89,609.31 119.2,610.66 119.5,611.08 119.79,611.99 120.12,612.76 120.5,611.8 120.99,612.18 121.56,611.4 122.12,610.71 122.6,608.9 122.96,608.73 123.24,607.28 123.51,604.47 123.8,602.71 124.13,602.18 124.46,599.15 124.82,597.6 125.2,596.32 125.62,596.5 126.07,595.62 126.53,594.47 127,594.19 127.48,592.8 127.96,593.49 128.44,592.94 128.9,592.83 129.32,592.4 129.71,592.22 130.09,591.76 130.5,591.28 130.94,591.63 131.39,591.04 131.85,591.53 132.3,591.61 132.73,591.54 133.16,591.32 133.58,591.26 134,591.82 134.43,592.35 134.87,593.03 135.3,593.99 135.7,592.94 136.06,593.78 136.38,593.92 136.69,594.39 137,594.82 137.3,594.71 137.6,594.45 137.9,594.89 138.2,595.57 138.52,597.51 138.85,599.47 139.18,601.92 139.5,603.59 139.8,607.07 140.07,608.76 140.37,611.45 140.7,613.52 141.1,614.61 141.54,614.9 141.99,613.42 142.4,614.3 142.76,615.11 143.08,616.23 143.39,616.9 143.7,618.59 144,619.14 144.28,621.02 144.57,623.16 144.9,622.89 145.27,621.01 145.67,617.95 146.08,616.41 146.5,613.33 146.92,610.2 147.35,608.1 147.78,606.27 148.2,603.99 148.61,600.86 149.02,599.43 149.42,595.97 149.8,593.61 150.15,592.36 150.48,589.1 150.8,588.19 151.1,586.42 151.39,587.12 151.66,587.48 151.93,588.81 152.2,590.71 152.47,590.82 152.75,591.73 153.03,592.76 153.3,592.45 153.58,591.73 153.85,590.97 154.13,589.56 154.4,588.5 154.68,589.19 154.95,587.32 155.22,588.35 155.5,588.5 155.77,588.26 156.03,587.47 156.3,588.71 156.6,588.56 156.94,590.25 157.31,591.34 157.67,591.61 158,592.21 158.28,594.02 158.53,594.26 158.76,595.52 159,596.53 159.25,597.86 159.49,597.54 159.74,597.58 160,598.97 160.26,599.33 160.51,599.12 160.79,598.45 161.1,598.5 161.48,598.17 161.91,597.35 162.33,595.83 162.7,596.28 162.99,596.57 163.24,597.35 163.47,598.17 163.7,597.73 163.93,599.55 164.14,599.75 164.36,602.23 164.6,603.4 164.88,605.17 165.18,606.28 165.49,608.21 165.8,611.5 166.08,613.24 166.34,615.36 166.64,617.17 167,619.58 167.46,620.75 168,622.57 168.56,624.23 169.1,624.88 169.63,624.93 170.16,624 170.66,621.12 171.1,620.01 171.46,620.28 171.75,620.41 172.02,619.6 172.3,619.63 172.59,619.16 172.87,619.02 173.16,619.55 173.5,619.39 173.89,618.56 174.33,616.75 174.78,615.52 175.2,615.69 175.59,613.97 175.96,612.65 176.32,611.89 176.7,610.56 177.09,608.59 177.49,606.03 177.9,605.32 178.3,602.54 178.68,600.57 179.05,599.41 179.44,598.12 179.9,596.81 180.44,594.9 181.05,594.79 181.68,593.35 182.3,591.26 182.91,590 183.52,587.04 184.12,584.31 184.7,581.59 185.27,579.38 185.82,579.34 186.35,578.61 186.8,576.55 187.18,574.89 187.49,572.25 187.76,568.46 188,566.71 188.21,564.13 188.37,561.3 188.53,557.83 188.7,556.96 188.89,557 189.09,557.38 189.3,558.45 189.5,559.23 189.69,559.43 189.88,561.83 190.07,562.67 190.3,565.11 190.57,566.5 190.88,570.71 191.19,573.11 191.5,576.44 191.79,579.33 192.07,582.59 192.37,584.52 192.7,586.23 193.07,588.08 193.47,588.45 193.88,589.51 194.3,590.5 194.72,590.47 195.15,590.75 195.58,591.22 196,592.48 196.41,593.32 196.81,593 197.2,594.61 197.6,594.54 198.01,595.11 198.42,597.23 198.82,597.41 199.2,598.83 199.55,599.01 199.88,599.15 200.2,600.16 200.5,601.38 200.79,602.71 201.06,603.94 201.32,605.11 201.6,606.44 201.89,607.71 202.19,610.23 202.5,612.5 202.8,614.98 203.08,616.92 203.34,619.71 203.64,621.84 204,623.16 204.48,626.27 205.04,627.64 205.6,629.34 206.1,629.88 206.5,629.49 206.85,628.74 207.17,626.36 207.5,625.33 207.81,624.12 208.11,624.76 208.42,624.32 208.8,624.02 209.29,624.63 209.86,623.48 210.43,623.43 210.9,623.47 211.25,621.92 211.51,619.06 211.75,615.78 212,613.79 212.28,612.14 212.55,609.17 212.82,606.73 213.1,604.42 213.38,602.8 213.66,600.88 213.93,599.32 214.2,598.08 214.44,596.57 214.67,594.81 214.91,593.67 215.2,593.85 215.57,593.47 215.99,593.54 216.41,592.5 216.8,593.96 217.13,594.84 217.43,594.71 217.71,596.41 218,598.21 218.28,598.64 218.55,600.97 218.84,601.32 219.2,603.29 219.64,604.04 220.14,605.33 220.67,606.74 221.2,608.6 221.71,610.48 222.22,611.33 222.75,613.46 223.3,613.64 223.89,613.9 224.51,612.52 225.13,611.17 225.7,610.43 226.23,610.41 226.73,611.96 227.19,611.91 227.6,611.2 227.93,611.22 228.21,609.07 228.45,606.06 228.7,605.36 228.93,603.62 229.14,601.94 229.38,600.57 229.7,599.74 230.15,596.8 230.69,594.94 231.26,593 231.8,591.59 232.29,591.89 232.76,593.81 233.23,595.28 233.7,596.53 234.17,598.25 234.64,599.66 235.11,602.09 235.6,601.43 236.09,601.56 236.57,599.38 237.09,596.9 237.7,595.94 238.47,595.23 239.35,594.14 240.21,594.58 240.9,593.66 241.36,593.99 241.68,592.43 241.93,591.57 242.2,590.54 242.48,589.51 242.75,589 243.02,588.13 243.3,587.9 243.6,586.94 243.9,584.4 244.23,582.71 244.6,582.16 245.04,580.7 245.53,580.65 246.03,580.75 246.5,579.23 246.92,578.98 247.32,577.46 247.71,575.62 248.1,575.29 248.49,576.01 248.87,575.85 249.27,576.88 249.7,578.22 250.2,579.31 250.74,579.6 251.27,580.46 251.7,579.71 252.02,579.97 252.27,579.41 252.46,579.7 252.6,578.37" fill="none" stroke="#111" stroke-width="0.9" stroke-linejoin="round"/>
<rect x="45.3" y="553.2" width="217" height="80.8" fill="none" stroke="#4d4d4d" stroke-width="0.7"/>
<line x1="42.8" y1="558" x2="45.3" y2="558" stroke="#333" stroke-width="0.6"/>
<text x="38.2" y="560.6" text-anchor="end" font-size="7.4">15.0</text>
<line x1="42.8" y1="569.05" x2="45.3" y2="569.05" stroke="#333" stroke-width="0.6"/>
<text x="38.2" y="571.65" text-anchor="end" font-size="7.4">12.5</text>
<line x1="42.8" y1="580.1" x2="45.3" y2="580.1" stroke="#333" stroke-width="0.6"/>
<text x="38.2" y="582.7" text-anchor="end" font-size="7.4">10.0</text>
<line x1="42.8" y1="591.15" x2="45.3" y2="591.15" stroke="#333" stroke-width="0.6"/>
<text x="38.2" y="593.75" text-anchor="end" font-size="7.4">7.5</text>
<line x1="42.8" y1="602.2" x2="45.3" y2="602.2" stroke="#333" stroke-width="0.6"/>
<text x="38.2" y="604.8" text-anchor="end" font-size="7.4">5.0</text>
<line x1="42.8" y1="613.25" x2="45.3" y2="613.25" stroke="#333" stroke-width="0.6"/>
<text x="38.2" y="615.85" text-anchor="end" font-size="7.4">2.5</text>
<line x1="42.8" y1="624.3" x2="45.3" y2="624.3" stroke="#333" stroke-width="0.6"/>
<text x="38.2" y="626.9" text-anchor="end" font-size="7.4">0</text>
<line x1="49.1" y1="634" x2="49.1" y2="636.5" stroke="#333" stroke-width="0.6"/>
<text x="49.1" y="645.7" text-anchor="middle" font-size="7.6">0</text>
<line x1="77.3" y1="634" x2="77.3" y2="636.5" stroke="#333" stroke-width="0.6"/>
<text x="77.3" y="645.7" text-anchor="middle" font-size="7.6">50</text>
<line x1="105.5" y1="634" x2="105.5" y2="636.5" stroke="#333" stroke-width="0.6"/>
<text x="105.5" y="645.7" text-anchor="middle" font-size="7.6">100</text>
<line x1="133.7" y1="634" x2="133.7" y2="636.5" stroke="#333" stroke-width="0.6"/>
<text x="133.7" y="645.7" text-anchor="middle" font-size="7.6">150</text>
<line x1="161.9" y1="634" x2="161.9" y2="636.5" stroke="#333" stroke-width="0.6"/>
<text x="161.9" y="645.7" text-anchor="middle" font-size="7.6">200</text>
<line x1="190.1" y1="634" x2="190.1" y2="636.5" stroke="#333" stroke-width="0.6"/>
<text x="190.1" y="645.7" text-anchor="middle" font-size="7.6">250</text>
<line x1="218.3" y1="634" x2="218.3" y2="636.5" stroke="#333" stroke-width="0.6"/>
<text x="218.3" y="645.7" text-anchor="middle" font-size="7.6">300</text>
<line x1="246.5" y1="634" x2="246.5" y2="636.5" stroke="#333" stroke-width="0.6"/>
<text x="246.5" y="645.7" text-anchor="middle" font-size="7.6">350</text>
<text x="153.7" y="660.1" text-anchor="middle" textLength="93.2" lengthAdjust="spacingAndGlyphs">Sequence position (bp)</text>
<text x="19.6" y="595.6" text-anchor="middle" transform="rotate(-90 19.6 595.6)">ΔG prediction</text>
<text x="274.6" y="383.3" font-weight="bold" font-size="13" fill="#000">g</text>
<text x="400" y="383.7" font-weight="bold" font-size="13" fill="#000">h</text>
<g transform="translate(0,0)"><path d="M345,419 345.57,417.96 346.23,416.59 346.59,415.29 347,414 347.84,412.87 348.68,411.72 349.21,410.38 349.5,409 349.54,407.64 349.32,406.33 348.53,405.13 348,404 348.82,402.95 349.82,401.83 350.08,400.45 350,399 349.71,397.61 349.18,396.29 348.21,395.12 347.5,394 348.08,392.86 348.83,391.67 348.89,390.28 348.5,389 347.4,388.28 346.25,387.57 345.75,386.29 345.5,385 345.31,384.19 345.18,383.51 345.18,382.75 345,382 344.26,381.17 343.25,380.55 342.16,380.59 341,380.8 339.86,380.74 338.72,380.7 337.57,380.91 336.5,381.2 335.58,381.44 334.89,381.82 334.52,382.57 334.5,383.5 335.12,384.49 335.76,385.58 335.8,386.79 335.5,388 334.86,389.05 334.05,390.04 333.09,391 332.5,392 333.11,393.11 333.97,394.31 334.43,395.66 334.5,397 333.84,398.13 332.93,399.2 332.05,400.34 331.5,401.5 331.88,402.67 332.62,403.82 333.21,404.96 334,406 335.37,406.76 336.73,407.6 337.42,409.1 338,410.5 338.94,410.98 339.86,411.31 340.45,412.1 341,413 341.83,413.85 342.62,414.77 343.16,415.99 343.5,417" fill="none" stroke="#85858f" stroke-width="1.2" stroke-linejoin="round"/><path d="M344,418 344.28,414.75 345,411 346.59,408.47 348.5,407 350.41,407.22 352,408.5 352.81,410.53 353,413 352.53,415.62 351.5,418 349.66,419.56 348,420.5" fill="none" stroke="#85858f" stroke-width="1.2" stroke-linejoin="round"/><path d="M317,478 315.99,478.28 314.86,478.78 314.25,479.59 313.82,480.54 313.44,481.54 313,482.5 312.33,483.43 311.47,484 310.27,483.56 309.07,483.11 308.15,483.64 307.5,484.5 307.38,485.45 307.21,486.28 306.27,486.48 305.27,486.63 304.81,487.25 304.5,488 304.12,488.73 303.72,489.39 303.25,489.92 302.68,490.19 301.85,489.81 301,489.5 300.17,489.99 299.72,490.79 300.38,491.72 301.07,492.66 300.65,493.36 300,494 299.81,494.83 299.47,495.4 298.31,495.03 297.2,494.7 296.98,495.45 297,496.5 296.66,497.45 296.58,498.31 297.53,498.82 298.52,499.33 298.6,500.13 298.5,501 298.64,501.92 298.96,502.57 299.67,502.4 300.45,502.09 301.12,502.19 301.5,502.5 301.12,503.03 300.72,503.72 301.17,504.54 301.58,505.35 301.09,505.9 300.5,506.5 300.38,507.52 300.58,508.52 301.26,509.05 302.1,509.46 302.83,509.94 303.5,510.5 304.05,511.37 304.62,512.15 305.35,512.44 306.18,512.47 307.13,512.34 308,512 308.45,511.33 308.83,510.6 309.43,510.12 310.1,509.73 310.78,509.34 311.5,509 312.28,508.68 313.04,508.49 313.74,508.52 314.39,508.77 315.04,509.52 315.5,510 315.42,509.17 315.37,508.07 315.96,507.51 316.73,507.06 317.45,506.57 318,506 318.16,505.16 317.93,504.28 316.94,503.61 316.07,502.92 316.35,501.97 317,501 317.62,500.26 318.1,499.51 318.02,498.51 317.94,497.51 318.51,496.74 319,496 318.6,495.16 318.18,494.26 318.68,493.22 319.15,492.19 318.59,491.32 318,490.5 318.29,489.67 318.79,488.81 318.98,487.87 319.24,486.95 319.85,486.21 320.5,485.5 320.89,484.72 321.29,483.98 321.99,483.38 322.63,482.76 322.9,481.8 323,481" fill="none" stroke="#85858f" stroke-width="1.2" stroke-linejoin="round"/><path d="M352,472 352.41,471.03 353.16,470.11 354.52,470.28 355.88,470.45 356.52,469.58 357,468.5 357.67,467.65 358.44,467.17 359.44,467.65 360.45,468.19 361.28,467.73 362,467.3 362.5,467.91 363.06,468.5 364.06,468.01 365.04,467.55 365.55,468.22 366,469 366.74,469.09 367.45,468.83 367.84,468.15 368.2,467.43 368.86,467.05 369.5,467 369.74,467.56 370.03,468.24 370.9,468.52 371.69,468.85 371.62,469.56 371.5,470.5 372.07,471.65 372.67,472.9 372.76,474.16 372.67,475.43 372.57,476.74 372.3,478 371.55,479.08 370.97,480.17 371.48,481.47 372.03,482.78 371.66,483.93 371,485 370.35,486 369.69,486.98 369.03,487.97 368.53,489.02 368.54,490.28 368.5,491.5 367.72,492.37 366.99,493.22 367.19,494.4 367.46,495.6 367.09,496.57 366.5,497.5 365.91,498.53 365.22,499.52 364.35,500.34 363.46,501.14 362.76,502.11 362,503 360.9,503.41 359.84,503.89 359.33,505.11 358.79,506.3 357.72,506.78 356.5,507 355.39,507.18 354.31,507.37 353.26,507.68 352.27,508.12 351.41,508.85 350.5,509.5 349.28,509.52 348.08,509.66 347.29,510.86 346.5,512.03 345.3,512.16 344,512 342.74,511.91 341.62,512.13 340.98,513.36 340.35,514.61 339.2,514.81 338,514.8 337.09,515.18 336.23,515.51 335.26,515.45 334.29,515.38 333.39,515.69 332.5,516 331.48,515.87 330.52,515.89 329.89,516.73 329.29,517.63 328.42,517.89 327.5,518 326.59,518.23 325.86,518.61 325.6,519.41 325.43,520.27 324.94,520.89 324.5,521.5 324.48,522.27 324.53,523.08 324.41,523.84 324.19,524.58 323.76,525.33 323.5,526 323.96,526.48 324.59,526.91 325.02,527.42 325.28,528 325.12,528.85 325,529.5 325.43,529.26 325.97,528.98 326.29,529.57 326.59,530.2 327.09,530.18 327.5,530" fill="none" stroke="#85858f" stroke-width="1.2" stroke-linejoin="round"/><path d="M349.5,409L349.32,406.33" stroke="#c06060" stroke-width="1.1"/><path d="M350,399L349.18,396.29" stroke="#e09090" stroke-width="1.1"/><path d="M336.5,381.2L334.89,381.82" stroke="#e09090" stroke-width="1.1"/><path d="M335.5,388L334.05,390.04" stroke="#5050c0" stroke-width="1.1"/><path d="M341,413L342.62,414.77" stroke="#e09090" stroke-width="1.1"/><path d="M344,418L345,411" stroke="#5050c0" stroke-width="1.1"/><path d="M353,413L351.5,418" stroke="#c06060" stroke-width="1.1"/><path d="M317,478L314.86,478.78" stroke="#e09090" stroke-width="1.1"/><path d="M305.27,486.63L304.5,488" stroke="#5050c0" stroke-width="1.1"/><path d="M301,489.5L299.72,490.79" stroke="#5050c0" stroke-width="1.1"/><path d="M298.52,499.33L298.5,501" stroke="#5050c0" stroke-width="1.1"/><path d="M301.5,502.5L300.72,503.72" stroke="#5050c0" stroke-width="1.1"/><path d="M311.5,509L313.04,508.49" stroke="#e09090" stroke-width="1.1"/><path d="M322.63,482.76L323,481" stroke="#5050c0" stroke-width="1.1"/><path d="M358.44,467.17L360.45,468.19" stroke="#e09090" stroke-width="1.1"/><path d="M372.03,482.78L371,485" stroke="#c06060" stroke-width="1.1"/><path d="M341.62,512.13L340.35,514.61" stroke="#5050c0" stroke-width="1.1"/><path d="M318,424 Q320,416 326,419 Q331,413 336,420 Q341,414 347,419 Q352,414 358,419 Q361,424 357,429 M321,430 Q330,424 338,431 Q346,425 356,430 M325,426 L334,434 M344,423 L350,433 M313,478 Q317,486 324,481 Q330,487 336,480 Q342,485 349,477 Q354,481 358,475" fill="none" stroke="#85858f" stroke-width="1.1"/><path d="M345.77,420.65l4.46,0.81" stroke="#dcdcff" stroke-width="2.2" stroke-linecap="round"/><path d="M355.36,421.42l3.54,1.06" stroke="#7070f0" stroke-width="2.2" stroke-linecap="round"/><path d="M339.79,420.26l5.01,-0.11" stroke="#ffffff" stroke-width="2.2" stroke-linecap="round"/><path d="M343.6,427.37l4.04,0.43" stroke="#7070f0" stroke-width="2.2" stroke-linecap="round"/><path d="M332.3,427.96l5.61,0.57" stroke="#dcdcff" stroke-width="2.2" stroke-linecap="round"/><path d="M355.35,423.74l4.59,-1" stroke="#dcdcff" stroke-width="2.2" stroke-linecap="round"/><path d="M354.62,423.2l5.07,0.66" stroke="#7070f0" stroke-width="2.2" stroke-linecap="round"/><path d="M325.53,427.14l4.74,0.5" stroke="#7070f0" stroke-width="2.2" stroke-linecap="round"/><path d="M330.5,424.19l5.6,-0.69" stroke="#9898ff" stroke-width="2.2" stroke-linecap="round"/><path d="M326.43,424.62l4.87,-0.96" stroke="#b8b8ff" stroke-width="2.2" stroke-linecap="round"/><path d="M327.9,423.8Q324,424.08 320.1,426.6" fill="none" stroke="#3a3a7a" stroke-width="2.2" stroke-linecap="round"/><path d="M327.9,423.8Q324,424.08 320.1,426.6" fill="none" stroke="#7070f0" stroke-width="1.5" stroke-linecap="round"/><path d="M327.25,429.5Q323.35,429.78 319.45,432.3" fill="none" stroke="#3a3a7a" stroke-width="2.2" stroke-linecap="round"/><path d="M327.25,429.5Q323.35,429.78 319.45,432.3" fill="none" stroke="#b8b8ff" stroke-width="1.5" stroke-linecap="round"/><path d="M326.6,435.2Q322.7,435.48 318.8,438" fill="none" stroke="#3a3a7a" stroke-width="2.2" stroke-linecap="round"/><path d="M326.6,435.2Q322.7,435.48 318.8,438" fill="none" stroke="#9898ff" stroke-width="1.5" stroke-linecap="round"/><path d="M325.95,440.9Q322.05,441.18 318.15,443.7" fill="none" stroke="#3a3a7a" stroke-width="2.2" stroke-linecap="round"/><path d="M325.95,440.9Q322.05,441.18 318.15,443.7" fill="none" stroke="#7070f0" stroke-width="1.5" stroke-linecap="round"/><path d="M325.3,446.6Q321.4,446.88 317.5,449.4" fill="none" stroke="#3a3a7a" stroke-width="2.2" stroke-linecap="round"/><path d="M325.3,446.6Q321.4,446.88 317.5,449.4" fill="none" stroke="#7070f0" stroke-width="1.5" stroke-linecap="round"/><path d="M324.65,452.3Q320.75,452.58 316.85,455.1" fill="none" stroke="#3a3a7a" stroke-width="2.2" stroke-linecap="round"/><path d="M324.65,452.3Q320.75,452.58 316.85,455.1" fill="none" stroke="#ffffff" stroke-width="1.5" stroke-linecap="round"/><path d="M324,458Q320.1,458.28 316.2,460.8" fill="none" stroke="#3a3a7a" stroke-width="2.2" stroke-linecap="round"/><path d="M324,458Q320.1,458.28 316.2,460.8" fill="none" stroke="#b8b8ff" stroke-width="1.5" stroke-linecap="round"/><path d="M323.35,463.7Q319.45,463.98 315.55,466.5" fill="none" stroke="#3a3a7a" stroke-width="2.2" stroke-linecap="round"/><path d="M323.35,463.7Q319.45,463.98 315.55,466.5" fill="none" stroke="#9898ff" stroke-width="1.5" stroke-linecap="round"/><path d="M322.7,469.4Q318.8,469.68 314.9,472.2" fill="none" stroke="#3a3a7a" stroke-width="2.2" stroke-linecap="round"/><path d="M322.7,469.4Q318.8,469.68 314.9,472.2" fill="none" stroke="#7070f0" stroke-width="1.5" stroke-linecap="round"/><path d="M322.05,475.1Q318.15,475.38 314.25,477.9" fill="none" stroke="#3a3a7a" stroke-width="2.2" stroke-linecap="round"/><path d="M322.05,475.1Q318.15,475.38 314.25,477.9" fill="none" stroke="#ffffff" stroke-width="1.5" stroke-linecap="round"/><path d="M320.1,421Q323.7,424.47 327.9,423.8" fill="none" stroke="#3a3a7a" stroke-width="3.3" stroke-linecap="round"/><path d="M320.1,421Q323.7,424.47 327.9,423.8" fill="none" stroke="#dcdcff" stroke-width="2.6" stroke-linecap="round"/><path d="M319.45,426.7Q323.05,430.17 327.25,429.5" fill="none" stroke="#3a3a7a" stroke-width="3.3" stroke-linecap="round"/><path d="M319.45,426.7Q323.05,430.17 327.25,429.5" fill="none" stroke="#9898ff" stroke-width="2.6" stroke-linecap="round"/><path d="M318.8,432.4Q322.4,435.87 326.6,435.2" fill="none" stroke="#3a3a7a" stroke-width="3.3" stroke-linecap="round"/><path d="M318.8,432.4Q322.4,435.87 326.6,435.2" fill="none" stroke="#2020ff" stroke-width="2.6" stroke-linecap="round"/><path d="M318.15,438.1Q321.75,441.57 325.95,440.9" fill="none" stroke="#3a3a7a" stroke-width="3.3" stroke-linecap="round"/><path d="M318.15,438.1Q321.75,441.57 325.95,440.9" fill="none" stroke="#ffffff" stroke-width="2.6" stroke-linecap="round"/><path d="M317.5,443.8Q321.1,447.27 325.3,446.6" fill="none" stroke="#3a3a7a" stroke-width="3.3" stroke-linecap="round"/><path d="M317.5,443.8Q321.1,447.27 325.3,446.6" fill="none" stroke="#5050ff" stroke-width="2.6" stroke-linecap="round"/><path d="M316.85,449.5Q320.45,452.97 324.65,452.3" fill="none" stroke="#3a3a7a" stroke-width="3.3" stroke-linecap="round"/><path d="M316.85,449.5Q320.45,452.97 324.65,452.3" fill="none" stroke="#2020ff" stroke-width="2.6" stroke-linecap="round"/><path d="M316.2,455.2Q319.8,458.67 324,458" fill="none" stroke="#3a3a7a" stroke-width="3.3" stroke-linecap="round"/><path d="M316.2,455.2Q319.8,458.67 324,458" fill="none" stroke="#3030f8" stroke-width="2.6" stroke-linecap="round"/><path d="M315.55,460.9Q319.15,464.37 323.35,463.7" fill="none" stroke="#3a3a7a" stroke-width="3.3" stroke-linecap="round"/><path d="M315.55,460.9Q319.15,464.37 323.35,463.7" fill="none" stroke="#5050ff" stroke-width="2.6" stroke-linecap="round"/><path d="M314.9,466.6Q318.5,470.07 322.7,469.4" fill="none" stroke="#3a3a7a" stroke-width="3.3" stroke-linecap="round"/><path d="M314.9,466.6Q318.5,470.07 322.7,469.4" fill="none" stroke="#2020ff" stroke-width="2.6" stroke-linecap="round"/><path d="M314.25,472.3Q317.85,475.77 322.05,475.1" fill="none" stroke="#3a3a7a" stroke-width="3.3" stroke-linecap="round"/><path d="M314.25,472.3Q317.85,475.77 322.05,475.1" fill="none" stroke="#0808f0" stroke-width="2.6" stroke-linecap="round"/><path d="M337.9,430.8Q334,431.08 330.1,433.6" fill="none" stroke="#3a3a7a" stroke-width="2.2" stroke-linecap="round"/><path d="M337.9,430.8Q334,431.08 330.1,433.6" fill="none" stroke="#7070f0" stroke-width="1.5" stroke-linecap="round"/><path d="M337.34,436.8Q333.44,437.08 329.54,439.6" fill="none" stroke="#3a3a7a" stroke-width="2.2" stroke-linecap="round"/><path d="M337.34,436.8Q333.44,437.08 329.54,439.6" fill="none" stroke="#ffffff" stroke-width="1.5" stroke-linecap="round"/><path d="M336.77,442.8Q332.88,443.08 328.98,445.6" fill="none" stroke="#3a3a7a" stroke-width="2.2" stroke-linecap="round"/><path d="M336.77,442.8Q332.88,443.08 328.98,445.6" fill="none" stroke="#7070f0" stroke-width="1.5" stroke-linecap="round"/><path d="M336.21,448.8Q332.31,449.08 328.41,451.6" fill="none" stroke="#3a3a7a" stroke-width="2.2" stroke-linecap="round"/><path d="M336.21,448.8Q332.31,449.08 328.41,451.6" fill="none" stroke="#ffffff" stroke-width="1.5" stroke-linecap="round"/><path d="M335.65,454.8Q331.75,455.08 327.85,457.6" fill="none" stroke="#3a3a7a" stroke-width="2.2" stroke-linecap="round"/><path d="M335.65,454.8Q331.75,455.08 327.85,457.6" fill="none" stroke="#ffffff" stroke-width="1.5" stroke-linecap="round"/><path d="M335.09,460.8Q331.19,461.08 327.29,463.6" fill="none" stroke="#3a3a7a" stroke-width="2.2" stroke-linecap="round"/><path d="M335.09,460.8Q331.19,461.08 327.29,463.6" fill="none" stroke="#b8b8ff" stroke-width="1.5" stroke-linecap="round"/><path d="M334.52,466.8Q330.62,467.08 326.73,469.6" fill="none" stroke="#3a3a7a" stroke-width="2.2" stroke-linecap="round"/><path d="M334.52,466.8Q330.62,467.08 326.73,469.6" fill="none" stroke="#7070f0" stroke-width="1.5" stroke-linecap="round"/><path d="M333.96,472.8Q330.06,473.08 326.16,475.6" fill="none" stroke="#3a3a7a" stroke-width="2.2" stroke-linecap="round"/><path d="M333.96,472.8Q330.06,473.08 326.16,475.6" fill="none" stroke="#b8b8ff" stroke-width="1.5" stroke-linecap="round"/><path d="M330.1,428Q333.7,431.47 337.9,430.8" fill="none" stroke="#3a3a7a" stroke-width="3.3" stroke-linecap="round"/><path d="M330.1,428Q333.7,431.47 337.9,430.8" fill="none" stroke="#2020ff" stroke-width="2.6" stroke-linecap="round"/><path d="M329.54,434Q333.14,437.47 337.34,436.8" fill="none" stroke="#3a3a7a" stroke-width="3.3" stroke-linecap="round"/><path d="M329.54,434Q333.14,437.47 337.34,436.8" fill="none" stroke="#2020ff" stroke-width="2.6" stroke-linecap="round"/><path d="M328.98,440Q332.57,443.47 336.77,442.8" fill="none" stroke="#3a3a7a" stroke-width="3.3" stroke-linecap="round"/><path d="M328.98,440Q332.57,443.47 336.77,442.8" fill="none" stroke="#3030f8" stroke-width="2.6" stroke-linecap="round"/><path d="M328.41,446Q332.01,449.47 336.21,448.8" fill="none" stroke="#3a3a7a" stroke-width="3.3" stroke-linecap="round"/><path d="M328.41,446Q332.01,449.47 336.21,448.8" fill="none" stroke="#dcdcff" stroke-width="2.6" stroke-linecap="round"/><path d="M327.85,452Q331.45,455.47 335.65,454.8" fill="none" stroke="#3a3a7a" stroke-width="3.3" stroke-linecap="round"/><path d="M327.85,452Q331.45,455.47 335.65,454.8" fill="none" stroke="#2020ff" stroke-width="2.6" stroke-linecap="round"/><path d="M327.29,458Q330.89,461.47 335.09,460.8" fill="none" stroke="#3a3a7a" stroke-width="3.3" stroke-linecap="round"/><path d="M327.29,458Q330.89,461.47 335.09,460.8" fill="none" stroke="#9898ff" stroke-width="2.6" stroke-linecap="round"/><path d="M326.73,464Q330.32,467.47 334.52,466.8" fill="none" stroke="#3a3a7a" stroke-width="3.3" stroke-linecap="round"/><path d="M326.73,464Q330.32,467.47 334.52,466.8" fill="none" stroke="#ffffff" stroke-width="2.6" stroke-linecap="round"/><path d="M326.16,470Q329.76,473.47 333.96,472.8" fill="none" stroke="#3a3a7a" stroke-width="3.3" stroke-linecap="round"/><path d="M326.16,470Q329.76,473.47 333.96,472.8" fill="none" stroke="#0808f0" stroke-width="2.6" stroke-linecap="round"/><path d="M348.4,428.8Q344.5,429.08 340.6,431.6" fill="none" stroke="#3a3a7a" stroke-width="2.2" stroke-linecap="round"/><path d="M348.4,428.8Q344.5,429.08 340.6,431.6" fill="none" stroke="#9898ff" stroke-width="1.5" stroke-linecap="round"/><path d="M347.9,434.8Q344,435.08 340.1,437.6" fill="none" stroke="#3a3a7a" stroke-width="2.2" stroke-linecap="round"/><path d="M347.9,434.8Q344,435.08 340.1,437.6" fill="none" stroke="#7070f0" stroke-width="1.5" stroke-linecap="round"/><path d="M347.4,440.8Q343.5,441.08 339.6,443.6" fill="none" stroke="#3a3a7a" stroke-width="2.2" stroke-linecap="round"/><path d="M347.4,440.8Q343.5,441.08 339.6,443.6" fill="none" stroke="#ffffff" stroke-width="1.5" stroke-linecap="round"/><path d="M346.9,446.8Q343,447.08 339.1,449.6" fill="none" stroke="#3a3a7a" stroke-width="2.2" stroke-linecap="round"/><path d="M346.9,446.8Q343,447.08 339.1,449.6" fill="none" stroke="#9898ff" stroke-width="1.5" stroke-linecap="round"/><path d="M346.4,452.8Q342.5,453.08 338.6,455.6" fill="none" stroke="#3a3a7a" stroke-width="2.2" stroke-linecap="round"/><path d="M346.4,452.8Q342.5,453.08 338.6,455.6" fill="none" stroke="#b8b8ff" stroke-width="1.5" stroke-linecap="round"/><path d="M345.9,458.8Q342,459.08 338.1,461.6" fill="none" stroke="#3a3a7a" stroke-width="2.2" stroke-linecap="round"/><path d="M345.9,458.8Q342,459.08 338.1,461.6" fill="none" stroke="#dcdcff" stroke-width="1.5" stroke-linecap="round"/><path d="M345.4,464.8Q341.5,465.08 337.6,467.6" fill="none" stroke="#3a3a7a" stroke-width="2.2" stroke-linecap="round"/><path d="M345.4,464.8Q341.5,465.08 337.6,467.6" fill="none" stroke="#ffffff" stroke-width="1.5" stroke-linecap="round"/><path d="M344.9,470.8Q341,471.08 337.1,473.6" fill="none" stroke="#3a3a7a" stroke-width="2.2" stroke-linecap="round"/><path d="M344.9,470.8Q341,471.08 337.1,473.6" fill="none" stroke="#9898ff" stroke-width="1.5" stroke-linecap="round"/><path d="M340.6,426Q344.2,429.47 348.4,428.8" fill="none" stroke="#3a3a7a" stroke-width="3.3" stroke-linecap="round"/><path d="M340.6,426Q344.2,429.47 348.4,428.8" fill="none" stroke="#9898ff" stroke-width="2.6" stroke-linecap="round"/><path d="M340.1,432Q343.7,435.47 347.9,434.8" fill="none" stroke="#3a3a7a" stroke-width="3.3" stroke-linecap="round"/><path d="M340.1,432Q343.7,435.47 347.9,434.8" fill="none" stroke="#2020ff" stroke-width="2.6" stroke-linecap="round"/><path d="M339.6,438Q343.2,441.47 347.4,440.8" fill="none" stroke="#3a3a7a" stroke-width="3.3" stroke-linecap="round"/><path d="M339.6,438Q343.2,441.47 347.4,440.8" fill="none" stroke="#0000e0" stroke-width="2.6" stroke-linecap="round"/><path d="M339.1,444Q342.7,447.47 346.9,446.8" fill="none" stroke="#3a3a7a" stroke-width="3.3" stroke-linecap="round"/><path d="M339.1,444Q342.7,447.47 346.9,446.8" fill="none" stroke="#2020ff" stroke-width="2.6" stroke-linecap="round"/><path d="M338.6,450Q342.2,453.47 346.4,452.8" fill="none" stroke="#3a3a7a" stroke-width="3.3" stroke-linecap="round"/><path d="M338.6,450Q342.2,453.47 346.4,452.8" fill="none" stroke="#0000ff" stroke-width="2.6" stroke-linecap="round"/><path d="M338.1,456Q341.7,459.47 345.9,458.8" fill="none" stroke="#3a3a7a" stroke-width="3.3" stroke-linecap="round"/><path d="M338.1,456Q341.7,459.47 345.9,458.8" fill="none" stroke="#2020ff" stroke-width="2.6" stroke-linecap="round"/><path d="M337.6,462Q341.2,465.47 345.4,464.8" fill="none" stroke="#3a3a7a" stroke-width="3.3" stroke-linecap="round"/><path d="M337.6,462Q341.2,465.47 345.4,464.8" fill="none" stroke="#0000ff" stroke-width="2.6" stroke-linecap="round"/><path d="M337.1,468Q340.7,471.47 344.9,470.8" fill="none" stroke="#3a3a7a" stroke-width="3.3" stroke-linecap="round"/><path d="M337.1,468Q340.7,471.47 344.9,470.8" fill="none" stroke="#0000ff" stroke-width="2.6" stroke-linecap="round"/><path d="M358.4,424.8Q354.5,425.08 350.6,427.6" fill="none" stroke="#3a3a7a" stroke-width="2.2" stroke-linecap="round"/><path d="M358.4,424.8Q354.5,425.08 350.6,427.6" fill="none" stroke="#dcdcff" stroke-width="1.5" stroke-linecap="round"/><path d="M358.15,430.68Q354.25,430.95 350.35,433.48" fill="none" stroke="#3a3a7a" stroke-width="2.2" stroke-linecap="round"/><path d="M358.15,430.68Q354.25,430.95 350.35,433.48" fill="none" stroke="#9898ff" stroke-width="1.5" stroke-linecap="round"/><path d="M357.9,436.55Q354,436.83 350.1,439.35" fill="none" stroke="#3a3a7a" stroke-width="2.2" stroke-linecap="round"/><path d="M357.9,436.55Q354,436.83 350.1,439.35" fill="none" stroke="#b8b8ff" stroke-width="1.5" stroke-linecap="round"/><path d="M357.65,442.43Q353.75,442.7 349.85,445.23" fill="none" stroke="#3a3a7a" stroke-width="2.2" stroke-linecap="round"/><path d="M357.65,442.43Q353.75,442.7 349.85,445.23" fill="none" stroke="#ffffff" stroke-width="1.5" stroke-linecap="round"/><path d="M357.4,448.3Q353.5,448.58 349.6,451.1" fill="none" stroke="#3a3a7a" stroke-width="2.2" stroke-linecap="round"/><path d="M357.4,448.3Q353.5,448.58 349.6,451.1" fill="none" stroke="#7070f0" stroke-width="1.5" stroke-linecap="round"/><path d="M357.15,454.18Q353.25,454.45 349.35,456.98" fill="none" stroke="#3a3a7a" stroke-width="2.2" stroke-linecap="round"/><path d="M357.15,454.18Q353.25,454.45 349.35,456.98" fill="none" stroke="#7070f0" stroke-width="1.5" stroke-linecap="round"/><path d="M356.9,460.05Q353,460.33 349.1,462.85" fill="none" stroke="#3a3a7a" stroke-width="2.2" stroke-linecap="round"/><path d="M356.9,460.05Q353,460.33 349.1,462.85" fill="none" stroke="#b8b8ff" stroke-width="1.5" stroke-linecap="round"/><path d="M356.65,465.93Q352.75,466.2 348.85,468.73" fill="none" stroke="#3a3a7a" stroke-width="2.2" stroke-linecap="round"/><path d="M356.65,465.93Q352.75,466.2 348.85,468.73" fill="none" stroke="#9898ff" stroke-width="1.5" stroke-linecap="round"/><path d="M350.6,422Q354.2,425.47 358.4,424.8" fill="none" stroke="#3a3a7a" stroke-width="3.3" stroke-linecap="round"/><path d="M350.6,422Q354.2,425.47 358.4,424.8" fill="none" stroke="#dcdcff" stroke-width="2.6" stroke-linecap="round"/><path d="M350.35,427.88Q353.95,431.35 358.15,430.68" fill="none" stroke="#3a3a7a" stroke-width="3.3" stroke-linecap="round"/><path d="M350.35,427.88Q353.95,431.35 358.15,430.68" fill="none" stroke="#0000e0" stroke-width="2.6" stroke-linecap="round"/><path d="M350.1,433.75Q353.7,437.22 357.9,436.55" fill="none" stroke="#3a3a7a" stroke-width="3.3" stroke-linecap="round"/><path d="M350.1,433.75Q353.7,437.22 357.9,436.55" fill="none" stroke="#5050ff" stroke-width="2.6" stroke-linecap="round"/><path d="M349.85,439.62Q353.45,443.1 357.65,442.43" fill="none" stroke="#3a3a7a" stroke-width="3.3" stroke-linecap="round"/><path d="M349.85,439.62Q353.45,443.1 357.65,442.43" fill="none" stroke="#0000ff" stroke-width="2.6" stroke-linecap="round"/><path d="M349.6,445.5Q353.2,448.97 357.4,448.3" fill="none" stroke="#3a3a7a" stroke-width="3.3" stroke-linecap="round"/><path d="M349.6,445.5Q353.2,448.97 357.4,448.3" fill="none" stroke="#2020ff" stroke-width="2.6" stroke-linecap="round"/><path d="M349.35,451.38Q352.95,454.85 357.15,454.18" fill="none" stroke="#3a3a7a" stroke-width="3.3" stroke-linecap="round"/><path d="M349.35,451.38Q352.95,454.85 357.15,454.18" fill="none" stroke="#7070f0" stroke-width="2.6" stroke-linecap="round"/><path d="M349.1,457.25Q352.7,460.72 356.9,460.05" fill="none" stroke="#3a3a7a" stroke-width="3.3" stroke-linecap="round"/><path d="M349.1,457.25Q352.7,460.72 356.9,460.05" fill="none" stroke="#3030f8" stroke-width="2.6" stroke-linecap="round"/><path d="M348.85,463.12Q352.45,466.6 356.65,465.93" fill="none" stroke="#3a3a7a" stroke-width="3.3" stroke-linecap="round"/><path d="M348.85,463.12Q352.45,466.6 356.65,465.93" fill="none" stroke="#5050ff" stroke-width="2.6" stroke-linecap="round"/></g>
<g transform="translate(125.5,0)"><path d="M345,419 345.57,417.96 346.23,416.59 346.59,415.29 347,414 347.84,412.87 348.68,411.72 349.21,410.38 349.5,409 349.54,407.64 349.32,406.33 348.53,405.13 348,404 348.82,402.95 349.82,401.83 350.08,400.45 350,399 349.71,397.61 349.18,396.29 348.21,395.12 347.5,394 348.08,392.86 348.83,391.67 348.89,390.28 348.5,389 347.4,388.28 346.25,387.57 345.75,386.29 345.5,385 345.31,384.19 345.18,383.51 345.18,382.75 345,382 344.26,381.17 343.25,380.55 342.16,380.59 341,380.8 339.86,380.74 338.72,380.7 337.57,380.91 336.5,381.2 335.58,381.44 334.89,381.82 334.52,382.57 334.5,383.5 335.12,384.49 335.76,385.58 335.8,386.79 335.5,388 334.86,389.05 334.05,390.04 333.09,391 332.5,392 333.11,393.11 333.97,394.31 334.43,395.66 334.5,397 333.84,398.13 332.93,399.2 332.05,400.34 331.5,401.5 331.88,402.67 332.62,403.82 333.21,404.96 334,406 335.37,406.76 336.73,407.6 337.42,409.1 338,410.5 338.94,410.98 339.86,411.31 340.45,412.1 341,413 341.83,413.85 342.62,414.77 343.16,415.99 343.5,417" fill="none" stroke="#8f9696" stroke-width="1.2" stroke-linejoin="round"/><path d="M344,418 344.28,414.75 345,411 346.59,408.47 348.5,407 350.41,407.22 352,408.5 352.81,410.53 353,413 352.53,415.62 351.5,418 349.66,419.56 348,420.5" fill="none" stroke="#8f9696" stroke-width="1.2" stroke-linejoin="round"/><path d="M317,478 315.99,478.28 314.86,478.78 314.25,479.59 313.82,480.54 313.44,481.54 313,482.5 312.33,483.43 311.47,484 310.27,483.56 309.07,483.11 308.15,483.64 307.5,484.5 307.38,485.45 307.21,486.28 306.27,486.48 305.27,486.63 304.81,487.25 304.5,488 304.12,488.73 303.72,489.39 303.25,489.92 302.68,490.19 301.85,489.81 301,489.5 300.17,489.99 299.72,490.79 300.38,491.72 301.07,492.66 300.65,493.36 300,494 299.81,494.83 299.47,495.4 298.31,495.03 297.2,494.7 296.98,495.45 297,496.5 296.66,497.45 296.58,498.31 297.53,498.82 298.52,499.33 298.6,500.13 298.5,501 298.64,501.92 298.96,502.57 299.67,502.4 300.45,502.09 301.12,502.19 301.5,502.5 301.12,503.03 300.72,503.72 301.17,504.54 301.58,505.35 301.09,505.9 300.5,506.5 300.38,507.52 300.58,508.52 301.26,509.05 302.1,509.46 302.83,509.94 303.5,510.5 304.05,511.37 304.62,512.15 305.35,512.44 306.18,512.47 307.13,512.34 308,512 308.45,511.33 308.83,510.6 309.43,510.12 310.1,509.73 310.78,509.34 311.5,509 312.28,508.68 313.04,508.49 313.74,508.52 314.39,508.77 315.04,509.52 315.5,510 315.42,509.17 315.37,508.07 315.96,507.51 316.73,507.06 317.45,506.57 318,506 318.16,505.16 317.93,504.28 316.94,503.61 316.07,502.92 316.35,501.97 317,501 317.62,500.26 318.1,499.51 318.02,498.51 317.94,497.51 318.51,496.74 319,496 318.6,495.16 318.18,494.26 318.68,493.22 319.15,492.19 318.59,491.32 318,490.5 318.29,489.67 318.79,488.81 318.98,487.87 319.24,486.95 319.85,486.21 320.5,485.5 320.89,484.72 321.29,483.98 321.99,483.38 322.63,482.76 322.9,481.8 323,481" fill="none" stroke="#8f9696" stroke-width="1.2" stroke-linejoin="round"/><path d="M352,472 352.41,471.03 353.16,470.11 354.52,470.28 355.88,470.45 356.52,469.58 357,468.5 357.67,467.65 358.44,467.17 359.44,467.65 360.45,468.19 361.28,467.73 362,467.3 362.5,467.91 363.06,468.5 364.06,468.01 365.04,467.55 365.55,468.22 366,469 366.74,469.09 367.45,468.83 367.84,468.15 368.2,467.43 368.86,467.05 369.5,467 369.74,467.56 370.03,468.24 370.9,468.52 371.69,468.85 371.62,469.56 371.5,470.5 372.07,471.65 372.67,472.9 372.76,474.16 372.67,475.43 372.57,476.74 372.3,478 371.55,479.08 370.97,480.17 371.48,481.47 372.03,482.78 371.66,483.93 371,485 370.35,486 369.69,486.98 369.03,487.97 368.53,489.02 368.54,490.28 368.5,491.5 367.72,492.37 366.99,493.22 367.19,494.4 367.46,495.6 367.09,496.57 366.5,497.5 365.91,498.53 365.22,499.52 364.35,500.34 363.46,501.14 362.76,502.11 362,503 360.9,503.41 359.84,503.89 359.33,505.11 358.79,506.3 357.72,506.78 356.5,507 355.39,507.18 354.31,507.37 353.26,507.68 352.27,508.12 351.41,508.85 350.5,509.5 349.28,509.52 348.08,509.66 347.29,510.86 346.5,512.03 345.3,512.16 344,512 342.74,511.91 341.62,512.13 340.98,513.36 340.35,514.61 339.2,514.81 338,514.8 337.09,515.18 336.23,515.51 335.26,515.45 334.29,515.38 333.39,515.69 332.5,516 331.48,515.87 330.52,515.89 329.89,516.73 329.29,517.63 328.42,517.89 327.5,518 326.59,518.23 325.86,518.61 325.6,519.41 325.43,520.27 324.94,520.89 324.5,521.5 324.48,522.27 324.53,523.08 324.41,523.84 324.19,524.58 323.76,525.33 323.5,526 323.96,526.48 324.59,526.91 325.02,527.42 325.28,528 325.12,528.85 325,529.5 325.43,529.26 325.97,528.98 326.29,529.57 326.59,530.2 327.09,530.18 327.5,530" fill="none" stroke="#8f9696" stroke-width="1.2" stroke-linejoin="round"/><path d="M345,419L346.23,416.59" stroke="#88c8f0" stroke-width="1.1"/><path d="M350,399L349.18,396.29" stroke="#88c8f0" stroke-width="1.1"/><path d="M348.5,389L346.25,387.57" stroke="#5fb8e8" stroke-width="1.1"/><path d="M335.5,388L334.05,390.04" stroke="#88c8f0" stroke-width="1.1"/><path d="M334,406L336.73,407.6" stroke="#c8c060" stroke-width="1.1"/><path d="M344,418L345,411" stroke="#5fb8e8" stroke-width="1.1"/><path d="M353,413L351.5,418" stroke="#88c8f0" stroke-width="1.1"/><path d="M311.47,484L309.07,483.11" stroke="#5fb8e8" stroke-width="1.1"/><path d="M298.52,499.33L298.5,501" stroke="#5fb8e8" stroke-width="1.1"/><path d="M300.58,508.52L302.1,509.46" stroke="#88c8f0" stroke-width="1.1"/><path d="M306.18,512.47L308,512" stroke="#88c8f0" stroke-width="1.1"/><path d="M311.5,509L313.04,508.49" stroke="#c8c060" stroke-width="1.1"/><path d="M316.07,502.92L317,501" stroke="#88c8f0" stroke-width="1.1"/><path d="M352,472L353.16,470.11" stroke="#c8c060" stroke-width="1.1"/><path d="M358.44,467.17L360.45,468.19" stroke="#88c8f0" stroke-width="1.1"/><path d="M368.5,491.5L366.99,493.22" stroke="#88c8f0" stroke-width="1.1"/><path d="M365.22,499.52L363.46,501.14" stroke="#88c8f0" stroke-width="1.1"/><path d="M324.53,523.08L324.19,524.58" stroke="#88c8f0" stroke-width="1.1"/><path d="M325.28,528L325,529.5" stroke="#c8c060" stroke-width="1.1"/><path d="M318,424 Q320,416 326,419 Q331,413 336,420 Q341,414 347,419 Q352,414 358,419 Q361,424 357,429 M321,430 Q330,424 338,431 Q346,425 356,430 M325,426 L334,434 M344,423 L350,433 M313,478 Q317,486 324,481 Q330,487 336,480 Q342,485 349,477 Q354,481 358,475" fill="none" stroke="#8f9696" stroke-width="1.1"/><path d="M338.65,418.74l3.7,-0.39" stroke="#ffffff" stroke-width="2.2" stroke-linecap="round"/><path d="M325.81,426.27l4.97,-1.24" stroke="#d8ecf8" stroke-width="2.2" stroke-linecap="round"/><path d="M322.46,418.62l4.78,-0.78" stroke="#ffffff" stroke-width="2.2" stroke-linecap="round"/><path d="M337.26,421.2l5.39,-1.41" stroke="#ffffff" stroke-width="2.2" stroke-linecap="round"/><path d="M321.04,418.96l5.86,0.54" stroke="#a8d8f4" stroke-width="2.2" stroke-linecap="round"/><path d="M347.49,418.09l5.73,-0.03" stroke="#a8d8f4" stroke-width="2.2" stroke-linecap="round"/><path d="M324.31,425.12l4.06,-0.79" stroke="#f4f0c0" stroke-width="2.2" stroke-linecap="round"/><path d="M354.36,426.17l5.39,-0.37" stroke="#f4f0c0" stroke-width="2.2" stroke-linecap="round"/><path d="M343.62,427.46l4.3,1.05" stroke="#eeeeaa" stroke-width="2.2" stroke-linecap="round"/><path d="M320.38,429.91l3.64,-0.96" stroke="#d8ecf8" stroke-width="2.2" stroke-linecap="round"/><path d="M327.9,423.8Q324,424.08 320.1,426.6" fill="none" stroke="#6a6a50" stroke-width="2.2" stroke-linecap="round"/><path d="M327.9,423.8Q324,424.08 320.1,426.6" fill="none" stroke="#d8ecf8" stroke-width="1.5" stroke-linecap="round"/><path d="M327.25,429.5Q323.35,429.78 319.45,432.3" fill="none" stroke="#6a6a50" stroke-width="2.2" stroke-linecap="round"/><path d="M327.25,429.5Q323.35,429.78 319.45,432.3" fill="none" stroke="#a8d8f4" stroke-width="1.5" stroke-linecap="round"/><path d="M326.6,435.2Q322.7,435.48 318.8,438" fill="none" stroke="#6a6a50" stroke-width="2.2" stroke-linecap="round"/><path d="M326.6,435.2Q322.7,435.48 318.8,438" fill="none" stroke="#ffffff" stroke-width="1.5" stroke-linecap="round"/><path d="M325.95,440.9Q322.05,441.18 318.15,443.7" fill="none" stroke="#6a6a50" stroke-width="2.2" stroke-linecap="round"/><path d="M325.95,440.9Q322.05,441.18 318.15,443.7" fill="none" stroke="#f4f0c0" stroke-width="1.5" stroke-linecap="round"/><path d="M325.3,446.6Q321.4,446.88 317.5,449.4" fill="none" stroke="#6a6a50" stroke-width="2.2" stroke-linecap="round"/><path d="M325.3,446.6Q321.4,446.88 317.5,449.4" fill="none" stroke="#f4f0c0" stroke-width="1.5" stroke-linecap="round"/><path d="M324.65,452.3Q320.75,452.58 316.85,455.1" fill="none" stroke="#6a6a50" stroke-width="2.2" stroke-linecap="round"/><path d="M324.65,452.3Q320.75,452.58 316.85,455.1" fill="none" stroke="#ffffff" stroke-width="1.5" stroke-linecap="round"/><path d="M324,458Q320.1,458.28 316.2,460.8" fill="none" stroke="#6a6a50" stroke-width="2.2" stroke-linecap="round"/><path d="M324,458Q320.1,458.28 316.2,460.8" fill="none" stroke="#d8ecf8" stroke-width="1.5" stroke-linecap="round"/><path d="M323.35,463.7Q319.45,463.98 315.55,466.5" fill="none" stroke="#6a6a50" stroke-width="2.2" stroke-linecap="round"/><path d="M323.35,463.7Q319.45,463.98 315.55,466.5" fill="none" stroke="#d8ecf8" stroke-width="1.5" stroke-linecap="round"/><path d="M322.7,469.4Q318.8,469.68 314.9,472.2" fill="none" stroke="#6a6a50" stroke-width="2.2" stroke-linecap="round"/><path d="M322.7,469.4Q318.8,469.68 314.9,472.2" fill="none" stroke="#ffffff" stroke-width="1.5" stroke-linecap="round"/><path d="M322.05,475.1Q318.15,475.38 314.25,477.9" fill="none" stroke="#6a6a50" stroke-width="2.2" stroke-linecap="round"/><path d="M322.05,475.1Q318.15,475.38 314.25,477.9" fill="none" stroke="#d8ecf8" stroke-width="1.5" stroke-linecap="round"/><path d="M320.1,421Q323.7,424.47 327.9,423.8" fill="none" stroke="#6a6a50" stroke-width="3.3" stroke-linecap="round"/><path d="M320.1,421Q323.7,424.47 327.9,423.8" fill="none" stroke="#f4f0c0" stroke-width="2.6" stroke-linecap="round"/><path d="M319.45,426.7Q323.05,430.17 327.25,429.5" fill="none" stroke="#6a6a50" stroke-width="3.3" stroke-linecap="round"/><path d="M319.45,426.7Q323.05,430.17 327.25,429.5" fill="none" stroke="#a8d8f4" stroke-width="2.6" stroke-linecap="round"/><path d="M318.8,432.4Q322.4,435.87 326.6,435.2" fill="none" stroke="#6a6a50" stroke-width="3.3" stroke-linecap="round"/><path d="M318.8,432.4Q322.4,435.87 326.6,435.2" fill="none" stroke="#f9f080" stroke-width="2.6" stroke-linecap="round"/><path d="M318.15,438.1Q321.75,441.57 325.95,440.9" fill="none" stroke="#6a6a50" stroke-width="3.3" stroke-linecap="round"/><path d="M318.15,438.1Q321.75,441.57 325.95,440.9" fill="none" stroke="#e8dc10" stroke-width="2.6" stroke-linecap="round"/><path d="M317.5,443.8Q321.1,447.27 325.3,446.6" fill="none" stroke="#6a6a50" stroke-width="3.3" stroke-linecap="round"/><path d="M317.5,443.8Q321.1,447.27 325.3,446.6" fill="none" stroke="#f7ee30" stroke-width="2.6" stroke-linecap="round"/><path d="M316.85,449.5Q320.45,452.97 324.65,452.3" fill="none" stroke="#6a6a50" stroke-width="3.3" stroke-linecap="round"/><path d="M316.85,449.5Q320.45,452.97 324.65,452.3" fill="none" stroke="#f7ee30" stroke-width="2.6" stroke-linecap="round"/><path d="M316.2,455.2Q319.8,458.67 324,458" fill="none" stroke="#6a6a50" stroke-width="3.3" stroke-linecap="round"/><path d="M316.2,455.2Q319.8,458.67 324,458" fill="none" stroke="#f5e800" stroke-width="2.6" stroke-linecap="round"/><path d="M315.55,460.9Q319.15,464.37 323.35,463.7" fill="none" stroke="#6a6a50" stroke-width="3.3" stroke-linecap="round"/><path d="M315.55,460.9Q319.15,464.37 323.35,463.7" fill="none" stroke="#f9f080" stroke-width="2.6" stroke-linecap="round"/><path d="M314.9,466.6Q318.5,470.07 322.7,469.4" fill="none" stroke="#6a6a50" stroke-width="3.3" stroke-linecap="round"/><path d="M314.9,466.6Q318.5,470.07 322.7,469.4" fill="none" stroke="#efe000" stroke-width="2.6" stroke-linecap="round"/><path d="M314.25,472.3Q317.85,475.77 322.05,475.1" fill="none" stroke="#6a6a50" stroke-width="3.3" stroke-linecap="round"/><path d="M314.25,472.3Q317.85,475.77 322.05,475.1" fill="none" stroke="#f4f0c0" stroke-width="2.6" stroke-linecap="round"/><path d="M337.9,430.8Q334,431.08 330.1,433.6" fill="none" stroke="#6a6a50" stroke-width="2.2" stroke-linecap="round"/><path d="M337.9,430.8Q334,431.08 330.1,433.6" fill="none" stroke="#a8d8f4" stroke-width="1.5" stroke-linecap="round"/><path d="M337.34,436.8Q333.44,437.08 329.54,439.6" fill="none" stroke="#6a6a50" stroke-width="2.2" stroke-linecap="round"/><path d="M337.34,436.8Q333.44,437.08 329.54,439.6" fill="none" stroke="#d8ecf8" stroke-width="1.5" stroke-linecap="round"/><path d="M336.77,442.8Q332.88,443.08 328.98,445.6" fill="none" stroke="#6a6a50" stroke-width="2.2" stroke-linecap="round"/><path d="M336.77,442.8Q332.88,443.08 328.98,445.6" fill="none" stroke="#eeeeaa" stroke-width="1.5" stroke-linecap="round"/><path d="M336.21,448.8Q332.31,449.08 328.41,451.6" fill="none" stroke="#6a6a50" stroke-width="2.2" stroke-linecap="round"/><path d="M336.21,448.8Q332.31,449.08 328.41,451.6" fill="none" stroke="#eeeeaa" stroke-width="1.5" stroke-linecap="round"/><path d="M335.65,454.8Q331.75,455.08 327.85,457.6" fill="none" stroke="#6a6a50" stroke-width="2.2" stroke-linecap="round"/><path d="M335.65,454.8Q331.75,455.08 327.85,457.6" fill="none" stroke="#f4f0c0" stroke-width="1.5" stroke-linecap="round"/><path d="M335.09,460.8Q331.19,461.08 327.29,463.6" fill="none" stroke="#6a6a50" stroke-width="2.2" stroke-linecap="round"/><path d="M335.09,460.8Q331.19,461.08 327.29,463.6" fill="none" stroke="#ffffff" stroke-width="1.5" stroke-linecap="round"/><path d="M334.52,466.8Q330.62,467.08 326.73,469.6" fill="none" stroke="#6a6a50" stroke-width="2.2" stroke-linecap="round"/><path d="M334.52,466.8Q330.62,467.08 326.73,469.6" fill="none" stroke="#ffffff" stroke-width="1.5" stroke-linecap="round"/><path d="M333.96,472.8Q330.06,473.08 326.16,475.6" fill="none" stroke="#6a6a50" stroke-width="2.2" stroke-linecap="round"/><path d="M333.96,472.8Q330.06,473.08 326.16,475.6" fill="none" stroke="#a8d8f4" stroke-width="1.5" stroke-linecap="round"/><path d="M330.1,428Q333.7,431.47 337.9,430.8" fill="none" stroke="#6a6a50" stroke-width="3.3" stroke-linecap="round"/><path d="M330.1,428Q333.7,431.47 337.9,430.8" fill="none" stroke="#f5e800" stroke-width="2.6" stroke-linecap="round"/><path d="M329.54,434Q333.14,437.47 337.34,436.8" fill="none" stroke="#6a6a50" stroke-width="3.3" stroke-linecap="round"/><path d="M329.54,434Q333.14,437.47 337.34,436.8" fill="none" stroke="#e8dc10" stroke-width="2.6" stroke-linecap="round"/><path d="M328.98,440Q332.57,443.47 336.77,442.8" fill="none" stroke="#6a6a50" stroke-width="3.3" stroke-linecap="round"/><path d="M328.98,440Q332.57,443.47 336.77,442.8" fill="none" stroke="#f7ee30" stroke-width="2.6" stroke-linecap="round"/><path d="M328.41,446Q332.01,449.47 336.21,448.8" fill="none" stroke="#6a6a50" stroke-width="3.3" stroke-linecap="round"/><path d="M328.41,446Q332.01,449.47 336.21,448.8" fill="none" stroke="#d8ecf8" stroke-width="2.6" stroke-linecap="round"/><path d="M327.85,452Q331.45,455.47 335.65,454.8" fill="none" stroke="#6a6a50" stroke-width="3.3" stroke-linecap="round"/><path d="M327.85,452Q331.45,455.47 335.65,454.8" fill="none" stroke="#f9f080" stroke-width="2.6" stroke-linecap="round"/><path d="M327.29,458Q330.89,461.47 335.09,460.8" fill="none" stroke="#6a6a50" stroke-width="3.3" stroke-linecap="round"/><path d="M327.29,458Q330.89,461.47 335.09,460.8" fill="none" stroke="#f5e800" stroke-width="2.6" stroke-linecap="round"/><path d="M326.73,464Q330.32,467.47 334.52,466.8" fill="none" stroke="#6a6a50" stroke-width="3.3" stroke-linecap="round"/><path d="M326.73,464Q330.32,467.47 334.52,466.8" fill="none" stroke="#eeeeaa" stroke-width="2.6" stroke-linecap="round"/><path d="M326.16,470Q329.76,473.47 333.96,472.8" fill="none" stroke="#6a6a50" stroke-width="3.3" stroke-linecap="round"/><path d="M326.16,470Q329.76,473.47 333.96,472.8" fill="none" stroke="#f5e800" stroke-width="2.6" stroke-linecap="round"/><path d="M348.4,428.8Q344.5,429.08 340.6,431.6" fill="none" stroke="#6a6a50" stroke-width="2.2" stroke-linecap="round"/><path d="M348.4,428.8Q344.5,429.08 340.6,431.6" fill="none" stroke="#a8d8f4" stroke-width="1.5" stroke-linecap="round"/><path d="M347.9,434.8Q344,435.08 340.1,437.6" fill="none" stroke="#6a6a50" stroke-width="2.2" stroke-linecap="round"/><path d="M347.9,434.8Q344,435.08 340.1,437.6" fill="none" stroke="#d8ecf8" stroke-width="1.5" stroke-linecap="round"/><path d="M347.4,440.8Q343.5,441.08 339.6,443.6" fill="none" stroke="#6a6a50" stroke-width="2.2" stroke-linecap="round"/><path d="M347.4,440.8Q343.5,441.08 339.6,443.6" fill="none" stroke="#a8d8f4" stroke-width="1.5" stroke-linecap="round"/><path d="M346.9,446.8Q343,447.08 339.1,449.6" fill="none" stroke="#6a6a50" stroke-width="2.2" stroke-linecap="round"/><path d="M346.9,446.8Q343,447.08 339.1,449.6" fill="none" stroke="#ffffff" stroke-width="1.5" stroke-linecap="round"/><path d="M346.4,452.8Q342.5,453.08 338.6,455.6" fill="none" stroke="#6a6a50" stroke-width="2.2" stroke-linecap="round"/><path d="M346.4,452.8Q342.5,453.08 338.6,455.6" fill="none" stroke="#f4f0c0" stroke-width="1.5" stroke-linecap="round"/><path d="M345.9,458.8Q342,459.08 338.1,461.6" fill="none" stroke="#6a6a50" stroke-width="2.2" stroke-linecap="round"/><path d="M345.9,458.8Q342,459.08 338.1,461.6" fill="none" stroke="#f4f0c0" stroke-width="1.5" stroke-linecap="round"/><path d="M345.4,464.8Q341.5,465.08 337.6,467.6" fill="none" stroke="#6a6a50" stroke-width="2.2" stroke-linecap="round"/><path d="M345.4,464.8Q341.5,465.08 337.6,467.6" fill="none" stroke="#a8d8f4" stroke-width="1.5" stroke-linecap="round"/><path d="M344.9,470.8Q341,471.08 337.1,473.6" fill="none" stroke="#6a6a50" stroke-width="2.2" stroke-linecap="round"/><path d="M344.9,470.8Q341,471.08 337.1,473.6" fill="none" stroke="#ffffff" stroke-width="1.5" stroke-linecap="round"/><path d="M340.6,426Q344.2,429.47 348.4,428.8" fill="none" stroke="#6a6a50" stroke-width="3.3" stroke-linecap="round"/><path d="M340.6,426Q344.2,429.47 348.4,428.8" fill="none" stroke="#a8d8f4" stroke-width="2.6" stroke-linecap="round"/><path d="M340.1,432Q343.7,435.47 347.9,434.8" fill="none" stroke="#6a6a50" stroke-width="3.3" stroke-linecap="round"/><path d="M340.1,432Q343.7,435.47 347.9,434.8" fill="none" stroke="#f5e800" stroke-width="2.6" stroke-linecap="round"/><path d="M339.6,438Q343.2,441.47 347.4,440.8" fill="none" stroke="#6a6a50" stroke-width="3.3" stroke-linecap="round"/><path d="M339.6,438Q343.2,441.47 347.4,440.8" fill="none" stroke="#f5e800" stroke-width="2.6" stroke-linecap="round"/><path d="M339.1,444Q342.7,447.47 346.9,446.8" fill="none" stroke="#6a6a50" stroke-width="3.3" stroke-linecap="round"/><path d="M339.1,444Q342.7,447.47 346.9,446.8" fill="none" stroke="#a8d8f4" stroke-width="2.6" stroke-linecap="round"/><path d="M338.6,450Q342.2,453.47 346.4,452.8" fill="none" stroke="#6a6a50" stroke-width="3.3" stroke-linecap="round"/><path d="M338.6,450Q342.2,453.47 346.4,452.8" fill="none" stroke="#f9f080" stroke-width="2.6" stroke-linecap="round"/><path d="M338.1,456Q341.7,459.47 345.9,458.8" fill="none" stroke="#6a6a50" stroke-width="3.3" stroke-linecap="round"/><path d="M338.1,456Q341.7,459.47 345.9,458.8" fill="none" stroke="#f5e800" stroke-width="2.6" stroke-linecap="round"/><path d="M337.6,462Q341.2,465.47 345.4,464.8" fill="none" stroke="#6a6a50" stroke-width="3.3" stroke-linecap="round"/><path d="M337.6,462Q341.2,465.47 345.4,464.8" fill="none" stroke="#f7ee30" stroke-width="2.6" stroke-linecap="round"/><path d="M337.1,468Q340.7,471.47 344.9,470.8" fill="none" stroke="#6a6a50" stroke-width="3.3" stroke-linecap="round"/><path d="M337.1,468Q340.7,471.47 344.9,470.8" fill="none" stroke="#f5e800" stroke-width="2.6" stroke-linecap="round"/><path d="M358.4,424.8Q354.5,425.08 350.6,427.6" fill="none" stroke="#6a6a50" stroke-width="2.2" stroke-linecap="round"/><path d="M358.4,424.8Q354.5,425.08 350.6,427.6" fill="none" stroke="#eeeeaa" stroke-width="1.5" stroke-linecap="round"/><path d="M358.15,430.68Q354.25,430.95 350.35,433.48" fill="none" stroke="#6a6a50" stroke-width="2.2" stroke-linecap="round"/><path d="M358.15,430.68Q354.25,430.95 350.35,433.48" fill="none" stroke="#d8ecf8" stroke-width="1.5" stroke-linecap="round"/><path d="M357.9,436.55Q354,436.83 350.1,439.35" fill="none" stroke="#6a6a50" stroke-width="2.2" stroke-linecap="round"/><path d="M357.9,436.55Q354,436.83 350.1,439.35" fill="none" stroke="#ffffff" stroke-width="1.5" stroke-linecap="round"/><path d="M357.65,442.43Q353.75,442.7 349.85,445.23" fill="none" stroke="#6a6a50" stroke-width="2.2" stroke-linecap="round"/><path d="M357.65,442.43Q353.75,442.7 349.85,445.23" fill="none" stroke="#eeeeaa" stroke-width="1.5" stroke-linecap="round"/><path d="M357.4,448.3Q353.5,448.58 349.6,451.1" fill="none" stroke="#6a6a50" stroke-width="2.2" stroke-linecap="round"/><path d="M357.4,448.3Q353.5,448.58 349.6,451.1" fill="none" stroke="#ffffff" stroke-width="1.5" stroke-linecap="round"/><path d="M357.15,454.18Q353.25,454.45 349.35,456.98" fill="none" stroke="#6a6a50" stroke-width="2.2" stroke-linecap="round"/><path d="M357.15,454.18Q353.25,454.45 349.35,456.98" fill="none" stroke="#ffffff" stroke-width="1.5" stroke-linecap="round"/><path d="M356.9,460.05Q353,460.33 349.1,462.85" fill="none" stroke="#6a6a50" stroke-width="2.2" stroke-linecap="round"/><path d="M356.9,460.05Q353,460.33 349.1,462.85" fill="none" stroke="#eeeeaa" stroke-width="1.5" stroke-linecap="round"/><path d="M356.65,465.93Q352.75,466.2 348.85,468.73" fill="none" stroke="#6a6a50" stroke-width="2.2" stroke-linecap="round"/><path d="M356.65,465.93Q352.75,466.2 348.85,468.73" fill="none" stroke="#d8ecf8" stroke-width="1.5" stroke-linecap="round"/><path d="M350.6,422Q354.2,425.47 358.4,424.8" fill="none" stroke="#6a6a50" stroke-width="3.3" stroke-linecap="round"/><path d="M350.6,422Q354.2,425.47 358.4,424.8" fill="none" stroke="#ffffff" stroke-width="2.6" stroke-linecap="round"/><path d="M350.35,427.88Q353.95,431.35 358.15,430.68" fill="none" stroke="#6a6a50" stroke-width="3.3" stroke-linecap="round"/><path d="M350.35,427.88Q353.95,431.35 358.15,430.68" fill="none" stroke="#f9f080" stroke-width="2.6" stroke-linecap="round"/><path d="M350.1,433.75Q353.7,437.22 357.9,436.55" fill="none" stroke="#6a6a50" stroke-width="3.3" stroke-linecap="round"/><path d="M350.1,433.75Q353.7,437.22 357.9,436.55" fill="none" stroke="#f5e800" stroke-width="2.6" stroke-linecap="round"/><path d="M349.85,439.62Q353.45,443.1 357.65,442.43" fill="none" stroke="#6a6a50" stroke-width="3.3" stroke-linecap="round"/><path d="M349.85,439.62Q353.45,443.1 357.65,442.43" fill="none" stroke="#efe000" stroke-width="2.6" stroke-linecap="round"/><path d="M349.6,445.5Q353.2,448.97 357.4,448.3" fill="none" stroke="#6a6a50" stroke-width="3.3" stroke-linecap="round"/><path d="M349.6,445.5Q353.2,448.97 357.4,448.3" fill="none" stroke="#a8d8f4" stroke-width="2.6" stroke-linecap="round"/><path d="M349.35,451.38Q352.95,454.85 357.15,454.18" fill="none" stroke="#6a6a50" stroke-width="3.3" stroke-linecap="round"/><path d="M349.35,451.38Q352.95,454.85 357.15,454.18" fill="none" stroke="#f7ee30" stroke-width="2.6" stroke-linecap="round"/><path d="M349.1,457.25Q352.7,460.72 356.9,460.05" fill="none" stroke="#6a6a50" stroke-width="3.3" stroke-linecap="round"/><path d="M349.1,457.25Q352.7,460.72 356.9,460.05" fill="none" stroke="#f5e800" stroke-width="2.6" stroke-linecap="round"/><path d="M348.85,463.12Q352.45,466.6 356.65,465.93" fill="none" stroke="#6a6a50" stroke-width="3.3" stroke-linecap="round"/><path d="M348.85,463.12Q352.45,466.6 356.65,465.93" fill="none" stroke="#f7ee30" stroke-width="2.6" stroke-linecap="round"/></g>
<defs><linearGradient id="gbwr" x1="0" x2="1" y1="0" y2="0"><stop offset="0" stop-color="#0000ff"/><stop offset="0.8" stop-color="#ffffff"/><stop offset="1" stop-color="#ff0000"/></linearGradient><linearGradient id="ghyd" x1="0" x2="1" y1="0" y2="0"><stop offset="0" stop-color="#1e96ff"/><stop offset="0.35" stop-color="#ffffff"/><stop offset="1" stop-color="#f7ec6a"/></linearGradient></defs>
<rect x="291.2" y="535.1" width="86.6" height="9.8" fill="url(#gbwr)" stroke="#777" stroke-width="0.4"/>
<rect x="421.3" y="535.1" width="85.3" height="9.8" fill="url(#ghyd)" stroke="#777" stroke-width="0.4"/>
<text x="291.7" y="554.5" text-anchor="middle" font-size="7.3">0.6</text>
<text x="360.9" y="554.5" text-anchor="middle" font-size="7.3">1.0</text>
<text x="377.7" y="554.5" text-anchor="middle" font-size="7.3">1.1</text>
<text x="419.8" y="554.5" text-anchor="middle" font-size="7.3">−0.4</text>
<text x="450.7" y="554.5" text-anchor="middle" font-size="7.3">0</text>
<text x="502.8" y="554.5" text-anchor="middle" font-size="7.3">0.7</text>
<text x="334.7" y="567.6" text-anchor="middle" textLength="87.4" lengthAdjust="spacingAndGlyphs">Median position value</text>
<text x="463.8" y="567.6" text-anchor="middle" textLength="82.3" lengthAdjust="spacingAndGlyphs">Hydrophobicity corr.</text>
<path d="M289,635.4 290.41,635.13 292.44,634.76 294.66,634.28 296.6,633.7 298.16,632.93 299.57,632.01 300.92,631.08 302.3,630.3 303.64,629.67 304.92,629.14 306.31,628.71 308,628.4 310.09,628.24 312.46,628.2 314.96,628.26 317.4,628.4 319.86,628.72 322.38,629.19 324.79,629.6 326.9,629.7 328.59,629.5 329.99,629.1 331.26,628.43 332.6,627.4 334,625.94 335.39,624.1 336.8,622.04 338.3,619.9 339.95,617.67 341.71,615.27 343.44,612.82 345,610.4 346.31,608 347.47,605.59 348.56,603.21 349.7,600.9 350.92,598.4 352.16,595.77 353.37,593.56 354.5,592.3 355.5,592.09 356.41,592.65 357.31,593.99 358.3,596.1 359.41,599.26 360.59,603.38 361.8,607.9 363,612.3 364.2,616.77 365.41,621.47 366.59,625.85 367.7,629.3 368.69,631.58 369.59,633.02 370.5,633.95 371.5,634.7 372.74,635.22 374.14,635.39 375.41,635.38 376.3,635.4" fill="none" stroke="#7f7f7f" stroke-width="0.7"/>
<path d="M283.3,635.4 284.71,635.23 286.74,634.99 288.96,634.63 290.9,634.1 292.44,633.39 293.81,632.53 295.16,631.51 296.6,630.3 298.18,628.77 299.84,626.98 301.52,625.2 303.2,623.7 304.89,622.52 306.61,621.53 308.3,620.74 309.9,620.2 311.38,619.96 312.76,619.99 314.12,620.18 315.5,620.4 316.92,620.65 318.34,620.99 319.77,621.39 321.2,621.8 322.62,622.37 324.05,623.07 325.47,623.61 326.9,623.7 328.32,623.26 329.75,622.46 331.18,621.32 332.6,619.9 334,618.03 335.39,615.74 336.8,613.39 338.3,611.3 339.95,609.42 341.71,607.62 343.44,606.14 345,605.2 346.29,604.86 347.41,604.99 348.5,605.58 349.7,606.6 351.05,608.18 352.49,610.29 353.95,612.68 355.4,615.1 356.82,617.63 358.25,620.36 359.68,623.05 361.1,625.5 362.53,627.73 363.95,629.82 365.38,631.65 366.8,633.1 368.11,634.06 369.36,634.61 370.74,634.94 372.5,635.2 375.01,635.39 378.06,635.43 380.92,635.41 382.9,635.4" fill="none" stroke="#33a033" stroke-width="1.1"/>
<path d="M410.9,635.4 412.95,635.09 415.89,634.66 419.18,634.03 422.3,633.1 425.24,631.82 428.24,630.25 431.12,628.45 433.7,626.5 435.89,624.26 437.81,621.75 439.54,619.24 441.2,617 442.71,615.12 444.04,613.46 445.38,611.92 446.9,610.4 448.67,608.71 450.58,606.96 452.56,605.51 454.5,604.7 456.4,604.76 458.3,605.44 460.2,606.46 462.1,607.5 464,608.62 465.9,609.92 467.8,611.22 469.7,612.3 471.6,613.16 473.5,613.89 475.4,614.43 477.3,614.7 479.24,614.48 481.22,613.86 483.13,613.29 484.9,613.2 486.46,613.58 487.87,614.24 489.22,615.33 490.6,617 492.03,619.62 493.45,623.01 494.88,626.46 496.3,629.3 497.86,631.4 499.51,633.12 500.98,634.45 502,635.4" fill="none" stroke="#7f7f7f" stroke-width="0.7"/>
<path d="M414.7,635.4 416.75,635.16 419.69,634.83 422.99,634.35 426.1,633.7 428.97,632.84 431.87,631.81 434.7,630.62 437.4,629.3 439.95,627.78 442.38,626.08 444.7,624.34 446.9,622.7 448.93,621.12 450.82,619.56 452.64,618.14 454.5,617 456.4,616.37 458.3,616.11 460.2,615.82 462.1,615.1 464,613.78 465.9,612.1 467.8,610.27 469.7,608.5 471.64,606.83 473.62,605.15 475.53,603.47 477.3,601.8 478.93,600.06 480.47,598.26 481.84,596.59 483,595.2 483.83,594.08 484.41,593.16 484.9,592.53 485.5,592.3 486.28,592.6 487.14,593.33 487.97,594.28 488.7,595.2 489.23,595.78 489.64,596.22 490.05,597.1 490.6,599 491.3,602.36 492.1,606.79 493,611.57 494,616 495.12,620.18 496.34,624.4 497.67,628.22 499.1,631.2 500.82,633.12 502.77,634.25 504.56,634.9 505.8,635.4" fill="none" stroke="#33a033" stroke-width="1.1"/>
<rect x="279" y="590.5" width="109" height="44.8" fill="none" stroke="#4d4d4d" stroke-width="0.7"/>
<rect x="404.8" y="590.5" width="108.9" height="44.8" fill="none" stroke="#4d4d4d" stroke-width="0.7"/>
<line x1="296.6" y1="635.3" x2="296.6" y2="637.8" stroke="#333" stroke-width="0.6"/>
<text x="296.6" y="648" text-anchor="middle" font-size="7.3">0</text>
<line x1="327.25" y1="635.3" x2="327.25" y2="637.8" stroke="#333" stroke-width="0.6"/>
<text x="327.25" y="648" text-anchor="middle" font-size="7.3">0.5</text>
<line x1="357.9" y1="635.3" x2="357.9" y2="637.8" stroke="#333" stroke-width="0.6"/>
<text x="357.9" y="648" text-anchor="middle" font-size="7.3">1.0</text>
<line x1="418" y1="635.3" x2="418" y2="637.8" stroke="#333" stroke-width="0.6"/>
<text x="418" y="648" text-anchor="middle" font-size="7.3">−1</text>
<line x1="456.4" y1="635.3" x2="456.4" y2="637.8" stroke="#333" stroke-width="0.6"/>
<text x="456.4" y="648" text-anchor="middle" font-size="7.3">0</text>
<line x1="494.8" y1="635.3" x2="494.8" y2="637.8" stroke="#333" stroke-width="0.6"/>
<text x="494.8" y="648" text-anchor="middle" font-size="7.3">1</text>
<text x="274.2" y="612.6" text-anchor="middle" font-size="8.5" transform="rotate(-90 274.2 612.6)">Density</text>
<text x="400.4" y="612.6" text-anchor="middle" font-size="8.5" transform="rotate(-90 400.4 612.6)">Density</text>
<text x="307.3" y="616.3" text-anchor="middle">TM</text>
<text x="371" y="607.8" text-anchor="middle">All</text>
<text x="437.4" y="609.3" text-anchor="middle">All</text>
<text x="498" y="604" text-anchor="middle">TM</text>
<text x="333.6" y="660" text-anchor="middle" textLength="88" lengthAdjust="spacingAndGlyphs">Position median score</text>
<text x="459.5" y="660.3" text-anchor="middle" textLength="71.9" lengthAdjust="spacingAndGlyphs">Position corr. with</text>
<text x="459.1" y="670.3" text-anchor="middle" textLength="60.4" lengthAdjust="spacingAndGlyphs">hydrophobicity</text>
<text x="524.2" y="383.7" font-weight="bold" font-size="13" fill="#000">i</text>
<line x1="576.2" y1="470.2" x2="678.2" y2="388.4" stroke="#f03a35" stroke-width="1.1"/>
<line x1="576.2" y1="475.2" x2="576.2" y2="485.2" stroke="#222" stroke-width="0.8"/>
<circle cx="576.2" cy="480.2" r="1.9" fill="#111"/>
<line x1="588" y1="460" x2="588" y2="475" stroke="#222" stroke-width="0.8"/>
<circle cx="588" cy="467.5" r="1.9" fill="#111"/>
<line x1="586.4" y1="449" x2="586.4" y2="458.4" stroke="#222" stroke-width="0.8"/>
<circle cx="586.4" cy="453.7" r="1.9" fill="#111"/>
<line x1="596.4" y1="450.9" x2="596.4" y2="468.9" stroke="#222" stroke-width="0.8"/>
<circle cx="596.4" cy="459.9" r="1.9" fill="#111"/>
<line x1="599.1" y1="447.6" x2="599.1" y2="450.6" stroke="#222" stroke-width="0.8"/>
<circle cx="599.1" cy="449.1" r="1.9" fill="#111"/>
<line x1="616.7" y1="425.8" x2="616.7" y2="428.2" stroke="#222" stroke-width="0.8"/>
<circle cx="616.7" cy="427" r="1.9" fill="#111"/>
<line x1="621" y1="422.8" x2="621" y2="426.8" stroke="#222" stroke-width="0.8"/>
<circle cx="621" cy="424.8" r="1.9" fill="#111"/>
<line x1="634.5" y1="415.1" x2="634.5" y2="421.1" stroke="#222" stroke-width="0.8"/>
<circle cx="634.5" cy="418.1" r="1.9" fill="#111"/>
<line x1="639.6" y1="426.6" x2="639.6" y2="429.6" stroke="#222" stroke-width="0.8"/>
<circle cx="639.6" cy="428.1" r="1.9" fill="#111"/>
<line x1="677.7" y1="392.3" x2="677.7" y2="396.3" stroke="#222" stroke-width="0.8"/>
<circle cx="677.7" cy="394.3" r="1.9" fill="#111"/>
<text x="580.3" y="485.2" font-size="6.8">Y205G</text>
<text x="590.5" y="473.6" font-size="6.8">L336G</text>
<text x="602" y="460.9" font-size="6.8">L336S</text>
<text x="574.5" y="446" font-size="6.8">L336R</text>
<text x="604.5" y="450.3" font-size="6.8">Y205D</text>
<text x="592.6" y="429.3" font-size="6.8">V332W</text>
<text x="600.7" y="421.2" font-size="6.8">V332Y</text>
<text x="624.8" y="411.4" font-size="6.8">V332G</text>
<text x="642.6" y="433.9" font-size="6.8">P144V</text>
<text x="661.5" y="407.7" font-size="6.8">P144H</text>
<text x="648" y="486.6" textLength="31.6" lengthAdjust="spacingAndGlyphs">R = 0.95</text>
<rect x="570.8" y="383.8" width="112.3" height="106.6" fill="none" stroke="#4d4d4d" stroke-width="0.7"/>
<line x1="568.3" y1="392.9" x2="570.8" y2="392.9" stroke="#333" stroke-width="0.6"/>
<text x="564.7" y="395.6" text-anchor="end" font-size="7.8">1.0</text>
<line x1="568.3" y1="413.32" x2="570.8" y2="413.32" stroke="#333" stroke-width="0.6"/>
<text x="564.7" y="416.02" text-anchor="end" font-size="7.8">0.8</text>
<line x1="568.3" y1="433.74" x2="570.8" y2="433.74" stroke="#333" stroke-width="0.6"/>
<text x="564.7" y="436.44" text-anchor="end" font-size="7.8">0.6</text>
<line x1="568.3" y1="454.16" x2="570.8" y2="454.16" stroke="#333" stroke-width="0.6"/>
<text x="564.7" y="456.86" text-anchor="end" font-size="7.8">0.4</text>
<line x1="568.3" y1="474.58" x2="570.8" y2="474.58" stroke="#333" stroke-width="0.6"/>
<text x="564.7" y="477.28" text-anchor="end" font-size="7.8">0.2</text>
<line x1="587.8" y1="490.4" x2="587.8" y2="492.9" stroke="#333" stroke-width="0.6"/>
<text x="587.8" y="503" text-anchor="middle" font-size="7.3">1,000</text>
<line x1="616.15" y1="490.4" x2="616.15" y2="492.9" stroke="#333" stroke-width="0.6"/>
<text x="616.15" y="503" text-anchor="middle" font-size="7.3">2,000</text>
<line x1="644.5" y1="490.4" x2="644.5" y2="492.9" stroke="#333" stroke-width="0.6"/>
<text x="644.5" y="503" text-anchor="middle" font-size="7.3">3,000</text>
<line x1="672.85" y1="490.4" x2="672.85" y2="492.9" stroke="#333" stroke-width="0.6"/>
<text x="672.85" y="503" text-anchor="middle" font-size="7.3">4,000</text>
<text x="626.9" y="515.7" text-anchor="middle" textLength="86.5" lengthAdjust="spacingAndGlyphs">Individual FACS (a.u.)</text>
<text x="547.8" y="437" text-anchor="middle" textLength="70.5" lengthAdjust="spacingAndGlyphs" transform="rotate(-90 547.8 437)">Multiplexed score</text>
<text x="524" y="548.6" font-weight="bold" font-size="13" fill="#000">j</text>
<line x1="565.5" y1="571.5" x2="684.4" y2="571.5" stroke="#bdbdbd" stroke-width="0.7" stroke-dasharray="3,2.5"/>
<line x1="565.5" y1="622.9" x2="684.4" y2="622.9" stroke="#bdbdbd" stroke-width="0.7" stroke-dasharray="3,2.5"/>
<path d="M595.6,559.6 596.14,560.36 596.9,561.45 597.79,562.7 598.72,563.94 599.6,565 600.4,565.82 601.19,566.53 602,567.19 602.85,567.88 603.8,568.7 604.88,569.61 606.08,570.56 607.32,571.58 608.52,572.72 609.6,574 610.67,575.54 611.77,577.32 612.77,579.16 613.49,580.91 613.8,582.4 613.56,583.58 612.88,584.56 611.95,585.41 610.96,586.2 610.1,587 609.4,587.77 608.74,588.47 608.06,589.15 607.33,589.84 606.5,590.6 605.48,591.45 604.3,592.37 603.09,593.3 601.98,594.2 601.1,595 600.48,595.63 600.04,596.11 599.73,596.58 599.47,597.17 599.2,598 598.93,599.16 598.71,600.56 598.51,602.08 598.35,603.6 598.2,605 598.09,606.28 598.02,607.52 597.96,608.72 597.9,609.88 597.8,611 597.68,612.07 597.54,613.09 597.38,614.07 597.2,615.04 597,616 596.74,617.03 596.42,618.13 596.09,619.17 595.8,620.07 595.6,620.7 595.6,620.7 595.4,620.07 595.11,619.17 594.78,618.13 594.46,617.03 594.2,616 594,615.04 593.82,614.07 593.66,613.09 593.52,612.07 593.4,611 593.3,609.88 593.24,608.72 593.18,607.52 593.11,606.28 593,605 592.85,603.6 592.69,602.08 592.49,600.56 592.27,599.16 592,598 591.73,597.17 591.47,596.58 591.16,596.11 590.72,595.63 590.1,595 589.22,594.2 588.11,593.3 586.9,592.37 585.72,591.45 584.7,590.6 583.87,589.84 583.14,589.15 582.46,588.47 581.8,587.77 581.1,587 580.24,586.2 579.25,585.41 578.32,584.56 577.64,583.58 577.4,582.4 577.71,580.91 578.43,579.16 579.43,577.32 580.53,575.54 581.6,574 582.68,572.72 583.88,571.58 585.12,570.56 586.32,569.61 587.4,568.7 588.35,567.88 589.2,567.19 590.01,566.53 590.8,565.82 591.6,565 592.48,563.94 593.41,562.7 594.3,561.45 595.06,560.36 595.6,559.6Z" fill="#ffffff" stroke="#8a8a8a" stroke-width="0.6"/>
<path d="M654.9,555 655.2,555.37 655.56,555.88 656.07,556.5 656.82,557.21 657.9,558 659.47,558.92 661.48,559.99 663.68,561.12 665.83,562.21 667.7,563.2 669.28,564.02 670.72,564.74 672.05,565.43 673.27,566.16 674.4,567 675.58,567.98 676.81,569.04 677.87,570.16 678.54,571.29 678.6,572.4 677.85,573.53 676.44,574.71 674.67,575.87 672.85,576.92 671.3,577.8 669.99,578.37 668.71,578.68 667.5,578.93 666.38,579.3 665.4,580 664.6,581.11 663.98,582.5 663.43,584.04 662.87,585.59 662.2,587 661.36,588.28 660.41,589.52 659.45,590.72 658.58,591.88 657.9,593 657.46,594.03 657.18,594.98 657.01,595.9 656.87,596.89 656.7,598 656.49,599.18 656.29,600.37 656.1,601.67 655.94,603.18 655.8,605 655.71,607.22 655.65,609.78 655.61,612.53 655.57,615.32 655.5,618 655.39,620.78 655.25,623.75 655.11,626.61 654.99,629.06 654.9,630.8 654.9,630.8 654.81,629.06 654.69,626.61 654.55,623.75 654.41,620.78 654.3,618 654.23,615.32 654.19,612.53 654.15,609.78 654.09,607.22 654,605 653.86,603.18 653.7,601.67 653.51,600.37 653.31,599.18 653.1,598 652.93,596.89 652.79,595.9 652.62,594.98 652.34,594.03 651.9,593 651.22,591.88 650.35,590.72 649.39,589.52 648.44,588.28 647.6,587 646.93,585.59 646.37,584.04 645.82,582.5 645.2,581.11 644.4,580 643.42,579.3 642.3,578.93 641.09,578.68 639.81,578.37 638.5,577.8 636.95,576.92 635.13,575.87 633.36,574.71 631.95,573.53 631.2,572.4 631.26,571.29 631.93,570.16 632.99,569.04 634.22,567.98 635.4,567 636.53,566.16 637.75,565.43 639.08,564.74 640.52,564.02 642.1,563.2 643.97,562.21 646.12,561.12 648.32,559.99 650.33,558.92 651.9,558 652.98,557.21 653.73,556.5 654.24,555.88 654.6,555.37 654.9,555Z" fill="#ffffff" stroke="#8a8a8a" stroke-width="0.6"/>
<line x1="595.6" y1="569" x2="595.6" y2="603" stroke="#9a9a9a" stroke-width="0.8"/>
<line x1="654.9" y1="560" x2="654.9" y2="630" stroke="#c4c4c4" stroke-width="1"/>
<circle cx="597.05" cy="580.64" r="0.95" fill="#f4845f" fill-opacity="0.8"/>
<circle cx="592.23" cy="581.17" r="0.95" fill="#f4845f" fill-opacity="0.8"/>
<circle cx="600.31" cy="569.04" r="0.95" fill="#f4845f" fill-opacity="0.8"/>
<circle cx="597.49" cy="578.21" r="0.95" fill="#f4845f" fill-opacity="0.8"/>
<circle cx="598.98" cy="581.51" r="0.95" fill="#f4845f" fill-opacity="0.8"/>
<circle cx="592.82" cy="575.4" r="0.95" fill="#f4845f" fill-opacity="0.8"/>
<circle cx="598.66" cy="572.39" r="0.95" fill="#f4845f" fill-opacity="0.8"/>
<circle cx="601.5" cy="579.07" r="0.95" fill="#f4845f" fill-opacity="0.8"/>
<circle cx="601.7" cy="574.05" r="0.95" fill="#f4845f" fill-opacity="0.8"/>
<circle cx="602.12" cy="579.96" r="0.95" fill="#f4845f" fill-opacity="0.8"/>
<circle cx="595.7" cy="578.53" r="0.95" fill="#f4845f" fill-opacity="0.8"/>
<circle cx="596.78" cy="585.61" r="0.95" fill="#f4845f" fill-opacity="0.8"/>
<circle cx="601.61" cy="580.5" r="0.95" fill="#f4845f" fill-opacity="0.8"/>
<circle cx="600.65" cy="575.66" r="0.95" fill="#f4845f" fill-opacity="0.8"/>
<circle cx="596.57" cy="582.13" r="0.95" fill="#f4845f" fill-opacity="0.8"/>
<circle cx="592.59" cy="579.9" r="0.95" fill="#f4845f" fill-opacity="0.8"/>
<circle cx="589.84" cy="572.68" r="0.95" fill="#f4845f" fill-opacity="0.8"/>
<circle cx="590.71" cy="574.25" r="0.95" fill="#f4845f" fill-opacity="0.8"/>
<circle cx="589.22" cy="574.87" r="0.95" fill="#f4845f" fill-opacity="0.8"/>
<circle cx="600.93" cy="575.49" r="0.95" fill="#f4845f" fill-opacity="0.8"/>
<circle cx="602.58" cy="579.96" r="0.95" fill="#f4845f" fill-opacity="0.8"/>
<circle cx="589.04" cy="592.65" r="0.95" fill="#f4845f" fill-opacity="0.8"/>
<circle cx="590.79" cy="584.15" r="0.95" fill="#f4845f" fill-opacity="0.8"/>
<circle cx="602.02" cy="572.33" r="0.95" fill="#f4845f" fill-opacity="0.8"/>
<circle cx="597.61" cy="585.07" r="0.95" fill="#f4845f" fill-opacity="0.8"/>
<circle cx="597.28" cy="578.61" r="0.95" fill="#f4845f" fill-opacity="0.8"/>
<circle cx="591.93" cy="586.14" r="0.95" fill="#f4845f" fill-opacity="0.8"/>
<circle cx="596.28" cy="569.5" r="0.95" fill="#f4845f" fill-opacity="0.8"/>
<circle cx="588.88" cy="583.96" r="0.95" fill="#f4845f" fill-opacity="0.8"/>
<circle cx="589.44" cy="581.97" r="0.95" fill="#f4845f" fill-opacity="0.8"/>
<circle cx="598.5" cy="587.84" r="0.95" fill="#f4845f" fill-opacity="0.8"/>
<circle cx="598.06" cy="611.69" r="0.95" fill="#f4845f" fill-opacity="0.8"/>
<circle cx="593.08" cy="581.81" r="0.95" fill="#f4845f" fill-opacity="0.8"/>
<circle cx="596.94" cy="586.59" r="0.95" fill="#f4845f" fill-opacity="0.8"/>
<circle cx="588.98" cy="584.94" r="0.95" fill="#f4845f" fill-opacity="0.8"/>
<circle cx="592.94" cy="577.24" r="0.95" fill="#f4845f" fill-opacity="0.8"/>
<circle cx="591.22" cy="573.97" r="0.95" fill="#f4845f" fill-opacity="0.8"/>
<circle cx="593.27" cy="607.66" r="0.95" fill="#f4845f" fill-opacity="0.8"/>
<circle cx="593.31" cy="589.27" r="0.95" fill="#f4845f" fill-opacity="0.8"/>
<circle cx="594.92" cy="578.73" r="0.95" fill="#f4845f" fill-opacity="0.8"/>
<circle cx="591.27" cy="591.52" r="0.95" fill="#f4845f" fill-opacity="0.8"/>
<circle cx="599.9" cy="580.4" r="0.95" fill="#f4845f" fill-opacity="0.8"/>
<circle cx="593.43" cy="584" r="0.95" fill="#f4845f" fill-opacity="0.8"/>
<circle cx="592.4" cy="587.13" r="0.95" fill="#f4845f" fill-opacity="0.8"/>
<circle cx="594.33" cy="583.92" r="0.95" fill="#f4845f" fill-opacity="0.8"/>
<circle cx="600.92" cy="581.56" r="0.95" fill="#f4845f" fill-opacity="0.8"/>
<circle cx="601.9" cy="581.45" r="0.95" fill="#f4845f" fill-opacity="0.8"/>
<circle cx="597.88" cy="580.59" r="0.95" fill="#f4845f" fill-opacity="0.8"/>
<circle cx="591.78" cy="587.2" r="0.95" fill="#f4845f" fill-opacity="0.8"/>
<circle cx="599.94" cy="579.5" r="0.95" fill="#f4845f" fill-opacity="0.8"/>
<circle cx="601.53" cy="571.41" r="0.95" fill="#f4845f" fill-opacity="0.8"/>
<circle cx="596.68" cy="575.08" r="0.95" fill="#f4845f" fill-opacity="0.8"/>
<circle cx="592.8" cy="575.48" r="0.95" fill="#f4845f" fill-opacity="0.8"/>
<circle cx="597.17" cy="585.98" r="0.95" fill="#f4845f" fill-opacity="0.8"/>
<circle cx="595.28" cy="588.14" r="0.95" fill="#f4845f" fill-opacity="0.8"/>
<circle cx="591.36" cy="582.44" r="0.95" fill="#f4845f" fill-opacity="0.8"/>
<circle cx="599.68" cy="573.64" r="0.95" fill="#f4845f" fill-opacity="0.8"/>
<circle cx="600.68" cy="602.93" r="0.95" fill="#f4845f" fill-opacity="0.8"/>
<circle cx="595.98" cy="587.66" r="0.95" fill="#f4845f" fill-opacity="0.8"/>
<circle cx="588.63" cy="582.48" r="0.95" fill="#f4845f" fill-opacity="0.8"/>
<circle cx="602.25" cy="611.57" r="0.95" fill="#f4845f" fill-opacity="0.8"/>
<circle cx="593.02" cy="604.88" r="0.95" fill="#f4845f" fill-opacity="0.8"/>
<circle cx="596.81" cy="585.6" r="0.95" fill="#f4845f" fill-opacity="0.8"/>
<circle cx="590.33" cy="589.72" r="0.95" fill="#f4845f" fill-opacity="0.8"/>
<circle cx="593.83" cy="609.87" r="0.95" fill="#f4845f" fill-opacity="0.8"/>
<circle cx="593.92" cy="585.71" r="0.95" fill="#f4845f" fill-opacity="0.8"/>
<circle cx="595.55" cy="584.91" r="0.95" fill="#f4845f" fill-opacity="0.8"/>
<circle cx="598.32" cy="584.83" r="0.95" fill="#f4845f" fill-opacity="0.8"/>
<circle cx="598.33" cy="588.33" r="0.95" fill="#f4845f" fill-opacity="0.8"/>
<circle cx="600.92" cy="583.71" r="0.95" fill="#f4845f" fill-opacity="0.8"/>
<circle cx="592.27" cy="587.96" r="0.95" fill="#f4845f" fill-opacity="0.8"/>
<circle cx="597.87" cy="591.47" r="0.95" fill="#f4845f" fill-opacity="0.8"/>
<circle cx="597.95" cy="575.54" r="0.95" fill="#f4845f" fill-opacity="0.8"/>
<circle cx="588.67" cy="583.55" r="0.95" fill="#f4845f" fill-opacity="0.8"/>
<circle cx="589.99" cy="611.2" r="0.95" fill="#f4845f" fill-opacity="0.8"/>
<circle cx="588.93" cy="582.53" r="0.95" fill="#f4845f" fill-opacity="0.8"/>
<circle cx="600.31" cy="576.05" r="0.95" fill="#f4845f" fill-opacity="0.8"/>
<circle cx="599.78" cy="576.31" r="0.95" fill="#f4845f" fill-opacity="0.8"/>
<circle cx="598.61" cy="574.91" r="0.95" fill="#f4845f" fill-opacity="0.8"/>
<circle cx="589.46" cy="575.38" r="0.95" fill="#f4845f" fill-opacity="0.8"/>
<circle cx="651.29" cy="583.6" r="0.95" fill="#7f97d0" fill-opacity="0.8"/>
<circle cx="651.4" cy="579.01" r="0.95" fill="#7f97d0" fill-opacity="0.8"/>
<circle cx="653.04" cy="575.51" r="0.95" fill="#7f97d0" fill-opacity="0.8"/>
<circle cx="652.8" cy="580.24" r="0.95" fill="#7f97d0" fill-opacity="0.8"/>
<circle cx="661.52" cy="570.89" r="0.95" fill="#7f97d0" fill-opacity="0.8"/>
<circle cx="658.36" cy="572.89" r="0.95" fill="#7f97d0" fill-opacity="0.8"/>
<circle cx="657.33" cy="578.43" r="0.95" fill="#7f97d0" fill-opacity="0.8"/>
<circle cx="654.67" cy="582.85" r="0.95" fill="#7f97d0" fill-opacity="0.8"/>
<circle cx="649.24" cy="573.51" r="0.95" fill="#7f97d0" fill-opacity="0.8"/>
<circle cx="655.14" cy="566.15" r="0.95" fill="#7f97d0" fill-opacity="0.8"/>
<circle cx="657.96" cy="577.19" r="0.95" fill="#7f97d0" fill-opacity="0.8"/>
<circle cx="656.1" cy="575.95" r="0.95" fill="#7f97d0" fill-opacity="0.8"/>
<circle cx="651.15" cy="572.55" r="0.95" fill="#7f97d0" fill-opacity="0.8"/>
<circle cx="657.77" cy="571.9" r="0.95" fill="#7f97d0" fill-opacity="0.8"/>
<circle cx="659.85" cy="576.73" r="0.95" fill="#7f97d0" fill-opacity="0.8"/>
<circle cx="648.22" cy="575.96" r="0.95" fill="#7f97d0" fill-opacity="0.8"/>
<circle cx="653.26" cy="572.39" r="0.95" fill="#7f97d0" fill-opacity="0.8"/>
<circle cx="658.74" cy="578.22" r="0.95" fill="#7f97d0" fill-opacity="0.8"/>
<circle cx="661.78" cy="572.48" r="0.95" fill="#7f97d0" fill-opacity="0.8"/>
<circle cx="659.58" cy="579.84" r="0.95" fill="#7f97d0" fill-opacity="0.8"/>
<circle cx="654.64" cy="576.31" r="0.95" fill="#7f97d0" fill-opacity="0.8"/>
<circle cx="653.5" cy="567.84" r="0.95" fill="#7f97d0" fill-opacity="0.8"/>
<circle cx="654.44" cy="564.91" r="0.95" fill="#7f97d0" fill-opacity="0.8"/>
<circle cx="651.19" cy="578.64" r="0.95" fill="#7f97d0" fill-opacity="0.8"/>
<circle cx="661.32" cy="572.97" r="0.95" fill="#7f97d0" fill-opacity="0.8"/>
<circle cx="650.55" cy="585.22" r="0.95" fill="#7f97d0" fill-opacity="0.8"/>
<circle cx="659.92" cy="572.83" r="0.95" fill="#7f97d0" fill-opacity="0.8"/>
<circle cx="660.01" cy="584.85" r="0.95" fill="#7f97d0" fill-opacity="0.8"/>
<circle cx="653.83" cy="568.94" r="0.95" fill="#7f97d0" fill-opacity="0.8"/>
<circle cx="649.2" cy="589.63" r="0.95" fill="#7f97d0" fill-opacity="0.8"/>
<circle cx="652.89" cy="583.81" r="0.95" fill="#7f97d0" fill-opacity="0.8"/>
<circle cx="652.59" cy="575.86" r="0.95" fill="#7f97d0" fill-opacity="0.8"/>
<circle cx="654.7" cy="576.1" r="0.95" fill="#7f97d0" fill-opacity="0.8"/>
<circle cx="653.37" cy="585.54" r="0.95" fill="#7f97d0" fill-opacity="0.8"/>
<circle cx="649.57" cy="581.49" r="0.95" fill="#7f97d0" fill-opacity="0.8"/>
<circle cx="660.32" cy="576.76" r="0.95" fill="#7f97d0" fill-opacity="0.8"/>
<circle cx="661.08" cy="589.32" r="0.95" fill="#7f97d0" fill-opacity="0.8"/>
<circle cx="658.71" cy="577.56" r="0.95" fill="#7f97d0" fill-opacity="0.8"/>
<circle cx="657.36" cy="583.71" r="0.95" fill="#7f97d0" fill-opacity="0.8"/>
<circle cx="658.46" cy="574.36" r="0.95" fill="#7f97d0" fill-opacity="0.8"/>
<circle cx="655.41" cy="573.04" r="0.95" fill="#7f97d0" fill-opacity="0.8"/>
<circle cx="654.81" cy="579.02" r="0.95" fill="#7f97d0" fill-opacity="0.8"/>
<circle cx="655.83" cy="577" r="0.95" fill="#7f97d0" fill-opacity="0.8"/>
<circle cx="656.94" cy="582.44" r="0.95" fill="#7f97d0" fill-opacity="0.8"/>
<circle cx="657.08" cy="571.42" r="0.95" fill="#7f97d0" fill-opacity="0.8"/>
<circle cx="660.95" cy="566.84" r="0.95" fill="#7f97d0" fill-opacity="0.8"/>
<circle cx="656.26" cy="579.23" r="0.95" fill="#7f97d0" fill-opacity="0.8"/>
<circle cx="656.96" cy="569.17" r="0.95" fill="#7f97d0" fill-opacity="0.8"/>
<circle cx="648.86" cy="576.71" r="0.95" fill="#7f97d0" fill-opacity="0.8"/>
<circle cx="655.5" cy="570.73" r="0.95" fill="#7f97d0" fill-opacity="0.8"/>
<circle cx="651.62" cy="581.9" r="0.95" fill="#7f97d0" fill-opacity="0.8"/>
<circle cx="660.12" cy="572.95" r="0.95" fill="#7f97d0" fill-opacity="0.8"/>
<circle cx="658.66" cy="579.1" r="0.95" fill="#7f97d0" fill-opacity="0.8"/>
<circle cx="652.56" cy="575.72" r="0.95" fill="#7f97d0" fill-opacity="0.8"/>
<circle cx="652.84" cy="583.29" r="0.95" fill="#7f97d0" fill-opacity="0.8"/>
<circle cx="651.69" cy="588.89" r="0.95" fill="#7f97d0" fill-opacity="0.8"/>
<circle cx="649.48" cy="577.66" r="0.95" fill="#7f97d0" fill-opacity="0.8"/>
<circle cx="650.49" cy="571.5" r="0.95" fill="#7f97d0" fill-opacity="0.8"/>
<circle cx="659.32" cy="582.22" r="0.95" fill="#7f97d0" fill-opacity="0.8"/>
<circle cx="649.95" cy="575.33" r="0.95" fill="#7f97d0" fill-opacity="0.8"/>
<circle cx="650.61" cy="571.8" r="0.95" fill="#7f97d0" fill-opacity="0.8"/>
<circle cx="651.4" cy="578.44" r="0.95" fill="#7f97d0" fill-opacity="0.8"/>
<circle cx="659.14" cy="591.21" r="0.95" fill="#7f97d0" fill-opacity="0.8"/>
<circle cx="653.26" cy="565.22" r="0.95" fill="#7f97d0" fill-opacity="0.8"/>
<circle cx="656.06" cy="576.91" r="0.95" fill="#7f97d0" fill-opacity="0.8"/>
<circle cx="652.09" cy="568.64" r="0.95" fill="#7f97d0" fill-opacity="0.8"/>
<circle cx="656.32" cy="578.38" r="0.95" fill="#7f97d0" fill-opacity="0.8"/>
<circle cx="658.69" cy="591.99" r="0.95" fill="#7f97d0" fill-opacity="0.8"/>
<circle cx="654.79" cy="576.63" r="0.95" fill="#7f97d0" fill-opacity="0.8"/>
<circle cx="655.31" cy="578.55" r="0.95" fill="#7f97d0" fill-opacity="0.8"/>
<circle cx="654.91" cy="574.87" r="0.95" fill="#7f97d0" fill-opacity="0.8"/>
<circle cx="661.33" cy="581.23" r="0.95" fill="#7f97d0" fill-opacity="0.8"/>
<circle cx="658.99" cy="588.23" r="0.95" fill="#7f97d0" fill-opacity="0.8"/>
<circle cx="648.61" cy="573.56" r="0.95" fill="#7f97d0" fill-opacity="0.8"/>
<circle cx="655.44" cy="575.42" r="0.95" fill="#7f97d0" fill-opacity="0.8"/>
<circle cx="660.09" cy="582.93" r="0.95" fill="#7f97d0" fill-opacity="0.8"/>
<circle cx="649.78" cy="573.76" r="0.95" fill="#7f97d0" fill-opacity="0.8"/>
<circle cx="660.88" cy="575.07" r="0.95" fill="#7f97d0" fill-opacity="0.8"/>
<circle cx="652.71" cy="571.15" r="0.95" fill="#7f97d0" fill-opacity="0.8"/>
<circle cx="659.96" cy="565.72" r="0.95" fill="#7f97d0" fill-opacity="0.8"/>
<circle cx="649.43" cy="575.38" r="0.95" fill="#7f97d0" fill-opacity="0.8"/>
<circle cx="648.99" cy="580.94" r="0.95" fill="#7f97d0" fill-opacity="0.8"/>
<circle cx="657.69" cy="572.73" r="0.95" fill="#7f97d0" fill-opacity="0.8"/>
<circle cx="653.81" cy="571.02" r="0.95" fill="#7f97d0" fill-opacity="0.8"/>
<circle cx="658.5" cy="577.35" r="0.95" fill="#7f97d0" fill-opacity="0.8"/>
<circle cx="650.43" cy="570.74" r="0.95" fill="#7f97d0" fill-opacity="0.8"/>
<circle cx="653.04" cy="571.71" r="0.95" fill="#7f97d0" fill-opacity="0.8"/>
<circle cx="651.03" cy="581.74" r="0.95" fill="#7f97d0" fill-opacity="0.8"/>
<circle cx="650.83" cy="576.75" r="0.95" fill="#7f97d0" fill-opacity="0.8"/>
<circle cx="654.34" cy="588" r="0.95" fill="#7f97d0" fill-opacity="0.8"/>
<circle cx="653.55" cy="574.9" r="0.95" fill="#7f97d0" fill-opacity="0.8"/>
<circle cx="648.28" cy="572.87" r="0.95" fill="#7f97d0" fill-opacity="0.8"/>
<circle cx="648.74" cy="572.97" r="0.95" fill="#7f97d0" fill-opacity="0.8"/>
<circle cx="654.17" cy="570.93" r="0.95" fill="#7f97d0" fill-opacity="0.8"/>
<circle cx="653.55" cy="576.04" r="0.95" fill="#7f97d0" fill-opacity="0.8"/>
<circle cx="648.27" cy="577.05" r="0.95" fill="#7f97d0" fill-opacity="0.8"/>
<circle cx="649.22" cy="585.87" r="0.95" fill="#7f97d0" fill-opacity="0.8"/>
<circle cx="652.75" cy="572.32" r="0.95" fill="#7f97d0" fill-opacity="0.8"/>
<circle cx="648.63" cy="570.06" r="0.95" fill="#7f97d0" fill-opacity="0.8"/>
<circle cx="658.93" cy="584.28" r="0.95" fill="#7f97d0" fill-opacity="0.8"/>
<circle cx="651.4" cy="572.04" r="0.95" fill="#7f97d0" fill-opacity="0.8"/>
<circle cx="659.31" cy="577.21" r="0.95" fill="#7f97d0" fill-opacity="0.8"/>
<circle cx="657.45" cy="576.76" r="0.95" fill="#7f97d0" fill-opacity="0.8"/>
<circle cx="647.95" cy="575.32" r="0.95" fill="#7f97d0" fill-opacity="0.8"/>
<circle cx="649.17" cy="573.91" r="0.95" fill="#7f97d0" fill-opacity="0.8"/>
<circle cx="657.06" cy="574.11" r="0.95" fill="#7f97d0" fill-opacity="0.8"/>
<circle cx="661.53" cy="586.39" r="0.95" fill="#7f97d0" fill-opacity="0.8"/>
<circle cx="659.15" cy="575.26" r="0.95" fill="#7f97d0" fill-opacity="0.8"/>
<circle cx="648.38" cy="565.48" r="0.95" fill="#7f97d0" fill-opacity="0.8"/>
<circle cx="649.13" cy="584.37" r="0.95" fill="#7f97d0" fill-opacity="0.8"/>
<circle cx="659.8" cy="582.58" r="0.95" fill="#7f97d0" fill-opacity="0.8"/>
<circle cx="657.42" cy="578.82" r="0.95" fill="#7f97d0" fill-opacity="0.8"/>
<circle cx="658.26" cy="587.12" r="0.95" fill="#7f97d0" fill-opacity="0.8"/>
<circle cx="655.65" cy="568.44" r="0.95" fill="#7f97d0" fill-opacity="0.8"/>
<circle cx="653.71" cy="581.8" r="0.95" fill="#7f97d0" fill-opacity="0.8"/>
<circle cx="658.81" cy="572.95" r="0.95" fill="#7f97d0" fill-opacity="0.8"/>
<circle cx="657.99" cy="575.96" r="0.95" fill="#7f97d0" fill-opacity="0.8"/>
<circle cx="657.85" cy="572.81" r="0.95" fill="#7f97d0" fill-opacity="0.8"/>
<circle cx="657.85" cy="578.28" r="0.95" fill="#7f97d0" fill-opacity="0.8"/>
<circle cx="654.44" cy="575.4" r="0.95" fill="#7f97d0" fill-opacity="0.8"/>
<circle cx="649.26" cy="572.91" r="0.95" fill="#7f97d0" fill-opacity="0.8"/>
<circle cx="660.2" cy="571.93" r="0.95" fill="#7f97d0" fill-opacity="0.8"/>
<circle cx="660.46" cy="579.34" r="0.95" fill="#7f97d0" fill-opacity="0.8"/>
<circle cx="653.08" cy="582.63" r="0.95" fill="#7f97d0" fill-opacity="0.8"/>
<circle cx="653.49" cy="581.13" r="0.95" fill="#7f97d0" fill-opacity="0.8"/>
<circle cx="655.86" cy="589.09" r="0.95" fill="#7f97d0" fill-opacity="0.8"/>
<circle cx="651.27" cy="569.76" r="0.95" fill="#7f97d0" fill-opacity="0.8"/>
<circle cx="650.04" cy="572.35" r="0.95" fill="#7f97d0" fill-opacity="0.8"/>
<circle cx="651.12" cy="576.22" r="0.95" fill="#7f97d0" fill-opacity="0.8"/>
<circle cx="655.77" cy="585.84" r="0.95" fill="#7f97d0" fill-opacity="0.8"/>
<circle cx="658.84" cy="575.97" r="0.95" fill="#7f97d0" fill-opacity="0.8"/>
<circle cx="650.53" cy="574.24" r="0.95" fill="#7f97d0" fill-opacity="0.8"/>
<circle cx="649.01" cy="581.17" r="0.95" fill="#7f97d0" fill-opacity="0.8"/>
<circle cx="648.24" cy="588.88" r="0.95" fill="#7f97d0" fill-opacity="0.8"/>
<circle cx="660.41" cy="586.43" r="0.95" fill="#7f97d0" fill-opacity="0.8"/>
<circle cx="659.51" cy="578.82" r="0.95" fill="#7f97d0" fill-opacity="0.8"/>
<circle cx="656.89" cy="574.9" r="0.95" fill="#7f97d0" fill-opacity="0.8"/>
<circle cx="652.74" cy="567.42" r="0.95" fill="#7f97d0" fill-opacity="0.8"/>
<circle cx="659.6" cy="577.73" r="0.95" fill="#7f97d0" fill-opacity="0.8"/>
<circle cx="659.31" cy="574.86" r="0.95" fill="#7f97d0" fill-opacity="0.8"/>
<circle cx="659.5" cy="623.41" r="0.75" fill="#7f97d0"/>
<circle cx="659.8" cy="600.8" r="0.75" fill="#7f97d0"/>
<rect x="565.5" y="551.4" width="118.9" height="82.6" fill="none" stroke="#4d4d4d" stroke-width="0.7"/>
<line x1="563" y1="561.22" x2="565.5" y2="561.22" stroke="#333" stroke-width="0.6"/>
<text x="558.9" y="563.72" text-anchor="end" font-size="7.1">1.2</text>
<line x1="563" y1="571.5" x2="565.5" y2="571.5" stroke="#333" stroke-width="0.6"/>
<text x="558.9" y="574" text-anchor="end" font-size="7.1">1.0</text>
<line x1="563" y1="581.78" x2="565.5" y2="581.78" stroke="#333" stroke-width="0.6"/>
<text x="558.9" y="584.28" text-anchor="end" font-size="7.1">0.8</text>
<line x1="563" y1="592.06" x2="565.5" y2="592.06" stroke="#333" stroke-width="0.6"/>
<text x="558.9" y="594.56" text-anchor="end" font-size="7.1">0.6</text>
<line x1="563" y1="602.34" x2="565.5" y2="602.34" stroke="#333" stroke-width="0.6"/>
<text x="558.9" y="604.84" text-anchor="end" font-size="7.1">0.4</text>
<line x1="563" y1="612.62" x2="565.5" y2="612.62" stroke="#333" stroke-width="0.6"/>
<text x="558.9" y="615.12" text-anchor="end" font-size="7.1">0.2</text>
<line x1="563" y1="622.9" x2="565.5" y2="622.9" stroke="#333" stroke-width="0.6"/>
<text x="558.9" y="625.4" text-anchor="end" font-size="7.1">0</text>
<line x1="563" y1="633.18" x2="565.5" y2="633.18" stroke="#333" stroke-width="0.6"/>
<text x="558.9" y="635.68" text-anchor="end" font-size="7.1">−0.2</text>
<line x1="595.6" y1="634" x2="595.6" y2="636.5" stroke="#333" stroke-width="0.6"/>
<text x="595.6" y="648.8" text-anchor="middle" textLength="49.4" lengthAdjust="spacingAndGlyphs">Extracellular</text>
<line x1="654.9" y1="634" x2="654.9" y2="636.5" stroke="#333" stroke-width="0.6"/>
<text x="654.9" y="648.8" text-anchor="middle" textLength="47.3" lengthAdjust="spacingAndGlyphs">Intracellular</text>
<line x1="604" y1="561.6" x2="645" y2="561.6" stroke="#9a9a9a" stroke-width="0.8"/>
<text x="624.2" y="562" text-anchor="middle" font-weight="bold" font-size="9">*</text>
<text x="533.2" y="592.9" text-anchor="middle" textLength="62" lengthAdjust="spacingAndGlyphs" transform="rotate(-90 533.2 592.9)">Relative surface</text>
<text x="541.6" y="592.9" text-anchor="middle" textLength="42" lengthAdjust="spacingAndGlyphs" transform="rotate(-90 541.6 592.9)">expression</text>
</svg>
</body></html>
